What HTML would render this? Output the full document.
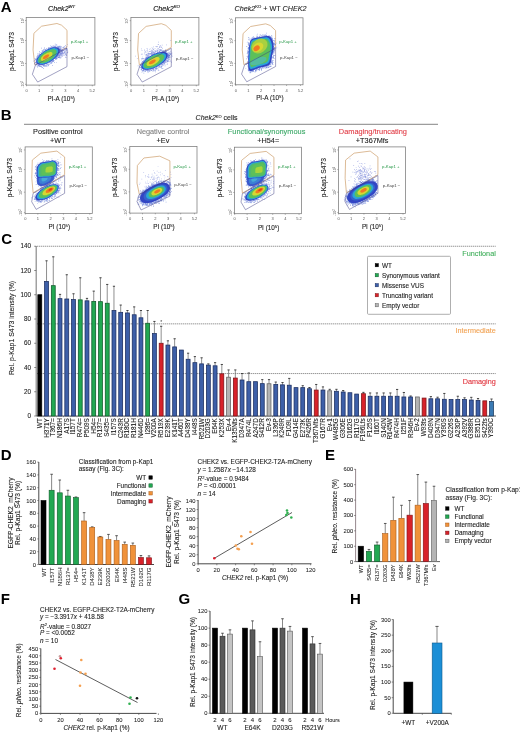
<!DOCTYPE html><html><head><meta charset="utf-8"><style>html,body{margin:0;padding:0;background:#fff}body{width:520px;height:733px;overflow:hidden}svg{display:block;filter:blur(0.25px)}text{font-family:"Liberation Sans",sans-serif}</style></head><body><svg width="520" height="733" viewBox="0 0 520 733"><defs><filter id="bl" x="-20%" y="-20%" width="140%" height="140%"><feGaussianBlur stdDeviation="0.35"/></filter><filter id="bl2" x="-30%" y="-30%" width="160%" height="160%"><feGaussianBlur stdDeviation="0.55"/></filter></defs><line x1="38.8" y1="462" x2="38.8" y2="564.5" stroke="#333" stroke-width="0.9"/><line x1="38.8" y1="564.5" x2="154" y2="564.5" stroke="#333" stroke-width="0.9"/><line x1="37.3" y1="564.5" x2="38.8" y2="564.5" stroke="#444" stroke-width="0.6"/><text x="36" y="566.5" font-size="5.8" text-anchor="end" fill="#222" stroke="#222" stroke-width="0.06">0</text><line x1="37.3" y1="551.7" x2="38.8" y2="551.7" stroke="#444" stroke-width="0.6"/><text x="36" y="553.7" font-size="5.8" text-anchor="end" fill="#222" stroke="#222" stroke-width="0.06">20</text><line x1="37.3" y1="538.9" x2="38.8" y2="538.9" stroke="#444" stroke-width="0.6"/><text x="36" y="540.9" font-size="5.8" text-anchor="end" fill="#222" stroke="#222" stroke-width="0.06">40</text><line x1="37.3" y1="526.1" x2="38.8" y2="526.1" stroke="#444" stroke-width="0.6"/><text x="36" y="528.1" font-size="5.8" text-anchor="end" fill="#222" stroke="#222" stroke-width="0.06">60</text><line x1="37.3" y1="513.3" x2="38.8" y2="513.3" stroke="#444" stroke-width="0.6"/><text x="36" y="515.3" font-size="5.8" text-anchor="end" fill="#222" stroke="#222" stroke-width="0.06">80</text><line x1="37.3" y1="500.5" x2="38.8" y2="500.5" stroke="#444" stroke-width="0.6"/><text x="36" y="502.5" font-size="5.8" text-anchor="end" fill="#222" stroke="#222" stroke-width="0.06">100</text><line x1="37.3" y1="487.7" x2="38.8" y2="487.7" stroke="#444" stroke-width="0.6"/><text x="36" y="489.7" font-size="5.8" text-anchor="end" fill="#222" stroke="#222" stroke-width="0.06">120</text><line x1="37.3" y1="474.9" x2="38.8" y2="474.9" stroke="#444" stroke-width="0.6"/><text x="36" y="476.9" font-size="5.8" text-anchor="end" fill="#222" stroke="#222" stroke-width="0.06">140</text><line x1="37.3" y1="462.1" x2="38.8" y2="462.1" stroke="#444" stroke-width="0.6"/><text x="36" y="464.1" font-size="5.8" text-anchor="end" fill="#222" stroke="#222" stroke-width="0.06">160</text><text x="13.3" y="513" font-size="6.6" text-anchor="middle" fill="#222" stroke="#222" stroke-width="0.1" transform="rotate(-90 13.3 513)">EGFP-CHEK2_mCherry</text><text x="20.4" y="513" font-size="6.6" text-anchor="middle" fill="#222" stroke="#222" stroke-width="0.1" transform="rotate(-90 20.4 513)">Rel. p-Kap1 S473 (%)</text><rect x="41" y="500.5" width="5" height="64" fill="#000" stroke="#000" stroke-width="0.6"/><text x="45.5" y="567.5" font-size="6" text-anchor="end" fill="#333" stroke="#333" stroke-width="0.08" transform="rotate(-90 45.5 567.5)">WT</text><line x1="51.62" y1="474.26" x2="51.62" y2="490.26" stroke="#555" stroke-width="0.7"/><line x1="50.32" y1="474.26" x2="52.92" y2="474.26" stroke="#333" stroke-width="0.8"/><rect x="49.12" y="490.26" width="5" height="74.24" fill="#22a852" stroke="#0e5828" stroke-width="0.6"/><text x="53.62" y="567.5" font-size="6" text-anchor="end" fill="#333" stroke="#333" stroke-width="0.08" transform="rotate(-90 53.62 567.5)">I157T</text><line x1="59.74" y1="480.02" x2="59.74" y2="492.82" stroke="#555" stroke-width="0.7"/><line x1="58.44" y1="480.02" x2="61.04" y2="480.02" stroke="#333" stroke-width="0.8"/><rect x="57.24" y="492.82" width="5" height="71.68" fill="#22a852" stroke="#0e5828" stroke-width="0.6"/><text x="61.74" y="567.5" font-size="6" text-anchor="end" fill="#333" stroke="#333" stroke-width="0.08" transform="rotate(-90 61.74 567.5)">N186H</text><line x1="67.86" y1="490.26" x2="67.86" y2="496.02" stroke="#555" stroke-width="0.7"/><line x1="66.56" y1="490.26" x2="69.16" y2="490.26" stroke="#333" stroke-width="0.8"/><rect x="65.36" y="496.02" width="5" height="68.48" fill="#22a852" stroke="#0e5828" stroke-width="0.6"/><text x="69.86" y="567.5" font-size="6" text-anchor="end" fill="#333" stroke="#333" stroke-width="0.08" transform="rotate(-90 69.86 567.5)">R137=</text><line x1="75.98" y1="496.98" x2="75.98" y2="497.62" stroke="#555" stroke-width="0.7"/><line x1="74.68" y1="496.98" x2="77.28" y2="496.98" stroke="#333" stroke-width="0.8"/><rect x="73.48" y="497.62" width="5" height="66.88" fill="#22a852" stroke="#0e5828" stroke-width="0.6"/><text x="77.98" y="567.5" font-size="6" text-anchor="end" fill="#333" stroke="#333" stroke-width="0.08" transform="rotate(-90 77.98 567.5)">H54=</text><line x1="84.1" y1="512.66" x2="84.1" y2="520.98" stroke="#555" stroke-width="0.7"/><line x1="82.8" y1="512.66" x2="85.4" y2="512.66" stroke="#333" stroke-width="0.8"/><rect x="81.6" y="520.98" width="5" height="43.52" fill="#f0923a" stroke="#a85a18" stroke-width="0.6"/><text x="86.1" y="567.5" font-size="6" text-anchor="end" fill="#333" stroke="#333" stroke-width="0.08" transform="rotate(-90 86.1 567.5)">K141T</text><line x1="92.22" y1="526.87" x2="92.22" y2="527.38" stroke="#555" stroke-width="0.7"/><line x1="90.92" y1="526.87" x2="93.52" y2="526.87" stroke="#333" stroke-width="0.8"/><rect x="89.72" y="527.38" width="5" height="37.12" fill="#f0923a" stroke="#a85a18" stroke-width="0.6"/><text x="94.22" y="567.5" font-size="6" text-anchor="end" fill="#333" stroke="#333" stroke-width="0.08" transform="rotate(-90 94.22 567.5)">D438Y</text><line x1="100.34" y1="536.47" x2="100.34" y2="536.98" stroke="#555" stroke-width="0.7"/><line x1="99.04" y1="536.47" x2="101.64" y2="536.47" stroke="#333" stroke-width="0.8"/><rect x="97.84" y="536.98" width="5" height="27.52" fill="#f0923a" stroke="#a85a18" stroke-width="0.6"/><text x="102.34" y="567.5" font-size="6" text-anchor="end" fill="#333" stroke="#333" stroke-width="0.08" transform="rotate(-90 102.34 567.5)">E239K</text><line x1="108.46" y1="534.42" x2="108.46" y2="539.54" stroke="#555" stroke-width="0.7"/><line x1="107.16" y1="534.42" x2="109.76" y2="534.42" stroke="#333" stroke-width="0.8"/><rect x="105.96" y="539.54" width="5" height="24.96" fill="#f0923a" stroke="#a85a18" stroke-width="0.6"/><text x="110.46" y="567.5" font-size="6" text-anchor="end" fill="#333" stroke="#333" stroke-width="0.08" transform="rotate(-90 110.46 567.5)">D203G</text><line x1="116.58" y1="535.7" x2="116.58" y2="540.5" stroke="#555" stroke-width="0.7"/><line x1="115.28" y1="535.7" x2="117.88" y2="535.7" stroke="#333" stroke-width="0.8"/><rect x="114.08" y="540.5" width="5" height="24" fill="#f0923a" stroke="#a85a18" stroke-width="0.6"/><text x="118.58" y="567.5" font-size="6" text-anchor="end" fill="#333" stroke="#333" stroke-width="0.08" transform="rotate(-90 118.58 567.5)">E64K</text><line x1="124.7" y1="542.1" x2="124.7" y2="544.34" stroke="#555" stroke-width="0.7"/><line x1="123.4" y1="542.1" x2="126" y2="542.1" stroke="#333" stroke-width="0.8"/><rect x="122.2" y="544.34" width="5" height="20.16" fill="#f0923a" stroke="#a85a18" stroke-width="0.6"/><text x="126.7" y="567.5" font-size="6" text-anchor="end" fill="#333" stroke="#333" stroke-width="0.08" transform="rotate(-90 126.7 567.5)">I448S</text><line x1="132.82" y1="543.06" x2="132.82" y2="545.3" stroke="#555" stroke-width="0.7"/><line x1="131.52" y1="543.06" x2="134.12" y2="543.06" stroke="#333" stroke-width="0.8"/><rect x="130.32" y="545.3" width="5" height="19.2" fill="#f0923a" stroke="#a85a18" stroke-width="0.6"/><text x="134.82" y="567.5" font-size="6" text-anchor="end" fill="#333" stroke="#333" stroke-width="0.08" transform="rotate(-90 134.82 567.5)">R521W</text><line x1="140.94" y1="555.54" x2="140.94" y2="557.46" stroke="#555" stroke-width="0.7"/><line x1="139.64" y1="555.54" x2="142.24" y2="555.54" stroke="#333" stroke-width="0.8"/><rect x="138.44" y="557.46" width="5" height="7.04" fill="#d8222a" stroke="#7a1216" stroke-width="0.6"/><text x="142.94" y="567.5" font-size="6" text-anchor="end" fill="#333" stroke="#333" stroke-width="0.08" transform="rotate(-90 142.94 567.5)">D162G</text><line x1="149.06" y1="555.86" x2="149.06" y2="557.78" stroke="#555" stroke-width="0.7"/><line x1="147.76" y1="555.86" x2="150.36" y2="555.86" stroke="#333" stroke-width="0.8"/><rect x="146.56" y="557.78" width="5" height="6.72" fill="#d8222a" stroke="#7a1216" stroke-width="0.6"/><text x="151.06" y="567.5" font-size="6" text-anchor="end" fill="#333" stroke="#333" stroke-width="0.08" transform="rotate(-90 151.06 567.5)">R117G</text><text x="78.8" y="463.6" font-size="6.4" fill="#222" stroke="#222" stroke-width="0.1">Classification from p-Kap1</text><text x="78.8" y="471.2" font-size="6.4" fill="#222" stroke="#222" stroke-width="0.1">assay (Fig. 3C):</text><text x="146.2" y="479.7" font-size="6.4" text-anchor="end" fill="#222" stroke="#222" stroke-width="0.1">WT</text><rect x="148.9" y="475.8" width="3.4" height="3.4" fill="#000" stroke="#000" stroke-width="0.5"/><text x="146.2" y="487.7" font-size="6.4" text-anchor="end" fill="#222" stroke="#222" stroke-width="0.1">Functional</text><rect x="148.9" y="483.8" width="3.4" height="3.4" fill="#22a852" stroke="#0e5828" stroke-width="0.5"/><text x="146.2" y="495.5" font-size="6.4" text-anchor="end" fill="#222" stroke="#222" stroke-width="0.1">Intermediate</text><rect x="148.9" y="491.6" width="3.4" height="3.4" fill="#f0923a" stroke="#a85a18" stroke-width="0.5"/><text x="146.2" y="503.5" font-size="6.4" text-anchor="end" fill="#222" stroke="#222" stroke-width="0.1">Damaging</text><rect x="148.9" y="499.6" width="3.4" height="3.4" fill="#d8222a" stroke="#7a1216" stroke-width="0.5"/><line x1="198.1" y1="500" x2="198.1" y2="563.8" stroke="#333" stroke-width="0.9"/><line x1="198.1" y1="563.8" x2="311.5" y2="563.8" stroke="#333" stroke-width="0.9"/><line x1="196.6" y1="563.8" x2="198.1" y2="563.8" stroke="#444" stroke-width="0.6"/><text x="195.4" y="565.8" font-size="5.8" text-anchor="end" fill="#222" stroke="#222" stroke-width="0.06">0</text><line x1="196.6" y1="554.76" x2="198.1" y2="554.76" stroke="#444" stroke-width="0.6"/><text x="195.4" y="556.76" font-size="5.8" text-anchor="end" fill="#222" stroke="#222" stroke-width="0.06">20</text><line x1="196.6" y1="545.71" x2="198.1" y2="545.71" stroke="#444" stroke-width="0.6"/><text x="195.4" y="547.71" font-size="5.8" text-anchor="end" fill="#222" stroke="#222" stroke-width="0.06">40</text><line x1="196.6" y1="536.67" x2="198.1" y2="536.67" stroke="#444" stroke-width="0.6"/><text x="195.4" y="538.67" font-size="5.8" text-anchor="end" fill="#222" stroke="#222" stroke-width="0.06">60</text><line x1="196.6" y1="527.63" x2="198.1" y2="527.63" stroke="#444" stroke-width="0.6"/><text x="195.4" y="529.63" font-size="5.8" text-anchor="end" fill="#222" stroke="#222" stroke-width="0.06">80</text><line x1="196.6" y1="518.59" x2="198.1" y2="518.59" stroke="#444" stroke-width="0.6"/><text x="195.4" y="520.59" font-size="5.8" text-anchor="end" fill="#222" stroke="#222" stroke-width="0.06">100</text><line x1="196.6" y1="509.54" x2="198.1" y2="509.54" stroke="#444" stroke-width="0.6"/><text x="195.4" y="511.54" font-size="5.8" text-anchor="end" fill="#222" stroke="#222" stroke-width="0.06">120</text><line x1="196.6" y1="500.5" x2="198.1" y2="500.5" stroke="#444" stroke-width="0.6"/><text x="195.4" y="502.5" font-size="5.8" text-anchor="end" fill="#222" stroke="#222" stroke-width="0.06">140</text><line x1="198.1" y1="563.8" x2="198.1" y2="565.3" stroke="#444" stroke-width="0.6"/><text x="198.1" y="571.8" font-size="5.8" text-anchor="middle" fill="#222" stroke="#222" stroke-width="0.06">0</text><line x1="216.85" y1="563.8" x2="216.85" y2="565.3" stroke="#444" stroke-width="0.6"/><text x="216.85" y="571.8" font-size="5.8" text-anchor="middle" fill="#222" stroke="#222" stroke-width="0.06">20</text><line x1="235.6" y1="563.8" x2="235.6" y2="565.3" stroke="#444" stroke-width="0.6"/><text x="235.6" y="571.8" font-size="5.8" text-anchor="middle" fill="#222" stroke="#222" stroke-width="0.06">40</text><line x1="254.35" y1="563.8" x2="254.35" y2="565.3" stroke="#444" stroke-width="0.6"/><text x="254.35" y="571.8" font-size="5.8" text-anchor="middle" fill="#222" stroke="#222" stroke-width="0.06">60</text><line x1="273.1" y1="563.8" x2="273.1" y2="565.3" stroke="#444" stroke-width="0.6"/><text x="273.1" y="571.8" font-size="5.8" text-anchor="middle" fill="#222" stroke="#222" stroke-width="0.06">80</text><line x1="291.85" y1="563.8" x2="291.85" y2="565.3" stroke="#444" stroke-width="0.6"/><text x="291.85" y="571.8" font-size="5.8" text-anchor="middle" fill="#222" stroke="#222" stroke-width="0.06">100</text><line x1="310.6" y1="563.8" x2="310.6" y2="565.3" stroke="#444" stroke-width="0.6"/><text x="310.6" y="571.8" font-size="5.8" text-anchor="middle" fill="#222" stroke="#222" stroke-width="0.06">120</text><text x="171.3" y="532" font-size="6.6" text-anchor="middle" fill="#222" stroke="#222" stroke-width="0.1" transform="rotate(-90 171.3 532)">EGFP-CHEK2_mCherry</text><text x="178.7" y="532" font-size="6.6" text-anchor="middle" fill="#222" stroke="#222" stroke-width="0.1" transform="rotate(-90 178.7 532)">Rel. p-Kap1 S473 (%)</text><text x="255" y="580.3" font-size="6.4" text-anchor="middle" fill="#222" stroke="#222" stroke-width="0.1"><tspan font-style="italic">CHEK2</tspan> rel. p-Kap1 (%)</text><text x="197.6" y="464.3" font-size="6.4" fill="#222" stroke="#222" stroke-width="0.1">CHEK2 vs. EGFP-CHEK2-T2A-mCherry</text><text x="197.6" y="472.2" font-size="6.4" fill="#222" stroke="#222" stroke-width="0.1"><tspan font-style="italic">y</tspan> = 1.2587<tspan font-style="italic">x</tspan> −14.128</text><text x="197.6" y="481" font-size="6.4" fill="#222" stroke="#222" stroke-width="0.1"><tspan font-style="italic">R</tspan><tspan font-size="4" dy="-2.2">2</tspan><tspan dy="2.2">-value = 0.9484</tspan></text><text x="197.6" y="488" font-size="6.4" fill="#222" stroke="#222" stroke-width="0.1"><tspan font-style="italic">P</tspan> = &lt;0.00001</text><text x="197.6" y="495.5" font-size="6.4" fill="#222" stroke="#222" stroke-width="0.1"><tspan font-style="italic">n</tspan> = 14</text><line x1="214.3" y1="558.3" x2="292" y2="512.5" stroke="#333" stroke-width="0.8"/><circle cx="214.3" cy="558.3" r="1.3" fill="#e02030"/><circle cx="235.8" cy="545.5" r="1.3" fill="#f5a050"/><circle cx="237.5" cy="548.8" r="1.3" fill="#f5a050"/><circle cx="238.8" cy="549.3" r="1.3" fill="#f5a050"/><circle cx="241.3" cy="536.3" r="1.3" fill="#f5a050"/><circle cx="250.5" cy="532" r="1.3" fill="#f5a050"/><circle cx="252" cy="543.8" r="1.3" fill="#f5a050"/><circle cx="287" cy="510.5" r="1.3" fill="#30b050"/><circle cx="287.5" cy="513" r="1.3" fill="#30b050"/><circle cx="286.3" cy="515" r="1.3" fill="#30b050"/><circle cx="291.3" cy="517.5" r="1.3" fill="#30b050"/><line x1="355.6" y1="469" x2="355.6" y2="561.6" stroke="#8a7a80" stroke-width="0.9"/><line x1="355.6" y1="561.6" x2="440" y2="561.6" stroke="#333" stroke-width="0.8"/><line x1="354.1" y1="561.6" x2="355.6" y2="561.6" stroke="#444" stroke-width="0.6"/><text x="353.2" y="563.6" font-size="5.8" text-anchor="end" fill="#222" stroke="#222" stroke-width="0.06">0</text><line x1="354.1" y1="546.22" x2="355.6" y2="546.22" stroke="#444" stroke-width="0.6"/><text x="353.2" y="548.22" font-size="5.8" text-anchor="end" fill="#222" stroke="#222" stroke-width="0.06">100</text><line x1="354.1" y1="530.84" x2="355.6" y2="530.84" stroke="#444" stroke-width="0.6"/><text x="353.2" y="532.84" font-size="5.8" text-anchor="end" fill="#222" stroke="#222" stroke-width="0.06">200</text><line x1="354.1" y1="515.46" x2="355.6" y2="515.46" stroke="#444" stroke-width="0.6"/><text x="353.2" y="517.46" font-size="5.8" text-anchor="end" fill="#222" stroke="#222" stroke-width="0.06">300</text><line x1="354.1" y1="500.08" x2="355.6" y2="500.08" stroke="#444" stroke-width="0.6"/><text x="353.2" y="502.08" font-size="5.8" text-anchor="end" fill="#222" stroke="#222" stroke-width="0.06">400</text><line x1="354.1" y1="484.7" x2="355.6" y2="484.7" stroke="#444" stroke-width="0.6"/><text x="353.2" y="486.7" font-size="5.8" text-anchor="end" fill="#222" stroke="#222" stroke-width="0.06">500</text><line x1="354.1" y1="469.32" x2="355.6" y2="469.32" stroke="#444" stroke-width="0.6"/><text x="353.2" y="471.32" font-size="5.8" text-anchor="end" fill="#222" stroke="#222" stroke-width="0.06">600</text><text x="337" y="516.2" font-size="6.5" text-anchor="middle" fill="#222" stroke="#222" stroke-width="0.1" transform="rotate(-90 337 516.2)">Rel. <tspan font-style="italic">phleo.</tspan> resistance (%)</text><rect x="358.2" y="546.22" width="5.3" height="15.38" fill="#000" stroke="#000" stroke-width="0.6"/><text x="362.65" y="564.6" font-size="5.5" text-anchor="end" fill="#222" stroke="#222" stroke-width="0.04" transform="rotate(-90 362.65 564.6)">WT</text><line x1="368.98" y1="549.45" x2="368.98" y2="551.3" stroke="#555" stroke-width="0.7"/><line x1="367.68" y1="549.45" x2="370.28" y2="549.45" stroke="#333" stroke-width="0.8"/><rect x="366.33" y="551.3" width="5.3" height="10.3" fill="#22a852" stroke="#0e5828" stroke-width="0.6"/><text x="370.78" y="564.6" font-size="5.5" text-anchor="end" fill="#222" stroke="#222" stroke-width="0.04" transform="rotate(-90 370.78 564.6)">S435=</text><line x1="377.11" y1="542.07" x2="377.11" y2="544.99" stroke="#555" stroke-width="0.7"/><line x1="375.81" y1="542.07" x2="378.41" y2="542.07" stroke="#333" stroke-width="0.8"/><rect x="374.46" y="544.99" width="5.3" height="16.61" fill="#22a852" stroke="#0e5828" stroke-width="0.6"/><text x="378.91" y="564.6" font-size="5.5" text-anchor="end" fill="#222" stroke="#222" stroke-width="0.04" transform="rotate(-90 378.91 564.6)">R137=</text><line x1="385.24" y1="523.46" x2="385.24" y2="533.61" stroke="#555" stroke-width="0.7"/><line x1="383.94" y1="523.46" x2="386.54" y2="523.46" stroke="#333" stroke-width="0.8"/><rect x="382.59" y="533.61" width="5.3" height="27.99" fill="#f0923a" stroke="#a85a18" stroke-width="0.6"/><text x="387.04" y="564.6" font-size="5.5" text-anchor="end" fill="#222" stroke="#222" stroke-width="0.04" transform="rotate(-90 387.04 564.6)">D203G</text><line x1="393.37" y1="497.16" x2="393.37" y2="520.38" stroke="#555" stroke-width="0.7"/><line x1="392.07" y1="497.16" x2="394.67" y2="497.16" stroke="#333" stroke-width="0.8"/><rect x="390.72" y="520.38" width="5.3" height="41.22" fill="#f0923a" stroke="#a85a18" stroke-width="0.6"/><text x="395.17" y="564.6" font-size="5.5" text-anchor="end" fill="#222" stroke="#222" stroke-width="0.04" transform="rotate(-90 395.17 564.6)">D438Y</text><line x1="401.5" y1="505.31" x2="401.5" y2="518.38" stroke="#555" stroke-width="0.7"/><line x1="400.2" y1="505.31" x2="402.8" y2="505.31" stroke="#333" stroke-width="0.8"/><rect x="398.85" y="518.38" width="5.3" height="43.22" fill="#f0923a" stroke="#a85a18" stroke-width="0.6"/><text x="403.3" y="564.6" font-size="5.5" text-anchor="end" fill="#222" stroke="#222" stroke-width="0.04" transform="rotate(-90 403.3 564.6)">E64K</text><line x1="409.63" y1="500.54" x2="409.63" y2="515.15" stroke="#555" stroke-width="0.7"/><line x1="408.33" y1="500.54" x2="410.93" y2="500.54" stroke="#333" stroke-width="0.8"/><rect x="406.98" y="515.15" width="5.3" height="46.45" fill="#d8222a" stroke="#7a1216" stroke-width="0.6"/><text x="411.43" y="564.6" font-size="5.5" text-anchor="end" fill="#222" stroke="#222" stroke-width="0.04" transform="rotate(-90 411.43 564.6)">W93fs</text><line x1="417.76" y1="474.55" x2="417.76" y2="505.16" stroke="#555" stroke-width="0.7"/><line x1="416.46" y1="474.55" x2="419.06" y2="474.55" stroke="#333" stroke-width="0.8"/><rect x="415.11" y="505.16" width="5.3" height="56.44" fill="#f0923a" stroke="#a85a18" stroke-width="0.6"/><text x="419.56" y="564.6" font-size="5.5" text-anchor="end" fill="#222" stroke="#222" stroke-width="0.04" transform="rotate(-90 419.56 564.6)">R521W</text><line x1="425.89" y1="482.09" x2="425.89" y2="503.46" stroke="#555" stroke-width="0.7"/><line x1="424.59" y1="482.09" x2="427.19" y2="482.09" stroke="#333" stroke-width="0.8"/><rect x="423.24" y="503.46" width="5.3" height="58.14" fill="#d8222a" stroke="#7a1216" stroke-width="0.6"/><text x="427.69" y="564.6" font-size="5.5" text-anchor="end" fill="#222" stroke="#222" stroke-width="0.04" transform="rotate(-90 427.69 564.6)">T367Mfs</text><line x1="434.02" y1="486.24" x2="434.02" y2="500.39" stroke="#555" stroke-width="0.7"/><line x1="432.72" y1="486.24" x2="435.32" y2="486.24" stroke="#333" stroke-width="0.8"/><rect x="431.37" y="500.39" width="5.3" height="61.21" fill="#b4b4b4" stroke="#606060" stroke-width="0.6"/><text x="435.82" y="564.6" font-size="5.5" text-anchor="end" fill="#222" stroke="#222" stroke-width="0.04" transform="rotate(-90 435.82 564.6)">Ev</text><text x="445.5" y="492.2" font-size="6.6" fill="#222" stroke="#222" stroke-width="0.1">Classification from p-Kap1</text><text x="445.5" y="499.7" font-size="6.6" fill="#222" stroke="#222" stroke-width="0.1">assay (Fig. 3C):</text><rect x="445.6" y="506.8" width="3.4" height="3.4" fill="#000" stroke="#000" stroke-width="0.5"/><text x="454.5" y="510.6" font-size="6.35" fill="#222" stroke="#222" stroke-width="0.1">WT</text><rect x="445.6" y="514.9" width="3.4" height="3.4" fill="#22a852" stroke="#0e5828" stroke-width="0.5"/><text x="454.5" y="518.7" font-size="6.35" fill="#222" stroke="#222" stroke-width="0.1">Functional</text><rect x="445.6" y="523" width="3.4" height="3.4" fill="#f0923a" stroke="#a85a18" stroke-width="0.5"/><text x="454.5" y="526.8" font-size="6.35" fill="#222" stroke="#222" stroke-width="0.1">Intermediate</text><rect x="445.6" y="531.1" width="3.4" height="3.4" fill="#d8222a" stroke="#7a1216" stroke-width="0.5"/><text x="454.5" y="534.9" font-size="6.35" fill="#222" stroke="#222" stroke-width="0.1">Damaging</text><rect x="445.6" y="539.2" width="3.4" height="3.4" fill="#b4b4b4" stroke="#606060" stroke-width="0.5"/><text x="454.5" y="543" font-size="6.35" fill="#222" stroke="#222" stroke-width="0.1">Empty vector</text><line x1="40.8" y1="648.5" x2="40.8" y2="713.4" stroke="#333" stroke-width="0.9"/><line x1="40.8" y1="713.4" x2="156.5" y2="713.4" stroke="#333" stroke-width="0.9"/><line x1="39.3" y1="713.4" x2="40.8" y2="713.4" stroke="#444" stroke-width="0.6"/><text x="38.2" y="715.4" font-size="5.8" text-anchor="end" fill="#222" stroke="#222" stroke-width="0.06">0</text><line x1="39.3" y1="706.2" x2="40.8" y2="706.2" stroke="#444" stroke-width="0.6"/><text x="38.2" y="708.2" font-size="5.8" text-anchor="end" fill="#222" stroke="#222" stroke-width="0.06">50</text><line x1="39.3" y1="699" x2="40.8" y2="699" stroke="#444" stroke-width="0.6"/><text x="38.2" y="701" font-size="5.8" text-anchor="end" fill="#222" stroke="#222" stroke-width="0.06">100</text><line x1="39.3" y1="691.8" x2="40.8" y2="691.8" stroke="#444" stroke-width="0.6"/><text x="38.2" y="693.8" font-size="5.8" text-anchor="end" fill="#222" stroke="#222" stroke-width="0.06">150</text><line x1="39.3" y1="684.6" x2="40.8" y2="684.6" stroke="#444" stroke-width="0.6"/><text x="38.2" y="686.6" font-size="5.8" text-anchor="end" fill="#222" stroke="#222" stroke-width="0.06">200</text><line x1="39.3" y1="677.4" x2="40.8" y2="677.4" stroke="#444" stroke-width="0.6"/><text x="38.2" y="679.4" font-size="5.8" text-anchor="end" fill="#222" stroke="#222" stroke-width="0.06">250</text><line x1="39.3" y1="670.2" x2="40.8" y2="670.2" stroke="#444" stroke-width="0.6"/><text x="38.2" y="672.2" font-size="5.8" text-anchor="end" fill="#222" stroke="#222" stroke-width="0.06">300</text><line x1="39.3" y1="663" x2="40.8" y2="663" stroke="#444" stroke-width="0.6"/><text x="38.2" y="665" font-size="5.8" text-anchor="end" fill="#222" stroke="#222" stroke-width="0.06">350</text><line x1="39.3" y1="655.8" x2="40.8" y2="655.8" stroke="#444" stroke-width="0.6"/><text x="38.2" y="657.8" font-size="5.8" text-anchor="end" fill="#222" stroke="#222" stroke-width="0.06">400</text><line x1="39.3" y1="648.6" x2="40.8" y2="648.6" stroke="#444" stroke-width="0.6"/><text x="38.2" y="650.6" font-size="5.8" text-anchor="end" fill="#222" stroke="#222" stroke-width="0.06">450</text><line x1="40.8" y1="713.4" x2="40.8" y2="714.9" stroke="#444" stroke-width="0.6"/><text x="40.8" y="721.5" font-size="5.8" text-anchor="middle" fill="#222" stroke="#222" stroke-width="0.06">0</text><line x1="60.4" y1="713.4" x2="60.4" y2="714.9" stroke="#444" stroke-width="0.6"/><text x="60.4" y="721.5" font-size="5.8" text-anchor="middle" fill="#222" stroke="#222" stroke-width="0.06">20</text><line x1="80" y1="713.4" x2="80" y2="714.9" stroke="#444" stroke-width="0.6"/><text x="80" y="721.5" font-size="5.8" text-anchor="middle" fill="#222" stroke="#222" stroke-width="0.06">40</text><line x1="99.6" y1="713.4" x2="99.6" y2="714.9" stroke="#444" stroke-width="0.6"/><text x="99.6" y="721.5" font-size="5.8" text-anchor="middle" fill="#222" stroke="#222" stroke-width="0.06">60</text><line x1="119.2" y1="713.4" x2="119.2" y2="714.9" stroke="#444" stroke-width="0.6"/><text x="119.2" y="721.5" font-size="5.8" text-anchor="middle" fill="#222" stroke="#222" stroke-width="0.06">80</text><line x1="138.8" y1="713.4" x2="138.8" y2="714.9" stroke="#444" stroke-width="0.6"/><text x="138.8" y="721.5" font-size="5.8" text-anchor="middle" fill="#222" stroke="#222" stroke-width="0.06">100</text><line x1="158.4" y1="713.4" x2="158.4" y2="714.9" stroke="#444" stroke-width="0.6"/><text x="158.4" y="721.5" font-size="5.8" text-anchor="middle" fill="#222" stroke="#222" stroke-width="0.06">120</text><text x="21.2" y="680.3" font-size="6.45" text-anchor="middle" fill="#222" stroke="#222" stroke-width="0.1" transform="rotate(-90 21.2 680.3)">Rel. <tspan font-style="italic">phleo.</tspan> resistance (%)</text><text x="96.5" y="729.6" font-size="6.4" text-anchor="middle" fill="#222" stroke="#222" stroke-width="0.1"><tspan font-style="italic">CHEK2</tspan> rel. p-Kap1 (%)</text><text x="40" y="611.8" font-size="6.4" fill="#222" stroke="#222" stroke-width="0.1">CHEK2 vs. EGFP-CHEK2-T2A-mCherry</text><text x="40" y="618.8" font-size="6.4" fill="#222" stroke="#222" stroke-width="0.1"><tspan font-style="italic">y</tspan> = −3.3917<tspan font-style="italic">x</tspan> + 418.58</text><text x="40" y="628.5" font-size="6.4" fill="#222" stroke="#222" stroke-width="0.1"><tspan font-style="italic">R</tspan><tspan font-size="4" dy="-2.2">2</tspan><tspan dy="2.2">-value = 0.8027</tspan></text><text x="40" y="635.3" font-size="6.4" fill="#222" stroke="#222" stroke-width="0.1"><tspan font-style="italic">P</tspan> = &lt;0.0052</text><text x="40" y="643" font-size="6.4" fill="#222" stroke="#222" stroke-width="0.1"><tspan font-style="italic">n</tspan> = 10</text><line x1="55.5" y1="659.5" x2="137.5" y2="702.5" stroke="#333" stroke-width="0.8"/><circle cx="60" cy="656.3" r="1.3" fill="#c8a0a0"/><circle cx="60.8" cy="658.3" r="1.3" fill="#e02030"/><circle cx="54.5" cy="668.8" r="1.3" fill="#e02030"/><circle cx="81.3" cy="660" r="1.3" fill="#f5a050"/><circle cx="80.5" cy="672.5" r="1.3" fill="#f5a050"/><circle cx="85.5" cy="673.8" r="1.3" fill="#f5a050"/><circle cx="80" cy="685.8" r="1.3" fill="#f5a050"/><circle cx="130.5" cy="697.5" r="1.3" fill="#30b050"/><circle cx="129.5" cy="703.8" r="1.3" fill="#30b050"/><circle cx="137" cy="698.3" r="1.3" fill="#111"/><line x1="210" y1="611" x2="210" y2="713.3" stroke="#333" stroke-width="0.9"/><line x1="210" y1="713.3" x2="324" y2="713.3" stroke="#333" stroke-width="0.9"/><line x1="208.5" y1="713.3" x2="210" y2="713.3" stroke="#444" stroke-width="0.6"/><text x="207.5" y="715.3" font-size="5.8" text-anchor="end" fill="#222" stroke="#222" stroke-width="0.06">0</text><line x1="208.5" y1="696.27" x2="210" y2="696.27" stroke="#444" stroke-width="0.6"/><text x="207.5" y="698.27" font-size="5.8" text-anchor="end" fill="#222" stroke="#222" stroke-width="0.06">20</text><line x1="208.5" y1="679.23" x2="210" y2="679.23" stroke="#444" stroke-width="0.6"/><text x="207.5" y="681.23" font-size="5.8" text-anchor="end" fill="#222" stroke="#222" stroke-width="0.06">40</text><line x1="208.5" y1="662.2" x2="210" y2="662.2" stroke="#444" stroke-width="0.6"/><text x="207.5" y="664.2" font-size="5.8" text-anchor="end" fill="#222" stroke="#222" stroke-width="0.06">60</text><line x1="208.5" y1="645.17" x2="210" y2="645.17" stroke="#444" stroke-width="0.6"/><text x="207.5" y="647.17" font-size="5.8" text-anchor="end" fill="#222" stroke="#222" stroke-width="0.06">80</text><line x1="208.5" y1="628.13" x2="210" y2="628.13" stroke="#444" stroke-width="0.6"/><text x="207.5" y="630.13" font-size="5.8" text-anchor="end" fill="#222" stroke="#222" stroke-width="0.06">100</text><line x1="208.5" y1="611.1" x2="210" y2="611.1" stroke="#444" stroke-width="0.6"/><text x="207.5" y="613.1" font-size="5.8" text-anchor="end" fill="#222" stroke="#222" stroke-width="0.06">120</text><text x="195.3" y="662" font-size="6.6" text-anchor="middle" fill="#222" stroke="#222" stroke-width="0.1" transform="rotate(-90 195.3 662)">Rel. p-Kap1 S473 intensity (%)</text><rect x="212.5" y="628.13" width="5" height="85.17" fill="#000" stroke="#000" stroke-width="0.6"/><text x="215" y="721.6" font-size="6" text-anchor="middle" fill="#222" stroke="#222" stroke-width="0.08">2</text><line x1="222.5" y1="633.24" x2="222.5" y2="636.22" stroke="#555" stroke-width="0.7"/><line x1="221.2" y1="633.24" x2="223.8" y2="633.24" stroke="#333" stroke-width="0.8"/><rect x="220" y="636.22" width="5" height="77.08" fill="#5a5a5a" stroke="#2a2a2a" stroke-width="0.6"/><text x="222.5" y="721.6" font-size="6" text-anchor="middle" fill="#222" stroke="#222" stroke-width="0.08">4</text><line x1="230" y1="629.84" x2="230" y2="634.09" stroke="#555" stroke-width="0.7"/><line x1="228.7" y1="629.84" x2="231.3" y2="629.84" stroke="#333" stroke-width="0.8"/><rect x="227.5" y="634.09" width="5" height="79.2" fill="#c4c4c4" stroke="#555" stroke-width="0.6"/><text x="230" y="721.6" font-size="6" text-anchor="middle" fill="#222" stroke="#222" stroke-width="0.08">6</text><text x="222.5" y="729.8" font-size="6.6" text-anchor="middle" fill="#222" stroke="#222" stroke-width="0.1">WT</text><rect x="242.5" y="628.13" width="5" height="85.17" fill="#000" stroke="#000" stroke-width="0.6"/><text x="245" y="721.6" font-size="6" text-anchor="middle" fill="#222" stroke="#222" stroke-width="0.08">2</text><line x1="252.5" y1="620.89" x2="252.5" y2="629.84" stroke="#555" stroke-width="0.7"/><line x1="251.2" y1="620.89" x2="253.8" y2="620.89" stroke="#333" stroke-width="0.8"/><rect x="250" y="629.84" width="5" height="83.46" fill="#5a5a5a" stroke="#2a2a2a" stroke-width="0.6"/><text x="252.5" y="721.6" font-size="6" text-anchor="middle" fill="#222" stroke="#222" stroke-width="0.08">4</text><line x1="260" y1="641.76" x2="260" y2="656.66" stroke="#555" stroke-width="0.7"/><line x1="258.7" y1="641.76" x2="261.3" y2="641.76" stroke="#333" stroke-width="0.8"/><rect x="257.5" y="656.66" width="5" height="56.64" fill="#c4c4c4" stroke="#555" stroke-width="0.6"/><text x="260" y="721.6" font-size="6" text-anchor="middle" fill="#222" stroke="#222" stroke-width="0.08">6</text><text x="252.5" y="729.8" font-size="6.6" text-anchor="middle" fill="#222" stroke="#222" stroke-width="0.1">E64K</text><rect x="272.5" y="628.13" width="5" height="85.17" fill="#000" stroke="#000" stroke-width="0.6"/><text x="275" y="721.6" font-size="6" text-anchor="middle" fill="#222" stroke="#222" stroke-width="0.08">2</text><line x1="282.5" y1="618.76" x2="282.5" y2="628.13" stroke="#555" stroke-width="0.7"/><line x1="281.2" y1="618.76" x2="283.8" y2="618.76" stroke="#333" stroke-width="0.8"/><rect x="280" y="628.13" width="5" height="85.17" fill="#5a5a5a" stroke="#2a2a2a" stroke-width="0.6"/><text x="282.5" y="721.6" font-size="6" text-anchor="middle" fill="#222" stroke="#222" stroke-width="0.08">4</text><line x1="290" y1="626.43" x2="290" y2="631.11" stroke="#555" stroke-width="0.7"/><line x1="288.7" y1="626.43" x2="291.3" y2="626.43" stroke="#333" stroke-width="0.8"/><rect x="287.5" y="631.11" width="5" height="82.19" fill="#c4c4c4" stroke="#555" stroke-width="0.6"/><text x="290" y="721.6" font-size="6" text-anchor="middle" fill="#222" stroke="#222" stroke-width="0.08">6</text><text x="282.5" y="729.8" font-size="6.6" text-anchor="middle" fill="#222" stroke="#222" stroke-width="0.1">D203G</text><rect x="302.5" y="628.13" width="5" height="85.17" fill="#000" stroke="#000" stroke-width="0.6"/><text x="305" y="721.6" font-size="6" text-anchor="middle" fill="#222" stroke="#222" stroke-width="0.08">2</text><line x1="312.5" y1="636.65" x2="312.5" y2="643.89" stroke="#555" stroke-width="0.7"/><line x1="311.2" y1="636.65" x2="313.8" y2="636.65" stroke="#333" stroke-width="0.8"/><rect x="310" y="643.89" width="5" height="69.41" fill="#5a5a5a" stroke="#2a2a2a" stroke-width="0.6"/><text x="312.5" y="721.6" font-size="6" text-anchor="middle" fill="#222" stroke="#222" stroke-width="0.08">4</text><line x1="320" y1="643.46" x2="320" y2="654.11" stroke="#555" stroke-width="0.7"/><line x1="318.7" y1="643.46" x2="321.3" y2="643.46" stroke="#333" stroke-width="0.8"/><rect x="317.5" y="654.11" width="5" height="59.19" fill="#c4c4c4" stroke="#555" stroke-width="0.6"/><text x="320" y="721.6" font-size="6" text-anchor="middle" fill="#222" stroke="#222" stroke-width="0.08">6</text><text x="312.5" y="729.8" font-size="6.6" text-anchor="middle" fill="#222" stroke="#222" stroke-width="0.1">R521W</text><text x="325.2" y="721.6" font-size="5.5" fill="#222" stroke="#222" stroke-width="0.04">Hours</text><line x1="393.2" y1="619.3" x2="393.2" y2="713.3" stroke="#333" stroke-width="0.9"/><line x1="393.2" y1="713.3" x2="451.5" y2="713.3" stroke="#333" stroke-width="0.9"/><line x1="391.7" y1="713.3" x2="393.2" y2="713.3" stroke="#444" stroke-width="0.6"/><text x="390.7" y="715.3" font-size="5.8" text-anchor="end" fill="#222" stroke="#222" stroke-width="0.06">0</text><line x1="391.7" y1="697.67" x2="393.2" y2="697.67" stroke="#444" stroke-width="0.6"/><text x="390.7" y="699.67" font-size="5.8" text-anchor="end" fill="#222" stroke="#222" stroke-width="0.06">50</text><line x1="391.7" y1="682.05" x2="393.2" y2="682.05" stroke="#444" stroke-width="0.6"/><text x="390.7" y="684.05" font-size="5.8" text-anchor="end" fill="#222" stroke="#222" stroke-width="0.06">100</text><line x1="391.7" y1="666.42" x2="393.2" y2="666.42" stroke="#444" stroke-width="0.6"/><text x="390.7" y="668.42" font-size="5.8" text-anchor="end" fill="#222" stroke="#222" stroke-width="0.06">150</text><line x1="391.7" y1="650.8" x2="393.2" y2="650.8" stroke="#444" stroke-width="0.6"/><text x="390.7" y="652.8" font-size="5.8" text-anchor="end" fill="#222" stroke="#222" stroke-width="0.06">200</text><line x1="391.7" y1="635.17" x2="393.2" y2="635.17" stroke="#444" stroke-width="0.6"/><text x="390.7" y="637.17" font-size="5.8" text-anchor="end" fill="#222" stroke="#222" stroke-width="0.06">250</text><line x1="391.7" y1="619.55" x2="393.2" y2="619.55" stroke="#444" stroke-width="0.6"/><text x="390.7" y="621.55" font-size="5.8" text-anchor="end" fill="#222" stroke="#222" stroke-width="0.06">300</text><line x1="422.3" y1="713.3" x2="422.3" y2="714.8" stroke="#444" stroke-width="0.6"/><line x1="451.3" y1="713.3" x2="451.3" y2="714.8" stroke="#444" stroke-width="0.6"/><text x="374.6" y="665" font-size="6.6" text-anchor="middle" fill="#222" stroke="#222" stroke-width="0.1" transform="rotate(-90 374.6 665)">Rel. p-Kap1 S473 intensity (%)</text><rect x="403.9" y="682.05" width="9" height="31.25" fill="#000" stroke="#000" stroke-width="0.5"/><line x1="437" y1="626.42" x2="437" y2="642.99" stroke="#555" stroke-width="0.7"/><line x1="435.4" y1="626.42" x2="438.6" y2="626.42" stroke="#333" stroke-width="0.8"/><rect x="432.2" y="642.99" width="9.8" height="70.31" fill="#1c8fd6" stroke="#0e5a8c" stroke-width="0.6"/><text x="408.3" y="724.6" font-size="6.4" text-anchor="middle" fill="#222" stroke="#222" stroke-width="0.1">+WT</text><text x="437.3" y="724.6" font-size="6.4" text-anchor="middle" fill="#222" stroke="#222" stroke-width="0.1">+V200A</text><polygon points="34.72,64.79 33.07,49.9 33.89,33.31 41.59,26.2 56.98,23.49 61.58,25.19 67.01,30.26 67.01,47.19" fill="none" stroke="#d0a474" stroke-width="0.75" stroke-linejoin="round"/><g filter="url(#bl)"><path d="M44.3 63.6h.7v.7h-.7zM41.7 53.5h.7v.7h-.7zM36.0 63.9h.7v.7h-.7zM50.9 61.9h.7v.7h-.7zM44.2 54.4h.7v.7h-.7zM55.6 57.8h.7v.7h-.7zM48.3 48.0h.7v.7h-.7zM59.7 52.6h.7v.7h-.7zM38.2 55.3h.7v.7h-.7zM55.4 47.2h.7v.7h-.7zM44.7 66.4h.7v.7h-.7zM60.7 57.4h.7v.7h-.7zM39.8 57.4h.7v.7h-.7zM57.8 46.2h.7v.7h-.7zM41.4 53.3h.7v.7h-.7zM57.3 52.9h.7v.7h-.7zM47.4 48.7h.7v.7h-.7zM35.8 60.2h.7v.7h-.7zM51.0 60.2h.7v.7h-.7zM56.8 54.8h.7v.7h-.7zM54.0 56.9h.7v.7h-.7zM39.6 65.6h.7v.7h-.7zM50.2 61.9h.7v.7h-.7zM55.9 58.6h.7v.7h-.7zM56.1 57.1h.7v.7h-.7zM54.2 46.3h.7v.7h-.7zM38.3 65.1h.7v.7h-.7zM52.4 61.3h.7v.7h-.7zM56.7 55.7h.7v.7h-.7zM52.1 61.2h.7v.7h-.7zM42.5 62.7h.7v.7h-.7zM36.8 59.5h.7v.7h-.7zM42.3 64.3h.7v.7h-.7zM38.3 55.2h.7v.7h-.7zM54.9 43.8h.7v.7h-.7zM40.2 65.9h.7v.7h-.7zM39.3 55.8h.7v.7h-.7zM56.1 61.9h.7v.7h-.7zM51.0 63.0h.7v.7h-.7zM36.3 58.6h.7v.7h-.7zM34.8 62.3h.7v.7h-.7zM57.2 56.1h.7v.7h-.7zM44.6 52.9h.7v.7h-.7zM44.9 50.1h.7v.7h-.7zM54.7 46.4h.7v.7h-.7zM59.2 54.7h.7v.7h-.7zM37.8 64.5h.7v.7h-.7zM42.0 52.8h.7v.7h-.7zM58.8 47.1h.7v.7h-.7zM59.4 50.1h.7v.7h-.7zM38.6 56.6h.7v.7h-.7zM58.1 51.4h.7v.7h-.7zM41.7 53.4h.7v.7h-.7zM35.8 60.9h.7v.7h-.7zM58.9 46.6h.7v.7h-.7zM35.7 61.7h.7v.7h-.7zM56.1 58.0h.7v.7h-.7zM37.1 56.8h.7v.7h-.7zM41.0 55.1h.7v.7h-.7zM61.0 49.6h.7v.7h-.7zM44.1 52.7h.7v.7h-.7zM58.7 45.8h.7v.7h-.7zM47.7 60.6h.7v.7h-.7zM38.6 65.0h.7v.7h-.7zM58.8 54.1h.7v.7h-.7zM44.3 48.4h.7v.7h-.7zM37.1 59.2h.7v.7h-.7zM57.8 46.6h.7v.7h-.7zM37.9 64.7h.7v.7h-.7zM39.5 54.4h.7v.7h-.7zM38.8 57.5h.7v.7h-.7zM56.9 56.9h.7v.7h-.7zM53.5 60.5h.7v.7h-.7zM47.7 64.1h.7v.7h-.7zM37.4 57.9h.7v.7h-.7zM57.9 54.0h.7v.7h-.7zM48.7 61.6h.7v.7h-.7zM41.3 66.2h.7v.7h-.7zM44.8 52.4h.7v.7h-.7zM59.7 52.0h.7v.7h-.7zM38.3 56.4h.7v.7h-.7zM60.7 49.2h.7v.7h-.7zM36.7 58.0h.7v.7h-.7zM57.2 46.8h.7v.7h-.7zM39.1 64.0h.7v.7h-.7zM50.4 48.8h.7v.7h-.7zM59.4 52.5h.7v.7h-.7zM59.0 52.1h.7v.7h-.7zM46.2 48.2h.7v.7h-.7zM47.6 64.5h.7v.7h-.7zM39.9 55.0h.7v.7h-.7zM42.5 65.4h.7v.7h-.7zM53.1 60.4h.7v.7h-.7zM42.8 53.3h.7v.7h-.7zM52.1 65.2h.7v.7h-.7zM56.1 45.4h.7v.7h-.7zM36.7 59.4h.7v.7h-.7zM37.2 56.3h.7v.7h-.7zM57.3 57.9h.7v.7h-.7zM48.3 48.5h.7v.7h-.7zM48.1 48.5h.7v.7h-.7zM37.3 66.7h.7v.7h-.7zM44.6 51.6h.7v.7h-.7zM38.1 58.0h.7v.7h-.7zM51.5 47.7h.7v.7h-.7zM50.5 59.1h.7v.7h-.7zM41.6 64.2h.7v.7h-.7zM52.2 60.4h.7v.7h-.7zM51.1 47.5h.7v.7h-.7zM47.4 50.2h.7v.7h-.7zM49.5 47.8h.7v.7h-.7zM54.2 62.2h.7v.7h-.7zM45.8 65.8h.7v.7h-.7zM52.1 60.9h.7v.7h-.7zM59.5 55.4h.7v.7h-.7zM39.7 57.3h.7v.7h-.7zM37.9 58.6h.7v.7h-.7zM36.2 61.3h.7v.7h-.7zM41.2 64.3h.7v.7h-.7zM59.3 57.0h.7v.7h-.7zM52.0 48.2h.7v.7h-.7zM41.2 63.8h.7v.7h-.7zM47.9 62.2h.7v.7h-.7zM47.4 64.2h.7v.7h-.7zM56.4 44.1h.7v.7h-.7zM37.5 54.4h.7v.7h-.7zM50.8 49.4h.7v.7h-.7zM40.2 55.1h.7v.7h-.7zM46.5 63.6h.7v.7h-.7zM36.1 59.6h.7v.7h-.7zM56.2 58.7h.7v.7h-.7zM43.0 65.0h.7v.7h-.7zM53.0 59.8h.7v.7h-.7zM58.3 45.9h.7v.7h-.7zM39.0 63.2h.7v.7h-.7zM39.2 57.8h.7v.7h-.7zM35.0 58.9h.7v.7h-.7zM36.8 66.3h.7v.7h-.7zM57.2 47.3h.7v.7h-.7zM33.5 60.8h.7v.7h-.7zM59.2 46.7h.7v.7h-.7zM55.4 57.5h.7v.7h-.7zM49.6 48.1h.7v.7h-.7zM60.5 49.1h.7v.7h-.7zM43.6 49.4h.7v.7h-.7zM53.5 47.8h.7v.7h-.7zM41.5 53.9h.7v.7h-.7zM36.0 62.0h.7v.7h-.7zM49.2 62.3h.7v.7h-.7zM45.7 64.7h.7v.7h-.7zM45.0 50.1h.7v.7h-.7zM59.9 50.2h.7v.7h-.7zM38.8 64.8h.7v.7h-.7zM52.4 60.0h.7v.7h-.7zM51.7 60.7h.7v.7h-.7zM51.6 62.5h.7v.7h-.7zM43.3 53.2h.7v.7h-.7zM59.7 52.7h.7v.7h-.7zM49.6 47.1h.7v.7h-.7zM53.0 59.9h.7v.7h-.7zM44.5 64.6h.7v.7h-.7zM59.3 49.2h.7v.7h-.7zM58.5 57.0h.7v.7h-.7zM57.5 46.4h.7v.7h-.7zM39.4 66.0h.7v.7h-.7zM43.5 49.2h.7v.7h-.7zM61.0 51.4h.7v.7h-.7zM59.0 53.5h.7v.7h-.7zM41.7 50.8h.7v.7h-.7zM51.1 47.3h.7v.7h-.7zM59.9 54.2h.7v.7h-.7zM39.3 64.9h.7v.7h-.7zM56.8 57.1h.7v.7h-.7zM52.8 49.7h.7v.7h-.7zM38.0 61.0h.7v.7h-.7zM49.4 64.0h.7v.7h-.7zM38.9 55.5h.7v.7h-.7zM56.9 55.1h.7v.7h-.7zM36.2 62.2h.7v.7h-.7zM38.4 55.5h.7v.7h-.7zM59.1 48.5h.7v.7h-.7zM37.1 62.2h.7v.7h-.7zM41.8 53.5h.7v.7h-.7zM44.2 47.4h.7v.7h-.7zM55.3 55.4h.7v.7h-.7zM46.9 63.5h.7v.7h-.7zM59.7 46.1h.7v.7h-.7zM48.3 63.9h.7v.7h-.7zM44.9 51.6h.7v.7h-.7zM52.9 61.4h.7v.7h-.7zM51.6 61.1h.7v.7h-.7zM57.8 53.4h.7v.7h-.7zM61.5 53.1h.7v.7h-.7zM45.9 50.8h.7v.7h-.7zM46.4 62.9h.7v.7h-.7zM35.7 64.2h.7v.7h-.7zM40.2 66.0h.7v.7h-.7zM55.2 58.3h.7v.7h-.7zM41.5 63.7h.7v.7h-.7zM38.6 63.9h.7v.7h-.7zM38.5 57.6h.7v.7h-.7zM39.4 63.8h.7v.7h-.7zM52.7 60.3h.7v.7h-.7zM41.5 52.6h.7v.7h-.7zM42.0 51.2h.7v.7h-.7zM42.2 50.7h.7v.7h-.7zM50.5 59.1h.7v.7h-.7zM50.8 48.5h.7v.7h-.7zM58.7 48.8h.7v.7h-.7zM38.7 54.0h.7v.7h-.7zM44.5 64.8h.7v.7h-.7zM59.8 49.8h.7v.7h-.7zM35.2 62.1h.7v.7h-.7zM56.0 56.2h.7v.7h-.7zM55.6 47.8h.7v.7h-.7zM50.9 47.3h.7v.7h-.7zM53.2 46.9h.7v.7h-.7zM41.8 50.2h.7v.7h-.7zM37.4 58.5h.7v.7h-.7zM49.7 60.8h.7v.7h-.7zM55.9 58.6h.7v.7h-.7zM37.0 59.8h.7v.7h-.7zM44.6 64.5h.7v.7h-.7zM44.1 65.9h.7v.7h-.7zM56.7 56.8h.7v.7h-.7zM38.3 56.5h.7v.7h-.7zM37.8 55.6h.7v.7h-.7zM43.6 54.8h.7v.7h-.7zM50.8 61.2h.7v.7h-.7zM45.0 49.3h.7v.7h-.7zM43.9 63.8h.7v.7h-.7zM35.7 64.7h.7v.7h-.7zM50.1 61.0h.7v.7h-.7zM38.1 57.4h.7v.7h-.7zM41.4 52.7h.7v.7h-.7zM56.1 47.4h.7v.7h-.7zM45.8 52.1h.7v.7h-.7zM62.1 51.5h.7v.7h-.7zM44.1 48.8h.7v.7h-.7zM58.7 48.6h.7v.7h-.7zM50.4 60.3h.7v.7h-.7zM51.8 60.4h.7v.7h-.7zM36.4 57.6h.7v.7h-.7zM44.9 50.8h.7v.7h-.7zM50.0 47.2h.7v.7h-.7zM45.7 50.3h.7v.7h-.7zM50.2 63.1h.7v.7h-.7zM48.2 65.0h.7v.7h-.7zM34.5 63.1h.7v.7h-.7zM49.9 59.4h.7v.7h-.7zM49.4 61.9h.7v.7h-.7zM39.0 66.1h.7v.7h-.7zM41.3 47.8h.7v.7h-.7zM38.8 55.8h.7v.7h-.7zM51.4 47.4h.7v.7h-.7zM39.6 53.9h.7v.7h-.7zM57.6 55.7h.7v.7h-.7zM55.5 57.0h.7v.7h-.7zM52.7 45.6h.7v.7h-.7zM36.6 56.1h.7v.7h-.7zM49.6 48.9h.7v.7h-.7zM57.6 47.6h.7v.7h-.7zM44.5 51.4h.7v.7h-.7zM44.2 65.6h.7v.7h-.7zM46.6 65.8h.7v.7h-.7zM34.6 60.4h.7v.7h-.7zM38.5 63.2h.7v.7h-.7zM40.9 54.0h.7v.7h-.7zM58.2 47.0h.7v.7h-.7zM57.4 52.7h.7v.7h-.7zM55.5 46.4h.7v.7h-.7zM40.6 54.0h.7v.7h-.7zM49.1 48.8h.7v.7h-.7zM49.3 47.4h.7v.7h-.7zM59.0 56.1h.7v.7h-.7zM61.0 50.0h.7v.7h-.7zM38.1 55.2h.7v.7h-.7zM37.3 55.1h.7v.7h-.7zM59.5 51.5h.7v.7h-.7zM51.3 46.3h.7v.7h-.7zM48.7 63.4h.7v.7h-.7zM52.4 58.8h.7v.7h-.7zM44.2 51.6h.7v.7h-.7zM53.9 58.1h.7v.7h-.7zM51.1 47.2h.7v.7h-.7zM56.0 57.5h.7v.7h-.7zM51.8 59.7h.7v.7h-.7zM60.5 47.9h.7v.7h-.7zM38.4 57.4h.7v.7h-.7zM61.7 47.1h.7v.7h-.7zM39.0 52.9h.7v.7h-.7zM55.0 45.5h.7v.7h-.7zM53.6 60.1h.7v.7h-.7zM36.8 63.9h.7v.7h-.7zM55.0 58.2h.7v.7h-.7zM47.9 47.7h.7v.7h-.7zM43.5 64.7h.7v.7h-.7zM39.3 54.1h.7v.7h-.7zM52.7 60.1h.7v.7h-.7zM38.6 56.6h.7v.7h-.7zM44.5 62.8h.7v.7h-.7zM53.7 45.6h.7v.7h-.7zM44.3 50.5h.7v.7h-.7zM36.8 63.1h.7v.7h-.7zM58.4 55.4h.7v.7h-.7zM55.9 47.1h.7v.7h-.7zM53.8 47.9h.7v.7h-.7zM58.3 46.8h.7v.7h-.7zM57.2 47.2h.7v.7h-.7zM54.9 46.3h.7v.7h-.7zM47.0 63.4h.7v.7h-.7zM57.8 46.6h.7v.7h-.7zM46.0 65.4h.7v.7h-.7zM56.5 58.6h.7v.7h-.7zM58.8 46.4h.7v.7h-.7zM42.9 53.6h.7v.7h-.7zM46.2 50.1h.7v.7h-.7zM36.2 63.0h.7v.7h-.7zM56.6 45.9h.7v.7h-.7zM40.0 54.6h.7v.7h-.7zM48.5 48.8h.7v.7h-.7zM56.1 56.9h.7v.7h-.7zM35.7 58.4h.7v.7h-.7zM55.1 59.4h.7v.7h-.7zM60.3 47.6h.7v.7h-.7zM35.6 64.1h.7v.7h-.7zM45.7 52.4h.7v.7h-.7zM43.7 65.4h.7v.7h-.7zM52.6 47.0h.7v.7h-.7zM45.4 49.3h.7v.7h-.7zM54.0 46.4h.7v.7h-.7zM46.5 62.9h.7v.7h-.7zM34.6 58.2h.7v.7h-.7zM57.9 57.2h.7v.7h-.7zM41.3 52.2h.7v.7h-.7zM37.5 65.2h.7v.7h-.7zM61.7 47.3h.7v.7h-.7zM36.7 57.2h.7v.7h-.7zM42.9 50.6h.7v.7h-.7zM44.6 50.6h.7v.7h-.7zM52.2 59.4h.7v.7h-.7zM57.7 48.4h.7v.7h-.7zM45.9 63.1h.7v.7h-.7zM59.2 51.8h.7v.7h-.7zM54.1 46.6h.7v.7h-.7zM39.9 64.7h.7v.7h-.7zM54.1 57.7h.7v.7h-.7zM55.6 58.5h.7v.7h-.7zM48.0 51.7h.7v.7h-.7zM58.7 49.7h.7v.7h-.7zM52.2 47.3h.7v.7h-.7zM51.6 45.9h.7v.7h-.7zM39.7 58.5h.7v.7h-.7zM59.7 48.9h.7v.7h-.7zM43.2 51.3h.7v.7h-.7zM34.2 60.4h.7v.7h-.7zM50.7 49.3h.7v.7h-.7zM45.8 50.9h.7v.7h-.7zM53.6 46.2h.7v.7h-.7zM59.1 51.9h.7v.7h-.7zM42.1 52.5h.7v.7h-.7zM45.0 65.6h.7v.7h-.7zM38.1 65.4h.7v.7h-.7zM60.2 48.4h.7v.7h-.7zM56.4 48.2h.7v.7h-.7zM43.4 54.1h.7v.7h-.7zM37.6 55.3h.7v.7h-.7zM56.9 45.7h.7v.7h-.7zM50.5 61.5h.7v.7h-.7zM39.1 51.0h.7v.7h-.7zM57.0 54.5h.7v.7h-.7zM47.7 63.8h.7v.7h-.7zM42.4 53.3h.7v.7h-.7zM39.5 53.8h.7v.7h-.7zM56.1 58.6h.7v.7h-.7zM35.9 61.4h.7v.7h-.7zM43.2 64.8h.7v.7h-.7zM37.6 53.3h.7v.7h-.7zM54.5 46.6h.7v.7h-.7zM55.7 57.1h.7v.7h-.7zM53.1 59.0h.7v.7h-.7zM35.7 59.0h.7v.7h-.7zM39.7 52.0h.7v.7h-.7zM51.2 62.1h.7v.7h-.7zM38.6 65.4h.7v.7h-.7zM52.4 59.1h.7v.7h-.7zM40.8 55.3h.7v.7h-.7zM43.9 48.7h.7v.7h-.7zM43.4 64.0h.7v.7h-.7zM53.6 45.9h.7v.7h-.7zM40.2 64.2h.7v.7h-.7zM46.1 48.9h.7v.7h-.7zM55.0 49.6h.7v.7h-.7zM51.4 48.4h.7v.7h-.7zM37.9 65.0h.7v.7h-.7zM38.0 59.2h.7v.7h-.7zM52.5 46.4h.7v.7h-.7zM47.7 65.5h.7v.7h-.7zM41.2 53.5h.7v.7h-.7zM37.1 59.2h.7v.7h-.7zM54.9 46.7h.7v.7h-.7zM52.6 61.3h.7v.7h-.7zM49.6 61.7h.7v.7h-.7zM50.8 48.5h.7v.7h-.7zM36.3 63.1h.7v.7h-.7zM38.8 56.3h.7v.7h-.7zM38.4 64.2h.7v.7h-.7zM48.7 49.2h.7v.7h-.7zM42.2 52.9h.7v.7h-.7zM42.9 49.8h.7v.7h-.7zM58.9 53.7h.7v.7h-.7zM42.4 64.6h.7v.7h-.7zM36.5 58.9h.7v.7h-.7zM49.3 60.8h.7v.7h-.7zM54.4 58.1h.7v.7h-.7zM39.9 56.9h.7v.7h-.7zM58.8 46.9h.7v.7h-.7zM58.7 53.5h.7v.7h-.7zM34.6 63.9h.7v.7h-.7zM51.2 62.1h.7v.7h-.7zM40.3 54.5h.7v.7h-.7zM60.0 48.9h.7v.7h-.7zM49.6 62.1h.7v.7h-.7zM56.2 56.3h.7v.7h-.7zM56.5 55.4h.7v.7h-.7zM56.3 58.4h.7v.7h-.7zM59.7 45.7h.7v.7h-.7zM61.5 50.1h.7v.7h-.7zM42.3 66.9h.7v.7h-.7zM43.5 65.6h.7v.7h-.7zM37.7 57.3h.7v.7h-.7zM60.6 48.4h.7v.7h-.7zM37.7 62.1h.7v.7h-.7zM36.1 60.4h.7v.7h-.7zM58.5 51.8h.7v.7h-.7zM38.7 55.3h.7v.7h-.7zM58.0 56.7h.7v.7h-.7zM46.8 51.8h.7v.7h-.7zM37.5 57.7h.7v.7h-.7zM38.4 57.6h.7v.7h-.7zM47.5 63.6h.7v.7h-.7zM48.1 47.2h.7v.7h-.7zM50.4 45.6h.7v.7h-.7zM59.6 50.9h.7v.7h-.7zM38.1 66.4h.7v.7h-.7zM42.3 67.2h.7v.7h-.7zM51.9 61.6h.7v.7h-.7zM34.4 62.8h.7v.7h-.7zM41.5 65.5h.7v.7h-.7zM55.3 58.2h.7v.7h-.7zM53.1 61.1h.7v.7h-.7zM52.4 47.4h.7v.7h-.7zM43.5 51.7h.7v.7h-.7zM54.1 47.5h.7v.7h-.7zM42.9 53.9h.7v.7h-.7zM35.7 62.4h.7v.7h-.7zM41.3 65.6h.7v.7h-.7zM34.9 59.2h.7v.7h-.7zM57.4 47.2h.7v.7h-.7zM43.0 65.7h.7v.7h-.7zM44.4 64.9h.7v.7h-.7zM40.5 54.7h.7v.7h-.7zM43.1 68.2h.7v.7h-.7zM39.8 65.0h.7v.7h-.7zM34.1 63.1h.7v.7h-.7zM37.6 64.8h.7v.7h-.7zM53.8 59.9h.7v.7h-.7zM41.1 67.4h.7v.7h-.7zM41.3 65.9h.7v.7h-.7zM46.9 62.3h.7v.7h-.7zM35.7 64.6h.7v.7h-.7zM38.6 62.4h.7v.7h-.7zM40.3 66.3h.7v.7h-.7zM59.4 48.5h.7v.7h-.7zM45.9 63.8h.7v.7h-.7zM53.7 47.9h.7v.7h-.7zM39.7 55.5h.7v.7h-.7zM38.1 56.9h.7v.7h-.7zM55.4 58.9h.7v.7h-.7zM46.1 50.6h.7v.7h-.7z" fill="#3050cc" opacity="0.6"/><path d="M60.06 49.24h0.7v0.7h-0.7zM63.47 52.97h0.7v0.7h-0.7zM58.06 51.1h0.7v0.7h-0.7zM58.1 53.3h0.7v0.7h-0.7zM52.09 50.38h0.7v0.7h-0.7zM56.88 54.23h0.7v0.7h-0.7zM61.72 52.31h0.7v0.7h-0.7zM59.65 57.69h0.7v0.7h-0.7zM62.26 49.04h0.7v0.7h-0.7zM52.56 49.48h0.7v0.7h-0.7zM52.1 54.22h0.7v0.7h-0.7zM62.39 54.14h0.7v0.7h-0.7zM60.46 49.77h0.7v0.7h-0.7zM60.01 57.41h0.7v0.7h-0.7zM54.8 53.8h0.7v0.7h-0.7zM62.05 53.14h0.7v0.7h-0.7zM60.3 53.27h0.7v0.7h-0.7zM64.54 50.26h0.7v0.7h-0.7zM59.6 51.47h0.7v0.7h-0.7zM57.62 51.94h0.7v0.7h-0.7zM60.49 52.38h0.7v0.7h-0.7zM60.22 53.59h0.7v0.7h-0.7zM63.19 53.25h0.7v0.7h-0.7zM61.78 52.2h0.7v0.7h-0.7zM59.12 49.86h0.7v0.7h-0.7zM65.81 54.11h0.7v0.7h-0.7zM64.37 51.99h0.7v0.7h-0.7zM62.2 50.01h0.7v0.7h-0.7zM55.09 55.14h0.7v0.7h-0.7zM61.87 49.79h0.7v0.7h-0.7zM58.7 55.95h0.7v0.7h-0.7zM55.81 58.13h0.7v0.7h-0.7zM65.69 57.25h0.7v0.7h-0.7zM58.71 52.18h0.7v0.7h-0.7zM59.66 52.44h0.7v0.7h-0.7zM60.15 49.69h0.7v0.7h-0.7zM65.08 48.26h0.7v0.7h-0.7zM59.94 53.53h0.7v0.7h-0.7zM59.11 50.88h0.7v0.7h-0.7zM62.61 50.14h0.7v0.7h-0.7zM56.61 52.51h0.7v0.7h-0.7zM61.89 56.34h0.7v0.7h-0.7zM57.96 55.26h0.7v0.7h-0.7zM58.21 51.35h0.7v0.7h-0.7zM60.43 52.57h0.7v0.7h-0.7zM66.1 55.34h0.7v0.7h-0.7zM60 55.76h0.7v0.7h-0.7zM65.93 52.67h0.7v0.7h-0.7zM59.22 54.72h0.7v0.7h-0.7zM61.34 52.57h0.7v0.7h-0.7zM60.94 53.57h0.7v0.7h-0.7zM66.63 53.4h0.7v0.7h-0.7zM61.43 54.4h0.7v0.7h-0.7zM66.43 47.47h0.7v0.7h-0.7zM66.22 46.36h0.7v0.7h-0.7zM64.03 52.54h0.7v0.7h-0.7zM67.43 50.72h0.7v0.7h-0.7zM59.07 49.84h0.7v0.7h-0.7zM57.22 54.87h0.7v0.7h-0.7zM60.06 49.8h0.7v0.7h-0.7zM63 48.88h0.7v0.7h-0.7zM59.48 50.71h0.7v0.7h-0.7zM59.75 47.41h0.7v0.7h-0.7zM62.62 51.41h0.7v0.7h-0.7zM63.26 52.67h0.7v0.7h-0.7zM60.93 54.33h0.7v0.7h-0.7zM64.89 51.2h0.7v0.7h-0.7zM59.58 50.62h0.7v0.7h-0.7zM63.38 47.81h0.7v0.7h-0.7zM60.34 49.64h0.7v0.7h-0.7zM56.55 54.58h0.7v0.7h-0.7zM61.43 51.62h0.7v0.7h-0.7zM63.8 46.55h0.7v0.7h-0.7zM61.45 52.35h0.7v0.7h-0.7zM63.93 47.7h0.7v0.7h-0.7zM64.42 51.35h0.7v0.7h-0.7zM65.18 56.74h0.7v0.7h-0.7zM61.19 50.35h0.7v0.7h-0.7zM59.5 49.31h0.7v0.7h-0.7zM60.03 46.45h0.7v0.7h-0.7zM61.48 52.74h0.7v0.7h-0.7zM65.08 49.53h0.7v0.7h-0.7zM66.39 48.3h0.7v0.7h-0.7zM59.62 46.56h0.7v0.7h-0.7zM57.99 50.15h0.7v0.7h-0.7zM57.71 54.03h0.7v0.7h-0.7zM63.15 50.4h0.7v0.7h-0.7zM61.37 50.67h0.7v0.7h-0.7zM58.2 47.37h0.7v0.7h-0.7zM62.07 54.98h0.7v0.7h-0.7zM66.71 49.32h0.7v0.7h-0.7zM58.53 51.7h0.7v0.7h-0.7zM65.13 51.52h0.7v0.7h-0.7zM59.55 53.05h0.7v0.7h-0.7zM61.09 53.07h0.7v0.7h-0.7zM58.92 48.03h0.7v0.7h-0.7zM62.26 53.45h0.7v0.7h-0.7zM57.25 52.34h0.7v0.7h-0.7zM64.54 49.63h0.7v0.7h-0.7zM60.48 57.51h0.7v0.7h-0.7zM65.35 53.37h0.7v0.7h-0.7zM59.09 56.76h0.7v0.7h-0.7zM54.9 51.81h0.7v0.7h-0.7zM65.22 54.26h0.7v0.7h-0.7zM57.53 50.69h0.7v0.7h-0.7zM60.88 46.23h0.7v0.7h-0.7zM64.3 52.33h0.7v0.7h-0.7zM60.2 53.36h0.7v0.7h-0.7zM64.63 51.53h0.7v0.7h-0.7zM64.53 54.95h0.7v0.7h-0.7zM59.82 52.41h0.7v0.7h-0.7zM60.27 54.74h0.7v0.7h-0.7zM60.31 53.15h0.7v0.7h-0.7zM62.06 51.54h0.7v0.7h-0.7zM67.39 52.24h0.7v0.7h-0.7zM66.32 49.75h0.7v0.7h-0.7zM65.5 52.55h0.7v0.7h-0.7zM59.39 52.82h0.7v0.7h-0.7zM60.99 51.54h0.7v0.7h-0.7zM65.86 48.31h0.7v0.7h-0.7zM54 48.63h0.7v0.7h-0.7zM59.36 50.27h0.7v0.7h-0.7zM61.95 52.96h0.7v0.7h-0.7zM62.71 49.12h0.7v0.7h-0.7zM64.61 54.47h0.7v0.7h-0.7zM65.13 45.06h0.7v0.7h-0.7zM65.93 54.74h0.7v0.7h-0.7zM63.53 46.78h0.7v0.7h-0.7zM60.77 53.34h0.7v0.7h-0.7zM62.48 48.97h0.7v0.7h-0.7zM58.86 54.91h0.7v0.7h-0.7zM57.53 56.57h0.7v0.7h-0.7zM61.78 52.26h0.7v0.7h-0.7zM56.12 51.28h0.7v0.7h-0.7zM63.04 46.98h0.7v0.7h-0.7zM56.99 52.83h0.7v0.7h-0.7zM63.8 52.93h0.7v0.7h-0.7zM59.98 51.33h0.7v0.7h-0.7zM60.22 50.24h0.7v0.7h-0.7zM52.59 56.57h0.7v0.7h-0.7zM62.54 51.66h0.7v0.7h-0.7zM59.34 52.78h0.7v0.7h-0.7zM61.4 51.31h0.7v0.7h-0.7zM64.4 45.92h0.7v0.7h-0.7zM61.69 48.48h0.7v0.7h-0.7zM61.36 55.71h0.7v0.7h-0.7zM57.41 52.32h0.7v0.7h-0.7zM59.97 54.56h0.7v0.7h-0.7zM56.69 48.1h0.7v0.7h-0.7zM63.16 50.07h0.7v0.7h-0.7zM61.07 54.62h0.7v0.7h-0.7zM57.95 51.41h0.7v0.7h-0.7zM62.34 52.43h0.7v0.7h-0.7zM60.3 54.7h0.7v0.7h-0.7zM66.97 44.16h0.7v0.7h-0.7zM66.48 49.21h0.7v0.7h-0.7zM61.77 50.48h0.7v0.7h-0.7zM58.25 48.81h0.7v0.7h-0.7zM60.94 55.26h0.7v0.7h-0.7zM65.49 49.46h0.7v0.7h-0.7zM59.05 50.2h0.7v0.7h-0.7zM58.3 57.38h0.7v0.7h-0.7zM64.04 51.14h0.7v0.7h-0.7zM58.97 49.33h0.7v0.7h-0.7zM66.93 52.22h0.7v0.7h-0.7zM58.65 55.02h0.7v0.7h-0.7zM57.84 54.27h0.7v0.7h-0.7zM57.65 51.38h0.7v0.7h-0.7zM63.64 52.13h0.7v0.7h-0.7zM64.67 48.32h0.7v0.7h-0.7zM61.79 52.72h0.7v0.7h-0.7zM58.51 51.88h0.7v0.7h-0.7zM56.66 53.04h0.7v0.7h-0.7zM63.17 54.79h0.7v0.7h-0.7zM65.58 52.67h0.7v0.7h-0.7zM60 51.28h0.7v0.7h-0.7zM60.39 52.42h0.7v0.7h-0.7zM54.88 55.42h0.7v0.7h-0.7zM55.33 51.72h0.7v0.7h-0.7zM61.23 50.14h0.7v0.7h-0.7zM59.94 53.03h0.7v0.7h-0.7zM66.08 49.34h0.7v0.7h-0.7zM61.44 49.96h0.7v0.7h-0.7zM61.47 50.52h0.7v0.7h-0.7zM62.5 54.02h0.7v0.7h-0.7zM66.76 50.46h0.7v0.7h-0.7z" fill="#3044c4" opacity="0.55"/><g filter="url(#bl2)"><path d="M59.24 48.70C59.52 49.14 59.68 49.67 59.70 50.25C59.72 50.84 59.61 51.50 59.37 52.20C59.13 52.89 58.74 53.65 58.26 54.40C57.77 55.15 57.15 55.95 56.45 56.71C55.75 57.47 54.93 58.25 54.07 58.97C53.20 59.69 52.24 60.40 51.27 61.03C50.30 61.66 49.26 62.25 48.25 62.75C47.24 63.25 46.19 63.68 45.21 64.01C44.23 64.34 43.25 64.58 42.36 64.72C41.48 64.86 40.63 64.90 39.90 64.84C39.17 64.78 38.51 64.61 37.99 64.35C37.47 64.10 37.04 63.73 36.76 63.30C36.48 62.86 36.32 62.33 36.30 61.75C36.28 61.16 36.39 60.50 36.63 59.80C36.87 59.11 37.26 58.35 37.74 57.60C38.23 56.85 38.85 56.05 39.55 55.29C40.25 54.53 41.07 53.75 41.93 53.03C42.80 52.31 43.76 51.60 44.73 50.97C45.70 50.34 46.74 49.75 47.75 49.25C48.76 48.75 49.81 48.32 50.79 47.99C51.77 47.66 52.75 47.42 53.64 47.28C54.52 47.14 55.37 47.10 56.10 47.16C56.83 47.22 57.49 47.39 58.01 47.65C58.53 47.90 58.96 48.27 59.24 48.70Z" fill="#3044c4"/><path d="M57.84 49.53C58.10 49.92 58.24 50.40 58.26 50.93C58.28 51.45 58.18 52.05 57.96 52.68C57.74 53.30 57.40 53.98 56.96 54.66C56.52 55.33 55.96 56.05 55.33 56.74C54.71 57.42 53.97 58.13 53.19 58.77C52.41 59.42 51.54 60.06 50.67 60.63C49.80 61.20 48.86 61.73 47.95 62.17C47.04 62.62 46.10 63.01 45.22 63.31C44.34 63.60 43.45 63.82 42.66 63.95C41.86 64.07 41.10 64.11 40.44 64.05C39.79 64.00 39.19 63.85 38.72 63.62C38.25 63.39 37.87 63.06 37.62 62.67C37.36 62.28 37.22 61.80 37.20 61.27C37.18 60.75 37.28 60.15 37.50 59.52C37.72 58.90 38.06 58.22 38.50 57.54C38.94 56.87 39.50 56.15 40.13 55.46C40.75 54.78 41.49 54.07 42.27 53.43C43.05 52.78 43.92 52.14 44.79 51.57C45.66 51.00 46.60 50.47 47.51 50.03C48.42 49.58 49.36 49.19 50.24 48.89C51.12 48.60 52.01 48.38 52.80 48.25C53.60 48.13 54.36 48.09 55.02 48.15C55.67 48.20 56.27 48.35 56.74 48.58C57.21 48.81 57.59 49.14 57.84 49.53Z" fill="#2aa6d6"/><path d="M56.17 50.53C56.39 50.87 56.52 51.28 56.53 51.74C56.55 52.19 56.46 52.71 56.27 53.25C56.08 53.79 55.79 54.38 55.41 54.97C55.03 55.56 54.54 56.18 54.00 56.77C53.45 57.37 52.81 57.98 52.14 58.54C51.46 59.10 50.71 59.65 49.95 60.14C49.20 60.64 48.39 61.10 47.60 61.48C46.81 61.87 46.00 62.21 45.23 62.47C44.47 62.72 43.70 62.91 43.01 63.02C42.32 63.13 41.66 63.16 41.09 63.11C40.52 63.06 40.01 62.93 39.60 62.73C39.19 62.53 38.86 62.25 38.64 61.91C38.42 61.57 38.30 61.16 38.28 60.70C38.26 60.25 38.35 59.73 38.54 59.19C38.73 58.65 39.03 58.06 39.41 57.47C39.78 56.88 40.27 56.26 40.82 55.67C41.36 55.07 42.00 54.46 42.68 53.90C43.35 53.34 44.10 52.79 44.86 52.30C45.61 51.80 46.43 51.34 47.21 50.96C48.00 50.57 48.82 50.23 49.58 49.97C50.35 49.72 51.11 49.53 51.80 49.42C52.49 49.31 53.15 49.28 53.72 49.33C54.29 49.38 54.81 49.51 55.21 49.71C55.62 49.91 55.95 50.19 56.17 50.53Z" fill="#5cc05a"/><path d="M52.27 52.85C52.41 53.07 52.49 53.34 52.50 53.63C52.51 53.92 52.45 54.25 52.33 54.60C52.21 54.94 52.02 55.32 51.78 55.70C51.54 56.07 51.22 56.47 50.87 56.85C50.53 57.24 50.11 57.63 49.68 57.99C49.25 58.35 48.77 58.70 48.28 59.02C47.80 59.33 47.28 59.63 46.77 59.87C46.27 60.12 45.75 60.34 45.26 60.50C44.77 60.67 44.27 60.79 43.83 60.86C43.39 60.93 42.97 60.95 42.60 60.92C42.24 60.89 41.91 60.80 41.65 60.68C41.38 60.55 41.17 60.37 41.03 60.15C40.89 59.93 40.81 59.66 40.80 59.37C40.79 59.08 40.85 58.75 40.97 58.40C41.09 58.06 41.28 57.68 41.52 57.30C41.76 56.93 42.08 56.53 42.43 56.15C42.77 55.76 43.19 55.37 43.62 55.01C44.05 54.65 44.53 54.30 45.02 53.98C45.50 53.67 46.02 53.37 46.53 53.13C47.03 52.88 47.55 52.66 48.04 52.50C48.53 52.33 49.03 52.21 49.47 52.14C49.91 52.07 50.33 52.05 50.70 52.08C51.06 52.11 51.39 52.20 51.65 52.32C51.92 52.45 52.13 52.63 52.27 52.85Z" fill="#d6d832"/><path d="M48.92 54.84C49.00 54.96 49.04 55.09 49.04 55.25C49.05 55.40 49.02 55.57 48.96 55.75C48.89 55.93 48.80 56.13 48.67 56.32C48.54 56.52 48.38 56.73 48.20 56.92C48.02 57.12 47.80 57.33 47.58 57.51C47.35 57.70 47.10 57.88 46.85 58.05C46.60 58.21 46.33 58.37 46.07 58.49C45.80 58.62 45.53 58.74 45.28 58.82C45.02 58.91 44.77 58.97 44.54 59.01C44.31 59.04 44.09 59.05 43.90 59.04C43.71 59.02 43.54 58.98 43.40 58.91C43.26 58.84 43.15 58.75 43.08 58.64C43.01 58.52 42.97 58.39 42.96 58.23C42.95 58.08 42.98 57.91 43.05 57.73C43.11 57.55 43.21 57.35 43.34 57.16C43.46 56.96 43.62 56.75 43.81 56.56C43.99 56.36 44.20 56.15 44.43 55.97C44.65 55.78 44.90 55.60 45.15 55.43C45.40 55.27 45.68 55.11 45.94 54.99C46.20 54.86 46.47 54.74 46.73 54.66C46.98 54.57 47.24 54.51 47.47 54.47C47.70 54.44 47.92 54.43 48.11 54.44C48.30 54.46 48.47 54.50 48.60 54.57C48.74 54.64 48.85 54.73 48.92 54.84Z" fill="#f07a22"/></g></g><polygon points="35.41,65.13 67.01,48.2 67.01,66.62 37.67,82.05 32.38,74.27" fill="none" stroke="#3a3a80" stroke-width="0.6" stroke-linejoin="round" opacity="0.8"/><rect x="26.2" y="17.4" width="68.7" height="67.7" fill="none" stroke="#7a7a7a" stroke-width="0.75"/><line x1="26.5" y1="85.1" x2="26.5" y2="86.3" stroke="#666" stroke-width="0.5"/><text x="26.5" y="91.8" font-size="4" text-anchor="middle" fill="#555">0</text><line x1="39.2" y1="85.1" x2="39.2" y2="86.3" stroke="#666" stroke-width="0.5"/><text x="39.2" y="91.8" font-size="4" text-anchor="middle" fill="#555">1</text><line x1="52.3" y1="85.1" x2="52.3" y2="86.3" stroke="#666" stroke-width="0.5"/><text x="52.3" y="91.8" font-size="4" text-anchor="middle" fill="#555">2</text><line x1="65.4" y1="85.1" x2="65.4" y2="86.3" stroke="#666" stroke-width="0.5"/><text x="65.4" y="91.8" font-size="4" text-anchor="middle" fill="#555">3</text><line x1="78.2" y1="85.1" x2="78.2" y2="86.3" stroke="#666" stroke-width="0.5"/><text x="78.2" y="91.8" font-size="4" text-anchor="middle" fill="#555">4</text><line x1="92.3" y1="85.1" x2="92.3" y2="86.3" stroke="#666" stroke-width="0.5"/><text x="92.3" y="91.8" font-size="4" text-anchor="middle" fill="#555">5.2</text><line x1="25" y1="20.5" x2="26.2" y2="20.5" stroke="#666" stroke-width="0.5"/><text x="23.6" y="20.5" font-size="3.6" text-anchor="middle" fill="#555" transform="rotate(-90 23.6 20.5)">10<tspan font-size="2.6" dy="-1">4</tspan></text><line x1="25" y1="40.5" x2="26.2" y2="40.5" stroke="#666" stroke-width="0.5"/><text x="23.6" y="40.5" font-size="3.6" text-anchor="middle" fill="#555" transform="rotate(-90 23.6 40.5)">10<tspan font-size="2.6" dy="-1">3</tspan></text><line x1="25" y1="63.5" x2="26.2" y2="63.5" stroke="#666" stroke-width="0.5"/><text x="23.6" y="63.5" font-size="3.6" text-anchor="middle" fill="#555" transform="rotate(-90 23.6 63.5)">10<tspan font-size="2.6" dy="-1">2</tspan></text><line x1="25" y1="84.3" x2="26.2" y2="84.3" stroke="#666" stroke-width="0.5"/><text x="23.6" y="84.3" font-size="3.6" text-anchor="middle" fill="#555" transform="rotate(-90 23.6 84.3)">-10<tspan font-size="2.6" dy="-1">2</tspan></text><text x="70.79" y="42.83" font-size="4.3" fill="#2a9a4a">p-Kap1 +</text><text x="71.61" y="59.42" font-size="4.3" fill="#444">p-Kap1 −</text><text x="13.6" y="51.55" font-size="6.7" text-anchor="middle" fill="#222" stroke="#222" stroke-width="0.1" transform="rotate(-90 13.6 51.55)">p-Kap1 S473</text><text x="61.15" y="100.6" font-size="6.35" text-anchor="middle" fill="#222" stroke="#222" stroke-width="0.1">PI-A (10<tspan font-size="4.2" dy="-2">5</tspan><tspan dy="2">)</tspan></text><polygon points="139.33,64.85 137.7,50 138.52,33.46 146.13,26.38 161.36,23.68 165.92,25.36 171.29,30.43 171.29,47.3" fill="none" stroke="#d0a474" stroke-width="0.75" stroke-linejoin="round"/><g filter="url(#bl)"><path d="M147.0 69.5h.7v.7h-.7zM148.9 69.4h.7v.7h-.7zM152.4 70.6h.7v.7h-.7zM141.3 67.8h.7v.7h-.7zM149.0 57.2h.7v.7h-.7zM159.3 64.5h.7v.7h-.7zM148.8 56.5h.7v.7h-.7zM168.2 56.5h.7v.7h-.7zM154.6 68.8h.7v.7h-.7zM141.0 67.3h.7v.7h-.7zM159.5 51.9h.7v.7h-.7zM166.1 57.8h.7v.7h-.7zM152.0 51.7h.7v.7h-.7zM163.2 62.3h.7v.7h-.7zM157.0 66.0h.7v.7h-.7zM164.0 51.0h.7v.7h-.7zM165.4 52.3h.7v.7h-.7zM155.5 67.9h.7v.7h-.7zM165.6 60.1h.7v.7h-.7zM167.8 57.6h.7v.7h-.7zM147.4 69.6h.7v.7h-.7zM143.5 69.5h.7v.7h-.7zM142.2 61.8h.7v.7h-.7zM154.8 52.0h.7v.7h-.7zM167.7 50.4h.7v.7h-.7zM148.1 69.3h.7v.7h-.7zM162.2 50.0h.7v.7h-.7zM143.7 60.8h.7v.7h-.7zM146.8 57.2h.7v.7h-.7zM147.7 57.3h.7v.7h-.7zM157.0 51.9h.7v.7h-.7zM140.9 67.0h.7v.7h-.7zM143.0 69.6h.7v.7h-.7zM159.6 62.4h.7v.7h-.7zM168.8 59.3h.7v.7h-.7zM150.0 68.9h.7v.7h-.7zM144.4 59.4h.7v.7h-.7zM155.2 51.0h.7v.7h-.7zM156.2 53.2h.7v.7h-.7zM154.4 56.7h.7v.7h-.7zM147.2 59.6h.7v.7h-.7zM147.7 59.2h.7v.7h-.7zM162.9 63.6h.7v.7h-.7zM153.7 70.6h.7v.7h-.7zM141.5 66.2h.7v.7h-.7zM162.2 50.9h.7v.7h-.7zM141.8 64.2h.7v.7h-.7zM150.4 57.0h.7v.7h-.7zM160.2 62.9h.7v.7h-.7zM150.3 68.4h.7v.7h-.7zM149.8 70.5h.7v.7h-.7zM142.6 68.5h.7v.7h-.7zM148.4 58.0h.7v.7h-.7zM167.2 55.1h.7v.7h-.7zM146.9 57.4h.7v.7h-.7zM146.7 69.0h.7v.7h-.7zM143.3 68.9h.7v.7h-.7zM166.2 53.5h.7v.7h-.7zM140.8 66.0h.7v.7h-.7zM142.0 67.6h.7v.7h-.7zM161.2 52.4h.7v.7h-.7zM168.4 58.7h.7v.7h-.7zM156.0 67.3h.7v.7h-.7zM165.9 56.1h.7v.7h-.7zM148.3 57.0h.7v.7h-.7zM154.0 53.3h.7v.7h-.7zM144.6 69.4h.7v.7h-.7zM159.0 50.9h.7v.7h-.7zM144.6 60.5h.7v.7h-.7zM167.1 53.6h.7v.7h-.7zM161.5 68.3h.7v.7h-.7zM143.6 71.3h.7v.7h-.7zM143.0 66.9h.7v.7h-.7zM150.0 56.9h.7v.7h-.7zM162.5 51.4h.7v.7h-.7zM141.1 66.3h.7v.7h-.7zM155.1 70.0h.7v.7h-.7zM163.6 55.5h.7v.7h-.7zM150.0 53.3h.7v.7h-.7zM168.8 57.8h.7v.7h-.7zM144.8 58.5h.7v.7h-.7zM164.9 51.0h.7v.7h-.7zM152.6 54.3h.7v.7h-.7zM153.1 53.4h.7v.7h-.7zM143.4 60.0h.7v.7h-.7zM139.5 66.8h.7v.7h-.7zM161.3 54.3h.7v.7h-.7zM146.9 70.6h.7v.7h-.7zM152.7 68.9h.7v.7h-.7zM166.4 59.9h.7v.7h-.7zM157.9 53.4h.7v.7h-.7zM143.3 61.8h.7v.7h-.7zM160.2 51.9h.7v.7h-.7zM155.1 66.6h.7v.7h-.7zM142.0 70.1h.7v.7h-.7zM169.4 52.8h.7v.7h-.7zM142.3 63.9h.7v.7h-.7zM167.3 53.0h.7v.7h-.7zM143.2 62.3h.7v.7h-.7zM142.0 62.7h.7v.7h-.7zM141.3 68.0h.7v.7h-.7zM151.5 56.8h.7v.7h-.7zM162.4 61.6h.7v.7h-.7zM166.2 56.5h.7v.7h-.7zM159.9 50.5h.7v.7h-.7zM168.2 54.0h.7v.7h-.7zM167.3 58.2h.7v.7h-.7zM161.8 63.8h.7v.7h-.7zM158.9 62.7h.7v.7h-.7zM147.6 70.3h.7v.7h-.7zM156.3 53.3h.7v.7h-.7zM144.8 59.5h.7v.7h-.7zM141.2 64.7h.7v.7h-.7zM153.7 53.0h.7v.7h-.7zM144.2 61.1h.7v.7h-.7zM156.6 66.2h.7v.7h-.7zM161.3 52.9h.7v.7h-.7zM161.7 51.4h.7v.7h-.7zM144.3 60.4h.7v.7h-.7zM145.1 70.7h.7v.7h-.7zM161.1 53.0h.7v.7h-.7zM157.9 65.4h.7v.7h-.7zM169.3 52.7h.7v.7h-.7zM141.1 62.5h.7v.7h-.7zM148.3 69.0h.7v.7h-.7zM144.8 71.0h.7v.7h-.7zM157.6 53.4h.7v.7h-.7zM143.0 61.8h.7v.7h-.7zM154.6 68.7h.7v.7h-.7zM141.6 71.9h.7v.7h-.7zM143.7 62.0h.7v.7h-.7zM158.5 52.0h.7v.7h-.7zM147.4 56.2h.7v.7h-.7zM143.0 63.0h.7v.7h-.7zM162.4 63.1h.7v.7h-.7zM148.6 70.0h.7v.7h-.7zM143.5 70.3h.7v.7h-.7zM149.2 69.3h.7v.7h-.7zM146.2 58.1h.7v.7h-.7zM142.7 61.4h.7v.7h-.7zM159.2 66.1h.7v.7h-.7zM161.4 63.7h.7v.7h-.7zM147.3 55.3h.7v.7h-.7zM163.9 63.5h.7v.7h-.7zM164.8 52.3h.7v.7h-.7zM141.3 65.9h.7v.7h-.7zM153.3 68.4h.7v.7h-.7zM148.2 69.6h.7v.7h-.7zM142.8 68.3h.7v.7h-.7zM147.2 70.7h.7v.7h-.7zM152.6 70.9h.7v.7h-.7zM158.0 65.3h.7v.7h-.7zM164.8 61.1h.7v.7h-.7zM151.1 70.2h.7v.7h-.7zM162.9 52.1h.7v.7h-.7zM166.2 58.9h.7v.7h-.7zM153.3 68.1h.7v.7h-.7zM145.4 58.7h.7v.7h-.7zM166.2 51.4h.7v.7h-.7zM163.1 60.5h.7v.7h-.7zM156.7 51.9h.7v.7h-.7zM165.7 53.4h.7v.7h-.7zM164.6 59.6h.7v.7h-.7zM141.9 61.6h.7v.7h-.7zM161.1 67.3h.7v.7h-.7zM144.2 68.1h.7v.7h-.7zM168.8 51.8h.7v.7h-.7zM153.4 52.3h.7v.7h-.7zM151.9 54.8h.7v.7h-.7zM158.9 51.5h.7v.7h-.7zM170.2 54.4h.7v.7h-.7zM155.4 68.7h.7v.7h-.7zM162.4 52.2h.7v.7h-.7zM160.8 50.0h.7v.7h-.7zM145.9 70.0h.7v.7h-.7zM154.9 69.9h.7v.7h-.7zM153.8 54.0h.7v.7h-.7zM153.9 70.4h.7v.7h-.7zM161.6 65.5h.7v.7h-.7zM162.1 64.2h.7v.7h-.7zM152.7 55.7h.7v.7h-.7zM145.9 58.6h.7v.7h-.7zM152.0 56.4h.7v.7h-.7zM167.1 55.6h.7v.7h-.7zM150.6 53.0h.7v.7h-.7zM169.4 57.3h.7v.7h-.7zM141.0 66.1h.7v.7h-.7zM141.6 65.2h.7v.7h-.7zM171.7 56.0h.7v.7h-.7zM151.6 52.9h.7v.7h-.7zM141.5 65.1h.7v.7h-.7zM156.2 66.5h.7v.7h-.7zM143.8 61.5h.7v.7h-.7zM151.9 55.0h.7v.7h-.7zM143.7 64.7h.7v.7h-.7zM160.9 66.1h.7v.7h-.7zM164.0 50.9h.7v.7h-.7zM153.5 69.3h.7v.7h-.7zM163.9 51.2h.7v.7h-.7zM153.7 54.1h.7v.7h-.7zM141.4 66.7h.7v.7h-.7zM150.3 57.2h.7v.7h-.7zM160.6 64.1h.7v.7h-.7zM144.9 61.8h.7v.7h-.7zM158.2 65.9h.7v.7h-.7zM152.7 53.8h.7v.7h-.7zM155.9 69.3h.7v.7h-.7zM146.9 58.0h.7v.7h-.7zM168.0 52.5h.7v.7h-.7zM140.3 64.1h.7v.7h-.7zM158.3 66.7h.7v.7h-.7zM167.2 57.2h.7v.7h-.7zM141.5 63.3h.7v.7h-.7zM164.3 61.4h.7v.7h-.7zM145.7 69.6h.7v.7h-.7zM164.1 62.8h.7v.7h-.7zM146.2 58.6h.7v.7h-.7zM160.7 51.5h.7v.7h-.7zM163.9 51.0h.7v.7h-.7zM145.2 68.7h.7v.7h-.7zM167.7 57.3h.7v.7h-.7zM140.0 64.9h.7v.7h-.7zM156.5 53.4h.7v.7h-.7zM142.6 58.8h.7v.7h-.7zM158.5 70.2h.7v.7h-.7zM150.5 69.7h.7v.7h-.7zM162.8 62.6h.7v.7h-.7zM147.7 72.3h.7v.7h-.7zM141.9 62.2h.7v.7h-.7zM166.0 61.8h.7v.7h-.7zM139.3 66.8h.7v.7h-.7zM159.9 64.5h.7v.7h-.7zM166.3 57.7h.7v.7h-.7zM164.4 51.7h.7v.7h-.7zM147.1 60.6h.7v.7h-.7zM153.2 55.4h.7v.7h-.7zM147.6 69.5h.7v.7h-.7zM153.1 55.1h.7v.7h-.7zM156.5 68.0h.7v.7h-.7zM163.2 63.7h.7v.7h-.7zM164.2 61.3h.7v.7h-.7zM148.1 69.8h.7v.7h-.7zM163.2 65.4h.7v.7h-.7zM159.0 51.3h.7v.7h-.7zM165.0 51.9h.7v.7h-.7zM163.4 51.8h.7v.7h-.7zM166.6 53.8h.7v.7h-.7zM153.5 53.9h.7v.7h-.7zM167.6 58.9h.7v.7h-.7zM154.8 53.7h.7v.7h-.7zM167.8 58.9h.7v.7h-.7zM169.3 55.3h.7v.7h-.7zM161.5 63.4h.7v.7h-.7zM153.0 55.0h.7v.7h-.7zM164.6 63.7h.7v.7h-.7zM165.6 59.7h.7v.7h-.7zM166.8 53.6h.7v.7h-.7zM147.0 69.4h.7v.7h-.7zM157.3 53.1h.7v.7h-.7zM162.9 62.6h.7v.7h-.7zM162.0 64.7h.7v.7h-.7zM145.2 58.1h.7v.7h-.7zM157.8 63.9h.7v.7h-.7zM145.2 71.1h.7v.7h-.7zM166.0 56.3h.7v.7h-.7zM160.2 50.1h.7v.7h-.7zM144.8 62.0h.7v.7h-.7zM144.7 59.2h.7v.7h-.7zM163.4 51.8h.7v.7h-.7zM142.5 67.8h.7v.7h-.7zM148.0 56.1h.7v.7h-.7zM166.8 64.0h.7v.7h-.7zM145.8 60.8h.7v.7h-.7zM145.5 70.1h.7v.7h-.7zM155.4 51.2h.7v.7h-.7zM146.9 68.9h.7v.7h-.7zM141.0 66.5h.7v.7h-.7zM152.4 69.0h.7v.7h-.7zM144.4 68.1h.7v.7h-.7zM155.4 68.5h.7v.7h-.7zM141.9 61.8h.7v.7h-.7zM159.3 64.9h.7v.7h-.7zM140.1 65.1h.7v.7h-.7zM151.3 70.1h.7v.7h-.7zM162.2 52.8h.7v.7h-.7zM146.4 70.1h.7v.7h-.7zM167.3 55.1h.7v.7h-.7zM142.3 61.0h.7v.7h-.7zM161.0 64.5h.7v.7h-.7zM165.0 60.9h.7v.7h-.7zM157.5 68.0h.7v.7h-.7zM141.0 69.2h.7v.7h-.7zM141.4 68.8h.7v.7h-.7zM149.3 68.6h.7v.7h-.7zM141.7 70.4h.7v.7h-.7zM151.4 56.3h.7v.7h-.7zM160.5 66.1h.7v.7h-.7zM151.3 69.8h.7v.7h-.7zM149.3 71.1h.7v.7h-.7zM164.1 62.2h.7v.7h-.7zM150.9 52.7h.7v.7h-.7zM145.8 60.6h.7v.7h-.7zM161.9 51.6h.7v.7h-.7zM141.3 64.5h.7v.7h-.7zM163.7 52.0h.7v.7h-.7zM168.8 56.3h.7v.7h-.7zM143.5 68.9h.7v.7h-.7zM144.7 59.0h.7v.7h-.7zM150.7 69.1h.7v.7h-.7zM166.6 58.4h.7v.7h-.7zM143.1 60.9h.7v.7h-.7zM168.8 54.9h.7v.7h-.7zM148.8 53.1h.7v.7h-.7zM145.8 69.7h.7v.7h-.7zM163.2 51.8h.7v.7h-.7zM156.4 53.2h.7v.7h-.7zM154.3 68.4h.7v.7h-.7zM165.5 50.3h.7v.7h-.7zM141.9 71.3h.7v.7h-.7zM157.8 69.6h.7v.7h-.7zM143.7 69.8h.7v.7h-.7zM144.6 70.4h.7v.7h-.7zM155.9 53.1h.7v.7h-.7zM164.2 61.8h.7v.7h-.7zM157.5 51.2h.7v.7h-.7zM159.9 67.0h.7v.7h-.7zM151.1 58.4h.7v.7h-.7zM152.3 55.6h.7v.7h-.7zM145.8 68.3h.7v.7h-.7zM166.6 60.5h.7v.7h-.7zM169.0 55.3h.7v.7h-.7zM163.8 50.9h.7v.7h-.7zM160.5 49.0h.7v.7h-.7zM143.5 69.2h.7v.7h-.7zM166.2 53.0h.7v.7h-.7zM168.3 57.6h.7v.7h-.7zM165.0 62.2h.7v.7h-.7zM159.3 51.3h.7v.7h-.7zM153.3 68.7h.7v.7h-.7zM146.2 70.0h.7v.7h-.7zM148.3 71.4h.7v.7h-.7zM162.2 51.0h.7v.7h-.7zM147.4 70.8h.7v.7h-.7zM167.9 54.4h.7v.7h-.7zM152.2 69.0h.7v.7h-.7zM159.3 65.6h.7v.7h-.7zM164.8 50.7h.7v.7h-.7zM141.1 67.0h.7v.7h-.7zM140.1 66.9h.7v.7h-.7zM143.3 58.3h.7v.7h-.7zM164.5 60.1h.7v.7h-.7zM144.3 60.5h.7v.7h-.7zM155.5 68.7h.7v.7h-.7zM162.2 64.2h.7v.7h-.7zM167.9 55.3h.7v.7h-.7zM140.3 67.1h.7v.7h-.7zM163.7 60.3h.7v.7h-.7zM163.1 50.0h.7v.7h-.7zM146.5 61.3h.7v.7h-.7zM146.2 56.8h.7v.7h-.7zM143.3 60.8h.7v.7h-.7zM143.7 62.2h.7v.7h-.7zM143.2 67.7h.7v.7h-.7zM149.2 56.5h.7v.7h-.7zM163.8 62.1h.7v.7h-.7zM146.2 68.8h.7v.7h-.7zM156.5 53.8h.7v.7h-.7zM163.8 60.3h.7v.7h-.7zM140.7 64.6h.7v.7h-.7zM167.5 58.3h.7v.7h-.7zM147.1 58.8h.7v.7h-.7zM164.7 59.8h.7v.7h-.7zM159.9 64.7h.7v.7h-.7zM143.6 68.2h.7v.7h-.7zM145.9 57.4h.7v.7h-.7zM153.1 54.4h.7v.7h-.7zM142.1 63.5h.7v.7h-.7zM165.1 53.0h.7v.7h-.7zM140.7 68.8h.7v.7h-.7zM141.4 58.0h.7v.7h-.7zM149.8 69.2h.7v.7h-.7zM141.4 67.3h.7v.7h-.7zM146.2 59.6h.7v.7h-.7zM148.2 58.0h.7v.7h-.7zM168.7 55.5h.7v.7h-.7zM141.1 69.5h.7v.7h-.7zM151.4 68.3h.7v.7h-.7zM144.5 61.0h.7v.7h-.7zM167.6 60.6h.7v.7h-.7zM167.2 58.5h.7v.7h-.7zM145.6 58.1h.7v.7h-.7zM151.1 57.6h.7v.7h-.7zM167.5 56.4h.7v.7h-.7zM164.2 60.3h.7v.7h-.7zM165.5 51.6h.7v.7h-.7zM146.6 58.1h.7v.7h-.7zM162.5 68.1h.7v.7h-.7zM168.2 54.8h.7v.7h-.7zM146.8 54.6h.7v.7h-.7zM168.5 57.4h.7v.7h-.7zM157.5 67.5h.7v.7h-.7zM150.7 57.0h.7v.7h-.7zM166.7 60.0h.7v.7h-.7zM164.0 62.9h.7v.7h-.7zM142.1 58.0h.7v.7h-.7zM155.1 68.1h.7v.7h-.7zM153.5 69.9h.7v.7h-.7zM151.7 57.9h.7v.7h-.7zM143.5 72.8h.7v.7h-.7zM168.6 56.7h.7v.7h-.7zM142.1 65.5h.7v.7h-.7zM147.1 58.4h.7v.7h-.7zM142.8 67.7h.7v.7h-.7zM161.5 66.3h.7v.7h-.7zM140.5 65.4h.7v.7h-.7zM162.6 62.9h.7v.7h-.7zM157.1 52.5h.7v.7h-.7zM142.8 69.7h.7v.7h-.7zM149.5 57.1h.7v.7h-.7zM149.2 70.3h.7v.7h-.7zM156.9 50.3h.7v.7h-.7zM163.2 51.8h.7v.7h-.7zM152.7 69.0h.7v.7h-.7zM157.2 51.6h.7v.7h-.7zM155.0 71.5h.7v.7h-.7zM164.4 50.8h.7v.7h-.7zM154.3 54.7h.7v.7h-.7zM169.7 53.7h.7v.7h-.7zM153.8 52.7h.7v.7h-.7zM155.1 50.7h.7v.7h-.7zM168.8 56.2h.7v.7h-.7zM168.1 55.6h.7v.7h-.7zM165.6 50.6h.7v.7h-.7zM168.4 55.8h.7v.7h-.7zM168.4 55.7h.7v.7h-.7zM166.5 57.6h.7v.7h-.7zM156.4 66.5h.7v.7h-.7zM160.9 66.1h.7v.7h-.7zM161.9 63.9h.7v.7h-.7zM151.8 53.8h.7v.7h-.7zM151.4 67.2h.7v.7h-.7zM167.6 56.0h.7v.7h-.7zM163.2 50.9h.7v.7h-.7zM151.7 57.6h.7v.7h-.7zM155.8 54.2h.7v.7h-.7zM152.5 68.2h.7v.7h-.7zM167.0 61.0h.7v.7h-.7zM170.0 54.2h.7v.7h-.7zM147.2 59.3h.7v.7h-.7zM155.7 67.8h.7v.7h-.7zM170.7 53.5h.7v.7h-.7zM148.5 55.1h.7v.7h-.7zM156.0 52.9h.7v.7h-.7zM151.9 55.3h.7v.7h-.7zM169.6 53.2h.7v.7h-.7zM148.2 58.1h.7v.7h-.7zM137.8 65.6h.7v.7h-.7zM157.0 51.8h.7v.7h-.7zM157.8 52.9h.7v.7h-.7zM158.9 66.7h.7v.7h-.7zM140.6 68.9h.7v.7h-.7zM143.6 61.5h.7v.7h-.7zM150.9 54.6h.7v.7h-.7zM141.9 63.9h.7v.7h-.7zM164.4 51.7h.7v.7h-.7zM158.3 66.9h.7v.7h-.7zM141.3 67.7h.7v.7h-.7zM165.1 57.5h.7v.7h-.7zM162.6 62.8h.7v.7h-.7zM159.3 66.0h.7v.7h-.7zM153.3 70.4h.7v.7h-.7zM164.6 60.5h.7v.7h-.7zM165.2 61.1h.7v.7h-.7zM163.4 51.0h.7v.7h-.7zM142.8 70.2h.7v.7h-.7zM159.0 66.8h.7v.7h-.7zM156.2 68.2h.7v.7h-.7zM167.0 53.0h.7v.7h-.7zM164.7 65.6h.7v.7h-.7zM144.4 58.4h.7v.7h-.7z" fill="#3050cc" opacity="0.6"/><path d="M156.35 49.81h0.7v0.7h-0.7zM156.3 51.08h0.7v0.7h-0.7zM145.4 52h0.7v0.7h-0.7zM160.63 46.14h0.7v0.7h-0.7zM143.91 60.4h0.7v0.7h-0.7zM145.72 51.85h0.7v0.7h-0.7zM156.94 46.07h0.7v0.7h-0.7zM147.58 56.45h0.7v0.7h-0.7zM149.45 59.61h0.7v0.7h-0.7zM155.46 57.29h0.7v0.7h-0.7zM152.88 51.24h0.7v0.7h-0.7zM147.7 52.89h0.7v0.7h-0.7zM148.8 52.93h0.7v0.7h-0.7zM155.55 46.34h0.7v0.7h-0.7zM143.96 49.47h0.7v0.7h-0.7zM161.46 46.88h0.7v0.7h-0.7zM151.85 51.41h0.7v0.7h-0.7zM158.71 49.26h0.7v0.7h-0.7zM157.22 48.61h0.7v0.7h-0.7zM151.17 51.73h0.7v0.7h-0.7zM141.34 59.48h0.7v0.7h-0.7zM140.94 53.91h0.7v0.7h-0.7zM156.31 49.64h0.7v0.7h-0.7zM158.96 52.96h0.7v0.7h-0.7zM165.27 49.12h0.7v0.7h-0.7zM152.73 56.81h0.7v0.7h-0.7zM146.33 53.91h0.7v0.7h-0.7zM158.1 48.07h0.7v0.7h-0.7zM150.86 51.06h0.7v0.7h-0.7zM158.05 41.87h0.7v0.7h-0.7zM161.19 50.14h0.7v0.7h-0.7zM152.13 52.99h0.7v0.7h-0.7zM147.03 56.88h0.7v0.7h-0.7zM170.44 40.36h0.7v0.7h-0.7zM160.8 47.24h0.7v0.7h-0.7zM149.34 51.4h0.7v0.7h-0.7zM149.47 49.23h0.7v0.7h-0.7zM145.14 59.28h0.7v0.7h-0.7zM152.47 52.8h0.7v0.7h-0.7zM154.47 51.66h0.7v0.7h-0.7zM141.32 53.86h0.7v0.7h-0.7zM157.07 51.89h0.7v0.7h-0.7zM144.13 53.58h0.7v0.7h-0.7zM145.91 56.14h0.7v0.7h-0.7zM154.22 50.56h0.7v0.7h-0.7zM148.24 54.2h0.7v0.7h-0.7zM151.42 49.72h0.7v0.7h-0.7zM153.41 49.01h0.7v0.7h-0.7zM158.7 50.1h0.7v0.7h-0.7zM148.26 54.86h0.7v0.7h-0.7zM151.68 49.7h0.7v0.7h-0.7zM144.44 50.44h0.7v0.7h-0.7zM145.19 55.63h0.7v0.7h-0.7zM159 46.5h0.7v0.7h-0.7zM153.38 51.81h0.7v0.7h-0.7zM157.42 50.19h0.7v0.7h-0.7zM160.59 49.61h0.7v0.7h-0.7zM147.59 54.65h0.7v0.7h-0.7zM136.95 58.02h0.7v0.7h-0.7zM152.74 52.75h0.7v0.7h-0.7zM150.97 54.28h0.7v0.7h-0.7zM159.49 45.69h0.7v0.7h-0.7zM148.83 53.7h0.7v0.7h-0.7zM155.26 50.38h0.7v0.7h-0.7zM156.02 46.36h0.7v0.7h-0.7zM158.15 51.85h0.7v0.7h-0.7zM159.49 49.18h0.7v0.7h-0.7zM150.92 53.11h0.7v0.7h-0.7zM149.85 48.13h0.7v0.7h-0.7zM148.12 53.2h0.7v0.7h-0.7zM147.74 50.91h0.7v0.7h-0.7zM150.14 51.34h0.7v0.7h-0.7zM152.39 51.19h0.7v0.7h-0.7zM154.14 53.24h0.7v0.7h-0.7zM153.3 52.02h0.7v0.7h-0.7zM141.13 48.44h0.7v0.7h-0.7zM150.18 54.22h0.7v0.7h-0.7zM149.19 51.09h0.7v0.7h-0.7zM145.08 57.19h0.7v0.7h-0.7zM148.91 53.62h0.7v0.7h-0.7zM159.74 49.37h0.7v0.7h-0.7zM166.09 44.56h0.7v0.7h-0.7zM158.8 50.24h0.7v0.7h-0.7zM147.89 53.55h0.7v0.7h-0.7zM147.33 50.85h0.7v0.7h-0.7zM153.08 48.86h0.7v0.7h-0.7zM161.87 44.85h0.7v0.7h-0.7zM148.64 53.32h0.7v0.7h-0.7zM148.77 53.16h0.7v0.7h-0.7zM146.64 50.08h0.7v0.7h-0.7zM135.33 55.71h0.7v0.7h-0.7zM162.12 48.01h0.7v0.7h-0.7zM152.48 49.99h0.7v0.7h-0.7zM151.39 52.61h0.7v0.7h-0.7zM142.34 53.8h0.7v0.7h-0.7zM147.68 56.99h0.7v0.7h-0.7zM146.54 57.28h0.7v0.7h-0.7zM151.93 59.05h0.7v0.7h-0.7zM151.54 51.81h0.7v0.7h-0.7zM161.49 49.49h0.7v0.7h-0.7zM156.83 46.3h0.7v0.7h-0.7zM160.98 51.95h0.7v0.7h-0.7zM150.84 50.71h0.7v0.7h-0.7zM146.15 57.03h0.7v0.7h-0.7zM153.87 50.65h0.7v0.7h-0.7zM145.88 58.83h0.7v0.7h-0.7zM157.53 48.87h0.7v0.7h-0.7zM160.36 44.98h0.7v0.7h-0.7zM156.54 46.63h0.7v0.7h-0.7zM160.66 46.7h0.7v0.7h-0.7zM159.32 46.94h0.7v0.7h-0.7zM155.74 52.91h0.7v0.7h-0.7zM146.38 54.39h0.7v0.7h-0.7zM147.58 55.91h0.7v0.7h-0.7zM147.78 52.44h0.7v0.7h-0.7zM151.94 54.74h0.7v0.7h-0.7zM145.37 54.52h0.7v0.7h-0.7zM149.33 51.23h0.7v0.7h-0.7zM146.84 53.47h0.7v0.7h-0.7zM151.61 47.41h0.7v0.7h-0.7zM152.23 48.12h0.7v0.7h-0.7zM154.5 56.62h0.7v0.7h-0.7zM145.79 54.21h0.7v0.7h-0.7zM151.42 54.48h0.7v0.7h-0.7zM147.1 48.86h0.7v0.7h-0.7zM141.97 56.67h0.7v0.7h-0.7zM154.73 53.17h0.7v0.7h-0.7zM149.3 54.6h0.7v0.7h-0.7zM146.62 57.58h0.7v0.7h-0.7zM150.83 50.17h0.7v0.7h-0.7zM154.97 54.92h0.7v0.7h-0.7zM145.31 51.2h0.7v0.7h-0.7zM144.34 51.89h0.7v0.7h-0.7zM152.05 52.44h0.7v0.7h-0.7zM151.17 52.43h0.7v0.7h-0.7zM159.21 47.34h0.7v0.7h-0.7zM141.64 50.03h0.7v0.7h-0.7zM152.82 49.24h0.7v0.7h-0.7zM150.85 53.16h0.7v0.7h-0.7zM153.28 46.58h0.7v0.7h-0.7zM146.01 54.5h0.7v0.7h-0.7zM152.3 54.52h0.7v0.7h-0.7zM146.64 48.31h0.7v0.7h-0.7zM157.7 44.33h0.7v0.7h-0.7zM146.25 55.25h0.7v0.7h-0.7zM147.91 60.27h0.7v0.7h-0.7zM154.08 52.01h0.7v0.7h-0.7zM151.57 57.81h0.7v0.7h-0.7zM154.67 48.28h0.7v0.7h-0.7zM158.17 43.96h0.7v0.7h-0.7z" fill="#3044c4" opacity="0.45"/><path d="M164.37 57.52h0.7v0.7h-0.7zM165.47 53.13h0.7v0.7h-0.7zM163.31 58.17h0.7v0.7h-0.7zM163.47 55.54h0.7v0.7h-0.7zM169.37 55.17h0.7v0.7h-0.7zM165.75 56.42h0.7v0.7h-0.7zM163.4 60.84h0.7v0.7h-0.7zM164.87 60.59h0.7v0.7h-0.7zM164.03 55.26h0.7v0.7h-0.7zM171.08 54.76h0.7v0.7h-0.7zM163.35 55.26h0.7v0.7h-0.7zM169.91 60.55h0.7v0.7h-0.7zM167.61 54.16h0.7v0.7h-0.7zM161.62 55.45h0.7v0.7h-0.7zM165.86 56.83h0.7v0.7h-0.7zM165.16 60.39h0.7v0.7h-0.7zM162.12 55.13h0.7v0.7h-0.7zM168.13 56.76h0.7v0.7h-0.7zM165.7 59.18h0.7v0.7h-0.7zM163.05 62.29h0.7v0.7h-0.7zM168.41 61.4h0.7v0.7h-0.7zM167.54 59.68h0.7v0.7h-0.7zM165.54 56.79h0.7v0.7h-0.7zM165.93 50.45h0.7v0.7h-0.7zM167.08 61.09h0.7v0.7h-0.7zM156.78 60.58h0.7v0.7h-0.7zM169.37 55.82h0.7v0.7h-0.7zM168.06 59.68h0.7v0.7h-0.7zM165.16 50.26h0.7v0.7h-0.7zM162.59 56.3h0.7v0.7h-0.7zM166.02 54.57h0.7v0.7h-0.7zM167.37 60.83h0.7v0.7h-0.7zM157.54 62.76h0.7v0.7h-0.7zM169.7 56.58h0.7v0.7h-0.7zM166.12 56.16h0.7v0.7h-0.7zM167.44 56.25h0.7v0.7h-0.7zM164.42 59.07h0.7v0.7h-0.7zM163.24 56.87h0.7v0.7h-0.7zM163.64 53.19h0.7v0.7h-0.7zM167.92 55.08h0.7v0.7h-0.7zM162.09 57.17h0.7v0.7h-0.7zM162.94 61.69h0.7v0.7h-0.7zM169.73 60.97h0.7v0.7h-0.7zM164.86 58.66h0.7v0.7h-0.7zM161.95 54.76h0.7v0.7h-0.7zM166.13 57.26h0.7v0.7h-0.7zM168.76 54.14h0.7v0.7h-0.7zM170.61 57.4h0.7v0.7h-0.7zM162.95 56.54h0.7v0.7h-0.7zM164.74 61.89h0.7v0.7h-0.7zM165.1 59.15h0.7v0.7h-0.7zM168.74 54.2h0.7v0.7h-0.7zM164.76 57.55h0.7v0.7h-0.7zM162.17 53.37h0.7v0.7h-0.7zM163.18 58.1h0.7v0.7h-0.7zM168.43 60.72h0.7v0.7h-0.7zM160.53 59.59h0.7v0.7h-0.7zM163.4 60.62h0.7v0.7h-0.7zM168.41 55.53h0.7v0.7h-0.7zM170.45 53.2h0.7v0.7h-0.7zM163.19 53.68h0.7v0.7h-0.7zM163.97 57.11h0.7v0.7h-0.7zM169.51 58.79h0.7v0.7h-0.7zM164.38 54.27h0.7v0.7h-0.7zM164.47 55.2h0.7v0.7h-0.7zM164.06 55.43h0.7v0.7h-0.7zM163.1 56.89h0.7v0.7h-0.7zM164.15 56.14h0.7v0.7h-0.7zM161.62 58.06h0.7v0.7h-0.7zM168.53 57.13h0.7v0.7h-0.7zM163.05 53.46h0.7v0.7h-0.7zM160.55 54.26h0.7v0.7h-0.7zM163.58 55.9h0.7v0.7h-0.7zM160.89 59.98h0.7v0.7h-0.7zM160.28 55.91h0.7v0.7h-0.7zM164.49 59.18h0.7v0.7h-0.7zM171.64 52.83h0.7v0.7h-0.7zM164.71 55.23h0.7v0.7h-0.7zM165.18 55.76h0.7v0.7h-0.7zM164.84 53.93h0.7v0.7h-0.7zM166.64 54.13h0.7v0.7h-0.7zM166.78 52.3h0.7v0.7h-0.7zM160.95 60.05h0.7v0.7h-0.7zM163.3 53.34h0.7v0.7h-0.7zM166.91 54.03h0.7v0.7h-0.7zM167.85 53.6h0.7v0.7h-0.7zM169.09 55.35h0.7v0.7h-0.7zM167.32 56.02h0.7v0.7h-0.7zM164.45 55.43h0.7v0.7h-0.7zM168.19 57.44h0.7v0.7h-0.7zM166.94 62.72h0.7v0.7h-0.7zM170.34 50.81h0.7v0.7h-0.7zM169.46 54.52h0.7v0.7h-0.7zM165.96 53.53h0.7v0.7h-0.7zM170.54 51.75h0.7v0.7h-0.7zM165 54.08h0.7v0.7h-0.7zM161.26 56.31h0.7v0.7h-0.7zM166.75 54.37h0.7v0.7h-0.7zM163.76 53.43h0.7v0.7h-0.7zM165.71 52.67h0.7v0.7h-0.7zM171.13 61.68h0.7v0.7h-0.7zM166.61 60.96h0.7v0.7h-0.7zM166.54 53.7h0.7v0.7h-0.7zM163.91 53.74h0.7v0.7h-0.7zM167.08 57.81h0.7v0.7h-0.7zM168.74 54.13h0.7v0.7h-0.7zM162.05 57.2h0.7v0.7h-0.7zM171.71 54.81h0.7v0.7h-0.7zM163.7 50.32h0.7v0.7h-0.7zM165.15 58.03h0.7v0.7h-0.7zM164.3 60.86h0.7v0.7h-0.7zM163.29 54.26h0.7v0.7h-0.7zM164.03 56.43h0.7v0.7h-0.7zM168.67 53.26h0.7v0.7h-0.7zM160.14 57.89h0.7v0.7h-0.7z" fill="#3044c4" opacity="0.5"/><g filter="url(#bl2)"><path d="M167.37 53.72C167.63 54.20 167.76 54.77 167.72 55.39C167.69 56.01 167.51 56.71 167.19 57.43C166.86 58.14 166.38 58.92 165.79 59.69C165.20 60.46 164.45 61.27 163.63 62.03C162.81 62.80 161.85 63.58 160.86 64.29C159.86 65.00 158.76 65.70 157.65 66.31C156.55 66.92 155.38 67.49 154.25 67.95C153.11 68.42 151.95 68.82 150.86 69.11C149.77 69.40 148.70 69.61 147.73 69.70C146.77 69.80 145.85 69.79 145.07 69.68C144.29 69.58 143.60 69.36 143.06 69.06C142.52 68.76 142.09 68.35 141.83 67.88C141.57 67.40 141.44 66.83 141.48 66.21C141.51 65.59 141.69 64.89 142.01 64.17C142.34 63.46 142.82 62.68 143.41 61.91C144.00 61.14 144.75 60.33 145.57 59.57C146.39 58.80 147.35 58.02 148.34 57.31C149.34 56.60 150.44 55.90 151.55 55.29C152.65 54.68 153.82 54.11 154.95 53.65C156.09 53.18 157.25 52.78 158.34 52.49C159.43 52.20 160.50 51.99 161.47 51.90C162.43 51.80 163.35 51.81 164.13 51.92C164.91 52.02 165.60 52.24 166.14 52.54C166.68 52.84 167.11 53.25 167.37 53.72Z" fill="#3044c4"/><path d="M165.79 54.58C166.03 55.01 166.14 55.52 166.11 56.08C166.08 56.64 165.92 57.27 165.63 57.91C165.34 58.56 164.90 59.26 164.37 59.95C163.84 60.64 163.17 61.37 162.43 62.06C161.69 62.75 160.83 63.45 159.93 64.09C159.03 64.73 158.04 65.36 157.05 65.91C156.06 66.46 155.00 66.97 153.98 67.39C152.96 67.81 151.91 68.17 150.93 68.43C149.96 68.69 148.99 68.88 148.12 68.96C147.25 69.05 146.42 69.04 145.72 68.95C145.02 68.85 144.40 68.66 143.91 68.39C143.42 68.12 143.04 67.75 142.81 67.32C142.57 66.89 142.46 66.38 142.49 65.82C142.52 65.26 142.68 64.63 142.97 63.99C143.26 63.34 143.70 62.64 144.23 61.95C144.76 61.26 145.43 60.53 146.17 59.84C146.91 59.15 147.77 58.45 148.67 57.81C149.57 57.17 150.56 56.54 151.55 55.99C152.54 55.44 153.60 54.93 154.62 54.51C155.64 54.09 156.69 53.73 157.67 53.47C158.64 53.21 159.61 53.02 160.48 52.94C161.35 52.85 162.18 52.86 162.88 52.95C163.58 53.05 164.20 53.24 164.69 53.51C165.18 53.78 165.56 54.15 165.79 54.58Z" fill="#2aa6d6"/><path d="M163.90 55.61C164.11 55.98 164.20 56.43 164.18 56.91C164.15 57.39 164.01 57.94 163.76 58.50C163.51 59.06 163.13 59.67 162.67 60.27C162.21 60.86 161.62 61.49 160.98 62.09C160.34 62.69 159.60 63.30 158.82 63.85C158.04 64.41 157.18 64.95 156.32 65.43C155.46 65.90 154.55 66.35 153.66 66.71C152.78 67.07 151.87 67.39 151.02 67.61C150.18 67.84 149.33 68.00 148.58 68.07C147.83 68.15 147.11 68.14 146.51 68.06C145.90 67.98 145.36 67.81 144.94 67.58C144.51 67.34 144.19 67.02 143.98 66.65C143.77 66.28 143.68 65.83 143.70 65.35C143.73 64.87 143.87 64.32 144.12 63.76C144.37 63.20 144.75 62.59 145.21 61.99C145.67 61.40 146.26 60.77 146.90 60.17C147.54 59.57 148.28 58.96 149.06 58.41C149.84 57.85 150.70 57.31 151.56 56.83C152.42 56.36 153.33 55.91 154.22 55.55C155.10 55.19 156.01 54.87 156.86 54.65C157.70 54.42 158.55 54.26 159.30 54.19C160.05 54.11 160.77 54.12 161.37 54.20C161.98 54.28 162.52 54.45 162.94 54.68C163.37 54.92 163.69 55.24 163.90 55.61Z" fill="#5cc05a"/><path d="M159.48 58.01C159.62 58.25 159.68 58.54 159.66 58.84C159.65 59.15 159.55 59.50 159.39 59.86C159.23 60.22 158.99 60.61 158.69 61.00C158.40 61.38 158.03 61.78 157.61 62.17C157.20 62.55 156.73 62.94 156.23 63.30C155.73 63.65 155.18 64.00 154.63 64.31C154.08 64.61 153.49 64.89 152.92 65.13C152.36 65.36 151.77 65.56 151.23 65.71C150.69 65.85 150.15 65.95 149.67 66.00C149.18 66.05 148.72 66.05 148.33 65.99C147.94 65.94 147.60 65.83 147.33 65.68C147.06 65.53 146.85 65.33 146.72 65.09C146.58 64.85 146.52 64.56 146.54 64.26C146.55 63.95 146.65 63.60 146.81 63.24C146.97 62.88 147.21 62.49 147.51 62.10C147.80 61.72 148.17 61.32 148.59 60.93C149.00 60.55 149.47 60.16 149.97 59.80C150.47 59.45 151.02 59.10 151.57 58.79C152.12 58.49 152.71 58.21 153.28 57.97C153.84 57.74 154.43 57.54 154.97 57.39C155.51 57.25 156.05 57.15 156.53 57.10C157.02 57.05 157.48 57.05 157.87 57.11C158.26 57.16 158.60 57.27 158.87 57.42C159.14 57.57 159.35 57.77 159.48 58.01Z" fill="#d6d832"/><path d="M155.70 60.07C155.77 60.19 155.80 60.34 155.79 60.50C155.78 60.66 155.74 60.85 155.65 61.03C155.57 61.22 155.44 61.42 155.29 61.62C155.14 61.82 154.94 62.03 154.73 62.23C154.51 62.43 154.27 62.63 154.01 62.82C153.75 63.00 153.46 63.18 153.17 63.34C152.89 63.50 152.58 63.65 152.29 63.77C151.99 63.89 151.69 64.00 151.41 64.07C151.13 64.15 150.84 64.20 150.59 64.22C150.34 64.25 150.10 64.25 149.90 64.22C149.70 64.19 149.52 64.14 149.38 64.06C149.24 63.98 149.13 63.87 149.06 63.75C148.99 63.63 148.96 63.48 148.97 63.32C148.98 63.16 149.02 62.97 149.11 62.79C149.19 62.60 149.32 62.40 149.47 62.20C149.62 62.00 149.82 61.79 150.03 61.59C150.25 61.39 150.49 61.19 150.75 61.00C151.01 60.82 151.30 60.64 151.59 60.48C151.87 60.32 152.18 60.17 152.47 60.05C152.77 59.93 153.07 59.82 153.35 59.75C153.63 59.67 153.92 59.62 154.17 59.60C154.42 59.57 154.66 59.57 154.86 59.60C155.06 59.63 155.24 59.68 155.38 59.76C155.52 59.84 155.63 59.95 155.70 60.07Z" fill="#f07a22"/></g></g><polygon points="140.01,65.19 171.29,48.31 171.29,66.67 142.26,82.06 137.02,74.3" fill="none" stroke="#3a3a80" stroke-width="0.6" stroke-linejoin="round" opacity="0.8"/><rect x="130.9" y="17.6" width="68" height="67.5" fill="none" stroke="#7a7a7a" stroke-width="0.75"/><line x1="131.2" y1="85.1" x2="131.2" y2="86.3" stroke="#666" stroke-width="0.5"/><text x="131.2" y="91.8" font-size="4" text-anchor="middle" fill="#555">0</text><line x1="143.77" y1="85.1" x2="143.77" y2="86.3" stroke="#666" stroke-width="0.5"/><text x="143.77" y="91.8" font-size="4" text-anchor="middle" fill="#555">1</text><line x1="156.73" y1="85.1" x2="156.73" y2="86.3" stroke="#666" stroke-width="0.5"/><text x="156.73" y="91.8" font-size="4" text-anchor="middle" fill="#555">2</text><line x1="169.7" y1="85.1" x2="169.7" y2="86.3" stroke="#666" stroke-width="0.5"/><text x="169.7" y="91.8" font-size="4" text-anchor="middle" fill="#555">3</text><line x1="182.37" y1="85.1" x2="182.37" y2="86.3" stroke="#666" stroke-width="0.5"/><text x="182.37" y="91.8" font-size="4" text-anchor="middle" fill="#555">4</text><line x1="196.33" y1="85.1" x2="196.33" y2="86.3" stroke="#666" stroke-width="0.5"/><text x="196.33" y="91.8" font-size="4" text-anchor="middle" fill="#555">5.2</text><line x1="129.7" y1="20.69" x2="130.9" y2="20.69" stroke="#666" stroke-width="0.5"/><text x="128.3" y="20.69" font-size="3.6" text-anchor="middle" fill="#555" transform="rotate(-90 128.3 20.69)">10<tspan font-size="2.6" dy="-1">4</tspan></text><line x1="129.7" y1="40.63" x2="130.9" y2="40.63" stroke="#666" stroke-width="0.5"/><text x="128.3" y="40.63" font-size="3.6" text-anchor="middle" fill="#555" transform="rotate(-90 128.3 40.63)">10<tspan font-size="2.6" dy="-1">3</tspan></text><line x1="129.7" y1="63.56" x2="130.9" y2="63.56" stroke="#666" stroke-width="0.5"/><text x="128.3" y="63.56" font-size="3.6" text-anchor="middle" fill="#555" transform="rotate(-90 128.3 63.56)">10<tspan font-size="2.6" dy="-1">2</tspan></text><line x1="129.7" y1="84.3" x2="130.9" y2="84.3" stroke="#666" stroke-width="0.5"/><text x="128.3" y="84.3" font-size="3.6" text-anchor="middle" fill="#555" transform="rotate(-90 128.3 84.3)">-10<tspan font-size="2.6" dy="-1">2</tspan></text><text x="175.03" y="42.96" font-size="4.3" fill="#2a9a4a">p-Kap1 +</text><text x="175.85" y="59.5" font-size="4.3" fill="#444">p-Kap1 −</text><text x="118.3" y="51.65" font-size="6.7" text-anchor="middle" fill="#222" stroke="#222" stroke-width="0.1" transform="rotate(-90 118.3 51.65)">p-Kap1 S473</text><text x="165.5" y="100.6" font-size="6.35" text-anchor="middle" fill="#222" stroke="#222" stroke-width="0.1">PI-A (10<tspan font-size="4.2" dy="-2">5</tspan><tspan dy="2">)</tspan></text><polygon points="243.87,64.7 242.25,49.96 243.06,33.55 250.62,26.51 265.74,23.83 270.26,25.51 275.6,30.53 275.6,47.28" fill="none" stroke="#d0a474" stroke-width="0.75" stroke-linejoin="round"/><g filter="url(#bl)"><path d="M273.2 43.1h.7v.7h-.7zM269.8 63.6h.7v.7h-.7zM247.6 63.3h.7v.7h-.7zM269.1 35.6h.7v.7h-.7zM267.8 36.9h.7v.7h-.7zM259.3 70.1h.7v.7h-.7zM260.2 67.6h.7v.7h-.7zM273.2 46.4h.7v.7h-.7zM265.0 36.4h.7v.7h-.7zM259.3 68.1h.7v.7h-.7zM275.8 42.7h.7v.7h-.7zM271.3 57.3h.7v.7h-.7zM272.4 40.2h.7v.7h-.7zM248.3 48.7h.7v.7h-.7zM265.2 35.0h.7v.7h-.7zM273.0 51.2h.7v.7h-.7zM271.2 50.6h.7v.7h-.7zM262.7 65.1h.7v.7h-.7zM270.1 60.9h.7v.7h-.7zM269.8 62.5h.7v.7h-.7zM249.8 68.7h.7v.7h-.7zM258.9 68.1h.7v.7h-.7zM251.1 39.4h.7v.7h-.7zM249.5 52.8h.7v.7h-.7zM272.3 49.1h.7v.7h-.7zM261.2 70.3h.7v.7h-.7zM248.3 56.3h.7v.7h-.7zM247.7 56.3h.7v.7h-.7zM247.5 52.1h.7v.7h-.7zM275.7 47.9h.7v.7h-.7zM273.4 55.2h.7v.7h-.7zM264.7 36.4h.7v.7h-.7zM253.6 37.3h.7v.7h-.7zM250.2 41.1h.7v.7h-.7zM271.1 56.6h.7v.7h-.7zM273.0 42.6h.7v.7h-.7zM266.0 66.9h.7v.7h-.7zM274.0 52.5h.7v.7h-.7zM248.6 57.4h.7v.7h-.7zM272.8 48.5h.7v.7h-.7zM246.3 58.6h.7v.7h-.7zM260.2 37.4h.7v.7h-.7zM250.9 70.7h.7v.7h-.7zM253.4 39.2h.7v.7h-.7zM263.0 37.4h.7v.7h-.7zM259.6 66.7h.7v.7h-.7zM256.9 33.8h.7v.7h-.7zM259.1 36.4h.7v.7h-.7zM249.5 47.2h.7v.7h-.7zM247.7 64.4h.7v.7h-.7zM273.4 57.8h.7v.7h-.7zM270.2 62.1h.7v.7h-.7zM252.0 70.5h.7v.7h-.7zM248.8 60.1h.7v.7h-.7zM256.9 69.5h.7v.7h-.7zM251.4 53.1h.7v.7h-.7zM272.4 50.7h.7v.7h-.7zM256.3 68.0h.7v.7h-.7zM265.9 34.8h.7v.7h-.7zM265.5 67.5h.7v.7h-.7zM250.6 47.5h.7v.7h-.7zM266.0 65.0h.7v.7h-.7zM271.4 62.7h.7v.7h-.7zM247.7 43.7h.7v.7h-.7zM273.6 51.4h.7v.7h-.7zM274.4 39.8h.7v.7h-.7zM270.9 37.6h.7v.7h-.7zM270.4 37.0h.7v.7h-.7zM270.0 60.4h.7v.7h-.7zM259.5 66.0h.7v.7h-.7zM248.5 55.8h.7v.7h-.7zM254.0 37.5h.7v.7h-.7zM249.4 51.6h.7v.7h-.7zM256.5 38.6h.7v.7h-.7zM253.4 37.1h.7v.7h-.7zM264.1 66.1h.7v.7h-.7zM264.7 66.7h.7v.7h-.7zM272.7 62.0h.7v.7h-.7zM248.4 64.1h.7v.7h-.7zM273.7 50.6h.7v.7h-.7zM249.0 51.1h.7v.7h-.7zM248.9 64.9h.7v.7h-.7zM267.3 36.4h.7v.7h-.7zM252.5 70.8h.7v.7h-.7zM248.4 42.2h.7v.7h-.7zM274.7 37.9h.7v.7h-.7zM253.4 69.4h.7v.7h-.7zM257.9 37.2h.7v.7h-.7zM252.9 70.2h.7v.7h-.7zM260.4 67.6h.7v.7h-.7zM263.6 34.6h.7v.7h-.7zM267.4 64.8h.7v.7h-.7zM252.3 37.7h.7v.7h-.7zM248.7 70.1h.7v.7h-.7zM265.5 35.9h.7v.7h-.7zM256.2 69.3h.7v.7h-.7zM256.9 36.6h.7v.7h-.7zM255.0 69.9h.7v.7h-.7zM268.6 67.0h.7v.7h-.7zM272.9 47.8h.7v.7h-.7zM247.6 65.6h.7v.7h-.7zM247.1 63.1h.7v.7h-.7zM248.7 55.0h.7v.7h-.7zM249.6 45.5h.7v.7h-.7zM255.4 38.5h.7v.7h-.7zM248.4 39.0h.7v.7h-.7zM271.0 60.5h.7v.7h-.7zM259.1 68.7h.7v.7h-.7zM259.0 69.0h.7v.7h-.7zM272.9 53.0h.7v.7h-.7zM251.4 38.5h.7v.7h-.7zM271.4 37.6h.7v.7h-.7zM256.7 37.0h.7v.7h-.7zM267.8 35.9h.7v.7h-.7zM274.0 47.1h.7v.7h-.7zM274.3 38.4h.7v.7h-.7zM270.4 59.6h.7v.7h-.7zM270.2 36.2h.7v.7h-.7zM273.6 50.1h.7v.7h-.7zM248.5 47.1h.7v.7h-.7zM271.1 57.3h.7v.7h-.7zM254.9 71.0h.7v.7h-.7zM264.1 38.4h.7v.7h-.7zM263.5 35.8h.7v.7h-.7zM256.4 69.8h.7v.7h-.7zM269.7 61.7h.7v.7h-.7zM269.7 63.2h.7v.7h-.7zM273.0 56.1h.7v.7h-.7zM260.3 67.8h.7v.7h-.7zM267.7 66.6h.7v.7h-.7zM259.6 38.7h.7v.7h-.7zM250.8 70.3h.7v.7h-.7zM274.0 41.7h.7v.7h-.7zM267.8 67.2h.7v.7h-.7zM262.4 34.6h.7v.7h-.7zM258.3 69.2h.7v.7h-.7zM250.2 60.7h.7v.7h-.7zM253.5 37.8h.7v.7h-.7zM248.4 68.8h.7v.7h-.7zM255.4 70.3h.7v.7h-.7zM248.7 49.1h.7v.7h-.7zM262.3 67.5h.7v.7h-.7zM257.2 68.4h.7v.7h-.7zM248.0 61.3h.7v.7h-.7zM249.6 52.2h.7v.7h-.7zM248.5 68.6h.7v.7h-.7zM252.3 69.2h.7v.7h-.7zM270.7 38.9h.7v.7h-.7zM274.5 45.0h.7v.7h-.7zM257.0 37.8h.7v.7h-.7zM264.8 34.4h.7v.7h-.7zM248.4 66.6h.7v.7h-.7zM262.1 36.2h.7v.7h-.7zM258.4 69.5h.7v.7h-.7zM270.7 37.6h.7v.7h-.7zM247.0 61.0h.7v.7h-.7zM261.2 35.1h.7v.7h-.7zM264.1 36.6h.7v.7h-.7zM272.4 60.1h.7v.7h-.7zM273.3 57.8h.7v.7h-.7zM273.0 43.8h.7v.7h-.7zM267.5 64.2h.7v.7h-.7zM250.4 38.9h.7v.7h-.7zM273.9 43.6h.7v.7h-.7zM273.6 44.6h.7v.7h-.7zM250.7 38.7h.7v.7h-.7zM269.3 35.7h.7v.7h-.7zM249.2 70.4h.7v.7h-.7zM271.3 58.2h.7v.7h-.7zM269.6 37.5h.7v.7h-.7zM248.8 37.8h.7v.7h-.7zM247.6 54.4h.7v.7h-.7zM249.2 38.9h.7v.7h-.7zM251.2 44.6h.7v.7h-.7zM272.9 42.8h.7v.7h-.7zM271.5 53.9h.7v.7h-.7zM275.1 44.1h.7v.7h-.7zM262.6 36.8h.7v.7h-.7zM250.1 67.7h.7v.7h-.7zM273.3 52.0h.7v.7h-.7zM269.2 36.4h.7v.7h-.7zM272.5 49.6h.7v.7h-.7zM248.3 68.6h.7v.7h-.7zM247.1 51.7h.7v.7h-.7zM272.3 42.2h.7v.7h-.7zM249.8 72.5h.7v.7h-.7zM264.2 35.6h.7v.7h-.7zM272.2 62.1h.7v.7h-.7zM265.7 65.1h.7v.7h-.7zM273.3 43.0h.7v.7h-.7zM256.1 69.9h.7v.7h-.7zM263.9 37.4h.7v.7h-.7zM269.3 66.2h.7v.7h-.7zM266.4 66.5h.7v.7h-.7zM270.5 61.6h.7v.7h-.7zM268.8 63.2h.7v.7h-.7zM259.9 36.5h.7v.7h-.7zM251.8 37.1h.7v.7h-.7zM248.6 51.9h.7v.7h-.7zM256.7 38.2h.7v.7h-.7zM273.4 44.5h.7v.7h-.7zM253.2 70.5h.7v.7h-.7zM261.5 66.9h.7v.7h-.7zM250.0 42.7h.7v.7h-.7zM253.4 71.2h.7v.7h-.7zM262.1 66.5h.7v.7h-.7zM248.4 53.5h.7v.7h-.7zM250.0 70.6h.7v.7h-.7zM271.4 59.0h.7v.7h-.7zM247.7 51.3h.7v.7h-.7zM271.0 56.8h.7v.7h-.7zM255.2 68.9h.7v.7h-.7zM270.1 61.4h.7v.7h-.7zM248.8 39.9h.7v.7h-.7zM246.0 64.2h.7v.7h-.7zM251.8 71.4h.7v.7h-.7zM271.8 61.0h.7v.7h-.7zM265.3 66.0h.7v.7h-.7zM248.3 58.6h.7v.7h-.7zM249.4 60.8h.7v.7h-.7zM268.5 38.6h.7v.7h-.7zM259.0 37.8h.7v.7h-.7zM259.3 67.7h.7v.7h-.7zM273.8 47.0h.7v.7h-.7zM270.1 65.8h.7v.7h-.7zM270.4 36.4h.7v.7h-.7zM248.4 44.0h.7v.7h-.7zM249.5 57.2h.7v.7h-.7zM264.6 66.8h.7v.7h-.7zM270.0 61.6h.7v.7h-.7zM247.8 58.0h.7v.7h-.7zM259.8 34.1h.7v.7h-.7zM263.0 67.8h.7v.7h-.7zM272.1 60.7h.7v.7h-.7zM250.8 57.4h.7v.7h-.7zM258.6 69.6h.7v.7h-.7zM260.1 67.3h.7v.7h-.7zM248.3 43.4h.7v.7h-.7zM262.5 64.9h.7v.7h-.7zM249.4 53.6h.7v.7h-.7zM249.3 49.6h.7v.7h-.7zM246.4 46.2h.7v.7h-.7zM269.9 36.2h.7v.7h-.7zM249.8 46.7h.7v.7h-.7zM264.5 35.9h.7v.7h-.7zM273.2 55.1h.7v.7h-.7zM247.9 46.7h.7v.7h-.7zM256.6 37.6h.7v.7h-.7zM261.5 36.2h.7v.7h-.7zM248.0 37.3h.7v.7h-.7zM272.5 57.2h.7v.7h-.7zM249.6 65.8h.7v.7h-.7zM248.4 59.0h.7v.7h-.7zM257.0 38.5h.7v.7h-.7zM250.9 52.8h.7v.7h-.7zM246.8 52.9h.7v.7h-.7zM266.1 35.8h.7v.7h-.7zM249.6 42.9h.7v.7h-.7zM267.9 65.6h.7v.7h-.7zM271.7 43.0h.7v.7h-.7zM249.9 48.9h.7v.7h-.7zM248.3 68.9h.7v.7h-.7zM272.2 39.1h.7v.7h-.7zM274.4 48.5h.7v.7h-.7zM271.2 62.0h.7v.7h-.7zM247.9 67.0h.7v.7h-.7zM273.4 50.9h.7v.7h-.7zM264.2 35.8h.7v.7h-.7zM273.5 51.2h.7v.7h-.7zM271.5 62.7h.7v.7h-.7zM247.8 51.9h.7v.7h-.7zM258.8 36.6h.7v.7h-.7zM269.0 64.0h.7v.7h-.7zM273.8 58.2h.7v.7h-.7zM260.8 69.4h.7v.7h-.7zM262.8 67.2h.7v.7h-.7zM274.0 49.2h.7v.7h-.7zM250.3 48.3h.7v.7h-.7zM250.7 42.8h.7v.7h-.7zM271.7 37.6h.7v.7h-.7zM249.4 63.3h.7v.7h-.7zM247.6 48.6h.7v.7h-.7zM256.1 35.7h.7v.7h-.7zM248.2 51.6h.7v.7h-.7zM248.4 45.3h.7v.7h-.7zM265.7 66.1h.7v.7h-.7zM257.3 38.2h.7v.7h-.7zM249.0 53.2h.7v.7h-.7zM247.5 65.8h.7v.7h-.7zM249.7 43.4h.7v.7h-.7zM250.5 71.7h.7v.7h-.7zM273.3 49.0h.7v.7h-.7zM272.6 54.2h.7v.7h-.7zM266.1 67.6h.7v.7h-.7zM248.3 48.2h.7v.7h-.7zM264.0 35.3h.7v.7h-.7zM249.5 71.8h.7v.7h-.7zM272.1 52.5h.7v.7h-.7zM271.6 61.2h.7v.7h-.7zM270.4 60.9h.7v.7h-.7zM271.6 35.8h.7v.7h-.7zM248.7 68.3h.7v.7h-.7zM251.3 69.9h.7v.7h-.7zM274.4 50.6h.7v.7h-.7zM247.9 47.7h.7v.7h-.7zM249.2 62.4h.7v.7h-.7zM262.4 66.3h.7v.7h-.7zM248.7 66.0h.7v.7h-.7zM272.0 63.1h.7v.7h-.7zM256.9 69.3h.7v.7h-.7zM248.4 44.7h.7v.7h-.7zM248.5 51.3h.7v.7h-.7zM248.0 64.6h.7v.7h-.7zM248.9 62.0h.7v.7h-.7zM271.0 62.5h.7v.7h-.7zM263.3 36.6h.7v.7h-.7zM258.0 69.0h.7v.7h-.7zM251.9 39.4h.7v.7h-.7zM259.6 36.6h.7v.7h-.7zM261.6 37.2h.7v.7h-.7zM266.1 32.7h.7v.7h-.7zM271.8 38.0h.7v.7h-.7zM266.6 64.9h.7v.7h-.7zM252.7 68.5h.7v.7h-.7zM268.4 64.1h.7v.7h-.7zM267.9 66.7h.7v.7h-.7zM272.0 41.1h.7v.7h-.7zM272.1 38.0h.7v.7h-.7zM251.1 41.9h.7v.7h-.7zM251.4 70.2h.7v.7h-.7zM274.4 44.2h.7v.7h-.7zM272.0 40.0h.7v.7h-.7zM247.5 50.2h.7v.7h-.7zM249.9 70.4h.7v.7h-.7zM272.7 64.4h.7v.7h-.7zM273.1 51.2h.7v.7h-.7zM269.9 59.5h.7v.7h-.7zM249.8 46.0h.7v.7h-.7zM266.8 67.6h.7v.7h-.7zM252.9 36.0h.7v.7h-.7zM269.7 36.4h.7v.7h-.7zM249.8 62.6h.7v.7h-.7zM255.6 38.9h.7v.7h-.7zM259.5 68.6h.7v.7h-.7zM265.6 36.9h.7v.7h-.7zM272.6 52.9h.7v.7h-.7zM247.5 56.5h.7v.7h-.7zM250.6 38.4h.7v.7h-.7zM245.5 67.9h.7v.7h-.7zM262.4 38.1h.7v.7h-.7zM272.3 63.3h.7v.7h-.7zM252.3 69.3h.7v.7h-.7zM274.1 42.9h.7v.7h-.7zM269.7 57.6h.7v.7h-.7zM273.2 47.9h.7v.7h-.7zM267.9 35.4h.7v.7h-.7zM248.2 47.6h.7v.7h-.7zM275.0 47.0h.7v.7h-.7zM271.9 64.1h.7v.7h-.7zM272.2 52.1h.7v.7h-.7zM274.7 44.5h.7v.7h-.7zM247.1 62.4h.7v.7h-.7zM251.2 43.8h.7v.7h-.7zM248.2 51.9h.7v.7h-.7zM271.9 38.2h.7v.7h-.7zM273.2 51.2h.7v.7h-.7zM272.7 52.3h.7v.7h-.7zM251.6 71.5h.7v.7h-.7zM255.4 70.1h.7v.7h-.7zM251.4 70.5h.7v.7h-.7zM273.4 40.2h.7v.7h-.7zM260.7 36.8h.7v.7h-.7zM271.1 55.8h.7v.7h-.7zM266.9 65.5h.7v.7h-.7zM266.4 36.6h.7v.7h-.7zM272.2 41.9h.7v.7h-.7zM247.1 51.6h.7v.7h-.7zM248.8 69.8h.7v.7h-.7zM266.0 66.9h.7v.7h-.7zM273.3 46.3h.7v.7h-.7zM247.7 50.7h.7v.7h-.7zM273.4 49.2h.7v.7h-.7zM268.4 65.3h.7v.7h-.7zM270.8 38.3h.7v.7h-.7zM248.7 54.8h.7v.7h-.7zM265.3 67.7h.7v.7h-.7zM273.4 45.9h.7v.7h-.7zM273.1 57.3h.7v.7h-.7zM272.5 52.5h.7v.7h-.7zM251.0 70.0h.7v.7h-.7zM271.8 57.8h.7v.7h-.7zM270.4 64.3h.7v.7h-.7zM248.4 57.8h.7v.7h-.7zM269.6 64.2h.7v.7h-.7zM248.3 59.6h.7v.7h-.7zM265.2 67.9h.7v.7h-.7zM245.5 63.4h.7v.7h-.7zM271.5 61.8h.7v.7h-.7zM246.0 63.4h.7v.7h-.7zM267.5 66.3h.7v.7h-.7zM274.2 48.0h.7v.7h-.7zM274.3 43.5h.7v.7h-.7zM250.0 71.5h.7v.7h-.7zM270.8 65.9h.7v.7h-.7zM254.7 71.7h.7v.7h-.7zM246.5 45.9h.7v.7h-.7zM270.5 37.3h.7v.7h-.7zM248.0 42.7h.7v.7h-.7zM264.9 37.6h.7v.7h-.7zM273.2 48.0h.7v.7h-.7zM257.1 68.6h.7v.7h-.7zM274.4 54.9h.7v.7h-.7zM256.4 69.9h.7v.7h-.7zM264.7 37.5h.7v.7h-.7zM258.3 68.7h.7v.7h-.7zM270.3 38.5h.7v.7h-.7zM248.7 58.5h.7v.7h-.7zM250.7 41.7h.7v.7h-.7zM262.6 35.2h.7v.7h-.7zM248.6 47.0h.7v.7h-.7zM265.3 34.7h.7v.7h-.7zM263.0 37.3h.7v.7h-.7zM271.6 51.6h.7v.7h-.7zM247.5 56.2h.7v.7h-.7zM272.8 49.9h.7v.7h-.7zM246.7 56.2h.7v.7h-.7zM261.4 37.8h.7v.7h-.7zM270.0 61.7h.7v.7h-.7zM252.4 38.6h.7v.7h-.7zM264.4 36.4h.7v.7h-.7zM266.5 35.4h.7v.7h-.7zM255.7 37.9h.7v.7h-.7zM259.3 37.0h.7v.7h-.7zM272.9 40.5h.7v.7h-.7zM253.2 38.5h.7v.7h-.7zM255.8 70.7h.7v.7h-.7zM268.0 37.0h.7v.7h-.7zM270.8 65.7h.7v.7h-.7zM249.4 49.6h.7v.7h-.7zM248.8 49.3h.7v.7h-.7zM272.9 56.5h.7v.7h-.7zM263.7 37.3h.7v.7h-.7zM272.2 56.5h.7v.7h-.7zM255.6 68.5h.7v.7h-.7zM258.4 38.1h.7v.7h-.7zM248.4 56.5h.7v.7h-.7zM273.0 49.7h.7v.7h-.7zM247.3 53.0h.7v.7h-.7zM249.1 70.5h.7v.7h-.7zM248.2 69.8h.7v.7h-.7zM250.5 53.8h.7v.7h-.7zM249.6 49.5h.7v.7h-.7zM251.8 37.1h.7v.7h-.7zM265.1 35.8h.7v.7h-.7zM270.8 36.7h.7v.7h-.7zM270.8 36.9h.7v.7h-.7zM248.9 68.0h.7v.7h-.7zM248.0 70.4h.7v.7h-.7zM273.5 50.8h.7v.7h-.7zM248.4 44.6h.7v.7h-.7zM268.7 65.0h.7v.7h-.7zM248.9 55.6h.7v.7h-.7zM272.8 60.1h.7v.7h-.7zM249.8 70.6h.7v.7h-.7zM248.6 50.8h.7v.7h-.7zM253.2 69.5h.7v.7h-.7zM248.7 50.7h.7v.7h-.7zM271.6 38.3h.7v.7h-.7zM266.4 35.1h.7v.7h-.7zM247.8 69.5h.7v.7h-.7zM253.4 40.0h.7v.7h-.7zM251.9 71.1h.7v.7h-.7zM258.9 35.7h.7v.7h-.7zM273.7 46.8h.7v.7h-.7zM249.4 55.8h.7v.7h-.7zM269.3 64.0h.7v.7h-.7zM256.0 68.8h.7v.7h-.7zM249.3 60.6h.7v.7h-.7zM249.1 53.3h.7v.7h-.7zM269.9 66.3h.7v.7h-.7zM248.7 66.0h.7v.7h-.7zM269.7 65.9h.7v.7h-.7zM248.2 63.3h.7v.7h-.7zM269.1 64.4h.7v.7h-.7zM249.5 45.1h.7v.7h-.7zM248.8 65.7h.7v.7h-.7zM250.3 41.1h.7v.7h-.7zM270.6 60.0h.7v.7h-.7zM266.0 66.0h.7v.7h-.7zM248.8 65.5h.7v.7h-.7zM269.9 37.2h.7v.7h-.7zM264.2 67.6h.7v.7h-.7zM257.0 35.7h.7v.7h-.7zM256.1 69.0h.7v.7h-.7zM249.1 70.2h.7v.7h-.7zM268.7 62.4h.7v.7h-.7zM270.7 66.1h.7v.7h-.7zM266.3 36.7h.7v.7h-.7zM249.2 44.9h.7v.7h-.7zM260.9 69.4h.7v.7h-.7zM270.4 62.8h.7v.7h-.7zM276.4 46.7h.7v.7h-.7zM249.1 47.0h.7v.7h-.7zM261.1 68.7h.7v.7h-.7zM250.1 40.3h.7v.7h-.7zM264.3 35.8h.7v.7h-.7zM271.2 57.7h.7v.7h-.7zM248.4 48.9h.7v.7h-.7zM257.4 67.9h.7v.7h-.7zM274.5 55.4h.7v.7h-.7zM261.3 69.1h.7v.7h-.7zM261.3 68.1h.7v.7h-.7zM248.5 63.1h.7v.7h-.7zM271.1 60.7h.7v.7h-.7zM248.7 53.3h.7v.7h-.7zM247.7 55.0h.7v.7h-.7zM248.7 68.7h.7v.7h-.7zM248.8 64.8h.7v.7h-.7zM266.5 66.8h.7v.7h-.7zM247.3 52.7h.7v.7h-.7zM248.7 66.6h.7v.7h-.7zM252.2 68.5h.7v.7h-.7zM247.9 52.4h.7v.7h-.7zM262.5 66.9h.7v.7h-.7zM258.2 38.9h.7v.7h-.7zM247.2 63.4h.7v.7h-.7zM272.0 40.0h.7v.7h-.7zM255.0 70.3h.7v.7h-.7zM247.8 62.5h.7v.7h-.7zM271.3 35.2h.7v.7h-.7zM247.5 57.2h.7v.7h-.7zM248.3 70.6h.7v.7h-.7zM274.1 49.6h.7v.7h-.7zM272.1 47.7h.7v.7h-.7zM262.9 66.8h.7v.7h-.7zM261.9 67.9h.7v.7h-.7zM265.6 36.6h.7v.7h-.7zM268.2 65.0h.7v.7h-.7zM248.3 47.6h.7v.7h-.7zM255.4 68.6h.7v.7h-.7zM250.4 42.9h.7v.7h-.7zM263.7 66.3h.7v.7h-.7zM269.6 65.9h.7v.7h-.7zM250.1 67.5h.7v.7h-.7zM263.8 36.3h.7v.7h-.7zM272.3 53.6h.7v.7h-.7zM271.9 42.3h.7v.7h-.7zM248.8 69.5h.7v.7h-.7zM259.2 69.6h.7v.7h-.7zM274.1 40.8h.7v.7h-.7zM269.9 37.5h.7v.7h-.7zM249.0 65.6h.7v.7h-.7zM260.2 35.4h.7v.7h-.7zM272.1 39.4h.7v.7h-.7zM246.9 41.7h.7v.7h-.7zM269.3 36.2h.7v.7h-.7zM271.8 38.8h.7v.7h-.7zM250.0 72.0h.7v.7h-.7zM252.0 69.5h.7v.7h-.7zM273.2 48.3h.7v.7h-.7z" fill="#3050cc" opacity="0.6"/><g filter="url(#bl2)"><path d="M251.80 39.20C253.38 38.08 256.22 37.83 259.00 37.30C261.78 36.77 266.25 35.47 268.50 36.00C270.75 36.53 271.63 38.62 272.50 40.50C273.37 42.38 273.78 44.72 273.70 47.30C273.62 49.88 272.72 53.12 272.00 56.00C271.28 58.88 271.57 62.60 269.40 64.60C267.23 66.60 262.32 66.98 259.00 68.00C255.68 69.02 251.28 71.87 249.50 70.70C247.72 69.53 248.43 64.18 248.30 61.00C248.17 57.82 248.50 54.43 248.70 51.60C248.90 48.77 248.98 46.07 249.50 44.00C250.02 41.93 250.22 40.32 251.80 39.20Z" fill="#3044c4"/><path d="M252.37 40.33C253.80 39.32 256.35 39.10 258.85 38.62C261.36 38.14 265.38 36.97 267.40 37.45C269.42 37.93 270.22 39.80 271.00 41.50C271.78 43.20 272.15 45.29 272.08 47.62C272.00 49.95 271.19 52.86 270.55 55.45C269.91 58.05 270.16 61.39 268.21 63.19C266.26 64.99 261.84 65.33 258.85 66.25C255.87 67.17 251.91 69.73 250.30 68.68C248.69 67.63 249.34 62.82 249.22 59.95C249.10 57.09 249.40 54.04 249.58 51.49C249.76 48.94 249.84 46.51 250.30 44.65C250.77 42.79 250.94 41.34 252.37 40.33Z" fill="#2aa6d6"/><path d="M252.94 41.46C254.21 40.57 256.47 40.37 258.70 39.94C260.93 39.51 264.50 38.47 266.30 38.90C268.10 39.33 268.81 40.99 269.50 42.50C270.19 44.01 270.53 45.87 270.46 47.94C270.39 50.01 269.67 52.59 269.10 54.90C268.53 57.21 268.75 60.18 267.02 61.78C265.29 63.38 261.35 63.69 258.70 64.50C256.05 65.31 252.53 67.59 251.10 66.66C249.67 65.73 250.25 61.45 250.14 58.90C250.03 56.35 250.30 53.65 250.46 51.38C250.62 49.11 250.69 46.95 251.10 45.30C251.51 43.65 251.67 42.35 252.94 41.46Z" fill="#5cc05a"/></g><g filter="url(#bl2)"><ellipse cx="258.5" cy="61" rx="8.5" ry="3.4" fill="#52bca0" transform="rotate(-20 258.5 61)"/><ellipse cx="259.5" cy="46" rx="8.5" ry="6.8" fill="#a8d040" transform="rotate(-35 259.5 46)"/><ellipse cx="258" cy="47.3" rx="5.8" ry="4.2" fill="#d6d832" transform="rotate(-35 258 47.3)"/><ellipse cx="256.6" cy="48.2" rx="3.4" ry="2.5" fill="#f07a22" transform="rotate(-35 256.6 48.2)"/></g></g><polygon points="244.54,65.03 275.6,48.28 275.6,66.51 246.77,81.78 241.57,74.08" fill="none" stroke="#3a3a80" stroke-width="0.6" stroke-linejoin="round" opacity="0.8"/><rect x="235.5" y="17.8" width="67.5" height="67" fill="none" stroke="#7a7a7a" stroke-width="0.75"/><line x1="235.79" y1="84.8" x2="235.79" y2="86" stroke="#666" stroke-width="0.5"/><text x="235.79" y="91.5" font-size="4" text-anchor="middle" fill="#555">0</text><line x1="248.27" y1="84.8" x2="248.27" y2="86" stroke="#666" stroke-width="0.5"/><text x="248.27" y="91.5" font-size="4" text-anchor="middle" fill="#555">1</text><line x1="261.14" y1="84.8" x2="261.14" y2="86" stroke="#666" stroke-width="0.5"/><text x="261.14" y="91.5" font-size="4" text-anchor="middle" fill="#555">2</text><line x1="274.02" y1="84.8" x2="274.02" y2="86" stroke="#666" stroke-width="0.5"/><text x="274.02" y="91.5" font-size="4" text-anchor="middle" fill="#555">3</text><line x1="286.59" y1="84.8" x2="286.59" y2="86" stroke="#666" stroke-width="0.5"/><text x="286.59" y="91.5" font-size="4" text-anchor="middle" fill="#555">4</text><line x1="300.45" y1="84.8" x2="300.45" y2="86" stroke="#666" stroke-width="0.5"/><text x="300.45" y="91.5" font-size="4" text-anchor="middle" fill="#555">5.2</text><line x1="234.3" y1="20.87" x2="235.5" y2="20.87" stroke="#666" stroke-width="0.5"/><text x="232.9" y="20.87" font-size="3.6" text-anchor="middle" fill="#555" transform="rotate(-90 232.9 20.87)">10<tspan font-size="2.6" dy="-1">4</tspan></text><line x1="234.3" y1="40.66" x2="235.5" y2="40.66" stroke="#666" stroke-width="0.5"/><text x="232.9" y="40.66" font-size="3.6" text-anchor="middle" fill="#555" transform="rotate(-90 232.9 40.66)">10<tspan font-size="2.6" dy="-1">3</tspan></text><line x1="234.3" y1="63.42" x2="235.5" y2="63.42" stroke="#666" stroke-width="0.5"/><text x="232.9" y="63.42" font-size="3.6" text-anchor="middle" fill="#555" transform="rotate(-90 232.9 63.42)">10<tspan font-size="2.6" dy="-1">2</tspan></text><line x1="234.3" y1="84.01" x2="235.5" y2="84.01" stroke="#666" stroke-width="0.5"/><text x="232.9" y="84.01" font-size="3.6" text-anchor="middle" fill="#555" transform="rotate(-90 232.9 84.01)">-10<tspan font-size="2.6" dy="-1">2</tspan></text><text x="279.31" y="42.98" font-size="4.3" fill="#2a9a4a">p-Kap1 +</text><text x="280.12" y="59.4" font-size="4.3" fill="#444">p-Kap1 −</text><text x="222.9" y="51.6" font-size="6.7" text-anchor="middle" fill="#222" stroke="#222" stroke-width="0.1" transform="rotate(-90 222.9 51.6)">p-Kap1 S473</text><text x="269.85" y="100.3" font-size="6.35" text-anchor="middle" fill="#222" stroke="#222" stroke-width="0.1">PI-A (10<tspan font-size="4.2" dy="-2">5</tspan><tspan dy="2">)</tspan></text><polygon points="33.1,192.78 31.82,178.16 32.29,160.07 40.82,153.15 56.89,151.09 64.61,156.94 64.61,174.7" fill="none" stroke="#d0a474" stroke-width="0.75" stroke-linejoin="round"/><g filter="url(#bl)"><path d="M57.8 162.2h.7v.7h-.7zM57.0 165.3h.7v.7h-.7zM37.2 176.2h.7v.7h-.7zM52.0 177.6h.7v.7h-.7zM53.6 162.4h.7v.7h-.7zM39.8 162.2h.7v.7h-.7zM40.0 177.8h.7v.7h-.7zM55.8 173.8h.7v.7h-.7zM56.8 164.9h.7v.7h-.7zM35.0 166.3h.7v.7h-.7zM57.1 175.1h.7v.7h-.7zM57.0 169.6h.7v.7h-.7zM55.2 162.7h.7v.7h-.7zM52.5 160.1h.7v.7h-.7zM59.6 172.5h.7v.7h-.7zM46.2 161.1h.7v.7h-.7zM57.6 173.9h.7v.7h-.7zM56.6 162.9h.7v.7h-.7zM53.5 176.5h.7v.7h-.7zM58.3 163.5h.7v.7h-.7zM37.0 176.7h.7v.7h-.7zM56.0 175.1h.7v.7h-.7zM37.7 169.2h.7v.7h-.7zM56.3 167.7h.7v.7h-.7zM35.0 167.6h.7v.7h-.7zM38.5 170.4h.7v.7h-.7zM53.0 176.9h.7v.7h-.7zM58.7 170.4h.7v.7h-.7zM55.9 171.6h.7v.7h-.7zM41.7 176.2h.7v.7h-.7zM55.0 161.9h.7v.7h-.7zM50.8 176.5h.7v.7h-.7zM57.8 168.3h.7v.7h-.7zM45.3 177.4h.7v.7h-.7zM36.1 175.3h.7v.7h-.7zM40.0 177.0h.7v.7h-.7zM50.1 176.5h.7v.7h-.7zM55.5 170.2h.7v.7h-.7zM43.1 162.6h.7v.7h-.7zM38.3 174.9h.7v.7h-.7zM53.8 163.5h.7v.7h-.7zM36.8 175.3h.7v.7h-.7zM44.2 163.6h.7v.7h-.7zM35.1 173.5h.7v.7h-.7zM37.8 175.0h.7v.7h-.7zM43.3 162.7h.7v.7h-.7zM40.0 178.1h.7v.7h-.7zM56.1 160.6h.7v.7h-.7zM51.6 158.5h.7v.7h-.7zM57.5 162.5h.7v.7h-.7zM52.0 178.0h.7v.7h-.7zM38.3 177.2h.7v.7h-.7zM36.2 173.4h.7v.7h-.7zM37.6 162.7h.7v.7h-.7zM36.8 172.2h.7v.7h-.7zM57.4 168.3h.7v.7h-.7zM55.3 160.2h.7v.7h-.7zM54.6 161.7h.7v.7h-.7zM57.4 165.6h.7v.7h-.7zM51.3 178.3h.7v.7h-.7zM42.2 177.8h.7v.7h-.7zM45.1 163.8h.7v.7h-.7zM46.5 160.7h.7v.7h-.7zM56.2 162.1h.7v.7h-.7zM37.4 176.1h.7v.7h-.7zM57.2 167.4h.7v.7h-.7zM54.3 175.2h.7v.7h-.7zM51.2 179.2h.7v.7h-.7zM40.3 177.1h.7v.7h-.7zM36.8 175.4h.7v.7h-.7zM47.3 164.1h.7v.7h-.7zM45.8 177.6h.7v.7h-.7zM42.0 163.3h.7v.7h-.7zM39.4 164.8h.7v.7h-.7zM39.5 178.7h.7v.7h-.7zM43.5 163.3h.7v.7h-.7zM56.3 171.6h.7v.7h-.7zM51.8 160.2h.7v.7h-.7zM37.3 165.9h.7v.7h-.7zM56.9 168.0h.7v.7h-.7zM41.1 175.6h.7v.7h-.7zM37.4 177.9h.7v.7h-.7zM42.3 177.1h.7v.7h-.7zM49.7 160.7h.7v.7h-.7zM46.0 160.8h.7v.7h-.7zM36.3 165.4h.7v.7h-.7zM47.5 177.5h.7v.7h-.7zM44.4 160.6h.7v.7h-.7zM42.2 161.6h.7v.7h-.7zM37.7 179.6h.7v.7h-.7zM54.9 161.6h.7v.7h-.7zM57.7 168.9h.7v.7h-.7zM37.9 172.6h.7v.7h-.7zM58.6 162.2h.7v.7h-.7zM35.5 173.0h.7v.7h-.7zM58.0 168.8h.7v.7h-.7zM39.4 163.8h.7v.7h-.7zM56.1 176.2h.7v.7h-.7zM47.5 161.4h.7v.7h-.7zM38.5 177.6h.7v.7h-.7zM54.2 175.9h.7v.7h-.7zM35.2 168.9h.7v.7h-.7zM52.1 160.9h.7v.7h-.7zM37.3 176.7h.7v.7h-.7zM56.8 174.6h.7v.7h-.7zM42.4 177.4h.7v.7h-.7zM48.0 161.2h.7v.7h-.7zM39.5 166.9h.7v.7h-.7zM50.1 177.5h.7v.7h-.7zM47.5 160.5h.7v.7h-.7zM45.5 161.3h.7v.7h-.7zM53.2 176.5h.7v.7h-.7zM57.8 161.6h.7v.7h-.7zM42.9 162.4h.7v.7h-.7zM35.6 169.1h.7v.7h-.7zM35.9 171.8h.7v.7h-.7zM36.1 166.9h.7v.7h-.7zM56.5 163.4h.7v.7h-.7zM35.6 174.6h.7v.7h-.7zM54.1 176.1h.7v.7h-.7zM55.5 162.8h.7v.7h-.7zM43.3 160.6h.7v.7h-.7zM37.6 169.8h.7v.7h-.7zM50.1 176.5h.7v.7h-.7zM56.2 162.2h.7v.7h-.7zM57.4 168.0h.7v.7h-.7zM59.6 174.3h.7v.7h-.7zM36.0 179.9h.7v.7h-.7zM37.2 171.3h.7v.7h-.7zM37.0 167.4h.7v.7h-.7zM39.9 162.5h.7v.7h-.7zM37.1 163.9h.7v.7h-.7zM47.3 160.4h.7v.7h-.7zM36.3 165.2h.7v.7h-.7zM57.8 162.8h.7v.7h-.7zM38.9 164.2h.7v.7h-.7zM57.6 170.3h.7v.7h-.7zM40.5 162.8h.7v.7h-.7zM40.0 166.3h.7v.7h-.7zM50.1 177.6h.7v.7h-.7zM48.7 160.5h.7v.7h-.7zM56.0 172.8h.7v.7h-.7zM36.8 164.4h.7v.7h-.7zM36.8 166.6h.7v.7h-.7zM54.0 161.2h.7v.7h-.7zM36.3 168.6h.7v.7h-.7zM57.1 164.2h.7v.7h-.7zM53.0 175.9h.7v.7h-.7zM57.7 163.3h.7v.7h-.7zM56.3 169.6h.7v.7h-.7zM57.2 167.4h.7v.7h-.7zM39.2 177.5h.7v.7h-.7zM44.4 179.0h.7v.7h-.7zM58.5 168.9h.7v.7h-.7zM45.6 162.1h.7v.7h-.7zM45.6 176.1h.7v.7h-.7zM45.0 161.5h.7v.7h-.7zM55.0 175.3h.7v.7h-.7zM50.5 176.5h.7v.7h-.7zM37.0 175.3h.7v.7h-.7zM38.3 177.4h.7v.7h-.7zM36.2 178.6h.7v.7h-.7zM40.8 164.1h.7v.7h-.7zM42.6 177.5h.7v.7h-.7zM57.3 161.2h.7v.7h-.7zM57.5 172.0h.7v.7h-.7zM56.4 167.8h.7v.7h-.7zM42.9 177.2h.7v.7h-.7zM48.5 177.1h.7v.7h-.7zM38.4 164.5h.7v.7h-.7zM45.6 161.8h.7v.7h-.7zM55.5 175.5h.7v.7h-.7zM57.1 168.9h.7v.7h-.7zM36.5 174.9h.7v.7h-.7zM56.3 173.3h.7v.7h-.7zM50.8 161.4h.7v.7h-.7zM55.5 161.5h.7v.7h-.7zM58.6 165.3h.7v.7h-.7zM57.2 164.8h.7v.7h-.7zM34.8 173.0h.7v.7h-.7zM57.2 169.0h.7v.7h-.7zM36.3 167.5h.7v.7h-.7zM36.2 169.7h.7v.7h-.7zM46.7 162.1h.7v.7h-.7zM38.0 173.5h.7v.7h-.7zM57.9 161.7h.7v.7h-.7zM43.9 178.8h.7v.7h-.7zM59.9 164.5h.7v.7h-.7zM52.2 177.9h.7v.7h-.7zM36.9 175.3h.7v.7h-.7zM35.1 177.2h.7v.7h-.7zM34.9 167.6h.7v.7h-.7zM56.1 164.3h.7v.7h-.7zM36.7 168.6h.7v.7h-.7zM36.2 166.6h.7v.7h-.7zM39.6 178.2h.7v.7h-.7zM58.3 168.9h.7v.7h-.7zM58.4 162.7h.7v.7h-.7zM36.3 177.8h.7v.7h-.7zM58.4 163.0h.7v.7h-.7zM41.6 176.6h.7v.7h-.7zM57.6 163.7h.7v.7h-.7zM57.2 169.0h.7v.7h-.7zM51.0 178.7h.7v.7h-.7zM56.2 173.2h.7v.7h-.7zM38.0 172.5h.7v.7h-.7zM50.4 176.5h.7v.7h-.7zM35.9 175.8h.7v.7h-.7zM42.5 161.8h.7v.7h-.7zM36.6 175.7h.7v.7h-.7zM58.9 165.7h.7v.7h-.7zM57.9 164.9h.7v.7h-.7zM46.9 180.2h.7v.7h-.7zM56.0 162.0h.7v.7h-.7zM37.2 171.8h.7v.7h-.7zM57.3 169.5h.7v.7h-.7zM41.8 176.6h.7v.7h-.7zM54.2 160.3h.7v.7h-.7zM47.5 161.9h.7v.7h-.7zM52.9 176.7h.7v.7h-.7zM60.3 168.0h.7v.7h-.7zM35.5 173.2h.7v.7h-.7zM46.2 161.1h.7v.7h-.7zM55.1 163.4h.7v.7h-.7zM55.7 161.9h.7v.7h-.7zM55.9 166.5h.7v.7h-.7zM55.3 175.4h.7v.7h-.7zM38.7 164.2h.7v.7h-.7zM45.2 161.9h.7v.7h-.7zM58.1 164.7h.7v.7h-.7zM35.6 166.4h.7v.7h-.7zM58.3 165.7h.7v.7h-.7zM52.8 176.6h.7v.7h-.7zM49.7 161.2h.7v.7h-.7zM47.6 178.3h.7v.7h-.7zM56.9 173.9h.7v.7h-.7zM37.3 175.1h.7v.7h-.7zM34.3 175.6h.7v.7h-.7zM43.3 178.3h.7v.7h-.7zM48.5 160.1h.7v.7h-.7zM53.4 178.1h.7v.7h-.7zM39.9 179.1h.7v.7h-.7zM40.8 179.5h.7v.7h-.7zM40.7 163.0h.7v.7h-.7zM52.2 178.2h.7v.7h-.7zM41.5 162.0h.7v.7h-.7zM53.2 179.0h.7v.7h-.7zM57.1 170.5h.7v.7h-.7zM38.3 165.9h.7v.7h-.7zM51.1 176.3h.7v.7h-.7zM36.3 170.4h.7v.7h-.7zM41.5 177.2h.7v.7h-.7zM55.3 176.3h.7v.7h-.7zM56.1 165.5h.7v.7h-.7zM60.7 167.1h.7v.7h-.7zM58.0 161.7h.7v.7h-.7zM43.4 161.2h.7v.7h-.7zM43.1 178.2h.7v.7h-.7zM35.9 174.9h.7v.7h-.7zM38.0 165.1h.7v.7h-.7zM46.9 161.1h.7v.7h-.7zM41.6 162.3h.7v.7h-.7zM46.1 164.9h.7v.7h-.7zM40.2 162.7h.7v.7h-.7zM57.0 163.6h.7v.7h-.7zM35.6 169.4h.7v.7h-.7zM56.7 170.5h.7v.7h-.7zM41.2 162.8h.7v.7h-.7zM55.9 162.0h.7v.7h-.7zM48.2 159.9h.7v.7h-.7zM56.0 163.9h.7v.7h-.7zM48.5 178.7h.7v.7h-.7zM36.3 169.9h.7v.7h-.7zM47.4 161.9h.7v.7h-.7zM50.2 177.7h.7v.7h-.7zM35.1 172.3h.7v.7h-.7zM55.5 161.1h.7v.7h-.7zM48.3 178.5h.7v.7h-.7zM46.4 160.0h.7v.7h-.7zM53.8 173.6h.7v.7h-.7zM38.6 172.6h.7v.7h-.7zM48.6 160.2h.7v.7h-.7zM42.3 159.4h.7v.7h-.7zM56.1 172.0h.7v.7h-.7zM47.8 178.1h.7v.7h-.7zM56.5 170.9h.7v.7h-.7zM56.2 163.6h.7v.7h-.7zM48.0 175.9h.7v.7h-.7zM57.2 167.2h.7v.7h-.7zM51.8 160.1h.7v.7h-.7zM52.4 178.0h.7v.7h-.7zM36.9 175.0h.7v.7h-.7zM56.7 173.7h.7v.7h-.7zM55.2 163.3h.7v.7h-.7zM40.4 178.0h.7v.7h-.7zM50.6 175.1h.7v.7h-.7zM35.9 171.5h.7v.7h-.7zM57.2 174.7h.7v.7h-.7zM58.0 166.1h.7v.7h-.7zM37.4 179.0h.7v.7h-.7z" fill="#3050cc" opacity="0.6"/><path d="M35.6 183.9h.7v.7h-.7zM43.4 175.4h.7v.7h-.7zM38.6 184.6h.7v.7h-.7zM40.7 184.3h.7v.7h-.7zM37.6 176.6h.7v.7h-.7zM39.2 183.7h.7v.7h-.7zM37.2 180.2h.7v.7h-.7zM48.8 175.6h.7v.7h-.7zM48.6 175.4h.7v.7h-.7zM35.8 181.5h.7v.7h-.7zM41.8 172.6h.7v.7h-.7zM43.9 175.7h.7v.7h-.7zM41.2 173.7h.7v.7h-.7zM54.5 175.8h.7v.7h-.7zM56.0 177.1h.7v.7h-.7zM52.5 181.7h.7v.7h-.7zM43.1 177.0h.7v.7h-.7zM50.1 175.2h.7v.7h-.7zM38.7 175.8h.7v.7h-.7zM52.5 173.6h.7v.7h-.7zM50.3 182.0h.7v.7h-.7zM37.7 177.6h.7v.7h-.7zM44.2 186.6h.7v.7h-.7zM45.9 185.6h.7v.7h-.7zM47.4 176.0h.7v.7h-.7zM50.3 183.9h.7v.7h-.7zM41.6 175.1h.7v.7h-.7zM46.5 184.8h.7v.7h-.7zM54.4 177.8h.7v.7h-.7zM46.6 183.6h.7v.7h-.7zM36.8 177.8h.7v.7h-.7zM45.3 185.1h.7v.7h-.7zM49.8 174.9h.7v.7h-.7zM52.1 175.0h.7v.7h-.7zM41.2 186.8h.7v.7h-.7zM40.5 175.7h.7v.7h-.7zM55.5 174.1h.7v.7h-.7zM37.7 182.7h.7v.7h-.7zM52.1 175.1h.7v.7h-.7zM44.1 174.6h.7v.7h-.7zM53.8 181.2h.7v.7h-.7zM51.6 174.0h.7v.7h-.7zM50.3 182.8h.7v.7h-.7zM52.2 173.6h.7v.7h-.7zM42.7 186.5h.7v.7h-.7zM37.4 183.2h.7v.7h-.7zM46.8 185.6h.7v.7h-.7zM49.8 185.6h.7v.7h-.7zM52.9 181.3h.7v.7h-.7zM38.2 179.1h.7v.7h-.7zM47.5 173.8h.7v.7h-.7zM52.5 175.6h.7v.7h-.7zM39.3 179.5h.7v.7h-.7zM49.3 183.2h.7v.7h-.7zM40.3 174.8h.7v.7h-.7zM46.1 176.2h.7v.7h-.7zM36.6 184.3h.7v.7h-.7zM46.3 175.0h.7v.7h-.7zM49.5 183.8h.7v.7h-.7zM44.3 185.4h.7v.7h-.7zM51.6 173.2h.7v.7h-.7zM44.2 174.8h.7v.7h-.7zM37.1 179.8h.7v.7h-.7zM38.4 174.5h.7v.7h-.7zM37.8 184.2h.7v.7h-.7zM46.2 185.0h.7v.7h-.7zM46.5 184.6h.7v.7h-.7zM44.0 185.5h.7v.7h-.7zM47.1 175.8h.7v.7h-.7zM37.0 176.1h.7v.7h-.7zM53.5 178.9h.7v.7h-.7zM39.0 177.4h.7v.7h-.7zM45.3 177.0h.7v.7h-.7zM52.2 175.5h.7v.7h-.7zM53.4 174.2h.7v.7h-.7zM43.3 176.6h.7v.7h-.7zM43.0 175.4h.7v.7h-.7zM43.6 184.9h.7v.7h-.7zM37.0 179.3h.7v.7h-.7zM42.5 176.3h.7v.7h-.7zM52.7 177.1h.7v.7h-.7zM50.9 182.5h.7v.7h-.7zM52.3 174.2h.7v.7h-.7zM42.3 188.0h.7v.7h-.7zM38.9 179.3h.7v.7h-.7zM40.5 185.7h.7v.7h-.7zM54.6 174.2h.7v.7h-.7zM48.6 174.9h.7v.7h-.7zM44.8 175.3h.7v.7h-.7zM44.7 176.0h.7v.7h-.7zM53.7 178.2h.7v.7h-.7zM53.2 179.2h.7v.7h-.7zM40.0 183.9h.7v.7h-.7zM38.6 177.1h.7v.7h-.7zM45.6 184.3h.7v.7h-.7zM36.1 175.6h.7v.7h-.7zM50.9 174.4h.7v.7h-.7zM37.2 176.0h.7v.7h-.7zM52.1 179.8h.7v.7h-.7zM38.2 185.9h.7v.7h-.7zM36.8 179.4h.7v.7h-.7zM51.8 176.8h.7v.7h-.7zM38.9 175.5h.7v.7h-.7zM44.6 184.7h.7v.7h-.7zM38.0 182.0h.7v.7h-.7zM48.2 175.5h.7v.7h-.7zM52.6 174.4h.7v.7h-.7zM44.1 186.3h.7v.7h-.7zM37.0 183.0h.7v.7h-.7zM37.8 176.5h.7v.7h-.7zM52.0 175.1h.7v.7h-.7zM47.5 176.3h.7v.7h-.7zM48.7 184.4h.7v.7h-.7zM51.2 175.6h.7v.7h-.7zM54.6 176.6h.7v.7h-.7zM37.8 177.4h.7v.7h-.7zM53.1 174.5h.7v.7h-.7zM53.8 174.5h.7v.7h-.7zM48.7 182.3h.7v.7h-.7zM40.8 186.4h.7v.7h-.7z" fill="#3050cc" opacity="0.6"/><path d="M53.9 195.1h.7v.7h-.7zM36.1 198.2h.7v.7h-.7zM55.4 196.0h.7v.7h-.7zM35.1 195.4h.7v.7h-.7zM50.1 183.8h.7v.7h-.7zM45.4 187.3h.7v.7h-.7zM45.5 186.5h.7v.7h-.7zM46.5 199.3h.7v.7h-.7zM56.0 193.3h.7v.7h-.7zM40.8 202.4h.7v.7h-.7zM44.0 199.3h.7v.7h-.7zM46.5 185.5h.7v.7h-.7zM39.9 188.5h.7v.7h-.7zM56.5 192.5h.7v.7h-.7zM33.9 199.1h.7v.7h-.7zM41.8 200.4h.7v.7h-.7zM40.8 187.4h.7v.7h-.7zM53.8 196.2h.7v.7h-.7zM34.1 198.7h.7v.7h-.7zM34.5 198.0h.7v.7h-.7zM39.6 192.8h.7v.7h-.7zM53.4 194.2h.7v.7h-.7zM35.2 198.9h.7v.7h-.7zM55.9 185.4h.7v.7h-.7zM39.2 200.8h.7v.7h-.7zM41.6 188.7h.7v.7h-.7zM46.8 199.1h.7v.7h-.7zM45.4 186.7h.7v.7h-.7zM42.0 190.4h.7v.7h-.7zM38.9 192.9h.7v.7h-.7zM57.7 190.9h.7v.7h-.7zM43.1 187.9h.7v.7h-.7zM38.2 201.6h.7v.7h-.7zM49.3 199.7h.7v.7h-.7zM40.0 201.5h.7v.7h-.7zM46.1 198.2h.7v.7h-.7zM40.7 188.6h.7v.7h-.7zM44.3 201.4h.7v.7h-.7zM36.7 195.9h.7v.7h-.7zM50.1 186.0h.7v.7h-.7zM51.4 198.3h.7v.7h-.7zM41.6 190.8h.7v.7h-.7zM58.6 188.0h.7v.7h-.7zM37.6 193.0h.7v.7h-.7zM60.6 187.8h.7v.7h-.7zM55.6 184.3h.7v.7h-.7zM40.2 191.1h.7v.7h-.7zM49.0 185.4h.7v.7h-.7zM46.2 200.5h.7v.7h-.7zM40.6 201.0h.7v.7h-.7zM34.4 197.5h.7v.7h-.7zM55.7 192.5h.7v.7h-.7zM45.6 200.2h.7v.7h-.7zM41.0 190.1h.7v.7h-.7zM47.2 184.7h.7v.7h-.7zM56.3 192.2h.7v.7h-.7zM56.6 191.3h.7v.7h-.7zM34.8 197.7h.7v.7h-.7zM40.2 190.5h.7v.7h-.7zM48.1 185.5h.7v.7h-.7zM36.6 200.5h.7v.7h-.7zM35.4 194.1h.7v.7h-.7zM57.2 186.6h.7v.7h-.7zM39.4 200.8h.7v.7h-.7zM58.6 190.3h.7v.7h-.7zM42.3 187.7h.7v.7h-.7zM34.6 199.1h.7v.7h-.7zM55.1 192.3h.7v.7h-.7zM38.3 192.0h.7v.7h-.7zM57.0 184.7h.7v.7h-.7zM37.9 193.1h.7v.7h-.7zM45.7 186.5h.7v.7h-.7zM46.1 199.3h.7v.7h-.7zM54.8 184.6h.7v.7h-.7zM37.8 195.1h.7v.7h-.7zM51.9 194.0h.7v.7h-.7zM50.6 182.6h.7v.7h-.7zM43.4 188.2h.7v.7h-.7zM50.2 185.1h.7v.7h-.7zM56.7 191.1h.7v.7h-.7zM58.6 191.8h.7v.7h-.7zM52.4 195.9h.7v.7h-.7zM39.9 187.8h.7v.7h-.7zM47.5 186.8h.7v.7h-.7zM35.7 197.6h.7v.7h-.7zM46.9 200.1h.7v.7h-.7zM45.3 186.0h.7v.7h-.7zM37.7 193.2h.7v.7h-.7zM31.4 197.6h.7v.7h-.7zM57.4 184.2h.7v.7h-.7zM43.8 202.4h.7v.7h-.7zM57.4 189.9h.7v.7h-.7zM41.6 201.3h.7v.7h-.7zM55.0 194.0h.7v.7h-.7zM47.5 185.7h.7v.7h-.7zM51.5 197.0h.7v.7h-.7zM55.0 193.2h.7v.7h-.7zM46.8 198.1h.7v.7h-.7zM44.6 201.3h.7v.7h-.7zM55.3 183.6h.7v.7h-.7zM35.1 195.4h.7v.7h-.7zM34.4 195.5h.7v.7h-.7zM41.1 187.4h.7v.7h-.7zM53.0 183.1h.7v.7h-.7zM52.1 184.2h.7v.7h-.7zM44.3 199.6h.7v.7h-.7zM43.9 189.6h.7v.7h-.7zM57.5 191.4h.7v.7h-.7zM36.2 200.1h.7v.7h-.7zM46.1 187.4h.7v.7h-.7zM34.8 197.8h.7v.7h-.7zM55.9 191.7h.7v.7h-.7zM43.3 187.1h.7v.7h-.7zM36.5 194.4h.7v.7h-.7zM41.7 200.5h.7v.7h-.7zM46.8 184.5h.7v.7h-.7zM47.2 197.9h.7v.7h-.7zM37.2 194.1h.7v.7h-.7zM54.0 192.3h.7v.7h-.7zM47.2 184.5h.7v.7h-.7zM37.3 200.2h.7v.7h-.7zM37.1 193.8h.7v.7h-.7zM45.4 199.9h.7v.7h-.7zM49.0 198.3h.7v.7h-.7zM40.6 185.9h.7v.7h-.7zM41.8 200.5h.7v.7h-.7zM45.0 188.0h.7v.7h-.7zM51.7 195.0h.7v.7h-.7zM36.2 193.2h.7v.7h-.7zM51.3 184.2h.7v.7h-.7zM36.8 199.0h.7v.7h-.7zM35.8 199.6h.7v.7h-.7zM52.0 183.2h.7v.7h-.7zM41.3 199.2h.7v.7h-.7zM48.4 186.1h.7v.7h-.7zM42.5 200.2h.7v.7h-.7zM55.6 185.3h.7v.7h-.7zM53.7 185.2h.7v.7h-.7zM51.3 197.9h.7v.7h-.7zM45.6 187.7h.7v.7h-.7zM35.4 197.1h.7v.7h-.7zM49.3 184.5h.7v.7h-.7zM58.2 189.8h.7v.7h-.7zM58.2 186.0h.7v.7h-.7zM47.6 184.5h.7v.7h-.7zM54.8 184.2h.7v.7h-.7zM48.0 196.4h.7v.7h-.7zM58.2 185.5h.7v.7h-.7zM47.5 185.1h.7v.7h-.7zM47.4 186.4h.7v.7h-.7zM55.4 191.4h.7v.7h-.7zM40.6 202.0h.7v.7h-.7zM43.5 185.1h.7v.7h-.7zM38.3 192.2h.7v.7h-.7zM55.3 185.1h.7v.7h-.7zM38.0 191.9h.7v.7h-.7zM56.7 189.6h.7v.7h-.7zM57.0 192.0h.7v.7h-.7zM57.9 186.8h.7v.7h-.7zM56.9 189.8h.7v.7h-.7zM59.3 185.0h.7v.7h-.7zM53.3 183.1h.7v.7h-.7zM51.6 184.9h.7v.7h-.7zM56.3 193.2h.7v.7h-.7zM48.4 183.5h.7v.7h-.7zM36.8 194.8h.7v.7h-.7zM41.8 186.7h.7v.7h-.7zM40.9 189.0h.7v.7h-.7zM51.3 184.8h.7v.7h-.7zM57.4 191.9h.7v.7h-.7zM54.1 196.2h.7v.7h-.7zM47.0 197.3h.7v.7h-.7zM55.2 195.2h.7v.7h-.7zM38.0 201.6h.7v.7h-.7zM48.6 200.3h.7v.7h-.7zM59.2 187.0h.7v.7h-.7zM42.0 188.7h.7v.7h-.7zM49.5 185.1h.7v.7h-.7zM56.5 183.5h.7v.7h-.7zM49.8 195.9h.7v.7h-.7zM38.9 193.0h.7v.7h-.7zM55.4 194.1h.7v.7h-.7zM46.2 199.5h.7v.7h-.7zM58.7 190.5h.7v.7h-.7zM37.5 198.8h.7v.7h-.7zM53.8 196.8h.7v.7h-.7zM40.1 200.9h.7v.7h-.7zM40.5 201.5h.7v.7h-.7zM56.1 192.3h.7v.7h-.7zM41.5 188.9h.7v.7h-.7zM37.5 200.9h.7v.7h-.7zM58.3 186.7h.7v.7h-.7zM46.7 187.6h.7v.7h-.7zM37.3 195.4h.7v.7h-.7zM40.1 200.9h.7v.7h-.7zM51.3 196.9h.7v.7h-.7zM58.0 185.8h.7v.7h-.7zM44.9 187.4h.7v.7h-.7zM51.8 198.3h.7v.7h-.7zM49.1 184.2h.7v.7h-.7zM50.7 185.1h.7v.7h-.7zM45.2 198.8h.7v.7h-.7zM54.4 193.7h.7v.7h-.7zM43.0 185.2h.7v.7h-.7zM56.9 184.8h.7v.7h-.7zM38.9 199.1h.7v.7h-.7zM38.4 200.6h.7v.7h-.7zM47.0 201.1h.7v.7h-.7zM42.5 188.7h.7v.7h-.7zM38.4 200.0h.7v.7h-.7zM52.0 184.8h.7v.7h-.7zM50.9 184.5h.7v.7h-.7zM56.1 188.1h.7v.7h-.7zM36.5 195.4h.7v.7h-.7zM39.4 192.8h.7v.7h-.7zM52.0 193.4h.7v.7h-.7zM55.3 192.6h.7v.7h-.7zM38.7 192.0h.7v.7h-.7zM39.3 201.0h.7v.7h-.7zM51.4 198.0h.7v.7h-.7zM53.4 184.4h.7v.7h-.7zM47.3 199.2h.7v.7h-.7zM57.1 182.9h.7v.7h-.7zM57.9 190.2h.7v.7h-.7zM59.3 188.1h.7v.7h-.7zM58.0 191.3h.7v.7h-.7zM53.4 194.1h.7v.7h-.7zM51.2 185.7h.7v.7h-.7zM40.3 191.4h.7v.7h-.7zM58.5 189.6h.7v.7h-.7zM57.8 187.9h.7v.7h-.7zM36.6 199.7h.7v.7h-.7zM55.9 192.3h.7v.7h-.7zM43.6 187.9h.7v.7h-.7zM35.7 199.5h.7v.7h-.7zM54.5 194.3h.7v.7h-.7zM39.8 190.0h.7v.7h-.7zM57.8 190.8h.7v.7h-.7zM52.8 184.3h.7v.7h-.7zM50.1 186.7h.7v.7h-.7zM47.5 187.7h.7v.7h-.7zM52.2 183.4h.7v.7h-.7zM57.6 185.0h.7v.7h-.7zM42.6 188.9h.7v.7h-.7zM46.9 187.2h.7v.7h-.7zM43.7 200.6h.7v.7h-.7zM53.9 195.1h.7v.7h-.7zM40.5 190.1h.7v.7h-.7zM45.4 186.5h.7v.7h-.7zM48.5 197.6h.7v.7h-.7zM40.7 188.4h.7v.7h-.7zM49.4 197.9h.7v.7h-.7zM39.2 191.5h.7v.7h-.7zM57.9 188.3h.7v.7h-.7zM57.0 190.3h.7v.7h-.7zM57.9 184.7h.7v.7h-.7zM41.8 188.8h.7v.7h-.7zM36.6 193.6h.7v.7h-.7zM42.1 187.0h.7v.7h-.7zM51.9 195.5h.7v.7h-.7zM34.8 200.9h.7v.7h-.7zM54.0 194.1h.7v.7h-.7zM56.4 183.6h.7v.7h-.7zM52.0 198.3h.7v.7h-.7zM49.9 196.9h.7v.7h-.7zM55.1 184.6h.7v.7h-.7zM51.7 196.6h.7v.7h-.7zM53.7 197.1h.7v.7h-.7zM46.7 198.6h.7v.7h-.7zM57.2 188.2h.7v.7h-.7zM41.5 200.6h.7v.7h-.7zM38.8 201.7h.7v.7h-.7zM49.5 197.3h.7v.7h-.7zM46.1 200.9h.7v.7h-.7zM35.5 192.3h.7v.7h-.7zM51.9 184.6h.7v.7h-.7zM40.2 188.9h.7v.7h-.7zM46.8 198.3h.7v.7h-.7zM35.3 196.3h.7v.7h-.7zM44.0 198.8h.7v.7h-.7zM56.4 191.2h.7v.7h-.7zM36.7 201.1h.7v.7h-.7zM41.1 189.8h.7v.7h-.7zM58.5 189.4h.7v.7h-.7zM58.0 191.6h.7v.7h-.7zM50.7 196.0h.7v.7h-.7zM33.7 196.1h.7v.7h-.7zM47.7 183.8h.7v.7h-.7zM37.3 192.8h.7v.7h-.7zM41.2 199.9h.7v.7h-.7zM46.8 198.6h.7v.7h-.7zM39.4 191.6h.7v.7h-.7zM35.0 197.1h.7v.7h-.7zM55.9 192.0h.7v.7h-.7zM37.0 202.9h.7v.7h-.7zM40.0 201.2h.7v.7h-.7zM48.3 186.4h.7v.7h-.7zM56.5 185.7h.7v.7h-.7zM57.1 184.4h.7v.7h-.7zM52.4 184.2h.7v.7h-.7z" fill="#3050cc" opacity="0.6"/><path d="M53.23 176.86h0.7v0.7h-0.7zM58.5 197.23h0.7v0.7h-0.7zM61.68 181.92h0.7v0.7h-0.7zM60.24 187.56h0.7v0.7h-0.7zM55.77 182.37h0.7v0.7h-0.7zM56.22 185.76h0.7v0.7h-0.7zM55.61 180.87h0.7v0.7h-0.7zM57.86 186.87h0.7v0.7h-0.7zM59.84 192.8h0.7v0.7h-0.7zM57.66 165.73h0.7v0.7h-0.7zM53.48 177.13h0.7v0.7h-0.7zM54.81 178.87h0.7v0.7h-0.7zM59.77 188.84h0.7v0.7h-0.7zM55.03 184.13h0.7v0.7h-0.7zM60.11 179.81h0.7v0.7h-0.7zM61.36 184.99h0.7v0.7h-0.7zM58.09 167.95h0.7v0.7h-0.7zM55.59 176.78h0.7v0.7h-0.7zM56.8 185.73h0.7v0.7h-0.7zM59.78 186.41h0.7v0.7h-0.7zM57.32 173.99h0.7v0.7h-0.7zM59.5 190.25h0.7v0.7h-0.7zM57.99 185.84h0.7v0.7h-0.7zM61.64 182.27h0.7v0.7h-0.7zM58.94 184.4h0.7v0.7h-0.7zM58.21 177.96h0.7v0.7h-0.7zM60.31 162.16h0.7v0.7h-0.7zM57.79 183.42h0.7v0.7h-0.7zM50.91 188.92h0.7v0.7h-0.7zM56.39 174.65h0.7v0.7h-0.7zM56.73 172.64h0.7v0.7h-0.7zM59.16 189.57h0.7v0.7h-0.7zM56.54 177.15h0.7v0.7h-0.7zM59.49 168.52h0.7v0.7h-0.7zM52.82 187.97h0.7v0.7h-0.7zM55.86 176.51h0.7v0.7h-0.7zM57.53 159.1h0.7v0.7h-0.7zM59.78 172.41h0.7v0.7h-0.7zM59.58 188.46h0.7v0.7h-0.7zM52.35 176.36h0.7v0.7h-0.7zM57.82 169.97h0.7v0.7h-0.7zM59.71 187.96h0.7v0.7h-0.7zM57.35 167.2h0.7v0.7h-0.7zM58.49 185.58h0.7v0.7h-0.7zM55.88 186.03h0.7v0.7h-0.7zM56.21 192.07h0.7v0.7h-0.7zM55.02 186.25h0.7v0.7h-0.7zM53.11 179.67h0.7v0.7h-0.7zM57.11 172.47h0.7v0.7h-0.7zM57.96 192.57h0.7v0.7h-0.7zM61.35 164.46h0.7v0.7h-0.7zM56.74 172.61h0.7v0.7h-0.7zM56.31 183.79h0.7v0.7h-0.7zM57.33 189.88h0.7v0.7h-0.7zM57.61 193.66h0.7v0.7h-0.7zM59.13 174.36h0.7v0.7h-0.7zM60.09 177.04h0.7v0.7h-0.7zM55.44 185.64h0.7v0.7h-0.7zM61.4 183.83h0.7v0.7h-0.7zM60.28 175.65h0.7v0.7h-0.7zM57.32 168.02h0.7v0.7h-0.7zM54.37 186.03h0.7v0.7h-0.7zM60.71 177.45h0.7v0.7h-0.7zM58.44 179.93h0.7v0.7h-0.7zM53.68 183h0.7v0.7h-0.7zM58.13 173.35h0.7v0.7h-0.7zM58.37 181.09h0.7v0.7h-0.7zM53.47 180.74h0.7v0.7h-0.7zM58.88 179.17h0.7v0.7h-0.7zM60.39 156.76h0.7v0.7h-0.7zM55.42 169.58h0.7v0.7h-0.7zM51.92 193.31h0.7v0.7h-0.7zM60.53 184.33h0.7v0.7h-0.7zM57.87 186.67h0.7v0.7h-0.7zM59.77 176.03h0.7v0.7h-0.7zM56.3 167.59h0.7v0.7h-0.7zM52.76 172.3h0.7v0.7h-0.7zM56.66 196.78h0.7v0.7h-0.7zM53.75 186.9h0.7v0.7h-0.7zM57.85 169.67h0.7v0.7h-0.7zM53.83 177.51h0.7v0.7h-0.7zM58.06 175.04h0.7v0.7h-0.7zM53.51 169.76h0.7v0.7h-0.7zM58.08 184h0.7v0.7h-0.7zM62.23 177.4h0.7v0.7h-0.7zM58.64 186.69h0.7v0.7h-0.7z" fill="#3044c4" opacity="0.45"/><g filter="url(#bl2)"><path d="M38.00 175.50C39.42 174.08 43.33 175.67 46.00 175.50C48.67 175.33 52.83 173.67 54.00 174.50C55.17 175.33 54.00 178.92 53.00 180.50C52.00 182.08 49.83 183.08 48.00 184.00C46.17 184.92 43.75 186.00 42.00 186.00C40.25 186.00 38.17 185.75 37.50 184.00C36.83 182.25 36.58 176.92 38.00 175.50Z" fill="#3a58cc"/><path d="M39.80 176.55C40.79 175.56 43.53 176.67 45.40 176.55C47.27 176.43 50.18 175.27 51.00 175.85C51.82 176.43 51.00 178.94 50.30 180.05C49.60 181.16 48.08 181.86 46.80 182.50C45.52 183.14 43.83 183.90 42.60 183.90C41.38 183.90 39.92 183.72 39.45 182.50C38.98 181.28 38.81 177.54 39.80 176.55Z" fill="#3c80d4"/><path d="M41.90 177.78C42.40 177.28 43.77 177.83 44.70 177.78C45.63 177.72 47.09 177.13 47.50 177.43C47.91 177.72 47.50 178.97 47.15 179.53C46.80 180.08 46.04 180.43 45.40 180.75C44.76 181.07 43.91 181.45 43.30 181.45C42.69 181.45 41.96 181.36 41.73 180.75C41.49 180.14 41.40 178.27 41.90 177.78Z" fill="#48a8d8"/></g><g filter="url(#bl2)"><path d="M37.30 166.50C38.03 164.97 39.22 163.63 41.00 162.80C42.78 161.97 45.93 161.88 48.00 161.50C50.07 161.12 51.93 160.17 53.40 160.50C54.87 160.83 56.23 162.08 56.80 163.50C57.37 164.92 56.93 167.08 56.80 169.00C56.67 170.92 57.13 173.67 56.00 175.00C54.87 176.33 52.17 176.58 50.00 177.00C47.83 177.42 45.12 177.42 43.00 177.50C40.88 177.58 38.37 178.42 37.30 177.50C36.23 176.58 36.60 173.83 36.60 172.00C36.60 170.17 36.57 168.03 37.30 166.50Z" fill="#3044c4"/><path d="M38.36 166.74C39.03 165.33 40.12 164.10 41.76 163.34C43.40 162.57 46.30 162.49 48.20 162.14C50.10 161.79 51.82 160.91 53.17 161.22C54.52 161.53 55.77 162.68 56.30 163.98C56.82 165.28 56.42 167.28 56.30 169.04C56.17 170.80 56.60 173.33 55.56 174.56C54.52 175.79 52.03 176.02 50.04 176.40C48.05 176.78 45.55 176.78 43.60 176.86C41.65 176.94 39.34 177.70 38.36 176.86C37.37 176.02 37.71 173.49 37.71 171.80C37.71 170.11 37.68 168.15 38.36 166.74Z" fill="#2aa6d6"/><path d="M39.68 167.04C40.28 165.78 41.25 164.69 42.71 164.01C44.17 163.32 46.76 163.25 48.45 162.94C50.14 162.63 51.68 161.85 52.88 162.12C54.08 162.39 55.20 163.42 55.67 164.58C56.13 165.74 55.78 167.52 55.67 169.09C55.56 170.66 55.94 172.92 55.01 174.01C54.08 175.10 51.87 175.31 50.09 175.65C48.31 175.99 46.09 175.99 44.35 176.06C42.61 176.13 40.55 176.81 39.68 176.06C38.80 175.31 39.10 173.05 39.10 171.55C39.10 170.05 39.07 168.30 39.68 167.04Z" fill="#50b870"/><path d="M41.79 167.52C42.27 166.51 43.05 165.63 44.23 165.08C45.41 164.53 47.49 164.47 48.85 164.22C50.21 163.97 51.45 163.34 52.41 163.56C53.38 163.78 54.28 164.60 54.66 165.54C55.03 166.47 54.75 167.90 54.66 169.17C54.57 170.44 54.88 172.25 54.13 173.13C53.38 174.01 51.60 174.17 50.17 174.45C48.74 174.72 46.95 174.72 45.55 174.78C44.15 174.84 42.49 175.38 41.79 174.78C41.08 174.18 41.33 172.36 41.33 171.15C41.33 169.94 41.30 168.53 41.79 167.52Z" fill="#5cc05a"/><path d="M45.75 168.42C46.01 167.87 46.44 167.39 47.08 167.09C47.72 166.79 48.86 166.76 49.60 166.62C50.34 166.48 51.02 166.14 51.54 166.26C52.07 166.38 52.56 166.83 52.77 167.34C52.97 167.85 52.82 168.63 52.77 169.32C52.72 170.01 52.89 171.00 52.48 171.48C52.07 171.96 51.10 172.05 50.32 172.20C49.54 172.35 48.56 172.35 47.80 172.38C47.04 172.41 46.13 172.71 45.75 172.38C45.36 172.05 45.50 171.06 45.50 170.40C45.50 169.74 45.48 168.97 45.75 168.42Z" fill="#a8d43a"/></g><g filter="url(#bl2)"><path d="M58.26 185.90C58.50 186.31 58.61 186.81 58.59 187.35C58.56 187.90 58.41 188.52 58.12 189.15C57.84 189.79 57.42 190.48 56.91 191.17C56.39 191.86 55.73 192.58 55.01 193.28C54.29 193.97 53.45 194.67 52.57 195.32C51.69 195.97 50.72 196.60 49.75 197.16C48.78 197.72 47.74 198.25 46.74 198.68C45.74 199.12 44.71 199.49 43.75 199.78C42.79 200.06 41.84 200.26 40.98 200.36C40.13 200.47 39.32 200.49 38.62 200.41C37.93 200.34 37.32 200.16 36.84 199.91C36.36 199.66 35.98 199.31 35.74 198.90C35.50 198.49 35.39 197.99 35.41 197.45C35.44 196.90 35.59 196.28 35.88 195.65C36.16 195.01 36.58 194.32 37.09 193.63C37.61 192.94 38.27 192.22 38.99 191.53C39.71 190.83 40.55 190.13 41.43 189.48C42.31 188.83 43.28 188.20 44.25 187.64C45.22 187.08 46.26 186.55 47.26 186.12C48.26 185.68 49.29 185.31 50.25 185.03C51.21 184.74 52.16 184.54 53.02 184.44C53.87 184.33 54.68 184.31 55.38 184.39C56.07 184.46 56.68 184.64 57.16 184.89C57.64 185.14 58.02 185.49 58.26 185.90Z" fill="#3044c4"/><path d="M57.53 186.21C57.75 186.58 57.85 187.03 57.83 187.52C57.81 188.01 57.66 188.56 57.41 189.14C57.16 189.71 56.78 190.34 56.31 190.95C55.85 191.57 55.26 192.23 54.61 192.85C53.96 193.47 53.20 194.10 52.41 194.69C51.62 195.27 50.75 195.84 49.88 196.35C49.00 196.85 48.07 197.32 47.17 197.71C46.27 198.11 45.34 198.45 44.48 198.70C43.61 198.95 42.75 199.13 41.99 199.23C41.22 199.32 40.48 199.34 39.86 199.27C39.24 199.20 38.69 199.05 38.25 198.82C37.82 198.59 37.48 198.28 37.27 197.91C37.05 197.54 36.95 197.09 36.97 196.60C36.99 196.11 37.14 195.56 37.39 194.98C37.64 194.41 38.02 193.78 38.49 193.17C38.95 192.55 39.54 191.89 40.19 191.27C40.84 190.65 41.60 190.02 42.39 189.43C43.18 188.85 44.05 188.28 44.92 187.77C45.80 187.27 46.73 186.80 47.63 186.41C48.53 186.01 49.46 185.67 50.32 185.42C51.19 185.17 52.05 184.99 52.81 184.89C53.58 184.80 54.32 184.78 54.94 184.85C55.56 184.92 56.11 185.07 56.55 185.30C56.98 185.53 57.32 185.84 57.53 186.21Z" fill="#2aa6d6"/><path d="M56.66 186.58C56.85 186.90 56.93 187.29 56.92 187.72C56.90 188.14 56.78 188.62 56.56 189.12C56.34 189.62 56.01 190.16 55.61 190.69C55.20 191.23 54.69 191.80 54.13 192.33C53.56 192.87 52.91 193.42 52.22 193.93C51.54 194.43 50.78 194.93 50.02 195.37C49.27 195.80 48.46 196.21 47.68 196.55C46.90 196.89 46.10 197.19 45.35 197.40C44.60 197.62 43.85 197.78 43.19 197.86C42.52 197.95 41.89 197.96 41.35 197.90C40.81 197.84 40.33 197.71 39.95 197.51C39.58 197.31 39.28 197.04 39.10 196.72C38.91 196.40 38.83 196.01 38.84 195.59C38.86 195.16 38.98 194.68 39.20 194.19C39.42 193.69 39.75 193.15 40.15 192.61C40.56 192.07 41.07 191.51 41.63 190.97C42.20 190.43 42.85 189.88 43.54 189.38C44.22 188.87 44.98 188.37 45.73 187.94C46.49 187.50 47.30 187.09 48.08 186.75C48.86 186.41 49.66 186.12 50.41 185.90C51.16 185.68 51.91 185.52 52.57 185.44C53.24 185.36 53.87 185.34 54.41 185.40C54.95 185.46 55.43 185.60 55.81 185.79C56.18 185.99 56.48 186.26 56.66 186.58Z" fill="#5cc05a"/><path d="M54.99 187.30C55.12 187.52 55.18 187.80 55.17 188.09C55.16 188.39 55.07 188.73 54.92 189.08C54.76 189.43 54.53 189.82 54.25 190.19C53.96 190.57 53.60 190.97 53.21 191.35C52.81 191.73 52.35 192.12 51.86 192.48C51.38 192.83 50.85 193.18 50.31 193.49C49.78 193.80 49.21 194.09 48.66 194.33C48.11 194.57 47.54 194.77 47.01 194.93C46.49 195.08 45.96 195.19 45.49 195.25C45.02 195.31 44.57 195.32 44.19 195.28C43.81 195.23 43.47 195.14 43.21 195.00C42.95 194.86 42.74 194.67 42.61 194.44C42.48 194.22 42.42 193.94 42.43 193.65C42.44 193.35 42.53 193.01 42.68 192.66C42.84 192.31 43.07 191.92 43.35 191.55C43.64 191.17 44.00 190.77 44.39 190.39C44.79 190.01 45.25 189.62 45.74 189.26C46.22 188.91 46.75 188.56 47.29 188.25C47.82 187.94 48.39 187.65 48.94 187.41C49.49 187.17 50.06 186.97 50.59 186.81C51.11 186.66 51.64 186.55 52.11 186.49C52.58 186.43 53.03 186.42 53.41 186.46C53.79 186.51 54.13 186.60 54.39 186.74C54.65 186.88 54.86 187.07 54.99 187.30Z" fill="#d6d832"/><path d="M53.47 187.95C53.55 188.09 53.59 188.26 53.58 188.44C53.57 188.62 53.52 188.84 53.42 189.05C53.33 189.27 53.18 189.50 53.01 189.74C52.83 189.97 52.61 190.22 52.36 190.45C52.12 190.69 51.83 190.93 51.53 191.15C51.24 191.37 50.91 191.58 50.58 191.78C50.24 191.97 49.89 192.14 49.55 192.29C49.21 192.44 48.86 192.57 48.54 192.66C48.21 192.76 47.89 192.83 47.59 192.86C47.30 192.90 47.03 192.91 46.79 192.88C46.56 192.85 46.35 192.80 46.18 192.71C46.02 192.62 45.89 192.51 45.81 192.37C45.73 192.23 45.69 192.06 45.70 191.87C45.71 191.69 45.76 191.48 45.86 191.26C45.95 191.04 46.10 190.81 46.27 190.57C46.45 190.34 46.67 190.09 46.92 189.86C47.16 189.62 47.45 189.38 47.75 189.16C48.04 188.94 48.37 188.73 48.70 188.54C49.04 188.35 49.39 188.17 49.73 188.02C50.07 187.87 50.42 187.74 50.74 187.65C51.07 187.55 51.39 187.48 51.69 187.45C51.98 187.41 52.25 187.41 52.49 187.43C52.72 187.46 52.93 187.52 53.10 187.60C53.26 187.69 53.39 187.81 53.47 187.95Z" fill="#f07a22"/><path d="M52.16 188.50C52.20 188.57 52.22 188.65 52.21 188.74C52.21 188.82 52.18 188.92 52.14 189.02C52.10 189.13 52.03 189.24 51.94 189.35C51.86 189.46 51.76 189.57 51.64 189.68C51.53 189.79 51.39 189.91 51.25 190.01C51.11 190.11 50.96 190.22 50.80 190.31C50.64 190.40 50.48 190.48 50.32 190.55C50.16 190.62 49.99 190.68 49.84 190.72C49.69 190.77 49.53 190.80 49.40 190.82C49.26 190.84 49.13 190.84 49.02 190.83C48.91 190.81 48.81 190.79 48.73 190.75C48.66 190.71 48.60 190.65 48.56 190.58C48.52 190.52 48.50 190.44 48.51 190.35C48.51 190.26 48.54 190.17 48.58 190.06C48.62 189.96 48.69 189.85 48.78 189.74C48.86 189.63 48.96 189.51 49.08 189.40C49.19 189.29 49.33 189.18 49.47 189.08C49.61 188.97 49.76 188.87 49.92 188.78C50.08 188.69 50.24 188.61 50.40 188.54C50.56 188.47 50.73 188.41 50.88 188.36C51.03 188.32 51.19 188.29 51.32 188.27C51.46 188.25 51.59 188.25 51.70 188.26C51.81 188.27 51.91 188.30 51.99 188.34C52.06 188.38 52.12 188.44 52.16 188.50Z" fill="#e03a1a"/></g></g><polygon points="33.1,193.32 64.61,175.5 64.61,193.32 36.19,209.41 31.69,201.76" fill="none" stroke="#3a3a80" stroke-width="0.6" stroke-linejoin="round" opacity="0.8"/><rect x="25.1" y="146.9" width="67.2" height="66.5" fill="none" stroke="#7a7a7a" stroke-width="0.75"/><line x1="25.39" y1="213.4" x2="25.39" y2="214.6" stroke="#666" stroke-width="0.5"/><text x="25.39" y="220.1" font-size="4" text-anchor="middle" fill="#555">0</text><line x1="37.82" y1="213.4" x2="37.82" y2="214.6" stroke="#666" stroke-width="0.5"/><text x="37.82" y="220.1" font-size="4" text-anchor="middle" fill="#555">1</text><line x1="50.63" y1="213.4" x2="50.63" y2="214.6" stroke="#666" stroke-width="0.5"/><text x="50.63" y="220.1" font-size="4" text-anchor="middle" fill="#555">2</text><line x1="63.44" y1="213.4" x2="63.44" y2="214.6" stroke="#666" stroke-width="0.5"/><text x="63.44" y="220.1" font-size="4" text-anchor="middle" fill="#555">3</text><line x1="75.96" y1="213.4" x2="75.96" y2="214.6" stroke="#666" stroke-width="0.5"/><text x="75.96" y="220.1" font-size="4" text-anchor="middle" fill="#555">4</text><line x1="89.76" y1="213.4" x2="89.76" y2="214.6" stroke="#666" stroke-width="0.5"/><text x="89.76" y="220.1" font-size="4" text-anchor="middle" fill="#555">5.2</text><line x1="23.9" y1="149.95" x2="25.1" y2="149.95" stroke="#666" stroke-width="0.5"/><text x="22.5" y="149.95" font-size="3.6" text-anchor="middle" fill="#555" transform="rotate(-90 22.5 149.95)">10<tspan font-size="2.6" dy="-1">4</tspan></text><line x1="23.9" y1="169.59" x2="25.1" y2="169.59" stroke="#666" stroke-width="0.5"/><text x="22.5" y="169.59" font-size="3.6" text-anchor="middle" fill="#555" transform="rotate(-90 22.5 169.59)">10<tspan font-size="2.6" dy="-1">3</tspan></text><line x1="23.9" y1="192.18" x2="25.1" y2="192.18" stroke="#666" stroke-width="0.5"/><text x="22.5" y="192.18" font-size="3.6" text-anchor="middle" fill="#555" transform="rotate(-90 22.5 192.18)">10<tspan font-size="2.6" dy="-1">2</tspan></text><line x1="23.9" y1="212.61" x2="25.1" y2="212.61" stroke="#666" stroke-width="0.5"/><text x="22.5" y="212.61" font-size="3.6" text-anchor="middle" fill="#555" transform="rotate(-90 22.5 212.61)">-10<tspan font-size="2.6" dy="-1">2</tspan></text><text x="68.71" y="168.12" font-size="4.3" fill="#2a9a4a">p-Kap1 +</text><text x="69.52" y="186.74" font-size="4.3" fill="#444">p-Kap1 −</text><text x="12.5" y="177.65" font-size="6.7" text-anchor="middle" fill="#222" stroke="#222" stroke-width="0.1" transform="rotate(-90 12.5 177.65)">p-Kap1 S473</text><text x="59.3" y="229.3" font-size="6.35" text-anchor="middle" fill="#222" stroke="#222" stroke-width="0.1">PI (10<tspan font-size="4.2" dy="-2">5</tspan><tspan dy="2">)</tspan></text><polygon points="139.28,194.21 136.99,183.11 137.39,165.49 143.91,157.97 159.7,156.18 169.92,160.83 169.92,178.52" fill="none" stroke="#d0a474" stroke-width="0.75" stroke-linejoin="round"/><g filter="url(#bl)"><path d="M167.8 194.7h.7v.7h-.7zM144.1 192.5h.7v.7h-.7zM147.8 189.7h.7v.7h-.7zM156.8 198.8h.7v.7h-.7zM143.0 202.2h.7v.7h-.7zM153.9 200.0h.7v.7h-.7zM160.8 182.7h.7v.7h-.7zM157.6 202.0h.7v.7h-.7zM140.1 197.8h.7v.7h-.7zM154.0 202.3h.7v.7h-.7zM149.8 202.7h.7v.7h-.7zM150.1 202.8h.7v.7h-.7zM166.3 181.8h.7v.7h-.7zM170.0 189.8h.7v.7h-.7zM165.0 197.5h.7v.7h-.7zM142.4 192.5h.7v.7h-.7zM157.6 201.0h.7v.7h-.7zM140.2 193.3h.7v.7h-.7zM153.7 185.0h.7v.7h-.7zM149.3 187.4h.7v.7h-.7zM164.2 195.4h.7v.7h-.7zM147.9 183.1h.7v.7h-.7zM151.5 183.6h.7v.7h-.7zM148.2 189.5h.7v.7h-.7zM161.3 181.9h.7v.7h-.7zM155.2 201.8h.7v.7h-.7zM167.8 192.8h.7v.7h-.7zM151.1 202.9h.7v.7h-.7zM164.8 181.4h.7v.7h-.7zM146.2 204.0h.7v.7h-.7zM168.1 192.7h.7v.7h-.7zM161.6 183.4h.7v.7h-.7zM146.8 205.3h.7v.7h-.7zM140.8 198.8h.7v.7h-.7zM147.3 186.9h.7v.7h-.7zM154.9 201.1h.7v.7h-.7zM143.9 203.5h.7v.7h-.7zM163.2 182.7h.7v.7h-.7zM140.7 194.0h.7v.7h-.7zM146.4 185.9h.7v.7h-.7zM169.7 188.6h.7v.7h-.7zM161.4 200.7h.7v.7h-.7zM151.2 187.0h.7v.7h-.7zM149.9 201.3h.7v.7h-.7zM142.5 192.3h.7v.7h-.7zM148.4 205.3h.7v.7h-.7zM149.3 187.2h.7v.7h-.7zM169.3 191.3h.7v.7h-.7zM138.5 199.0h.7v.7h-.7zM150.7 188.4h.7v.7h-.7zM154.5 202.5h.7v.7h-.7zM165.3 193.7h.7v.7h-.7zM154.4 200.1h.7v.7h-.7zM155.3 201.3h.7v.7h-.7zM152.2 203.3h.7v.7h-.7zM149.0 204.3h.7v.7h-.7zM167.8 190.8h.7v.7h-.7zM139.9 190.0h.7v.7h-.7zM169.1 191.6h.7v.7h-.7zM153.5 202.7h.7v.7h-.7zM147.3 202.5h.7v.7h-.7zM149.0 202.5h.7v.7h-.7zM141.1 201.1h.7v.7h-.7zM157.3 201.3h.7v.7h-.7zM149.2 203.7h.7v.7h-.7zM142.4 202.1h.7v.7h-.7zM156.2 183.2h.7v.7h-.7zM138.9 194.3h.7v.7h-.7zM154.8 184.5h.7v.7h-.7zM146.1 189.0h.7v.7h-.7zM162.4 198.6h.7v.7h-.7zM160.2 199.0h.7v.7h-.7zM163.0 200.8h.7v.7h-.7zM147.3 190.3h.7v.7h-.7zM165.9 183.7h.7v.7h-.7zM140.5 195.9h.7v.7h-.7zM170.2 189.9h.7v.7h-.7zM151.2 203.2h.7v.7h-.7zM168.2 191.4h.7v.7h-.7zM158.9 183.8h.7v.7h-.7zM149.7 188.1h.7v.7h-.7zM152.6 184.2h.7v.7h-.7zM157.3 182.6h.7v.7h-.7zM141.7 201.3h.7v.7h-.7zM165.7 201.7h.7v.7h-.7zM146.4 188.8h.7v.7h-.7zM165.3 183.3h.7v.7h-.7zM151.4 184.9h.7v.7h-.7zM170.7 187.8h.7v.7h-.7zM142.5 193.7h.7v.7h-.7zM143.0 204.0h.7v.7h-.7zM160.8 183.6h.7v.7h-.7zM141.2 196.9h.7v.7h-.7zM151.3 205.6h.7v.7h-.7zM151.4 184.9h.7v.7h-.7zM146.9 189.8h.7v.7h-.7zM146.0 191.5h.7v.7h-.7zM149.2 189.2h.7v.7h-.7zM145.7 188.7h.7v.7h-.7zM149.0 186.7h.7v.7h-.7zM146.9 204.3h.7v.7h-.7zM158.9 198.1h.7v.7h-.7zM164.5 182.9h.7v.7h-.7zM143.5 191.7h.7v.7h-.7zM145.4 190.3h.7v.7h-.7zM154.2 183.8h.7v.7h-.7zM142.1 198.1h.7v.7h-.7zM142.3 200.6h.7v.7h-.7zM147.7 202.8h.7v.7h-.7zM156.7 200.4h.7v.7h-.7zM140.8 193.9h.7v.7h-.7zM163.7 182.4h.7v.7h-.7zM150.5 202.9h.7v.7h-.7zM148.5 205.4h.7v.7h-.7zM167.3 183.6h.7v.7h-.7zM140.7 192.7h.7v.7h-.7zM161.2 182.6h.7v.7h-.7zM141.1 195.0h.7v.7h-.7zM142.5 201.7h.7v.7h-.7zM151.5 202.0h.7v.7h-.7zM167.5 193.0h.7v.7h-.7zM164.2 196.4h.7v.7h-.7zM169.6 191.8h.7v.7h-.7zM164.3 196.0h.7v.7h-.7zM139.9 191.6h.7v.7h-.7zM161.0 180.5h.7v.7h-.7zM137.6 196.7h.7v.7h-.7zM163.6 195.9h.7v.7h-.7zM160.6 182.9h.7v.7h-.7zM169.9 182.6h.7v.7h-.7zM166.1 181.8h.7v.7h-.7zM156.3 203.2h.7v.7h-.7zM154.4 200.4h.7v.7h-.7zM142.5 194.0h.7v.7h-.7zM138.6 203.8h.7v.7h-.7zM153.3 185.4h.7v.7h-.7zM163.4 182.4h.7v.7h-.7zM150.0 202.4h.7v.7h-.7zM140.5 194.1h.7v.7h-.7zM166.6 181.6h.7v.7h-.7zM151.4 200.9h.7v.7h-.7zM152.7 187.0h.7v.7h-.7zM154.4 184.9h.7v.7h-.7zM155.4 202.6h.7v.7h-.7zM165.2 195.3h.7v.7h-.7zM161.3 197.3h.7v.7h-.7zM155.9 200.8h.7v.7h-.7zM163.7 180.3h.7v.7h-.7zM145.6 204.3h.7v.7h-.7zM159.9 183.4h.7v.7h-.7zM162.8 182.7h.7v.7h-.7zM160.4 198.4h.7v.7h-.7zM165.6 194.5h.7v.7h-.7zM143.9 190.9h.7v.7h-.7zM154.7 183.8h.7v.7h-.7zM164.5 182.6h.7v.7h-.7zM166.7 184.1h.7v.7h-.7zM164.2 197.3h.7v.7h-.7zM170.4 187.9h.7v.7h-.7zM142.2 196.0h.7v.7h-.7zM146.2 189.6h.7v.7h-.7zM168.7 183.9h.7v.7h-.7zM150.9 202.4h.7v.7h-.7zM140.7 200.8h.7v.7h-.7zM166.4 195.0h.7v.7h-.7zM152.0 203.5h.7v.7h-.7zM144.0 189.8h.7v.7h-.7zM169.9 192.5h.7v.7h-.7zM160.4 199.7h.7v.7h-.7zM150.1 186.0h.7v.7h-.7zM167.6 192.1h.7v.7h-.7zM157.9 199.4h.7v.7h-.7zM169.2 188.7h.7v.7h-.7zM156.9 182.9h.7v.7h-.7zM143.3 201.2h.7v.7h-.7zM165.5 194.7h.7v.7h-.7zM137.6 197.8h.7v.7h-.7zM161.5 198.4h.7v.7h-.7zM165.8 196.2h.7v.7h-.7zM162.9 181.0h.7v.7h-.7zM165.9 182.9h.7v.7h-.7zM167.7 182.3h.7v.7h-.7zM146.1 202.3h.7v.7h-.7zM153.5 185.3h.7v.7h-.7zM141.6 197.9h.7v.7h-.7zM165.5 194.3h.7v.7h-.7zM164.6 183.9h.7v.7h-.7zM167.4 193.1h.7v.7h-.7zM169.0 185.5h.7v.7h-.7zM151.3 201.9h.7v.7h-.7zM147.0 190.8h.7v.7h-.7zM137.8 203.7h.7v.7h-.7zM160.6 198.9h.7v.7h-.7zM166.8 193.5h.7v.7h-.7zM143.8 204.9h.7v.7h-.7zM158.3 182.2h.7v.7h-.7zM169.7 187.9h.7v.7h-.7zM141.3 199.3h.7v.7h-.7zM165.6 183.3h.7v.7h-.7zM140.3 202.7h.7v.7h-.7zM152.6 183.2h.7v.7h-.7zM152.5 202.8h.7v.7h-.7zM163.5 181.8h.7v.7h-.7zM166.5 192.7h.7v.7h-.7zM156.5 182.7h.7v.7h-.7zM146.0 189.4h.7v.7h-.7zM159.4 182.3h.7v.7h-.7zM158.4 201.2h.7v.7h-.7zM140.3 195.6h.7v.7h-.7zM153.1 186.9h.7v.7h-.7zM140.9 191.5h.7v.7h-.7zM159.7 180.5h.7v.7h-.7zM154.8 200.8h.7v.7h-.7zM143.2 189.8h.7v.7h-.7zM160.0 200.0h.7v.7h-.7zM141.7 202.9h.7v.7h-.7zM138.6 195.6h.7v.7h-.7zM168.2 192.4h.7v.7h-.7zM169.7 192.3h.7v.7h-.7zM166.2 182.7h.7v.7h-.7zM163.2 182.7h.7v.7h-.7zM147.3 203.8h.7v.7h-.7zM140.2 200.6h.7v.7h-.7zM142.2 192.8h.7v.7h-.7zM169.0 191.3h.7v.7h-.7zM170.1 184.6h.7v.7h-.7zM148.6 187.6h.7v.7h-.7zM150.5 186.9h.7v.7h-.7zM160.8 182.5h.7v.7h-.7zM149.8 204.0h.7v.7h-.7zM152.3 186.1h.7v.7h-.7zM146.3 204.5h.7v.7h-.7zM167.0 194.7h.7v.7h-.7zM139.6 196.2h.7v.7h-.7zM168.5 193.6h.7v.7h-.7zM150.4 187.4h.7v.7h-.7zM165.7 194.9h.7v.7h-.7zM152.4 185.8h.7v.7h-.7zM154.4 183.7h.7v.7h-.7zM168.3 189.7h.7v.7h-.7zM148.0 186.3h.7v.7h-.7zM157.3 199.3h.7v.7h-.7zM146.6 189.2h.7v.7h-.7zM151.5 187.2h.7v.7h-.7zM142.6 191.4h.7v.7h-.7zM153.0 184.8h.7v.7h-.7zM154.8 183.8h.7v.7h-.7zM157.9 183.6h.7v.7h-.7zM149.9 187.1h.7v.7h-.7zM167.1 194.8h.7v.7h-.7zM145.8 205.2h.7v.7h-.7zM149.5 187.9h.7v.7h-.7zM141.5 193.8h.7v.7h-.7zM159.2 200.7h.7v.7h-.7zM166.8 195.1h.7v.7h-.7zM145.3 204.1h.7v.7h-.7zM170.0 188.0h.7v.7h-.7zM159.0 200.7h.7v.7h-.7zM158.3 183.7h.7v.7h-.7zM151.7 204.3h.7v.7h-.7zM169.6 194.1h.7v.7h-.7zM169.5 182.7h.7v.7h-.7zM155.8 201.5h.7v.7h-.7zM162.1 198.7h.7v.7h-.7zM145.4 203.7h.7v.7h-.7zM145.8 187.6h.7v.7h-.7zM166.6 195.5h.7v.7h-.7zM161.2 197.3h.7v.7h-.7zM154.4 202.1h.7v.7h-.7zM138.7 199.7h.7v.7h-.7zM144.0 190.8h.7v.7h-.7zM153.5 202.5h.7v.7h-.7zM163.9 181.4h.7v.7h-.7zM169.9 187.6h.7v.7h-.7zM141.0 194.5h.7v.7h-.7zM146.7 202.5h.7v.7h-.7zM161.4 182.3h.7v.7h-.7zM141.1 201.8h.7v.7h-.7zM162.6 180.7h.7v.7h-.7zM141.3 194.9h.7v.7h-.7zM167.3 193.2h.7v.7h-.7zM162.6 181.2h.7v.7h-.7zM166.0 193.7h.7v.7h-.7zM142.1 205.6h.7v.7h-.7zM142.5 193.9h.7v.7h-.7zM151.6 201.9h.7v.7h-.7zM155.9 183.5h.7v.7h-.7zM141.2 196.2h.7v.7h-.7zM170.9 188.3h.7v.7h-.7zM164.0 184.9h.7v.7h-.7zM153.1 206.0h.7v.7h-.7zM140.5 200.6h.7v.7h-.7zM139.6 193.4h.7v.7h-.7zM155.7 184.1h.7v.7h-.7zM146.0 190.5h.7v.7h-.7zM163.6 196.0h.7v.7h-.7zM161.5 183.9h.7v.7h-.7zM156.7 183.4h.7v.7h-.7zM152.4 184.5h.7v.7h-.7zM168.4 191.4h.7v.7h-.7zM160.9 182.2h.7v.7h-.7zM165.4 196.4h.7v.7h-.7zM166.0 195.3h.7v.7h-.7zM157.9 183.0h.7v.7h-.7zM149.5 187.9h.7v.7h-.7zM156.4 200.0h.7v.7h-.7zM147.6 202.4h.7v.7h-.7zM150.4 203.3h.7v.7h-.7zM143.7 204.3h.7v.7h-.7zM167.0 181.1h.7v.7h-.7zM149.0 204.0h.7v.7h-.7zM164.9 182.9h.7v.7h-.7zM151.3 185.1h.7v.7h-.7zM159.7 201.2h.7v.7h-.7zM159.2 202.9h.7v.7h-.7zM168.9 184.1h.7v.7h-.7zM147.6 202.5h.7v.7h-.7zM165.8 193.9h.7v.7h-.7zM147.8 202.5h.7v.7h-.7zM140.8 192.6h.7v.7h-.7zM151.7 201.6h.7v.7h-.7zM163.7 195.8h.7v.7h-.7zM142.0 191.8h.7v.7h-.7zM148.0 188.5h.7v.7h-.7zM153.7 202.6h.7v.7h-.7zM141.7 203.6h.7v.7h-.7zM170.0 191.9h.7v.7h-.7zM170.3 182.8h.7v.7h-.7zM147.3 203.2h.7v.7h-.7zM156.3 182.9h.7v.7h-.7zM159.4 198.1h.7v.7h-.7zM162.4 182.3h.7v.7h-.7zM141.2 202.8h.7v.7h-.7zM148.3 185.2h.7v.7h-.7zM146.7 202.8h.7v.7h-.7zM150.5 202.2h.7v.7h-.7zM149.9 189.3h.7v.7h-.7zM146.6 204.9h.7v.7h-.7zM167.0 194.2h.7v.7h-.7zM142.4 193.0h.7v.7h-.7zM169.2 184.8h.7v.7h-.7zM168.6 194.3h.7v.7h-.7zM152.0 185.1h.7v.7h-.7zM169.0 190.7h.7v.7h-.7zM144.8 203.0h.7v.7h-.7zM169.0 185.0h.7v.7h-.7zM141.4 202.5h.7v.7h-.7zM151.5 187.7h.7v.7h-.7zM139.3 199.3h.7v.7h-.7zM151.8 183.8h.7v.7h-.7zM142.7 202.1h.7v.7h-.7zM143.0 203.3h.7v.7h-.7zM151.5 204.2h.7v.7h-.7zM161.1 182.5h.7v.7h-.7zM155.5 201.4h.7v.7h-.7zM165.0 194.2h.7v.7h-.7zM145.0 204.5h.7v.7h-.7zM164.7 199.6h.7v.7h-.7zM170.5 184.6h.7v.7h-.7zM142.4 189.7h.7v.7h-.7zM150.8 202.4h.7v.7h-.7zM169.1 185.3h.7v.7h-.7zM170.6 185.5h.7v.7h-.7zM142.0 204.1h.7v.7h-.7zM166.1 197.1h.7v.7h-.7zM160.6 198.2h.7v.7h-.7zM157.3 199.9h.7v.7h-.7zM154.9 202.5h.7v.7h-.7zM166.1 195.5h.7v.7h-.7zM155.2 185.0h.7v.7h-.7zM146.7 203.0h.7v.7h-.7zM164.2 182.5h.7v.7h-.7zM158.5 182.9h.7v.7h-.7zM149.1 203.9h.7v.7h-.7zM151.8 201.5h.7v.7h-.7zM165.2 183.1h.7v.7h-.7zM138.6 196.8h.7v.7h-.7zM165.3 183.0h.7v.7h-.7zM168.1 186.4h.7v.7h-.7zM152.2 184.7h.7v.7h-.7zM161.0 199.7h.7v.7h-.7zM145.0 190.4h.7v.7h-.7zM151.9 185.4h.7v.7h-.7zM163.4 194.7h.7v.7h-.7zM158.0 200.2h.7v.7h-.7zM150.5 187.2h.7v.7h-.7zM150.9 203.6h.7v.7h-.7zM148.0 202.9h.7v.7h-.7zM166.0 194.9h.7v.7h-.7zM147.8 204.4h.7v.7h-.7zM150.9 186.6h.7v.7h-.7zM161.7 200.3h.7v.7h-.7zM166.2 195.5h.7v.7h-.7zM151.7 202.7h.7v.7h-.7zM166.2 183.1h.7v.7h-.7zM166.0 183.5h.7v.7h-.7zM149.6 202.1h.7v.7h-.7zM143.6 204.3h.7v.7h-.7zM156.4 200.3h.7v.7h-.7zM142.5 204.7h.7v.7h-.7zM156.6 201.6h.7v.7h-.7zM149.0 202.9h.7v.7h-.7zM151.3 201.2h.7v.7h-.7zM159.7 184.0h.7v.7h-.7zM139.3 201.2h.7v.7h-.7zM161.1 199.5h.7v.7h-.7zM169.1 187.4h.7v.7h-.7zM150.3 188.8h.7v.7h-.7zM142.1 201.8h.7v.7h-.7zM152.5 185.2h.7v.7h-.7zM163.2 183.6h.7v.7h-.7zM159.7 201.4h.7v.7h-.7zM149.6 187.0h.7v.7h-.7zM149.0 203.2h.7v.7h-.7zM169.1 183.7h.7v.7h-.7zM145.2 204.6h.7v.7h-.7zM169.1 188.3h.7v.7h-.7zM162.0 182.0h.7v.7h-.7zM144.9 203.3h.7v.7h-.7zM142.3 194.7h.7v.7h-.7zM151.5 204.4h.7v.7h-.7zM161.2 197.9h.7v.7h-.7zM161.1 182.9h.7v.7h-.7zM156.4 182.0h.7v.7h-.7zM139.9 201.4h.7v.7h-.7zM165.1 182.8h.7v.7h-.7zM163.9 197.6h.7v.7h-.7zM161.2 184.0h.7v.7h-.7zM160.9 181.3h.7v.7h-.7zM160.0 183.8h.7v.7h-.7zM146.4 204.5h.7v.7h-.7zM154.7 201.8h.7v.7h-.7zM163.9 181.5h.7v.7h-.7zM145.2 189.3h.7v.7h-.7zM142.1 200.7h.7v.7h-.7zM142.2 193.6h.7v.7h-.7zM160.6 184.1h.7v.7h-.7zM164.0 182.6h.7v.7h-.7zM140.4 201.2h.7v.7h-.7zM168.2 182.3h.7v.7h-.7zM165.1 196.3h.7v.7h-.7zM153.2 204.7h.7v.7h-.7zM168.0 185.2h.7v.7h-.7zM140.1 197.1h.7v.7h-.7zM142.4 191.7h.7v.7h-.7zM165.9 183.4h.7v.7h-.7zM145.5 202.8h.7v.7h-.7zM167.0 194.1h.7v.7h-.7zM159.5 182.7h.7v.7h-.7zM153.6 184.4h.7v.7h-.7zM159.0 197.2h.7v.7h-.7zM158.0 184.4h.7v.7h-.7zM150.8 186.1h.7v.7h-.7zM164.0 181.0h.7v.7h-.7zM167.1 192.8h.7v.7h-.7zM164.1 183.6h.7v.7h-.7zM158.7 181.5h.7v.7h-.7zM141.3 195.0h.7v.7h-.7zM158.4 199.6h.7v.7h-.7zM151.9 202.9h.7v.7h-.7zM167.7 181.3h.7v.7h-.7zM159.9 199.6h.7v.7h-.7zM170.0 184.1h.7v.7h-.7zM152.5 185.0h.7v.7h-.7zM137.6 201.9h.7v.7h-.7zM168.3 184.7h.7v.7h-.7zM143.0 201.5h.7v.7h-.7zM158.2 199.4h.7v.7h-.7zM154.2 199.7h.7v.7h-.7zM169.3 181.9h.7v.7h-.7zM166.9 192.0h.7v.7h-.7zM159.2 199.6h.7v.7h-.7zM169.6 189.2h.7v.7h-.7zM141.4 192.4h.7v.7h-.7zM149.8 185.5h.7v.7h-.7zM167.0 192.2h.7v.7h-.7zM163.8 182.2h.7v.7h-.7zM165.3 196.2h.7v.7h-.7zM168.8 185.1h.7v.7h-.7zM164.8 184.0h.7v.7h-.7zM143.7 201.0h.7v.7h-.7zM166.8 193.0h.7v.7h-.7zM141.1 193.7h.7v.7h-.7zM168.5 182.2h.7v.7h-.7zM158.3 184.6h.7v.7h-.7zM140.8 198.6h.7v.7h-.7zM151.6 204.4h.7v.7h-.7zM149.0 203.4h.7v.7h-.7zM147.2 188.8h.7v.7h-.7zM169.2 194.3h.7v.7h-.7zM152.9 201.6h.7v.7h-.7zM157.7 202.3h.7v.7h-.7zM168.1 186.7h.7v.7h-.7zM147.0 187.5h.7v.7h-.7zM145.2 201.3h.7v.7h-.7zM165.1 180.7h.7v.7h-.7zM144.1 192.0h.7v.7h-.7zM157.1 199.2h.7v.7h-.7zM158.5 201.3h.7v.7h-.7zM158.9 202.8h.7v.7h-.7zM149.3 202.5h.7v.7h-.7zM145.3 190.1h.7v.7h-.7zM147.5 202.1h.7v.7h-.7zM141.0 194.9h.7v.7h-.7zM140.2 199.8h.7v.7h-.7zM167.3 182.3h.7v.7h-.7zM169.6 192.1h.7v.7h-.7zM154.3 185.9h.7v.7h-.7zM158.9 182.9h.7v.7h-.7zM163.9 195.6h.7v.7h-.7zM168.8 192.9h.7v.7h-.7zM168.2 192.9h.7v.7h-.7zM141.9 204.6h.7v.7h-.7zM144.1 201.8h.7v.7h-.7zM161.2 195.9h.7v.7h-.7zM139.7 199.3h.7v.7h-.7zM168.0 190.4h.7v.7h-.7zM146.4 202.6h.7v.7h-.7zM147.5 204.9h.7v.7h-.7zM169.2 190.8h.7v.7h-.7zM154.8 185.6h.7v.7h-.7zM158.7 201.2h.7v.7h-.7zM148.8 205.3h.7v.7h-.7zM141.3 192.9h.7v.7h-.7zM143.4 202.8h.7v.7h-.7zM139.6 201.8h.7v.7h-.7zM140.0 195.0h.7v.7h-.7zM161.3 182.8h.7v.7h-.7zM145.9 188.4h.7v.7h-.7zM142.6 190.9h.7v.7h-.7zM162.9 197.7h.7v.7h-.7zM168.5 190.4h.7v.7h-.7zM162.5 196.1h.7v.7h-.7zM151.0 202.7h.7v.7h-.7zM160.4 181.4h.7v.7h-.7zM158.8 199.4h.7v.7h-.7zM155.7 184.6h.7v.7h-.7zM148.7 186.3h.7v.7h-.7zM154.8 202.8h.7v.7h-.7zM142.4 200.6h.7v.7h-.7zM151.9 187.0h.7v.7h-.7zM148.3 189.1h.7v.7h-.7zM147.2 189.6h.7v.7h-.7zM154.2 185.3h.7v.7h-.7zM146.9 189.2h.7v.7h-.7zM169.4 189.1h.7v.7h-.7zM168.5 185.6h.7v.7h-.7zM149.9 187.8h.7v.7h-.7zM151.2 184.2h.7v.7h-.7zM167.7 185.7h.7v.7h-.7zM141.9 190.8h.7v.7h-.7zM154.9 184.6h.7v.7h-.7zM161.5 183.6h.7v.7h-.7zM166.7 194.0h.7v.7h-.7zM152.6 188.3h.7v.7h-.7zM169.1 194.9h.7v.7h-.7zM151.8 201.2h.7v.7h-.7zM170.3 188.0h.7v.7h-.7zM158.4 200.9h.7v.7h-.7zM170.2 185.5h.7v.7h-.7zM165.7 180.6h.7v.7h-.7zM148.6 187.8h.7v.7h-.7zM163.2 199.8h.7v.7h-.7zM148.7 202.5h.7v.7h-.7zM170.2 189.3h.7v.7h-.7zM157.5 198.3h.7v.7h-.7zM169.3 192.1h.7v.7h-.7zM158.0 181.1h.7v.7h-.7zM166.0 194.8h.7v.7h-.7zM139.2 197.0h.7v.7h-.7zM140.9 194.1h.7v.7h-.7zM163.7 181.1h.7v.7h-.7zM154.8 200.9h.7v.7h-.7zM144.4 201.9h.7v.7h-.7zM138.5 200.4h.7v.7h-.7zM143.4 190.0h.7v.7h-.7zM165.2 182.9h.7v.7h-.7zM153.7 186.0h.7v.7h-.7zM158.0 199.6h.7v.7h-.7zM169.9 189.3h.7v.7h-.7zM145.8 187.7h.7v.7h-.7zM165.5 188.0h.7v.7h-.7zM141.9 202.6h.7v.7h-.7zM142.7 201.1h.7v.7h-.7zM157.8 182.3h.7v.7h-.7zM163.6 197.2h.7v.7h-.7zM148.3 187.7h.7v.7h-.7zM153.2 202.4h.7v.7h-.7zM171.0 191.1h.7v.7h-.7zM140.7 193.8h.7v.7h-.7zM152.6 184.7h.7v.7h-.7zM142.7 193.5h.7v.7h-.7zM142.7 191.8h.7v.7h-.7zM143.1 190.0h.7v.7h-.7zM165.0 197.2h.7v.7h-.7zM160.3 184.1h.7v.7h-.7zM153.5 183.7h.7v.7h-.7zM141.2 194.6h.7v.7h-.7zM143.9 191.4h.7v.7h-.7zM149.3 186.3h.7v.7h-.7zM148.3 187.4h.7v.7h-.7zM153.7 201.5h.7v.7h-.7zM151.3 185.4h.7v.7h-.7zM142.6 194.5h.7v.7h-.7zM162.4 182.4h.7v.7h-.7zM168.4 181.7h.7v.7h-.7zM154.8 181.3h.7v.7h-.7zM143.9 194.5h.7v.7h-.7zM162.6 183.4h.7v.7h-.7zM143.8 190.8h.7v.7h-.7zM141.1 193.6h.7v.7h-.7zM161.3 198.6h.7v.7h-.7zM150.7 203.8h.7v.7h-.7zM156.5 201.3h.7v.7h-.7zM165.1 196.6h.7v.7h-.7zM143.9 190.3h.7v.7h-.7zM160.8 200.2h.7v.7h-.7zM140.1 196.0h.7v.7h-.7zM168.8 183.2h.7v.7h-.7zM152.0 186.6h.7v.7h-.7zM146.9 190.1h.7v.7h-.7zM153.6 202.0h.7v.7h-.7zM158.5 203.3h.7v.7h-.7zM153.4 185.0h.7v.7h-.7zM167.0 192.0h.7v.7h-.7zM162.9 181.6h.7v.7h-.7zM162.0 183.2h.7v.7h-.7zM160.8 198.5h.7v.7h-.7zM150.0 203.1h.7v.7h-.7zM155.0 185.2h.7v.7h-.7zM156.5 183.9h.7v.7h-.7z" fill="#3050cc" opacity="0.6"/><path d="M148.29 187.2h0.7v0.7h-0.7zM157.72 165.9h0.7v0.7h-0.7zM145.78 185.67h0.7v0.7h-0.7zM160.1 181.64h0.7v0.7h-0.7zM154 171.94h0.7v0.7h-0.7zM154.35 176.87h0.7v0.7h-0.7zM157.94 176.57h0.7v0.7h-0.7zM158.53 172.11h0.7v0.7h-0.7zM151.48 177.55h0.7v0.7h-0.7zM156.82 170.72h0.7v0.7h-0.7zM159.25 186.63h0.7v0.7h-0.7zM144.51 186.45h0.7v0.7h-0.7zM158.11 181.32h0.7v0.7h-0.7zM156.82 178.79h0.7v0.7h-0.7zM159.33 178.7h0.7v0.7h-0.7zM147.25 180.67h0.7v0.7h-0.7zM148.75 176.78h0.7v0.7h-0.7zM156.24 182.29h0.7v0.7h-0.7zM161.91 173.47h0.7v0.7h-0.7zM138.95 184.04h0.7v0.7h-0.7zM145.72 186.68h0.7v0.7h-0.7zM167.63 176.54h0.7v0.7h-0.7zM161.11 178.49h0.7v0.7h-0.7zM170.77 177.11h0.7v0.7h-0.7zM164.95 170.05h0.7v0.7h-0.7zM152.35 179.34h0.7v0.7h-0.7zM139.67 182.79h0.7v0.7h-0.7zM155.84 177.81h0.7v0.7h-0.7zM154.5 178.07h0.7v0.7h-0.7zM151.74 173.75h0.7v0.7h-0.7zM164.18 175.14h0.7v0.7h-0.7zM158.72 177.18h0.7v0.7h-0.7zM148.36 174.25h0.7v0.7h-0.7zM154.71 180.68h0.7v0.7h-0.7zM156.16 180.97h0.7v0.7h-0.7zM149.99 179h0.7v0.7h-0.7zM157.01 177.24h0.7v0.7h-0.7zM159.22 182.74h0.7v0.7h-0.7zM153.22 179.58h0.7v0.7h-0.7zM152.09 181.67h0.7v0.7h-0.7zM156.7 174.74h0.7v0.7h-0.7zM147.22 176.29h0.7v0.7h-0.7zM154.22 179.29h0.7v0.7h-0.7zM152.35 178.89h0.7v0.7h-0.7zM160.13 186.16h0.7v0.7h-0.7zM167.61 183.32h0.7v0.7h-0.7zM157.32 178.43h0.7v0.7h-0.7zM170.6 174.27h0.7v0.7h-0.7zM160.1 174.45h0.7v0.7h-0.7zM153.17 182.24h0.7v0.7h-0.7zM150.86 177.17h0.7v0.7h-0.7zM145.69 182.98h0.7v0.7h-0.7zM156.09 180.22h0.7v0.7h-0.7zM148.15 175.78h0.7v0.7h-0.7zM164.04 175.18h0.7v0.7h-0.7zM160.22 171.76h0.7v0.7h-0.7zM143.36 172.22h0.7v0.7h-0.7zM159.51 180.81h0.7v0.7h-0.7zM167.95 180.94h0.7v0.7h-0.7zM141.46 178.82h0.7v0.7h-0.7zM151.19 176.51h0.7v0.7h-0.7zM153.46 175.65h0.7v0.7h-0.7zM145.39 181.7h0.7v0.7h-0.7zM155.92 174.88h0.7v0.7h-0.7zM154.55 173.2h0.7v0.7h-0.7zM153.22 177.64h0.7v0.7h-0.7zM152.63 178.92h0.7v0.7h-0.7zM145.11 176.46h0.7v0.7h-0.7zM151.01 182.85h0.7v0.7h-0.7zM147.93 177.1h0.7v0.7h-0.7zM169.99 171.86h0.7v0.7h-0.7zM152.09 175.79h0.7v0.7h-0.7zM167.33 176.05h0.7v0.7h-0.7zM160.02 183.09h0.7v0.7h-0.7zM145.19 175.02h0.7v0.7h-0.7zM164.6 176.66h0.7v0.7h-0.7zM153.36 182.24h0.7v0.7h-0.7zM157.92 185.34h0.7v0.7h-0.7zM147.34 182.63h0.7v0.7h-0.7zM164.26 178.65h0.7v0.7h-0.7zM152.89 177.51h0.7v0.7h-0.7zM153.78 181.65h0.7v0.7h-0.7zM152.92 178.56h0.7v0.7h-0.7zM163.27 174.9h0.7v0.7h-0.7zM157.61 176.91h0.7v0.7h-0.7zM153.14 169.91h0.7v0.7h-0.7zM149.72 181.81h0.7v0.7h-0.7z" fill="#3044c4" opacity="0.4"/><g filter="url(#bl2)"><path d="M169.43 185.65C169.72 186.21 169.92 186.87 169.96 187.50C170.01 188.12 169.91 188.74 169.70 189.40C169.50 190.05 169.16 190.73 168.73 191.41C168.29 192.09 167.73 192.79 167.08 193.48C166.43 194.18 165.66 194.87 164.81 195.55C163.96 196.23 163.04 196.89 161.96 197.57C160.89 198.24 159.59 198.97 158.36 199.59C157.13 200.22 155.78 200.84 154.60 201.32C153.42 201.79 152.35 202.15 151.30 202.44C150.25 202.73 149.23 202.94 148.29 203.06C147.35 203.18 146.45 203.22 145.65 203.17C144.84 203.12 144.09 202.99 143.44 202.78C142.79 202.56 142.23 202.27 141.75 201.87C141.27 201.47 140.85 200.92 140.57 200.35C140.28 199.79 140.08 199.13 140.04 198.50C139.99 197.88 140.09 197.26 140.30 196.60C140.50 195.95 140.84 195.27 141.27 194.59C141.71 193.91 142.27 193.21 142.92 192.52C143.57 191.82 144.34 191.13 145.19 190.45C146.04 189.77 146.96 189.11 148.04 188.43C149.11 187.76 150.41 187.03 151.64 186.41C152.87 185.78 154.22 185.16 155.40 184.68C156.58 184.21 157.65 183.85 158.70 183.56C159.75 183.27 160.77 183.06 161.71 182.94C162.65 182.82 163.55 182.78 164.35 182.83C165.16 182.88 165.91 183.01 166.56 183.22C167.21 183.44 167.77 183.73 168.25 184.13C168.73 184.53 169.15 185.08 169.43 185.65Z" fill="#3044c4"/><path d="M167.11 186.72C167.34 187.16 167.49 187.70 167.53 188.20C167.57 188.70 167.49 189.20 167.32 189.72C167.16 190.24 166.89 190.78 166.54 191.33C166.19 191.87 165.75 192.44 165.22 192.99C164.70 193.54 164.09 194.10 163.41 194.64C162.73 195.19 161.99 195.71 161.13 196.25C160.27 196.79 159.23 197.37 158.25 197.87C157.27 198.38 156.18 198.88 155.24 199.26C154.30 199.63 153.44 199.92 152.60 200.15C151.76 200.38 150.95 200.55 150.19 200.65C149.44 200.74 148.72 200.77 148.08 200.74C147.43 200.70 146.83 200.59 146.32 200.42C145.80 200.25 145.35 200.02 144.96 199.70C144.58 199.37 144.24 198.93 144.01 198.48C143.78 198.04 143.63 197.50 143.59 197.00C143.55 196.50 143.63 196.00 143.80 195.48C143.96 194.96 144.23 194.42 144.58 193.87C144.93 193.33 145.37 192.76 145.90 192.21C146.42 191.66 147.03 191.10 147.71 190.56C148.39 190.01 149.13 189.49 149.99 188.95C150.85 188.41 151.89 187.83 152.87 187.33C153.85 186.82 154.94 186.32 155.88 185.94C156.82 185.57 157.68 185.28 158.52 185.05C159.36 184.82 160.17 184.65 160.93 184.55C161.68 184.46 162.40 184.43 163.04 184.46C163.69 184.50 164.29 184.61 164.80 184.78C165.32 184.95 165.77 185.18 166.16 185.50C166.54 185.83 166.88 186.27 167.11 186.72Z" fill="#3462cc"/><path d="M165.48 187.47C165.67 187.84 165.80 188.27 165.83 188.69C165.86 189.10 165.79 189.51 165.65 189.94C165.52 190.37 165.30 190.82 165.01 191.27C164.72 191.72 164.36 192.18 163.93 192.64C163.49 193.10 162.99 193.56 162.43 194.01C161.87 194.45 161.26 194.89 160.55 195.33C159.84 195.78 158.98 196.26 158.17 196.67C157.36 197.08 156.47 197.50 155.69 197.81C154.91 198.12 154.20 198.36 153.51 198.55C152.82 198.74 152.15 198.88 151.52 198.96C150.90 199.04 150.31 199.06 149.78 199.03C149.25 199.00 148.75 198.92 148.32 198.77C147.90 198.63 147.52 198.44 147.21 198.17C146.89 197.91 146.61 197.54 146.43 197.17C146.24 196.80 146.11 196.37 146.08 195.95C146.05 195.54 146.11 195.13 146.25 194.70C146.38 194.27 146.60 193.82 146.89 193.37C147.18 192.92 147.55 192.46 147.98 192.00C148.41 191.54 148.91 191.08 149.48 190.63C150.04 190.19 150.65 189.75 151.36 189.31C152.06 188.86 152.92 188.38 153.73 187.97C154.54 187.56 155.44 187.14 156.22 186.83C156.99 186.52 157.70 186.28 158.39 186.09C159.09 185.90 159.76 185.76 160.38 185.68C161.00 185.60 161.59 185.58 162.13 185.61C162.66 185.64 163.15 185.72 163.58 185.87C164.01 186.01 164.38 186.20 164.70 186.47C165.01 186.73 165.29 187.10 165.48 187.47Z" fill="#2aa6d6"/><path d="M163.85 188.22C164.00 188.51 164.10 188.85 164.12 189.18C164.15 189.50 164.10 189.83 163.99 190.17C163.88 190.51 163.71 190.86 163.48 191.21C163.25 191.57 162.97 191.93 162.63 192.29C162.29 192.65 161.89 193.01 161.45 193.37C161.00 193.72 160.53 194.06 159.97 194.41C159.41 194.76 158.73 195.14 158.09 195.47C157.45 195.79 156.75 196.12 156.14 196.37C155.52 196.61 154.97 196.80 154.42 196.95C153.87 197.10 153.35 197.21 152.86 197.27C152.37 197.33 151.90 197.35 151.48 197.33C151.06 197.30 150.67 197.24 150.33 197.12C150.00 197.01 149.70 196.86 149.46 196.65C149.21 196.44 148.99 196.16 148.84 195.86C148.69 195.57 148.59 195.23 148.56 194.90C148.54 194.58 148.59 194.25 148.70 193.91C148.81 193.57 148.98 193.22 149.21 192.87C149.43 192.51 149.72 192.15 150.06 191.79C150.40 191.43 150.80 191.07 151.24 190.71C151.68 190.36 152.16 190.02 152.72 189.67C153.28 189.32 153.96 188.94 154.60 188.61C155.24 188.29 155.94 187.96 156.55 187.71C157.16 187.47 157.72 187.28 158.27 187.13C158.82 186.98 159.34 186.87 159.83 186.81C160.32 186.75 160.79 186.73 161.21 186.75C161.63 186.78 162.02 186.84 162.35 186.96C162.69 187.07 162.98 187.22 163.23 187.43C163.48 187.64 163.70 187.92 163.85 188.22Z" fill="#5cc05a"/><path d="M161.99 189.07C162.09 189.27 162.16 189.51 162.18 189.74C162.19 189.96 162.16 190.19 162.08 190.42C162.01 190.66 161.89 190.90 161.73 191.15C161.58 191.39 161.38 191.65 161.14 191.89C160.91 192.14 160.63 192.39 160.32 192.64C160.02 192.88 159.69 193.12 159.30 193.36C158.91 193.61 158.44 193.87 158.00 194.09C157.56 194.32 157.07 194.54 156.65 194.71C156.22 194.89 155.84 195.01 155.46 195.12C155.08 195.22 154.72 195.30 154.38 195.34C154.04 195.38 153.72 195.40 153.42 195.38C153.13 195.36 152.87 195.32 152.63 195.24C152.40 195.16 152.20 195.06 152.02 194.91C151.85 194.77 151.70 194.57 151.60 194.37C151.49 194.17 151.42 193.93 151.41 193.70C151.39 193.48 151.43 193.25 151.50 193.02C151.57 192.78 151.69 192.54 151.85 192.29C152.01 192.05 152.21 191.79 152.44 191.55C152.68 191.30 152.95 191.05 153.26 190.80C153.57 190.56 153.90 190.32 154.28 190.08C154.67 189.83 155.14 189.57 155.58 189.35C156.02 189.12 156.51 188.90 156.94 188.73C157.36 188.55 157.75 188.43 158.12 188.32C158.50 188.22 158.87 188.14 159.21 188.10C159.55 188.06 159.87 188.04 160.16 188.06C160.45 188.08 160.72 188.12 160.95 188.20C161.19 188.28 161.39 188.38 161.56 188.53C161.73 188.67 161.89 188.87 161.99 189.07Z" fill="#d6d832"/><path d="M160.13 189.93C160.18 190.04 160.22 190.17 160.23 190.30C160.24 190.42 160.22 190.55 160.18 190.68C160.14 190.81 160.07 190.95 159.99 191.08C159.90 191.22 159.79 191.36 159.66 191.50C159.53 191.64 159.37 191.77 159.20 191.91C159.03 192.05 158.85 192.18 158.63 192.31C158.42 192.45 158.16 192.59 157.91 192.72C157.67 192.84 157.40 192.97 157.16 193.06C156.92 193.16 156.71 193.23 156.50 193.29C156.29 193.35 156.09 193.39 155.90 193.41C155.71 193.44 155.53 193.44 155.37 193.43C155.21 193.42 155.06 193.40 154.93 193.36C154.80 193.31 154.69 193.25 154.59 193.17C154.49 193.09 154.41 192.98 154.35 192.87C154.30 192.76 154.26 192.63 154.25 192.50C154.24 192.38 154.26 192.25 154.30 192.12C154.34 191.99 154.41 191.85 154.49 191.72C154.58 191.58 154.69 191.44 154.82 191.30C154.95 191.16 155.11 191.03 155.28 190.89C155.45 190.75 155.63 190.62 155.85 190.49C156.06 190.35 156.32 190.21 156.57 190.08C156.81 189.96 157.08 189.83 157.32 189.74C157.56 189.64 157.77 189.57 157.98 189.51C158.19 189.45 158.39 189.41 158.58 189.39C158.77 189.36 158.95 189.36 159.11 189.37C159.27 189.38 159.42 189.40 159.55 189.44C159.68 189.49 159.79 189.55 159.89 189.63C159.99 189.71 160.07 189.82 160.13 189.93Z" fill="#f07a22"/></g></g><polygon points="139.28,194.68 169.92,178.52 169.92,196.08 141.09,209.97 136.99,201.6" fill="none" stroke="#3a3a80" stroke-width="0.6" stroke-linejoin="round" opacity="0.8"/><rect x="129.8" y="146.6" width="67.2" height="66.5" fill="none" stroke="#7a7a7a" stroke-width="0.75"/><line x1="130.09" y1="213.1" x2="130.09" y2="214.3" stroke="#666" stroke-width="0.5"/><text x="130.09" y="219.8" font-size="4" text-anchor="middle" fill="#555">0</text><line x1="142.52" y1="213.1" x2="142.52" y2="214.3" stroke="#666" stroke-width="0.5"/><text x="142.52" y="219.8" font-size="4" text-anchor="middle" fill="#555">1</text><line x1="155.33" y1="213.1" x2="155.33" y2="214.3" stroke="#666" stroke-width="0.5"/><text x="155.33" y="219.8" font-size="4" text-anchor="middle" fill="#555">2</text><line x1="168.14" y1="213.1" x2="168.14" y2="214.3" stroke="#666" stroke-width="0.5"/><text x="168.14" y="219.8" font-size="4" text-anchor="middle" fill="#555">3</text><line x1="180.66" y1="213.1" x2="180.66" y2="214.3" stroke="#666" stroke-width="0.5"/><text x="180.66" y="219.8" font-size="4" text-anchor="middle" fill="#555">4</text><line x1="194.46" y1="213.1" x2="194.46" y2="214.3" stroke="#666" stroke-width="0.5"/><text x="194.46" y="219.8" font-size="4" text-anchor="middle" fill="#555">5.2</text><line x1="128.6" y1="149.65" x2="129.8" y2="149.65" stroke="#666" stroke-width="0.5"/><text x="127.2" y="149.65" font-size="3.6" text-anchor="middle" fill="#555" transform="rotate(-90 127.2 149.65)">10<tspan font-size="2.6" dy="-1">4</tspan></text><line x1="128.6" y1="169.29" x2="129.8" y2="169.29" stroke="#666" stroke-width="0.5"/><text x="127.2" y="169.29" font-size="3.6" text-anchor="middle" fill="#555" transform="rotate(-90 127.2 169.29)">10<tspan font-size="2.6" dy="-1">3</tspan></text><line x1="128.6" y1="191.88" x2="129.8" y2="191.88" stroke="#666" stroke-width="0.5"/><text x="127.2" y="191.88" font-size="3.6" text-anchor="middle" fill="#555" transform="rotate(-90 127.2 191.88)">10<tspan font-size="2.6" dy="-1">2</tspan></text><line x1="128.6" y1="212.31" x2="129.8" y2="212.31" stroke="#666" stroke-width="0.5"/><text x="127.2" y="212.31" font-size="3.6" text-anchor="middle" fill="#555" transform="rotate(-90 127.2 212.31)">-10<tspan font-size="2.6" dy="-1">2</tspan></text><text x="173.41" y="167.82" font-size="4.3" fill="#2a9a4a">p-Kap1 +</text><text x="174.22" y="186.44" font-size="4.3" fill="#444">p-Kap1 −</text><text x="117.2" y="177.35" font-size="6.7" text-anchor="middle" fill="#222" stroke="#222" stroke-width="0.1" transform="rotate(-90 117.2 177.35)">p-Kap1 S473</text><text x="164" y="229" font-size="6.35" text-anchor="middle" fill="#222" stroke="#222" stroke-width="0.1">PI (10<tspan font-size="4.2" dy="-2">5</tspan><tspan dy="2">)</tspan></text><polygon points="242.4,193.08 241.12,178.45 241.59,160.37 250.12,153.45 266.19,151.39 273.91,157.24 273.91,175" fill="none" stroke="#d0a474" stroke-width="0.75" stroke-linejoin="round"/><g filter="url(#bl)"><path d="M260.9 177.7h.7v.7h-.7zM254.7 178.8h.7v.7h-.7zM262.6 160.6h.7v.7h-.7zM256.1 178.8h.7v.7h-.7zM259.0 159.4h.7v.7h-.7zM268.5 168.4h.7v.7h-.7zM256.1 160.8h.7v.7h-.7zM247.7 178.1h.7v.7h-.7zM249.1 179.6h.7v.7h-.7zM250.6 164.1h.7v.7h-.7zM266.8 161.3h.7v.7h-.7zM264.6 176.7h.7v.7h-.7zM245.8 175.4h.7v.7h-.7zM264.3 161.0h.7v.7h-.7zM264.6 176.5h.7v.7h-.7zM265.3 166.5h.7v.7h-.7zM260.3 160.3h.7v.7h-.7zM261.1 160.6h.7v.7h-.7zM265.8 174.2h.7v.7h-.7zM263.8 179.4h.7v.7h-.7zM249.7 179.9h.7v.7h-.7zM247.8 172.3h.7v.7h-.7zM251.9 161.3h.7v.7h-.7zM254.9 180.8h.7v.7h-.7zM266.8 170.1h.7v.7h-.7zM256.5 160.9h.7v.7h-.7zM248.8 179.2h.7v.7h-.7zM268.8 175.0h.7v.7h-.7zM266.3 165.5h.7v.7h-.7zM265.9 166.2h.7v.7h-.7zM260.8 159.9h.7v.7h-.7zM250.8 178.1h.7v.7h-.7zM246.3 177.2h.7v.7h-.7zM253.3 161.9h.7v.7h-.7zM248.6 179.3h.7v.7h-.7zM261.5 180.4h.7v.7h-.7zM246.4 175.7h.7v.7h-.7zM261.1 159.9h.7v.7h-.7zM259.3 160.2h.7v.7h-.7zM262.4 159.5h.7v.7h-.7zM266.3 172.5h.7v.7h-.7zM259.1 177.9h.7v.7h-.7zM250.1 179.6h.7v.7h-.7zM249.5 163.2h.7v.7h-.7zM250.5 180.4h.7v.7h-.7zM259.7 177.7h.7v.7h-.7zM258.8 177.4h.7v.7h-.7zM246.9 164.2h.7v.7h-.7zM258.4 159.7h.7v.7h-.7zM253.5 180.5h.7v.7h-.7zM249.7 165.5h.7v.7h-.7zM245.2 171.0h.7v.7h-.7zM250.3 160.4h.7v.7h-.7zM246.4 170.1h.7v.7h-.7zM258.5 180.2h.7v.7h-.7zM266.5 177.1h.7v.7h-.7zM261.0 158.7h.7v.7h-.7zM264.9 173.2h.7v.7h-.7zM245.1 171.3h.7v.7h-.7zM256.8 160.9h.7v.7h-.7zM246.1 169.0h.7v.7h-.7zM263.9 178.2h.7v.7h-.7zM265.0 176.9h.7v.7h-.7zM247.8 169.1h.7v.7h-.7zM256.5 177.2h.7v.7h-.7zM252.9 162.8h.7v.7h-.7zM267.7 165.0h.7v.7h-.7zM250.9 162.3h.7v.7h-.7zM266.6 162.5h.7v.7h-.7zM266.0 175.0h.7v.7h-.7zM261.7 159.8h.7v.7h-.7zM259.4 161.3h.7v.7h-.7zM246.3 167.7h.7v.7h-.7zM261.1 178.7h.7v.7h-.7zM246.6 176.3h.7v.7h-.7zM246.9 166.5h.7v.7h-.7zM247.0 178.9h.7v.7h-.7zM255.1 180.1h.7v.7h-.7zM261.5 178.8h.7v.7h-.7zM264.0 177.9h.7v.7h-.7zM248.2 163.4h.7v.7h-.7zM245.1 176.2h.7v.7h-.7zM246.0 170.4h.7v.7h-.7zM250.3 180.5h.7v.7h-.7zM262.5 160.0h.7v.7h-.7zM263.5 177.0h.7v.7h-.7zM252.6 178.6h.7v.7h-.7zM251.5 179.1h.7v.7h-.7zM253.9 178.1h.7v.7h-.7zM248.1 177.9h.7v.7h-.7zM245.7 174.1h.7v.7h-.7zM252.9 161.3h.7v.7h-.7zM258.3 178.0h.7v.7h-.7zM262.5 177.8h.7v.7h-.7zM246.7 172.0h.7v.7h-.7zM266.1 163.8h.7v.7h-.7zM247.5 177.2h.7v.7h-.7zM253.8 159.9h.7v.7h-.7zM246.8 168.9h.7v.7h-.7zM245.3 173.9h.7v.7h-.7zM262.6 177.4h.7v.7h-.7zM266.5 173.7h.7v.7h-.7zM259.9 161.2h.7v.7h-.7zM259.7 176.6h.7v.7h-.7zM252.7 161.1h.7v.7h-.7zM267.5 163.9h.7v.7h-.7zM255.0 159.3h.7v.7h-.7zM253.8 178.1h.7v.7h-.7zM245.6 177.2h.7v.7h-.7zM257.8 159.9h.7v.7h-.7zM260.5 163.0h.7v.7h-.7zM260.9 178.5h.7v.7h-.7zM256.3 178.3h.7v.7h-.7zM247.4 167.4h.7v.7h-.7zM265.2 172.3h.7v.7h-.7zM246.5 162.6h.7v.7h-.7zM257.8 162.5h.7v.7h-.7zM266.8 170.8h.7v.7h-.7zM246.5 178.0h.7v.7h-.7zM265.3 163.0h.7v.7h-.7zM252.8 177.9h.7v.7h-.7zM264.0 176.4h.7v.7h-.7zM250.0 179.3h.7v.7h-.7zM265.8 162.0h.7v.7h-.7zM267.1 162.6h.7v.7h-.7zM245.8 171.7h.7v.7h-.7zM247.4 167.4h.7v.7h-.7zM245.8 174.3h.7v.7h-.7zM247.1 176.4h.7v.7h-.7zM252.5 161.4h.7v.7h-.7zM264.7 176.8h.7v.7h-.7zM245.9 173.8h.7v.7h-.7zM246.5 164.9h.7v.7h-.7zM268.9 170.5h.7v.7h-.7zM249.3 164.6h.7v.7h-.7zM245.2 172.0h.7v.7h-.7zM265.3 164.6h.7v.7h-.7zM247.7 168.2h.7v.7h-.7zM265.7 160.1h.7v.7h-.7zM264.3 175.3h.7v.7h-.7zM249.8 178.4h.7v.7h-.7zM265.0 163.4h.7v.7h-.7zM254.0 160.5h.7v.7h-.7zM246.7 167.8h.7v.7h-.7zM254.4 178.6h.7v.7h-.7zM251.8 179.0h.7v.7h-.7zM260.2 178.5h.7v.7h-.7zM263.7 180.2h.7v.7h-.7zM258.1 182.3h.7v.7h-.7zM246.5 173.3h.7v.7h-.7zM246.0 179.0h.7v.7h-.7zM267.6 170.0h.7v.7h-.7zM266.5 174.1h.7v.7h-.7zM246.6 170.4h.7v.7h-.7zM267.8 167.8h.7v.7h-.7zM267.8 175.2h.7v.7h-.7zM257.5 177.9h.7v.7h-.7zM265.0 172.4h.7v.7h-.7zM247.0 165.5h.7v.7h-.7zM267.0 165.4h.7v.7h-.7zM250.0 179.9h.7v.7h-.7zM259.7 160.2h.7v.7h-.7zM247.4 168.3h.7v.7h-.7zM250.5 178.7h.7v.7h-.7zM245.5 169.5h.7v.7h-.7zM257.1 162.6h.7v.7h-.7zM256.1 178.2h.7v.7h-.7zM265.1 177.1h.7v.7h-.7zM262.5 158.8h.7v.7h-.7zM253.3 160.3h.7v.7h-.7zM249.5 178.7h.7v.7h-.7zM259.1 178.0h.7v.7h-.7zM268.5 174.5h.7v.7h-.7zM256.9 160.7h.7v.7h-.7zM266.2 162.4h.7v.7h-.7zM262.8 178.8h.7v.7h-.7zM260.2 177.4h.7v.7h-.7zM256.9 161.1h.7v.7h-.7zM248.6 179.4h.7v.7h-.7zM263.9 160.5h.7v.7h-.7zM251.1 177.9h.7v.7h-.7zM264.8 161.3h.7v.7h-.7zM249.3 178.6h.7v.7h-.7zM264.6 160.1h.7v.7h-.7zM267.0 175.1h.7v.7h-.7zM265.8 175.7h.7v.7h-.7zM265.9 161.2h.7v.7h-.7zM253.2 161.8h.7v.7h-.7zM245.5 180.7h.7v.7h-.7zM249.8 165.0h.7v.7h-.7zM266.6 173.7h.7v.7h-.7zM257.8 161.3h.7v.7h-.7zM265.7 172.1h.7v.7h-.7zM254.7 160.9h.7v.7h-.7zM266.7 171.6h.7v.7h-.7zM266.1 165.3h.7v.7h-.7zM245.3 176.8h.7v.7h-.7zM246.7 175.0h.7v.7h-.7zM267.8 174.8h.7v.7h-.7zM245.8 177.6h.7v.7h-.7zM245.3 176.4h.7v.7h-.7zM266.4 170.5h.7v.7h-.7zM263.8 159.5h.7v.7h-.7zM255.5 180.7h.7v.7h-.7zM246.4 171.1h.7v.7h-.7zM265.8 173.0h.7v.7h-.7zM253.8 178.9h.7v.7h-.7zM269.9 162.6h.7v.7h-.7zM266.5 166.0h.7v.7h-.7zM267.4 161.3h.7v.7h-.7zM247.3 163.7h.7v.7h-.7zM266.3 173.9h.7v.7h-.7zM246.9 169.0h.7v.7h-.7zM263.5 159.5h.7v.7h-.7zM246.4 181.3h.7v.7h-.7zM246.0 168.0h.7v.7h-.7zM265.9 161.5h.7v.7h-.7zM256.4 177.5h.7v.7h-.7zM267.1 162.1h.7v.7h-.7zM268.2 168.8h.7v.7h-.7zM260.6 177.2h.7v.7h-.7zM257.6 179.3h.7v.7h-.7zM253.2 162.5h.7v.7h-.7zM266.2 176.6h.7v.7h-.7zM261.5 157.5h.7v.7h-.7zM254.3 160.2h.7v.7h-.7zM249.8 162.4h.7v.7h-.7zM256.2 179.7h.7v.7h-.7zM266.4 176.4h.7v.7h-.7zM266.6 162.3h.7v.7h-.7zM259.9 179.6h.7v.7h-.7zM264.2 161.9h.7v.7h-.7zM251.2 160.8h.7v.7h-.7zM252.2 162.3h.7v.7h-.7zM266.4 160.4h.7v.7h-.7zM250.7 161.2h.7v.7h-.7zM246.7 170.4h.7v.7h-.7zM265.9 174.8h.7v.7h-.7zM248.0 176.8h.7v.7h-.7zM250.3 179.5h.7v.7h-.7zM245.5 174.1h.7v.7h-.7zM248.3 162.2h.7v.7h-.7zM266.5 169.7h.7v.7h-.7zM266.2 167.2h.7v.7h-.7zM258.6 179.6h.7v.7h-.7zM252.3 178.5h.7v.7h-.7zM244.7 172.8h.7v.7h-.7zM264.1 178.2h.7v.7h-.7zM247.7 171.7h.7v.7h-.7zM256.6 178.4h.7v.7h-.7zM265.1 176.7h.7v.7h-.7zM246.2 171.0h.7v.7h-.7zM255.0 177.3h.7v.7h-.7zM244.0 171.3h.7v.7h-.7zM265.9 172.5h.7v.7h-.7zM263.6 161.0h.7v.7h-.7zM245.6 174.6h.7v.7h-.7zM247.6 176.7h.7v.7h-.7zM258.6 177.6h.7v.7h-.7zM259.6 176.1h.7v.7h-.7zM245.6 175.6h.7v.7h-.7zM260.1 180.6h.7v.7h-.7zM257.8 178.4h.7v.7h-.7zM265.7 159.2h.7v.7h-.7zM267.1 161.9h.7v.7h-.7zM267.3 174.7h.7v.7h-.7zM262.8 178.7h.7v.7h-.7zM263.8 161.8h.7v.7h-.7zM255.9 161.5h.7v.7h-.7zM254.2 161.3h.7v.7h-.7zM247.8 176.9h.7v.7h-.7zM266.2 164.4h.7v.7h-.7zM247.4 174.5h.7v.7h-.7zM264.5 177.0h.7v.7h-.7zM268.4 170.6h.7v.7h-.7zM265.1 173.4h.7v.7h-.7zM265.5 175.8h.7v.7h-.7zM251.0 176.9h.7v.7h-.7zM257.9 178.2h.7v.7h-.7zM267.8 168.9h.7v.7h-.7zM250.4 165.5h.7v.7h-.7zM260.9 177.2h.7v.7h-.7zM248.2 164.0h.7v.7h-.7zM261.6 179.4h.7v.7h-.7zM249.0 178.9h.7v.7h-.7zM261.1 160.8h.7v.7h-.7zM266.9 174.2h.7v.7h-.7zM260.9 178.9h.7v.7h-.7zM252.2 161.2h.7v.7h-.7zM253.7 177.8h.7v.7h-.7zM247.4 166.2h.7v.7h-.7zM264.2 172.1h.7v.7h-.7zM246.2 172.0h.7v.7h-.7zM261.7 175.6h.7v.7h-.7zM244.3 173.4h.7v.7h-.7zM265.5 164.9h.7v.7h-.7zM247.3 176.3h.7v.7h-.7zM247.5 172.3h.7v.7h-.7zM265.9 175.0h.7v.7h-.7zM253.8 177.6h.7v.7h-.7z" fill="#3050cc" opacity="0.6"/><path d="M246.2 178.4h.7v.7h-.7zM249.0 183.2h.7v.7h-.7zM258.0 184.2h.7v.7h-.7zM257.8 175.0h.7v.7h-.7zM256.9 174.2h.7v.7h-.7zM247.2 182.2h.7v.7h-.7zM253.9 175.4h.7v.7h-.7zM263.3 174.0h.7v.7h-.7zM254.6 187.0h.7v.7h-.7zM259.6 174.9h.7v.7h-.7zM264.0 175.3h.7v.7h-.7zM245.8 184.7h.7v.7h-.7zM263.2 174.1h.7v.7h-.7zM248.2 178.9h.7v.7h-.7zM257.4 186.6h.7v.7h-.7zM258.1 185.4h.7v.7h-.7zM258.3 175.6h.7v.7h-.7zM248.3 184.6h.7v.7h-.7zM262.2 181.0h.7v.7h-.7zM263.7 182.5h.7v.7h-.7zM264.0 178.6h.7v.7h-.7zM248.6 186.1h.7v.7h-.7zM245.0 177.3h.7v.7h-.7zM258.2 174.7h.7v.7h-.7zM247.4 182.3h.7v.7h-.7zM249.0 175.0h.7v.7h-.7zM247.3 178.9h.7v.7h-.7zM248.0 178.5h.7v.7h-.7zM256.0 187.1h.7v.7h-.7zM264.3 173.3h.7v.7h-.7zM249.2 176.3h.7v.7h-.7zM259.1 183.9h.7v.7h-.7zM261.6 174.9h.7v.7h-.7zM248.8 179.1h.7v.7h-.7zM263.5 180.9h.7v.7h-.7zM251.9 186.4h.7v.7h-.7zM260.8 183.5h.7v.7h-.7zM263.1 175.2h.7v.7h-.7zM259.9 182.5h.7v.7h-.7zM257.9 185.5h.7v.7h-.7zM257.7 182.8h.7v.7h-.7zM247.7 181.0h.7v.7h-.7zM252.2 184.9h.7v.7h-.7zM246.6 181.2h.7v.7h-.7zM257.4 176.0h.7v.7h-.7zM251.0 187.6h.7v.7h-.7zM264.0 178.6h.7v.7h-.7zM258.3 173.0h.7v.7h-.7zM258.9 176.0h.7v.7h-.7zM248.7 179.7h.7v.7h-.7zM253.2 186.2h.7v.7h-.7zM259.4 175.2h.7v.7h-.7zM246.3 179.3h.7v.7h-.7zM264.2 174.2h.7v.7h-.7zM261.3 180.2h.7v.7h-.7zM249.2 175.5h.7v.7h-.7zM261.0 176.3h.7v.7h-.7zM246.2 181.1h.7v.7h-.7zM246.9 185.4h.7v.7h-.7zM258.2 185.0h.7v.7h-.7zM256.5 185.7h.7v.7h-.7zM245.5 174.5h.7v.7h-.7zM250.2 186.5h.7v.7h-.7zM261.0 183.9h.7v.7h-.7zM262.0 174.8h.7v.7h-.7zM262.2 175.4h.7v.7h-.7zM249.1 184.5h.7v.7h-.7zM245.7 179.7h.7v.7h-.7zM254.1 185.5h.7v.7h-.7zM258.4 186.6h.7v.7h-.7zM257.2 176.1h.7v.7h-.7zM262.9 176.8h.7v.7h-.7zM260.8 181.8h.7v.7h-.7zM265.1 177.7h.7v.7h-.7zM262.4 174.4h.7v.7h-.7zM248.4 182.4h.7v.7h-.7zM247.8 175.2h.7v.7h-.7zM246.3 184.6h.7v.7h-.7zM247.4 181.2h.7v.7h-.7zM255.5 183.9h.7v.7h-.7zM262.8 180.6h.7v.7h-.7zM248.3 178.5h.7v.7h-.7zM264.2 175.7h.7v.7h-.7zM248.0 183.2h.7v.7h-.7zM263.1 181.3h.7v.7h-.7zM250.3 174.8h.7v.7h-.7zM247.2 184.1h.7v.7h-.7zM251.1 174.6h.7v.7h-.7zM260.2 173.2h.7v.7h-.7zM253.8 186.2h.7v.7h-.7zM255.4 175.2h.7v.7h-.7zM248.2 183.0h.7v.7h-.7zM258.4 184.8h.7v.7h-.7zM263.9 180.5h.7v.7h-.7zM253.6 172.0h.7v.7h-.7zM263.3 179.5h.7v.7h-.7zM253.7 176.3h.7v.7h-.7zM260.9 181.9h.7v.7h-.7zM260.9 175.9h.7v.7h-.7zM264.1 174.3h.7v.7h-.7zM263.1 181.2h.7v.7h-.7zM252.8 186.0h.7v.7h-.7zM261.6 182.3h.7v.7h-.7zM252.3 185.9h.7v.7h-.7zM260.9 174.6h.7v.7h-.7zM262.7 174.8h.7v.7h-.7zM246.3 182.6h.7v.7h-.7zM250.1 176.3h.7v.7h-.7zM246.6 184.8h.7v.7h-.7zM260.6 184.0h.7v.7h-.7zM262.4 174.4h.7v.7h-.7zM248.2 186.8h.7v.7h-.7zM252.4 185.2h.7v.7h-.7zM249.3 183.1h.7v.7h-.7zM260.5 175.5h.7v.7h-.7zM251.4 187.3h.7v.7h-.7zM263.5 174.9h.7v.7h-.7zM247.3 179.4h.7v.7h-.7zM251.2 175.0h.7v.7h-.7zM249.4 179.2h.7v.7h-.7z" fill="#3050cc" opacity="0.6"/><path d="M249.8 190.9h.7v.7h-.7zM248.7 191.3h.7v.7h-.7zM249.9 201.1h.7v.7h-.7zM253.8 199.1h.7v.7h-.7zM255.1 198.9h.7v.7h-.7zM255.1 184.8h.7v.7h-.7zM266.0 192.4h.7v.7h-.7zM248.9 191.4h.7v.7h-.7zM258.9 197.4h.7v.7h-.7zM254.2 188.5h.7v.7h-.7zM257.8 199.0h.7v.7h-.7zM269.1 189.2h.7v.7h-.7zM245.7 195.3h.7v.7h-.7zM260.1 186.0h.7v.7h-.7zM251.7 191.7h.7v.7h-.7zM250.3 199.1h.7v.7h-.7zM250.0 191.2h.7v.7h-.7zM255.1 186.0h.7v.7h-.7zM250.0 201.1h.7v.7h-.7zM254.0 202.3h.7v.7h-.7zM261.7 196.6h.7v.7h-.7zM263.6 185.4h.7v.7h-.7zM253.0 188.1h.7v.7h-.7zM245.8 201.1h.7v.7h-.7zM261.2 196.6h.7v.7h-.7zM267.2 190.5h.7v.7h-.7zM247.2 197.8h.7v.7h-.7zM260.8 197.8h.7v.7h-.7zM268.2 189.6h.7v.7h-.7zM248.2 202.3h.7v.7h-.7zM268.9 189.1h.7v.7h-.7zM253.3 186.0h.7v.7h-.7zM249.0 191.3h.7v.7h-.7zM263.8 183.2h.7v.7h-.7zM249.7 201.7h.7v.7h-.7zM261.3 183.4h.7v.7h-.7zM249.6 192.3h.7v.7h-.7zM245.5 196.0h.7v.7h-.7zM246.8 202.4h.7v.7h-.7zM245.6 202.3h.7v.7h-.7zM253.1 199.5h.7v.7h-.7zM245.7 194.8h.7v.7h-.7zM248.6 190.9h.7v.7h-.7zM258.0 187.0h.7v.7h-.7zM254.9 188.0h.7v.7h-.7zM244.2 197.0h.7v.7h-.7zM257.8 198.9h.7v.7h-.7zM267.3 190.0h.7v.7h-.7zM250.9 190.3h.7v.7h-.7zM247.0 201.2h.7v.7h-.7zM263.6 196.5h.7v.7h-.7zM244.9 196.8h.7v.7h-.7zM261.3 184.2h.7v.7h-.7zM269.8 190.0h.7v.7h-.7zM253.3 200.0h.7v.7h-.7zM259.7 185.8h.7v.7h-.7zM250.7 202.5h.7v.7h-.7zM261.0 184.7h.7v.7h-.7zM271.1 188.5h.7v.7h-.7zM264.4 199.0h.7v.7h-.7zM268.6 186.9h.7v.7h-.7zM254.6 200.1h.7v.7h-.7zM255.6 199.2h.7v.7h-.7zM267.9 189.1h.7v.7h-.7zM264.6 185.9h.7v.7h-.7zM252.8 187.3h.7v.7h-.7zM244.1 199.1h.7v.7h-.7zM264.6 192.9h.7v.7h-.7zM249.5 191.8h.7v.7h-.7zM257.0 186.0h.7v.7h-.7zM253.4 200.2h.7v.7h-.7zM256.5 186.9h.7v.7h-.7zM251.0 190.9h.7v.7h-.7zM251.3 199.5h.7v.7h-.7zM259.8 197.6h.7v.7h-.7zM251.0 199.3h.7v.7h-.7zM258.1 184.5h.7v.7h-.7zM245.3 199.9h.7v.7h-.7zM249.6 190.7h.7v.7h-.7zM270.0 188.3h.7v.7h-.7zM247.2 192.5h.7v.7h-.7zM266.2 184.6h.7v.7h-.7zM265.1 193.4h.7v.7h-.7zM267.4 185.2h.7v.7h-.7zM253.0 200.3h.7v.7h-.7zM254.8 188.3h.7v.7h-.7zM242.2 198.6h.7v.7h-.7zM262.1 184.3h.7v.7h-.7zM268.2 183.7h.7v.7h-.7zM261.8 199.4h.7v.7h-.7zM256.7 187.6h.7v.7h-.7zM265.5 185.3h.7v.7h-.7zM261.1 182.5h.7v.7h-.7zM259.2 185.4h.7v.7h-.7zM244.0 196.3h.7v.7h-.7zM251.9 200.2h.7v.7h-.7zM244.6 200.1h.7v.7h-.7zM267.4 189.8h.7v.7h-.7zM247.2 201.4h.7v.7h-.7zM252.5 186.5h.7v.7h-.7zM261.2 185.2h.7v.7h-.7zM259.5 186.0h.7v.7h-.7zM244.6 193.4h.7v.7h-.7zM261.3 183.1h.7v.7h-.7zM249.7 188.2h.7v.7h-.7zM247.4 192.5h.7v.7h-.7zM253.6 187.0h.7v.7h-.7zM269.0 188.3h.7v.7h-.7zM258.0 185.4h.7v.7h-.7zM254.3 185.2h.7v.7h-.7zM251.6 201.6h.7v.7h-.7zM244.5 195.8h.7v.7h-.7zM262.4 194.7h.7v.7h-.7zM266.4 184.0h.7v.7h-.7zM255.8 199.6h.7v.7h-.7zM245.8 194.7h.7v.7h-.7zM257.8 188.1h.7v.7h-.7zM247.8 201.5h.7v.7h-.7zM246.9 192.0h.7v.7h-.7zM245.6 199.3h.7v.7h-.7zM256.1 199.1h.7v.7h-.7zM263.8 184.5h.7v.7h-.7zM248.4 189.1h.7v.7h-.7zM268.3 188.2h.7v.7h-.7zM250.0 187.7h.7v.7h-.7zM258.0 198.5h.7v.7h-.7zM262.8 195.5h.7v.7h-.7zM264.9 194.0h.7v.7h-.7zM251.4 200.8h.7v.7h-.7zM262.8 193.6h.7v.7h-.7zM251.9 188.1h.7v.7h-.7zM246.2 201.5h.7v.7h-.7zM266.7 193.2h.7v.7h-.7zM263.6 193.9h.7v.7h-.7zM262.2 183.2h.7v.7h-.7zM250.5 189.5h.7v.7h-.7zM246.9 195.5h.7v.7h-.7zM258.5 197.2h.7v.7h-.7zM245.4 192.8h.7v.7h-.7zM245.6 196.5h.7v.7h-.7zM250.8 189.1h.7v.7h-.7zM257.8 196.8h.7v.7h-.7zM245.6 191.7h.7v.7h-.7zM245.2 195.7h.7v.7h-.7zM254.3 189.0h.7v.7h-.7zM260.1 197.1h.7v.7h-.7zM243.5 199.6h.7v.7h-.7zM245.1 194.3h.7v.7h-.7zM261.1 196.5h.7v.7h-.7zM258.5 197.4h.7v.7h-.7zM262.1 194.3h.7v.7h-.7zM265.4 186.0h.7v.7h-.7zM256.3 198.7h.7v.7h-.7zM253.9 200.7h.7v.7h-.7zM267.1 194.0h.7v.7h-.7zM255.0 189.2h.7v.7h-.7zM255.6 198.4h.7v.7h-.7zM271.7 186.7h.7v.7h-.7zM264.2 194.7h.7v.7h-.7zM245.9 200.4h.7v.7h-.7zM248.5 193.8h.7v.7h-.7zM247.4 194.9h.7v.7h-.7zM245.7 197.6h.7v.7h-.7zM264.1 194.3h.7v.7h-.7zM245.2 197.8h.7v.7h-.7zM253.8 201.9h.7v.7h-.7zM257.0 185.8h.7v.7h-.7zM252.5 189.4h.7v.7h-.7zM256.2 199.6h.7v.7h-.7zM249.8 200.6h.7v.7h-.7zM244.0 199.1h.7v.7h-.7zM268.4 191.0h.7v.7h-.7zM254.2 189.0h.7v.7h-.7zM256.9 201.0h.7v.7h-.7zM245.9 195.5h.7v.7h-.7zM265.2 195.4h.7v.7h-.7zM261.8 196.9h.7v.7h-.7zM262.0 183.9h.7v.7h-.7zM264.1 185.5h.7v.7h-.7zM262.1 193.6h.7v.7h-.7zM261.4 196.6h.7v.7h-.7zM255.0 201.0h.7v.7h-.7zM260.3 197.5h.7v.7h-.7zM260.0 185.9h.7v.7h-.7zM253.8 199.7h.7v.7h-.7zM266.0 185.0h.7v.7h-.7zM269.8 192.7h.7v.7h-.7zM251.0 188.1h.7v.7h-.7zM251.4 188.5h.7v.7h-.7zM254.1 199.7h.7v.7h-.7zM267.0 183.8h.7v.7h-.7zM266.7 195.2h.7v.7h-.7zM247.3 192.5h.7v.7h-.7zM260.3 194.8h.7v.7h-.7zM250.5 202.1h.7v.7h-.7zM263.6 184.7h.7v.7h-.7zM245.5 194.3h.7v.7h-.7zM259.8 186.1h.7v.7h-.7zM259.9 184.7h.7v.7h-.7zM265.8 192.0h.7v.7h-.7zM249.2 191.1h.7v.7h-.7zM251.7 199.6h.7v.7h-.7zM267.4 189.7h.7v.7h-.7zM245.2 196.5h.7v.7h-.7zM260.5 183.0h.7v.7h-.7zM261.5 194.2h.7v.7h-.7zM258.1 199.3h.7v.7h-.7zM264.2 185.7h.7v.7h-.7zM246.4 193.2h.7v.7h-.7zM247.7 201.6h.7v.7h-.7zM245.4 195.6h.7v.7h-.7zM249.1 200.8h.7v.7h-.7zM247.0 193.9h.7v.7h-.7zM251.3 200.4h.7v.7h-.7zM250.8 189.9h.7v.7h-.7zM262.3 184.5h.7v.7h-.7zM257.6 186.9h.7v.7h-.7zM248.2 192.7h.7v.7h-.7zM261.6 195.6h.7v.7h-.7zM245.5 199.0h.7v.7h-.7zM253.7 200.7h.7v.7h-.7zM257.3 187.3h.7v.7h-.7zM247.9 194.8h.7v.7h-.7zM264.0 185.1h.7v.7h-.7zM257.1 185.9h.7v.7h-.7zM251.2 201.7h.7v.7h-.7zM259.8 185.4h.7v.7h-.7zM255.9 186.6h.7v.7h-.7zM269.3 185.4h.7v.7h-.7zM266.0 195.7h.7v.7h-.7zM254.1 185.1h.7v.7h-.7zM262.9 196.0h.7v.7h-.7zM253.4 202.3h.7v.7h-.7zM251.4 191.3h.7v.7h-.7zM251.8 189.9h.7v.7h-.7zM252.2 199.3h.7v.7h-.7zM267.0 190.3h.7v.7h-.7zM269.9 187.9h.7v.7h-.7zM243.6 198.5h.7v.7h-.7zM266.1 183.7h.7v.7h-.7zM249.5 202.3h.7v.7h-.7zM260.2 197.5h.7v.7h-.7zM258.8 197.4h.7v.7h-.7zM259.4 185.0h.7v.7h-.7zM251.1 189.6h.7v.7h-.7zM267.6 191.4h.7v.7h-.7zM265.5 191.2h.7v.7h-.7zM263.3 184.7h.7v.7h-.7zM269.5 184.1h.7v.7h-.7zM249.5 189.3h.7v.7h-.7zM244.2 196.8h.7v.7h-.7zM263.3 183.8h.7v.7h-.7zM257.6 187.1h.7v.7h-.7zM266.4 183.7h.7v.7h-.7zM265.1 183.5h.7v.7h-.7zM246.5 199.5h.7v.7h-.7zM251.0 188.8h.7v.7h-.7zM266.4 193.1h.7v.7h-.7zM255.5 198.8h.7v.7h-.7zM269.4 186.3h.7v.7h-.7zM265.5 184.6h.7v.7h-.7zM257.3 196.6h.7v.7h-.7zM268.4 189.3h.7v.7h-.7zM255.3 199.7h.7v.7h-.7zM244.4 202.2h.7v.7h-.7zM244.4 196.8h.7v.7h-.7zM256.0 186.8h.7v.7h-.7zM261.6 184.7h.7v.7h-.7zM251.4 187.7h.7v.7h-.7zM256.4 198.5h.7v.7h-.7zM254.3 200.0h.7v.7h-.7zM268.0 189.1h.7v.7h-.7zM244.5 193.0h.7v.7h-.7zM257.0 200.5h.7v.7h-.7zM248.6 192.9h.7v.7h-.7zM252.8 188.2h.7v.7h-.7zM257.3 185.0h.7v.7h-.7zM261.7 196.2h.7v.7h-.7zM256.4 198.9h.7v.7h-.7zM254.0 186.6h.7v.7h-.7zM256.9 198.5h.7v.7h-.7zM264.4 194.8h.7v.7h-.7zM264.4 193.7h.7v.7h-.7zM264.7 184.0h.7v.7h-.7zM264.0 194.9h.7v.7h-.7zM252.4 200.8h.7v.7h-.7zM246.4 196.1h.7v.7h-.7zM269.8 188.4h.7v.7h-.7zM259.3 199.5h.7v.7h-.7zM261.1 196.9h.7v.7h-.7zM262.0 197.9h.7v.7h-.7zM249.8 200.5h.7v.7h-.7zM248.3 191.1h.7v.7h-.7zM265.1 185.0h.7v.7h-.7zM257.1 199.2h.7v.7h-.7zM257.8 184.7h.7v.7h-.7zM249.6 191.4h.7v.7h-.7zM265.6 186.2h.7v.7h-.7zM251.9 189.7h.7v.7h-.7zM250.6 191.0h.7v.7h-.7z" fill="#3050cc" opacity="0.6"/><path d="M262.3 188.44h0.7v0.7h-0.7zM268.71 180.03h0.7v0.7h-0.7zM267.2 189.49h0.7v0.7h-0.7zM266.14 192.33h0.7v0.7h-0.7zM265.2 187.23h0.7v0.7h-0.7zM262.66 187.67h0.7v0.7h-0.7zM264.46 178.25h0.7v0.7h-0.7zM270.41 174.08h0.7v0.7h-0.7zM269.65 180.1h0.7v0.7h-0.7zM272.3 187.14h0.7v0.7h-0.7zM268.66 178.64h0.7v0.7h-0.7zM264.72 191.13h0.7v0.7h-0.7zM266.99 170.29h0.7v0.7h-0.7zM265.05 165.36h0.7v0.7h-0.7zM264.8 176.59h0.7v0.7h-0.7zM268.64 187.25h0.7v0.7h-0.7zM270.64 165.9h0.7v0.7h-0.7zM266.14 184.76h0.7v0.7h-0.7zM268.96 179.94h0.7v0.7h-0.7zM265.06 185.58h0.7v0.7h-0.7zM267.48 178.13h0.7v0.7h-0.7zM267.39 178.27h0.7v0.7h-0.7zM268.82 188.62h0.7v0.7h-0.7zM268.02 175.09h0.7v0.7h-0.7zM267.36 178.85h0.7v0.7h-0.7zM269.46 185.99h0.7v0.7h-0.7zM273.43 187.02h0.7v0.7h-0.7zM261.95 173.45h0.7v0.7h-0.7zM263.43 182.37h0.7v0.7h-0.7zM265.83 190.85h0.7v0.7h-0.7zM269.9 173.68h0.7v0.7h-0.7zM264.46 191.54h0.7v0.7h-0.7zM270.38 163.75h0.7v0.7h-0.7zM265.18 184.42h0.7v0.7h-0.7zM263.1 179.99h0.7v0.7h-0.7zM264.73 167h0.7v0.7h-0.7zM265.97 175.87h0.7v0.7h-0.7zM268.71 166.63h0.7v0.7h-0.7zM268.63 177.17h0.7v0.7h-0.7zM262.24 189.44h0.7v0.7h-0.7zM266.19 183.29h0.7v0.7h-0.7zM273.11 183.23h0.7v0.7h-0.7zM270.97 181.68h0.7v0.7h-0.7zM265.73 181.54h0.7v0.7h-0.7zM262.3 183.79h0.7v0.7h-0.7zM270.59 183.39h0.7v0.7h-0.7zM265.4 170.63h0.7v0.7h-0.7zM265.16 177.79h0.7v0.7h-0.7zM262.8 194.99h0.7v0.7h-0.7zM264.93 181.04h0.7v0.7h-0.7zM266.09 181.02h0.7v0.7h-0.7zM260.29 172.04h0.7v0.7h-0.7zM267.61 179.71h0.7v0.7h-0.7zM269.08 175.88h0.7v0.7h-0.7zM270.55 181.75h0.7v0.7h-0.7zM267.54 180.18h0.7v0.7h-0.7zM271.37 179.77h0.7v0.7h-0.7zM273.09 181.01h0.7v0.7h-0.7zM268.55 180.06h0.7v0.7h-0.7zM268.74 183.65h0.7v0.7h-0.7zM265.54 186.2h0.7v0.7h-0.7zM268.11 173.81h0.7v0.7h-0.7zM265.06 173.65h0.7v0.7h-0.7zM268.61 174.67h0.7v0.7h-0.7zM273.26 176.72h0.7v0.7h-0.7zM264.61 172.96h0.7v0.7h-0.7zM267.36 178.9h0.7v0.7h-0.7zM270.92 174.41h0.7v0.7h-0.7zM268.86 187.44h0.7v0.7h-0.7zM266.71 166.5h0.7v0.7h-0.7zM268.52 188.01h0.7v0.7h-0.7zM269.06 180.09h0.7v0.7h-0.7zM261 192.61h0.7v0.7h-0.7zM267.05 170.77h0.7v0.7h-0.7zM266.53 181.25h0.7v0.7h-0.7zM267.85 173.01h0.7v0.7h-0.7zM271.16 184.98h0.7v0.7h-0.7zM266.31 170.89h0.7v0.7h-0.7zM263.28 188.37h0.7v0.7h-0.7zM267.97 192.73h0.7v0.7h-0.7zM259.85 190.35h0.7v0.7h-0.7zM269.3 175.78h0.7v0.7h-0.7zM270.75 174.85h0.7v0.7h-0.7zM266.73 184.11h0.7v0.7h-0.7zM268.23 182.25h0.7v0.7h-0.7zM268.44 188.09h0.7v0.7h-0.7z" fill="#3044c4" opacity="0.45"/><g filter="url(#bl2)"><path d="M247.80 175.80C249.22 174.38 253.13 175.97 255.80 175.80C258.47 175.63 262.63 173.97 263.80 174.80C264.97 175.63 263.80 179.22 262.80 180.80C261.80 182.38 259.63 183.38 257.80 184.30C255.97 185.22 253.55 186.30 251.80 186.30C250.05 186.30 247.97 186.05 247.30 184.30C246.63 182.55 246.38 177.22 247.80 175.80Z" fill="#3a58cc"/><path d="M249.60 176.85C250.59 175.86 253.33 176.97 255.20 176.85C257.07 176.73 259.98 175.57 260.80 176.15C261.62 176.73 260.80 179.24 260.10 180.35C259.40 181.46 257.88 182.16 256.60 182.80C255.32 183.44 253.62 184.20 252.40 184.20C251.18 184.20 249.72 184.03 249.25 182.80C248.78 181.58 248.61 177.84 249.60 176.85Z" fill="#3c80d4"/><path d="M251.70 178.08C252.20 177.58 253.57 178.13 254.50 178.08C255.43 178.02 256.89 177.43 257.30 177.73C257.71 178.02 257.30 179.27 256.95 179.83C256.60 180.38 255.84 180.73 255.20 181.05C254.56 181.37 253.71 181.75 253.10 181.75C252.49 181.75 251.76 181.66 251.53 181.05C251.29 180.44 251.20 178.57 251.70 178.08Z" fill="#48a8d8"/></g><g filter="url(#bl2)"><path d="M247.10 166.52C247.83 164.86 249.02 163.42 250.80 162.52C252.58 161.62 255.73 161.53 257.80 161.12C259.87 160.71 261.73 159.68 263.20 160.04C264.67 160.40 266.03 161.75 266.60 163.28C267.17 164.81 266.73 167.15 266.60 169.22C266.47 171.29 266.93 174.26 265.80 175.70C264.67 177.14 261.97 177.41 259.80 177.86C257.63 178.31 254.92 178.31 252.80 178.40C250.68 178.49 248.17 179.39 247.10 178.40C246.03 177.41 246.40 174.44 246.40 172.46C246.40 170.48 246.37 168.18 247.10 166.52Z" fill="#3044c4"/><path d="M248.16 166.78C248.83 165.26 249.92 163.93 251.56 163.11C253.20 162.28 256.10 162.20 258.00 161.81C259.90 161.43 261.62 160.49 262.97 160.82C264.32 161.15 265.57 162.39 266.10 163.80C266.62 165.21 266.22 167.36 266.10 169.27C265.97 171.17 266.40 173.90 265.36 175.23C264.32 176.55 261.83 176.80 259.84 177.22C257.85 177.63 255.35 177.63 253.40 177.71C251.45 177.79 249.14 178.62 248.16 177.71C247.17 176.80 247.51 174.07 247.51 172.25C247.51 170.43 247.48 168.31 248.16 166.78Z" fill="#2aa6d6"/><path d="M249.48 167.11C250.08 165.75 251.05 164.57 252.51 163.83C253.97 163.10 256.56 163.02 258.25 162.68C259.94 162.34 261.48 161.50 262.68 161.80C263.88 162.09 265.00 163.20 265.47 164.45C265.93 165.71 265.58 167.63 265.47 169.32C265.36 171.02 265.74 173.46 264.81 174.64C263.88 175.82 261.67 176.04 259.89 176.41C258.11 176.78 255.89 176.78 254.15 176.85C252.41 176.93 250.35 177.66 249.48 176.85C248.60 176.04 248.90 173.60 248.90 171.98C248.90 170.36 248.87 168.47 249.48 167.11Z" fill="#50b870"/><path d="M251.59 167.64C252.07 166.54 252.85 165.59 254.03 165.00C255.21 164.40 257.29 164.34 258.65 164.07C260.01 163.80 261.25 163.12 262.21 163.36C263.18 163.60 264.08 164.49 264.46 165.50C264.83 166.51 264.55 168.05 264.46 169.42C264.37 170.78 264.68 172.74 263.93 173.69C263.18 174.64 261.40 174.82 259.97 175.12C258.54 175.42 256.75 175.42 255.35 175.48C253.95 175.54 252.29 176.13 251.59 175.48C250.88 174.82 251.13 172.86 251.13 171.56C251.13 170.25 251.10 168.73 251.59 167.64Z" fill="#5cc05a"/><path d="M255.55 168.62C255.81 168.02 256.24 167.50 256.88 167.18C257.52 166.86 258.66 166.82 259.40 166.68C260.14 166.53 260.82 166.16 261.34 166.29C261.87 166.42 262.36 166.90 262.57 167.45C262.77 168.00 262.62 168.85 262.57 169.59C262.52 170.34 262.69 171.41 262.28 171.92C261.87 172.44 260.90 172.54 260.12 172.70C259.34 172.86 258.36 172.86 257.60 172.90C256.84 172.93 255.93 173.25 255.55 172.90C255.16 172.54 255.30 171.47 255.30 170.76C255.30 170.04 255.28 169.22 255.55 168.62Z" fill="#a8d43a"/></g><g filter="url(#bl2)"><path d="M268.06 186.20C268.30 186.61 268.41 187.11 268.39 187.65C268.36 188.20 268.21 188.82 267.93 189.45C267.64 190.09 267.22 190.78 266.71 191.47C266.19 192.16 265.53 192.88 264.81 193.58C264.09 194.27 263.25 194.97 262.37 195.62C261.49 196.27 260.52 196.90 259.55 197.46C258.58 198.02 257.54 198.55 256.54 198.98C255.54 199.42 254.51 199.79 253.55 200.08C252.59 200.36 251.64 200.56 250.78 200.66C249.93 200.77 249.12 200.79 248.43 200.71C247.73 200.64 247.12 200.46 246.64 200.21C246.16 199.96 245.78 199.61 245.54 199.20C245.30 198.79 245.19 198.29 245.21 197.75C245.24 197.20 245.39 196.58 245.68 195.95C245.96 195.31 246.38 194.62 246.89 193.93C247.41 193.24 248.07 192.52 248.79 191.83C249.51 191.13 250.35 190.43 251.23 189.78C252.11 189.13 253.08 188.50 254.05 187.94C255.02 187.38 256.06 186.85 257.06 186.42C258.06 185.98 259.09 185.61 260.05 185.33C261.01 185.04 261.96 184.84 262.82 184.74C263.67 184.63 264.48 184.61 265.18 184.69C265.87 184.76 266.48 184.94 266.96 185.19C267.44 185.44 267.82 185.79 268.06 186.20Z" fill="#3044c4"/><path d="M267.33 186.51C267.55 186.88 267.65 187.33 267.63 187.82C267.61 188.31 267.46 188.86 267.21 189.44C266.96 190.01 266.58 190.64 266.11 191.25C265.65 191.87 265.06 192.53 264.41 193.15C263.76 193.77 263.00 194.40 262.21 194.99C261.42 195.57 260.55 196.14 259.68 196.65C258.80 197.15 257.87 197.62 256.97 198.01C256.07 198.41 255.14 198.75 254.28 199.00C253.41 199.25 252.55 199.43 251.79 199.53C251.02 199.62 250.28 199.64 249.66 199.57C249.04 199.50 248.49 199.35 248.05 199.12C247.62 198.89 247.28 198.58 247.07 198.21C246.85 197.84 246.75 197.39 246.77 196.90C246.79 196.41 246.94 195.86 247.19 195.28C247.44 194.71 247.82 194.08 248.29 193.47C248.75 192.85 249.34 192.19 249.99 191.57C250.64 190.95 251.40 190.32 252.19 189.73C252.98 189.15 253.85 188.58 254.73 188.07C255.60 187.57 256.53 187.10 257.43 186.71C258.33 186.31 259.26 185.97 260.12 185.72C260.99 185.47 261.85 185.29 262.61 185.19C263.38 185.10 264.12 185.08 264.74 185.15C265.36 185.22 265.91 185.37 266.35 185.60C266.78 185.83 267.12 186.14 267.33 186.51Z" fill="#2aa6d6"/><path d="M266.46 186.88C266.65 187.20 266.73 187.59 266.72 188.02C266.70 188.44 266.58 188.92 266.36 189.42C266.14 189.92 265.81 190.46 265.41 190.99C265.00 191.53 264.49 192.10 263.93 192.63C263.36 193.17 262.71 193.72 262.02 194.23C261.34 194.73 260.58 195.23 259.82 195.67C259.07 196.10 258.26 196.51 257.48 196.85C256.70 197.19 255.90 197.49 255.15 197.70C254.40 197.92 253.65 198.08 252.99 198.16C252.32 198.25 251.69 198.26 251.15 198.20C250.61 198.14 250.13 198.01 249.75 197.81C249.38 197.61 249.08 197.34 248.90 197.02C248.71 196.70 248.63 196.31 248.64 195.89C248.66 195.46 248.78 194.98 249.00 194.49C249.22 193.99 249.55 193.45 249.95 192.91C250.36 192.37 250.87 191.81 251.43 191.27C252.00 190.73 252.65 190.18 253.34 189.68C254.02 189.17 254.78 188.67 255.54 188.24C256.29 187.80 257.10 187.39 257.88 187.05C258.66 186.71 259.46 186.42 260.21 186.20C260.96 185.98 261.71 185.82 262.37 185.74C263.04 185.66 263.67 185.64 264.21 185.70C264.75 185.76 265.23 185.90 265.61 186.09C265.98 186.29 266.28 186.56 266.46 186.88Z" fill="#5cc05a"/><path d="M264.79 187.60C264.92 187.82 264.98 188.10 264.97 188.39C264.96 188.69 264.87 189.03 264.72 189.38C264.56 189.73 264.33 190.12 264.05 190.49C263.76 190.87 263.40 191.27 263.01 191.65C262.61 192.03 262.15 192.42 261.66 192.78C261.18 193.13 260.65 193.48 260.11 193.79C259.58 194.10 259.01 194.39 258.46 194.63C257.91 194.87 257.34 195.07 256.81 195.23C256.29 195.38 255.76 195.49 255.29 195.55C254.82 195.61 254.37 195.62 253.99 195.58C253.61 195.53 253.27 195.44 253.01 195.30C252.75 195.16 252.54 194.97 252.41 194.75C252.28 194.52 252.22 194.24 252.23 193.95C252.24 193.65 252.33 193.31 252.48 192.96C252.64 192.61 252.87 192.22 253.15 191.85C253.44 191.47 253.80 191.07 254.19 190.69C254.59 190.31 255.05 189.92 255.54 189.56C256.02 189.21 256.55 188.86 257.09 188.55C257.62 188.24 258.19 187.95 258.74 187.71C259.29 187.47 259.86 187.27 260.39 187.11C260.91 186.96 261.44 186.85 261.91 186.79C262.38 186.73 262.83 186.72 263.21 186.76C263.59 186.81 263.93 186.90 264.19 187.04C264.45 187.18 264.66 187.37 264.79 187.60Z" fill="#d6d832"/><path d="M263.27 188.25C263.35 188.39 263.39 188.56 263.38 188.74C263.37 188.92 263.32 189.14 263.22 189.35C263.13 189.57 262.98 189.80 262.81 190.04C262.63 190.27 262.41 190.52 262.16 190.75C261.92 190.99 261.63 191.23 261.33 191.45C261.04 191.67 260.71 191.88 260.38 192.08C260.04 192.27 259.69 192.44 259.35 192.59C259.01 192.74 258.66 192.87 258.34 192.96C258.01 193.06 257.69 193.13 257.39 193.16C257.10 193.20 256.83 193.21 256.59 193.18C256.36 193.15 256.15 193.10 255.98 193.01C255.82 192.92 255.69 192.81 255.61 192.67C255.53 192.53 255.49 192.36 255.50 192.17C255.51 191.99 255.56 191.78 255.66 191.56C255.75 191.34 255.90 191.11 256.07 190.87C256.25 190.64 256.47 190.39 256.72 190.16C256.96 189.92 257.25 189.68 257.55 189.46C257.84 189.24 258.17 189.03 258.50 188.84C258.84 188.65 259.19 188.47 259.53 188.32C259.87 188.17 260.22 188.04 260.54 187.95C260.87 187.85 261.19 187.78 261.49 187.75C261.78 187.71 262.05 187.71 262.29 187.73C262.52 187.76 262.73 187.82 262.90 187.90C263.06 187.99 263.19 188.11 263.27 188.25Z" fill="#f07a22"/><path d="M261.96 188.80C262.00 188.87 262.02 188.95 262.01 189.04C262.01 189.12 261.98 189.22 261.94 189.32C261.90 189.43 261.83 189.54 261.74 189.65C261.66 189.76 261.56 189.87 261.44 189.98C261.33 190.09 261.19 190.21 261.05 190.31C260.91 190.41 260.76 190.52 260.60 190.61C260.44 190.70 260.28 190.78 260.12 190.85C259.96 190.92 259.79 190.98 259.64 191.02C259.49 191.07 259.33 191.10 259.20 191.12C259.06 191.14 258.93 191.14 258.82 191.13C258.71 191.11 258.61 191.09 258.53 191.05C258.46 191.01 258.40 190.95 258.36 190.88C258.32 190.82 258.30 190.74 258.31 190.65C258.31 190.56 258.34 190.47 258.38 190.36C258.42 190.26 258.49 190.15 258.58 190.04C258.66 189.93 258.76 189.81 258.88 189.70C258.99 189.59 259.13 189.48 259.27 189.38C259.41 189.27 259.56 189.17 259.72 189.08C259.88 188.99 260.04 188.91 260.20 188.84C260.36 188.77 260.53 188.71 260.68 188.66C260.83 188.62 260.99 188.59 261.12 188.57C261.26 188.55 261.39 188.55 261.50 188.56C261.61 188.57 261.71 188.60 261.79 188.64C261.86 188.68 261.92 188.74 261.96 188.80Z" fill="#e03a1a"/></g></g><polygon points="242.4,193.62 273.91,175.79 273.91,193.62 245.49,209.71 240.99,202.06" fill="none" stroke="#3a3a80" stroke-width="0.6" stroke-linejoin="round" opacity="0.8"/><rect x="234.4" y="147.2" width="67.2" height="66.5" fill="none" stroke="#7a7a7a" stroke-width="0.75"/><line x1="234.69" y1="213.7" x2="234.69" y2="214.9" stroke="#666" stroke-width="0.5"/><text x="234.69" y="220.4" font-size="4" text-anchor="middle" fill="#555">0</text><line x1="247.12" y1="213.7" x2="247.12" y2="214.9" stroke="#666" stroke-width="0.5"/><text x="247.12" y="220.4" font-size="4" text-anchor="middle" fill="#555">1</text><line x1="259.93" y1="213.7" x2="259.93" y2="214.9" stroke="#666" stroke-width="0.5"/><text x="259.93" y="220.4" font-size="4" text-anchor="middle" fill="#555">2</text><line x1="272.74" y1="213.7" x2="272.74" y2="214.9" stroke="#666" stroke-width="0.5"/><text x="272.74" y="220.4" font-size="4" text-anchor="middle" fill="#555">3</text><line x1="285.26" y1="213.7" x2="285.26" y2="214.9" stroke="#666" stroke-width="0.5"/><text x="285.26" y="220.4" font-size="4" text-anchor="middle" fill="#555">4</text><line x1="299.06" y1="213.7" x2="299.06" y2="214.9" stroke="#666" stroke-width="0.5"/><text x="299.06" y="220.4" font-size="4" text-anchor="middle" fill="#555">5.2</text><line x1="233.2" y1="150.25" x2="234.4" y2="150.25" stroke="#666" stroke-width="0.5"/><text x="231.8" y="150.25" font-size="3.6" text-anchor="middle" fill="#555" transform="rotate(-90 231.8 150.25)">10<tspan font-size="2.6" dy="-1">4</tspan></text><line x1="233.2" y1="169.89" x2="234.4" y2="169.89" stroke="#666" stroke-width="0.5"/><text x="231.8" y="169.89" font-size="3.6" text-anchor="middle" fill="#555" transform="rotate(-90 231.8 169.89)">10<tspan font-size="2.6" dy="-1">3</tspan></text><line x1="233.2" y1="192.48" x2="234.4" y2="192.48" stroke="#666" stroke-width="0.5"/><text x="231.8" y="192.48" font-size="3.6" text-anchor="middle" fill="#555" transform="rotate(-90 231.8 192.48)">10<tspan font-size="2.6" dy="-1">2</tspan></text><line x1="233.2" y1="212.91" x2="234.4" y2="212.91" stroke="#666" stroke-width="0.5"/><text x="231.8" y="212.91" font-size="3.6" text-anchor="middle" fill="#555" transform="rotate(-90 231.8 212.91)">-10<tspan font-size="2.6" dy="-1">2</tspan></text><text x="278.01" y="168.42" font-size="4.3" fill="#2a9a4a">p-Kap1 +</text><text x="278.82" y="187.04" font-size="4.3" fill="#444">p-Kap1 −</text><text x="221.8" y="177.95" font-size="6.7" text-anchor="middle" fill="#222" stroke="#222" stroke-width="0.1" transform="rotate(-90 221.8 177.95)">p-Kap1 S473</text><text x="268.6" y="229.6" font-size="6.35" text-anchor="middle" fill="#222" stroke="#222" stroke-width="0.1">PI (10<tspan font-size="4.2" dy="-2">5</tspan><tspan dy="2">)</tspan></text><polygon points="346.4,192.78 345.12,178.16 345.59,160.07 354.12,153.15 370.19,151.09 377.91,156.94 377.91,174.7" fill="none" stroke="#d0a474" stroke-width="0.75" stroke-linejoin="round"/><g filter="url(#bl)"><path d="M348.7 200.5h.7v.7h-.7zM369.2 197.5h.7v.7h-.7zM362.5 202.3h.7v.7h-.7zM368.5 197.6h.7v.7h-.7zM369.5 181.3h.7v.7h-.7zM355.6 204.6h.7v.7h-.7zM351.9 201.3h.7v.7h-.7zM373.7 192.6h.7v.7h-.7zM361.7 183.0h.7v.7h-.7zM371.7 181.3h.7v.7h-.7zM349.4 190.7h.7v.7h-.7zM348.2 198.2h.7v.7h-.7zM353.1 187.9h.7v.7h-.7zM363.6 200.7h.7v.7h-.7zM350.8 192.9h.7v.7h-.7zM347.5 203.4h.7v.7h-.7zM362.6 184.6h.7v.7h-.7zM350.4 192.4h.7v.7h-.7zM370.7 199.4h.7v.7h-.7zM347.4 197.5h.7v.7h-.7zM351.1 188.0h.7v.7h-.7zM374.1 193.6h.7v.7h-.7zM376.2 180.4h.7v.7h-.7zM347.7 195.9h.7v.7h-.7zM353.2 205.5h.7v.7h-.7zM346.0 198.4h.7v.7h-.7zM350.3 205.1h.7v.7h-.7zM373.0 197.2h.7v.7h-.7zM361.3 185.7h.7v.7h-.7zM370.7 196.1h.7v.7h-.7zM368.2 182.1h.7v.7h-.7zM352.6 202.8h.7v.7h-.7zM361.7 183.1h.7v.7h-.7zM374.3 182.1h.7v.7h-.7zM371.1 195.9h.7v.7h-.7zM365.2 183.0h.7v.7h-.7zM352.3 202.7h.7v.7h-.7zM349.4 201.6h.7v.7h-.7zM375.1 184.6h.7v.7h-.7zM347.4 198.9h.7v.7h-.7zM363.9 183.3h.7v.7h-.7zM357.6 202.0h.7v.7h-.7zM361.0 201.9h.7v.7h-.7zM373.2 182.4h.7v.7h-.7zM374.4 180.9h.7v.7h-.7zM353.5 205.9h.7v.7h-.7zM369.8 195.4h.7v.7h-.7zM368.7 199.2h.7v.7h-.7zM360.7 200.9h.7v.7h-.7zM349.8 200.1h.7v.7h-.7zM371.6 179.9h.7v.7h-.7zM374.9 184.9h.7v.7h-.7zM372.8 197.5h.7v.7h-.7zM361.9 201.4h.7v.7h-.7zM364.5 182.6h.7v.7h-.7zM364.8 199.6h.7v.7h-.7zM351.3 190.3h.7v.7h-.7zM350.3 202.4h.7v.7h-.7zM373.7 180.6h.7v.7h-.7zM353.5 202.9h.7v.7h-.7zM371.3 180.7h.7v.7h-.7zM365.6 200.8h.7v.7h-.7zM376.1 183.2h.7v.7h-.7zM346.9 197.2h.7v.7h-.7zM369.5 180.2h.7v.7h-.7zM372.6 180.8h.7v.7h-.7zM370.0 180.8h.7v.7h-.7zM362.7 198.8h.7v.7h-.7zM375.5 192.5h.7v.7h-.7zM376.2 192.2h.7v.7h-.7zM350.7 190.3h.7v.7h-.7zM355.5 186.2h.7v.7h-.7zM367.6 182.8h.7v.7h-.7zM363.9 200.5h.7v.7h-.7zM373.9 192.0h.7v.7h-.7zM372.1 181.8h.7v.7h-.7zM372.6 194.1h.7v.7h-.7zM367.9 201.0h.7v.7h-.7zM371.5 181.8h.7v.7h-.7zM355.7 184.2h.7v.7h-.7zM375.8 183.5h.7v.7h-.7zM355.3 186.4h.7v.7h-.7zM373.6 181.7h.7v.7h-.7zM355.0 186.6h.7v.7h-.7zM354.8 202.4h.7v.7h-.7zM357.1 203.2h.7v.7h-.7zM354.5 205.5h.7v.7h-.7zM365.4 198.3h.7v.7h-.7zM358.8 204.1h.7v.7h-.7zM348.3 199.7h.7v.7h-.7zM365.4 203.2h.7v.7h-.7zM373.0 195.2h.7v.7h-.7zM374.1 180.9h.7v.7h-.7zM375.2 191.5h.7v.7h-.7zM356.2 186.9h.7v.7h-.7zM368.8 180.6h.7v.7h-.7zM359.0 185.1h.7v.7h-.7zM357.6 204.9h.7v.7h-.7zM370.8 193.8h.7v.7h-.7zM364.9 183.6h.7v.7h-.7zM346.5 201.2h.7v.7h-.7zM368.8 196.9h.7v.7h-.7zM353.7 202.7h.7v.7h-.7zM372.8 195.0h.7v.7h-.7zM349.0 193.1h.7v.7h-.7zM370.2 180.5h.7v.7h-.7zM363.8 202.5h.7v.7h-.7zM347.6 196.6h.7v.7h-.7zM355.2 206.5h.7v.7h-.7zM360.7 203.8h.7v.7h-.7zM354.4 188.4h.7v.7h-.7zM358.1 185.1h.7v.7h-.7zM376.8 192.9h.7v.7h-.7zM364.3 182.4h.7v.7h-.7zM367.1 181.4h.7v.7h-.7zM369.3 180.0h.7v.7h-.7zM360.9 184.7h.7v.7h-.7zM368.0 201.3h.7v.7h-.7zM375.5 181.4h.7v.7h-.7zM363.2 200.4h.7v.7h-.7zM347.2 196.1h.7v.7h-.7zM367.6 181.8h.7v.7h-.7zM372.0 197.4h.7v.7h-.7zM354.9 203.9h.7v.7h-.7zM357.4 202.1h.7v.7h-.7zM359.1 186.2h.7v.7h-.7zM354.0 189.2h.7v.7h-.7zM374.9 182.2h.7v.7h-.7zM353.1 187.2h.7v.7h-.7zM349.1 203.0h.7v.7h-.7zM369.4 199.1h.7v.7h-.7zM367.3 201.2h.7v.7h-.7zM365.8 200.8h.7v.7h-.7zM346.5 194.9h.7v.7h-.7zM349.7 188.9h.7v.7h-.7zM346.6 197.3h.7v.7h-.7zM355.4 203.4h.7v.7h-.7zM359.7 202.3h.7v.7h-.7zM375.3 182.4h.7v.7h-.7zM371.9 179.5h.7v.7h-.7zM362.6 185.1h.7v.7h-.7zM375.6 194.9h.7v.7h-.7zM346.5 198.6h.7v.7h-.7zM356.8 186.7h.7v.7h-.7zM357.7 185.2h.7v.7h-.7zM364.1 199.8h.7v.7h-.7zM366.9 198.6h.7v.7h-.7zM349.2 201.6h.7v.7h-.7zM352.7 204.1h.7v.7h-.7zM375.5 192.6h.7v.7h-.7zM367.1 200.2h.7v.7h-.7zM354.1 202.6h.7v.7h-.7zM372.1 180.6h.7v.7h-.7zM374.9 193.2h.7v.7h-.7zM360.6 185.5h.7v.7h-.7zM374.4 196.2h.7v.7h-.7zM350.9 190.6h.7v.7h-.7zM368.7 180.4h.7v.7h-.7zM370.9 194.8h.7v.7h-.7zM360.9 203.1h.7v.7h-.7zM358.7 201.0h.7v.7h-.7zM354.8 203.5h.7v.7h-.7zM372.2 195.7h.7v.7h-.7zM351.8 190.6h.7v.7h-.7zM356.6 184.0h.7v.7h-.7zM348.4 200.4h.7v.7h-.7zM365.3 182.5h.7v.7h-.7zM356.3 184.7h.7v.7h-.7zM363.1 182.4h.7v.7h-.7zM352.3 189.1h.7v.7h-.7zM348.7 192.9h.7v.7h-.7zM346.7 195.5h.7v.7h-.7zM346.9 201.9h.7v.7h-.7zM366.9 201.2h.7v.7h-.7zM373.1 195.5h.7v.7h-.7zM376.9 188.6h.7v.7h-.7zM364.2 183.5h.7v.7h-.7zM357.6 182.8h.7v.7h-.7zM358.6 185.3h.7v.7h-.7zM363.1 182.5h.7v.7h-.7zM366.5 181.0h.7v.7h-.7zM374.5 195.4h.7v.7h-.7zM362.7 199.6h.7v.7h-.7zM376.4 180.5h.7v.7h-.7zM370.5 196.8h.7v.7h-.7zM347.2 198.5h.7v.7h-.7zM368.4 180.8h.7v.7h-.7zM348.8 191.8h.7v.7h-.7zM347.9 201.7h.7v.7h-.7zM365.4 181.3h.7v.7h-.7zM366.5 199.7h.7v.7h-.7zM361.6 182.0h.7v.7h-.7zM361.7 185.5h.7v.7h-.7zM371.9 195.2h.7v.7h-.7zM353.4 204.0h.7v.7h-.7zM346.6 196.4h.7v.7h-.7zM366.1 198.4h.7v.7h-.7zM358.6 203.1h.7v.7h-.7zM349.8 201.0h.7v.7h-.7zM354.9 186.5h.7v.7h-.7zM363.3 203.4h.7v.7h-.7zM361.8 200.9h.7v.7h-.7zM365.4 182.1h.7v.7h-.7zM370.5 196.8h.7v.7h-.7zM362.1 181.1h.7v.7h-.7zM351.8 190.5h.7v.7h-.7zM360.6 182.3h.7v.7h-.7zM373.4 193.6h.7v.7h-.7zM357.9 200.9h.7v.7h-.7zM349.0 197.1h.7v.7h-.7zM362.4 181.2h.7v.7h-.7zM367.9 200.0h.7v.7h-.7zM356.2 185.5h.7v.7h-.7zM377.0 180.5h.7v.7h-.7zM367.2 197.7h.7v.7h-.7zM369.6 197.0h.7v.7h-.7zM376.9 185.2h.7v.7h-.7zM354.9 186.7h.7v.7h-.7zM366.6 179.9h.7v.7h-.7zM373.3 193.9h.7v.7h-.7zM359.4 181.6h.7v.7h-.7zM366.0 181.0h.7v.7h-.7zM350.3 193.0h.7v.7h-.7zM373.6 181.9h.7v.7h-.7zM360.0 186.7h.7v.7h-.7zM362.1 183.5h.7v.7h-.7zM354.8 189.6h.7v.7h-.7zM369.1 181.2h.7v.7h-.7zM369.0 199.1h.7v.7h-.7zM348.2 199.6h.7v.7h-.7zM373.2 195.4h.7v.7h-.7zM367.9 179.9h.7v.7h-.7zM353.1 187.2h.7v.7h-.7zM376.8 186.6h.7v.7h-.7zM366.3 199.1h.7v.7h-.7zM354.8 186.8h.7v.7h-.7zM367.9 178.3h.7v.7h-.7zM376.6 188.4h.7v.7h-.7zM371.5 178.9h.7v.7h-.7zM353.0 203.7h.7v.7h-.7zM365.8 198.9h.7v.7h-.7zM357.9 202.8h.7v.7h-.7zM364.4 202.7h.7v.7h-.7zM346.2 196.7h.7v.7h-.7zM374.7 194.2h.7v.7h-.7zM376.7 187.7h.7v.7h-.7zM366.0 181.9h.7v.7h-.7zM355.3 186.8h.7v.7h-.7zM354.5 186.8h.7v.7h-.7zM348.5 193.9h.7v.7h-.7zM371.7 180.3h.7v.7h-.7zM354.8 203.7h.7v.7h-.7zM350.8 191.9h.7v.7h-.7zM357.3 186.0h.7v.7h-.7zM368.0 180.5h.7v.7h-.7zM369.2 198.8h.7v.7h-.7zM345.7 201.1h.7v.7h-.7zM363.7 202.8h.7v.7h-.7zM350.9 203.4h.7v.7h-.7zM361.7 182.6h.7v.7h-.7zM374.7 182.8h.7v.7h-.7zM368.6 179.4h.7v.7h-.7zM366.6 179.7h.7v.7h-.7zM367.9 194.2h.7v.7h-.7zM344.9 200.4h.7v.7h-.7zM348.9 201.1h.7v.7h-.7zM374.9 193.0h.7v.7h-.7zM364.0 182.7h.7v.7h-.7zM350.0 191.1h.7v.7h-.7zM364.2 182.1h.7v.7h-.7zM370.4 198.8h.7v.7h-.7zM352.3 188.6h.7v.7h-.7zM374.4 182.0h.7v.7h-.7zM373.9 196.1h.7v.7h-.7zM374.7 193.6h.7v.7h-.7zM367.8 198.7h.7v.7h-.7zM358.9 186.8h.7v.7h-.7zM375.1 183.2h.7v.7h-.7zM346.4 197.4h.7v.7h-.7zM350.1 202.0h.7v.7h-.7zM358.5 183.2h.7v.7h-.7zM363.9 182.9h.7v.7h-.7zM365.7 180.7h.7v.7h-.7zM371.6 179.5h.7v.7h-.7zM369.1 181.4h.7v.7h-.7zM347.0 201.2h.7v.7h-.7zM362.0 202.8h.7v.7h-.7zM358.3 186.0h.7v.7h-.7zM364.6 198.8h.7v.7h-.7zM360.4 184.5h.7v.7h-.7zM353.1 188.5h.7v.7h-.7zM361.9 200.8h.7v.7h-.7zM375.9 186.6h.7v.7h-.7zM352.6 205.2h.7v.7h-.7zM349.3 201.5h.7v.7h-.7zM353.1 188.1h.7v.7h-.7zM349.1 194.5h.7v.7h-.7zM368.2 179.4h.7v.7h-.7zM345.6 196.2h.7v.7h-.7zM349.9 190.7h.7v.7h-.7zM373.7 195.9h.7v.7h-.7zM374.8 194.6h.7v.7h-.7zM376.4 182.8h.7v.7h-.7zM373.8 192.4h.7v.7h-.7zM364.8 182.2h.7v.7h-.7zM364.6 198.4h.7v.7h-.7zM373.9 180.8h.7v.7h-.7zM359.7 202.8h.7v.7h-.7zM361.3 202.7h.7v.7h-.7zM362.9 201.2h.7v.7h-.7zM354.2 202.8h.7v.7h-.7zM374.6 181.2h.7v.7h-.7zM369.2 182.3h.7v.7h-.7zM347.9 198.5h.7v.7h-.7zM358.4 186.5h.7v.7h-.7zM369.2 179.6h.7v.7h-.7zM354.4 204.0h.7v.7h-.7zM351.1 201.2h.7v.7h-.7zM364.6 199.7h.7v.7h-.7zM359.9 185.1h.7v.7h-.7zM366.0 200.2h.7v.7h-.7zM360.3 183.9h.7v.7h-.7zM349.3 201.4h.7v.7h-.7zM375.1 193.5h.7v.7h-.7zM346.5 196.9h.7v.7h-.7zM376.0 191.7h.7v.7h-.7zM348.3 193.4h.7v.7h-.7zM364.2 182.3h.7v.7h-.7zM367.9 180.9h.7v.7h-.7zM374.0 180.8h.7v.7h-.7zM372.0 178.7h.7v.7h-.7zM367.7 197.4h.7v.7h-.7zM349.1 199.8h.7v.7h-.7zM361.2 202.2h.7v.7h-.7zM356.5 186.3h.7v.7h-.7zM359.7 203.6h.7v.7h-.7zM356.9 202.5h.7v.7h-.7zM375.7 192.7h.7v.7h-.7zM376.7 183.1h.7v.7h-.7zM365.1 199.9h.7v.7h-.7zM375.2 190.2h.7v.7h-.7zM373.3 180.8h.7v.7h-.7zM360.9 182.0h.7v.7h-.7zM364.0 184.3h.7v.7h-.7zM352.6 203.1h.7v.7h-.7zM347.6 198.2h.7v.7h-.7zM364.1 179.1h.7v.7h-.7zM367.4 179.4h.7v.7h-.7zM356.7 202.7h.7v.7h-.7zM368.7 198.0h.7v.7h-.7zM355.3 187.7h.7v.7h-.7zM362.1 201.5h.7v.7h-.7zM355.8 204.3h.7v.7h-.7zM376.9 188.0h.7v.7h-.7zM372.5 193.7h.7v.7h-.7zM360.4 184.9h.7v.7h-.7zM373.2 193.7h.7v.7h-.7zM356.0 202.6h.7v.7h-.7zM360.2 182.1h.7v.7h-.7zM360.9 183.9h.7v.7h-.7zM363.5 202.3h.7v.7h-.7zM354.8 204.0h.7v.7h-.7zM344.1 197.5h.7v.7h-.7zM369.8 181.6h.7v.7h-.7zM358.4 186.6h.7v.7h-.7zM363.5 184.5h.7v.7h-.7zM360.0 184.2h.7v.7h-.7zM373.9 192.5h.7v.7h-.7zM351.9 203.3h.7v.7h-.7zM362.9 182.5h.7v.7h-.7zM370.4 194.7h.7v.7h-.7zM364.2 182.8h.7v.7h-.7zM362.9 203.4h.7v.7h-.7zM372.8 193.2h.7v.7h-.7zM373.2 196.2h.7v.7h-.7zM349.0 201.8h.7v.7h-.7zM353.5 203.2h.7v.7h-.7zM346.6 202.6h.7v.7h-.7zM348.3 193.0h.7v.7h-.7zM358.2 204.3h.7v.7h-.7zM346.7 190.5h.7v.7h-.7zM367.0 199.6h.7v.7h-.7zM350.7 203.4h.7v.7h-.7zM360.2 202.2h.7v.7h-.7zM365.3 179.5h.7v.7h-.7zM374.4 182.5h.7v.7h-.7zM361.2 185.1h.7v.7h-.7zM365.2 182.0h.7v.7h-.7zM376.5 188.8h.7v.7h-.7zM357.4 203.7h.7v.7h-.7zM351.7 189.3h.7v.7h-.7zM349.1 188.9h.7v.7h-.7zM367.7 180.1h.7v.7h-.7zM361.6 185.3h.7v.7h-.7zM376.6 185.3h.7v.7h-.7zM372.1 194.7h.7v.7h-.7zM352.8 186.8h.7v.7h-.7zM345.4 198.8h.7v.7h-.7zM369.2 179.9h.7v.7h-.7zM359.6 184.5h.7v.7h-.7zM354.6 184.8h.7v.7h-.7zM347.0 201.1h.7v.7h-.7zM375.6 181.0h.7v.7h-.7zM374.7 182.1h.7v.7h-.7zM367.6 197.3h.7v.7h-.7zM346.4 195.9h.7v.7h-.7zM367.7 196.9h.7v.7h-.7zM349.7 191.0h.7v.7h-.7zM351.6 202.7h.7v.7h-.7zM344.9 195.6h.7v.7h-.7zM346.0 200.5h.7v.7h-.7zM374.3 191.7h.7v.7h-.7zM352.8 187.7h.7v.7h-.7zM362.4 201.1h.7v.7h-.7zM366.8 178.9h.7v.7h-.7zM347.6 200.1h.7v.7h-.7zM345.9 195.8h.7v.7h-.7zM357.9 202.4h.7v.7h-.7zM355.8 187.0h.7v.7h-.7zM354.7 186.3h.7v.7h-.7zM346.9 204.7h.7v.7h-.7zM357.0 185.7h.7v.7h-.7zM356.6 186.1h.7v.7h-.7zM354.7 187.1h.7v.7h-.7zM367.6 181.0h.7v.7h-.7zM359.3 201.7h.7v.7h-.7zM361.7 201.9h.7v.7h-.7zM352.2 186.5h.7v.7h-.7zM365.1 199.5h.7v.7h-.7zM371.4 195.4h.7v.7h-.7zM373.4 194.7h.7v.7h-.7zM345.7 194.5h.7v.7h-.7zM368.8 181.1h.7v.7h-.7zM376.7 192.5h.7v.7h-.7zM347.2 194.2h.7v.7h-.7zM374.5 184.3h.7v.7h-.7zM352.1 204.5h.7v.7h-.7zM345.2 196.4h.7v.7h-.7zM359.1 185.1h.7v.7h-.7zM351.2 203.1h.7v.7h-.7zM347.9 199.9h.7v.7h-.7zM372.0 194.9h.7v.7h-.7zM374.8 190.1h.7v.7h-.7zM356.7 187.6h.7v.7h-.7zM343.9 198.7h.7v.7h-.7zM358.9 204.2h.7v.7h-.7zM363.0 201.0h.7v.7h-.7zM359.8 184.2h.7v.7h-.7zM353.6 186.5h.7v.7h-.7zM367.9 182.5h.7v.7h-.7zM356.0 203.0h.7v.7h-.7zM375.2 194.2h.7v.7h-.7zM369.5 197.9h.7v.7h-.7zM361.7 183.1h.7v.7h-.7zM349.1 190.0h.7v.7h-.7zM360.2 183.8h.7v.7h-.7zM354.9 203.7h.7v.7h-.7zM365.6 180.7h.7v.7h-.7zM372.5 180.5h.7v.7h-.7zM375.7 183.5h.7v.7h-.7zM372.0 196.3h.7v.7h-.7zM362.7 183.8h.7v.7h-.7zM365.1 201.4h.7v.7h-.7zM373.7 180.2h.7v.7h-.7zM368.1 181.2h.7v.7h-.7zM353.7 203.9h.7v.7h-.7zM366.5 183.8h.7v.7h-.7zM348.9 202.2h.7v.7h-.7zM376.3 190.0h.7v.7h-.7zM352.2 189.3h.7v.7h-.7zM372.2 197.0h.7v.7h-.7zM369.6 197.0h.7v.7h-.7zM372.7 195.1h.7v.7h-.7zM376.2 184.1h.7v.7h-.7zM348.0 203.7h.7v.7h-.7zM348.5 201.8h.7v.7h-.7zM346.0 201.8h.7v.7h-.7zM363.4 183.4h.7v.7h-.7zM369.1 196.1h.7v.7h-.7zM350.5 202.8h.7v.7h-.7zM348.8 202.0h.7v.7h-.7zM364.3 183.2h.7v.7h-.7zM352.0 205.5h.7v.7h-.7zM372.8 180.8h.7v.7h-.7zM360.6 200.5h.7v.7h-.7zM373.2 180.4h.7v.7h-.7zM351.9 204.1h.7v.7h-.7zM350.5 192.6h.7v.7h-.7zM363.7 181.5h.7v.7h-.7zM357.0 184.8h.7v.7h-.7zM373.4 194.3h.7v.7h-.7zM360.0 186.0h.7v.7h-.7zM347.9 199.1h.7v.7h-.7zM356.2 187.5h.7v.7h-.7zM347.6 195.4h.7v.7h-.7zM359.8 200.9h.7v.7h-.7zM350.2 191.5h.7v.7h-.7zM367.1 182.4h.7v.7h-.7zM355.2 202.9h.7v.7h-.7zM375.6 183.6h.7v.7h-.7zM358.0 184.9h.7v.7h-.7zM356.2 202.8h.7v.7h-.7zM375.3 190.0h.7v.7h-.7zM372.8 178.8h.7v.7h-.7zM365.0 200.5h.7v.7h-.7zM361.4 181.9h.7v.7h-.7zM366.8 199.0h.7v.7h-.7zM363.9 181.1h.7v.7h-.7zM372.4 180.0h.7v.7h-.7zM367.3 180.4h.7v.7h-.7zM360.9 182.5h.7v.7h-.7zM370.9 180.6h.7v.7h-.7zM365.1 181.9h.7v.7h-.7zM376.1 183.2h.7v.7h-.7zM352.6 190.9h.7v.7h-.7zM364.5 183.3h.7v.7h-.7zM359.4 184.5h.7v.7h-.7zM375.6 184.4h.7v.7h-.7zM376.4 183.2h.7v.7h-.7zM353.0 186.7h.7v.7h-.7zM346.9 193.1h.7v.7h-.7zM373.4 179.2h.7v.7h-.7zM375.1 182.8h.7v.7h-.7zM372.5 180.7h.7v.7h-.7zM371.7 196.0h.7v.7h-.7zM371.5 178.8h.7v.7h-.7zM356.2 187.3h.7v.7h-.7zM371.8 179.4h.7v.7h-.7zM350.8 190.9h.7v.7h-.7zM365.1 201.7h.7v.7h-.7zM355.2 204.0h.7v.7h-.7zM375.8 185.0h.7v.7h-.7zM371.5 181.1h.7v.7h-.7zM350.1 189.7h.7v.7h-.7zM360.2 181.4h.7v.7h-.7zM371.2 196.7h.7v.7h-.7zM370.7 197.0h.7v.7h-.7zM376.8 182.4h.7v.7h-.7zM365.4 201.5h.7v.7h-.7zM359.4 184.7h.7v.7h-.7zM372.7 179.8h.7v.7h-.7zM370.5 179.8h.7v.7h-.7zM355.5 202.7h.7v.7h-.7zM355.8 204.9h.7v.7h-.7zM373.4 193.3h.7v.7h-.7zM375.7 192.8h.7v.7h-.7zM351.9 203.7h.7v.7h-.7zM357.8 202.6h.7v.7h-.7zM366.4 200.1h.7v.7h-.7zM363.2 182.4h.7v.7h-.7zM372.1 181.9h.7v.7h-.7zM375.4 192.3h.7v.7h-.7zM357.7 184.9h.7v.7h-.7zM373.5 193.4h.7v.7h-.7zM362.4 204.3h.7v.7h-.7zM363.4 199.6h.7v.7h-.7zM368.5 180.1h.7v.7h-.7zM353.4 188.9h.7v.7h-.7zM352.2 204.7h.7v.7h-.7zM374.0 182.5h.7v.7h-.7zM358.8 186.4h.7v.7h-.7zM366.3 183.1h.7v.7h-.7zM374.9 182.7h.7v.7h-.7zM364.0 198.9h.7v.7h-.7zM347.6 191.6h.7v.7h-.7zM370.4 198.0h.7v.7h-.7zM355.7 188.2h.7v.7h-.7zM373.4 181.4h.7v.7h-.7zM358.8 186.6h.7v.7h-.7zM369.8 199.4h.7v.7h-.7zM376.9 186.9h.7v.7h-.7zM364.1 201.1h.7v.7h-.7zM369.2 182.0h.7v.7h-.7zM351.2 200.6h.7v.7h-.7zM359.0 185.7h.7v.7h-.7zM359.7 201.8h.7v.7h-.7zM357.0 203.1h.7v.7h-.7zM371.6 197.1h.7v.7h-.7zM344.4 199.8h.7v.7h-.7zM349.9 193.1h.7v.7h-.7zM357.8 203.4h.7v.7h-.7zM371.8 199.4h.7v.7h-.7zM368.0 182.4h.7v.7h-.7zM373.5 194.7h.7v.7h-.7zM362.6 182.5h.7v.7h-.7zM353.9 188.9h.7v.7h-.7zM350.2 203.9h.7v.7h-.7zM352.4 190.4h.7v.7h-.7zM364.5 201.4h.7v.7h-.7zM351.3 202.1h.7v.7h-.7zM365.9 182.2h.7v.7h-.7zM372.1 180.5h.7v.7h-.7zM356.0 184.6h.7v.7h-.7z" fill="#3050cc" opacity="0.6"/><path d="M358.34 174.71h0.7v0.7h-0.7zM361.2 175.23h0.7v0.7h-0.7zM362.07 163.64h0.7v0.7h-0.7zM363.17 177.43h0.7v0.7h-0.7zM354.5 186.72h0.7v0.7h-0.7zM359.45 178.48h0.7v0.7h-0.7zM359.72 178.69h0.7v0.7h-0.7zM357.12 176.36h0.7v0.7h-0.7zM355.97 177.15h0.7v0.7h-0.7zM367.21 175.41h0.7v0.7h-0.7zM371.02 173.33h0.7v0.7h-0.7zM362.27 183.62h0.7v0.7h-0.7zM348.6 179.94h0.7v0.7h-0.7zM370.34 171.06h0.7v0.7h-0.7zM362.47 170.88h0.7v0.7h-0.7zM361.35 171.45h0.7v0.7h-0.7zM367.71 185.68h0.7v0.7h-0.7zM356.62 187.17h0.7v0.7h-0.7zM358.34 177.47h0.7v0.7h-0.7zM365.25 177.6h0.7v0.7h-0.7zM355.13 179.05h0.7v0.7h-0.7zM360.79 186.41h0.7v0.7h-0.7zM362.61 184.49h0.7v0.7h-0.7zM360.76 176.46h0.7v0.7h-0.7zM363.09 175.93h0.7v0.7h-0.7zM361.14 177.06h0.7v0.7h-0.7zM360.41 175.57h0.7v0.7h-0.7zM359.79 174.15h0.7v0.7h-0.7zM359.36 167.31h0.7v0.7h-0.7zM356.27 172.28h0.7v0.7h-0.7zM359.23 170.29h0.7v0.7h-0.7zM354.08 180.81h0.7v0.7h-0.7zM358.62 185.81h0.7v0.7h-0.7zM368.38 173.99h0.7v0.7h-0.7zM355.8 166.92h0.7v0.7h-0.7zM364.62 189.13h0.7v0.7h-0.7zM362.03 176.7h0.7v0.7h-0.7zM374.95 170.94h0.7v0.7h-0.7zM360.51 170.95h0.7v0.7h-0.7zM361.5 178.38h0.7v0.7h-0.7zM354.66 187.23h0.7v0.7h-0.7zM364.15 176.15h0.7v0.7h-0.7zM373.97 170.99h0.7v0.7h-0.7zM358.39 169.65h0.7v0.7h-0.7zM361.51 185.41h0.7v0.7h-0.7zM353.36 165.27h0.7v0.7h-0.7zM357.44 177.41h0.7v0.7h-0.7zM370.43 177.12h0.7v0.7h-0.7zM370.51 183.22h0.7v0.7h-0.7zM367.97 175.39h0.7v0.7h-0.7zM360.33 177.67h0.7v0.7h-0.7zM357.24 170.83h0.7v0.7h-0.7zM362.74 174.38h0.7v0.7h-0.7zM362.65 168.69h0.7v0.7h-0.7zM360.81 180.12h0.7v0.7h-0.7zM364.38 173.84h0.7v0.7h-0.7zM354.34 177.97h0.7v0.7h-0.7zM369.86 168.81h0.7v0.7h-0.7zM364.69 176.44h0.7v0.7h-0.7zM369.85 174.75h0.7v0.7h-0.7zM363.57 168.21h0.7v0.7h-0.7zM366.04 178.85h0.7v0.7h-0.7zM360.17 177.37h0.7v0.7h-0.7zM364.67 175.73h0.7v0.7h-0.7zM359.15 173.44h0.7v0.7h-0.7zM352.53 171.76h0.7v0.7h-0.7zM360 175.2h0.7v0.7h-0.7zM359.61 177.83h0.7v0.7h-0.7zM359.98 169.81h0.7v0.7h-0.7zM358.02 160.66h0.7v0.7h-0.7zM360.86 176.67h0.7v0.7h-0.7zM360 173.22h0.7v0.7h-0.7zM358.81 181.18h0.7v0.7h-0.7zM367 177.7h0.7v0.7h-0.7zM355.42 181.49h0.7v0.7h-0.7zM359.82 183.52h0.7v0.7h-0.7zM366.71 176.86h0.7v0.7h-0.7zM349.66 158.61h0.7v0.7h-0.7zM365.41 175.69h0.7v0.7h-0.7zM361.07 184.98h0.7v0.7h-0.7zM366.62 180.99h0.7v0.7h-0.7zM362.2 167.55h0.7v0.7h-0.7zM358.28 185.31h0.7v0.7h-0.7zM361.69 178.67h0.7v0.7h-0.7zM358.71 178.78h0.7v0.7h-0.7zM361.92 175.62h0.7v0.7h-0.7zM363.51 171.15h0.7v0.7h-0.7zM368.54 173.83h0.7v0.7h-0.7zM361.05 170.27h0.7v0.7h-0.7zM360.97 179.13h0.7v0.7h-0.7zM367.02 172.5h0.7v0.7h-0.7zM358.97 175.97h0.7v0.7h-0.7zM362.54 174.38h0.7v0.7h-0.7zM358.2 165.9h0.7v0.7h-0.7zM350.72 176.61h0.7v0.7h-0.7zM355.46 174h0.7v0.7h-0.7zM370.31 174.69h0.7v0.7h-0.7zM359.99 171.83h0.7v0.7h-0.7zM361.15 181.99h0.7v0.7h-0.7zM358.05 170.85h0.7v0.7h-0.7zM370.95 176.06h0.7v0.7h-0.7zM365.19 167.44h0.7v0.7h-0.7zM363.62 166.83h0.7v0.7h-0.7zM365.71 176.78h0.7v0.7h-0.7zM369.2 177.14h0.7v0.7h-0.7zM360.69 173.29h0.7v0.7h-0.7zM362.43 175.48h0.7v0.7h-0.7zM356.01 169.35h0.7v0.7h-0.7zM359.49 176.56h0.7v0.7h-0.7zM354.09 180.43h0.7v0.7h-0.7zM366.27 182.39h0.7v0.7h-0.7zM359.57 169.53h0.7v0.7h-0.7zM366.49 171.2h0.7v0.7h-0.7zM362.16 170.68h0.7v0.7h-0.7zM368.8 174.46h0.7v0.7h-0.7zM367.79 174.83h0.7v0.7h-0.7zM357.03 183.58h0.7v0.7h-0.7zM368.62 176.93h0.7v0.7h-0.7zM363.72 179.15h0.7v0.7h-0.7zM365.27 180.96h0.7v0.7h-0.7zM362.17 178.35h0.7v0.7h-0.7zM367.57 168.43h0.7v0.7h-0.7zM364.44 171.45h0.7v0.7h-0.7zM362.87 168.18h0.7v0.7h-0.7zM366.35 173.92h0.7v0.7h-0.7zM361.02 166.08h0.7v0.7h-0.7zM358.3 184.72h0.7v0.7h-0.7zM359.44 176.59h0.7v0.7h-0.7zM359.29 178.15h0.7v0.7h-0.7zM359.96 172.97h0.7v0.7h-0.7zM364.53 176.94h0.7v0.7h-0.7zM362.94 177.38h0.7v0.7h-0.7zM365.84 172.16h0.7v0.7h-0.7zM356.01 171.07h0.7v0.7h-0.7zM358.07 165.65h0.7v0.7h-0.7zM360.08 181.27h0.7v0.7h-0.7zM364.23 169.96h0.7v0.7h-0.7zM365.04 171.86h0.7v0.7h-0.7zM363.22 181.77h0.7v0.7h-0.7zM364.98 177.38h0.7v0.7h-0.7zM364.19 175.44h0.7v0.7h-0.7zM366.64 189.02h0.7v0.7h-0.7zM365.84 168.66h0.7v0.7h-0.7zM372.53 178.93h0.7v0.7h-0.7zM356.23 183.26h0.7v0.7h-0.7zM357.13 161h0.7v0.7h-0.7zM363.96 170.17h0.7v0.7h-0.7zM358.27 178.26h0.7v0.7h-0.7zM366.06 172.74h0.7v0.7h-0.7zM362.23 172.53h0.7v0.7h-0.7zM360.34 169.75h0.7v0.7h-0.7zM374.06 182.81h0.7v0.7h-0.7zM371.59 172.36h0.7v0.7h-0.7zM360.92 170.85h0.7v0.7h-0.7zM360.86 174.76h0.7v0.7h-0.7zM365.33 176.44h0.7v0.7h-0.7zM366.91 171.53h0.7v0.7h-0.7zM354.92 170.52h0.7v0.7h-0.7zM368.59 178.9h0.7v0.7h-0.7zM368.22 173.05h0.7v0.7h-0.7zM354.33 172.38h0.7v0.7h-0.7zM359.33 171.44h0.7v0.7h-0.7zM361 170.57h0.7v0.7h-0.7zM361.57 178.56h0.7v0.7h-0.7zM375.43 172.8h0.7v0.7h-0.7zM368.39 180.6h0.7v0.7h-0.7zM369.71 165.59h0.7v0.7h-0.7zM365.38 174.17h0.7v0.7h-0.7zM364.05 166.52h0.7v0.7h-0.7zM360.04 170.14h0.7v0.7h-0.7zM360.6 175.39h0.7v0.7h-0.7zM364.98 175.43h0.7v0.7h-0.7zM368.03 169.71h0.7v0.7h-0.7zM371.08 168.41h0.7v0.7h-0.7zM355.76 173.07h0.7v0.7h-0.7zM360.85 170.32h0.7v0.7h-0.7zM354.66 172.13h0.7v0.7h-0.7zM360.61 178.89h0.7v0.7h-0.7zM365.21 183.53h0.7v0.7h-0.7zM369.62 185.11h0.7v0.7h-0.7zM356.55 172.27h0.7v0.7h-0.7zM358.86 172.39h0.7v0.7h-0.7zM368.7 174.96h0.7v0.7h-0.7zM363.16 171.98h0.7v0.7h-0.7zM361.28 163.37h0.7v0.7h-0.7zM360.54 178.04h0.7v0.7h-0.7zM358.71 170.26h0.7v0.7h-0.7zM369.45 167.8h0.7v0.7h-0.7zM354.16 169.18h0.7v0.7h-0.7zM364.47 163.03h0.7v0.7h-0.7zM364.57 169.42h0.7v0.7h-0.7zM358.36 175.05h0.7v0.7h-0.7zM363.75 183.56h0.7v0.7h-0.7zM363.96 168.83h0.7v0.7h-0.7zM375.01 174.9h0.7v0.7h-0.7zM359.51 163.1h0.7v0.7h-0.7zM353.66 183.51h0.7v0.7h-0.7zM370.03 168.93h0.7v0.7h-0.7zM357.02 171.38h0.7v0.7h-0.7zM365 174.42h0.7v0.7h-0.7zM359.93 169.08h0.7v0.7h-0.7zM360.68 165.58h0.7v0.7h-0.7zM364.18 170.78h0.7v0.7h-0.7zM372.95 184.6h0.7v0.7h-0.7zM369.75 172.1h0.7v0.7h-0.7zM367.01 175.43h0.7v0.7h-0.7zM359.67 182.99h0.7v0.7h-0.7zM363.99 174.27h0.7v0.7h-0.7zM364.94 175.38h0.7v0.7h-0.7zM354.89 172.41h0.7v0.7h-0.7zM360.96 182.04h0.7v0.7h-0.7zM366.37 170.32h0.7v0.7h-0.7zM364.67 169.09h0.7v0.7h-0.7zM366.35 178.7h0.7v0.7h-0.7zM372.58 177.03h0.7v0.7h-0.7zM363.21 179.39h0.7v0.7h-0.7zM364.84 175.54h0.7v0.7h-0.7zM361.68 173.75h0.7v0.7h-0.7zM358.1 179.43h0.7v0.7h-0.7z" fill="#3044c4" opacity="0.5"/><g filter="url(#bl2)"><path d="M377.09 184.06C377.42 184.64 377.66 185.34 377.74 186.00C377.81 186.67 377.74 187.33 377.56 188.03C377.37 188.72 377.06 189.45 376.64 190.19C376.22 190.92 375.67 191.68 375.03 192.42C374.38 193.17 373.62 193.93 372.76 194.67C371.91 195.41 370.98 196.13 369.89 196.87C368.80 197.61 367.48 198.42 366.23 199.11C364.98 199.80 363.60 200.50 362.39 201.03C361.19 201.56 360.09 201.96 359.01 202.30C357.92 202.63 356.88 202.87 355.90 203.03C354.92 203.18 353.99 203.24 353.14 203.21C352.30 203.18 351.52 203.06 350.83 202.84C350.14 202.63 349.54 202.34 349.02 201.92C348.50 201.51 348.03 200.93 347.71 200.34C347.38 199.76 347.14 199.06 347.06 198.40C346.99 197.73 347.06 197.07 347.24 196.37C347.43 195.68 347.74 194.95 348.16 194.21C348.58 193.48 349.13 192.72 349.77 191.98C350.42 191.23 351.18 190.47 352.04 189.73C352.89 188.99 353.82 188.27 354.91 187.53C356.00 186.79 357.32 185.98 358.57 185.29C359.82 184.60 361.20 183.90 362.41 183.37C363.61 182.84 364.71 182.44 365.79 182.10C366.88 181.77 367.92 181.53 368.90 181.37C369.88 181.22 370.81 181.16 371.66 181.19C372.50 181.22 373.28 181.34 373.97 181.56C374.66 181.77 375.26 182.06 375.78 182.48C376.30 182.89 376.77 183.47 377.09 184.06Z" fill="#3044c4"/><path d="M374.43 185.22C374.70 185.69 374.89 186.25 374.95 186.78C375.01 187.31 374.95 187.84 374.81 188.40C374.66 188.96 374.41 189.54 374.07 190.13C373.73 190.71 373.30 191.32 372.78 191.92C372.26 192.52 371.65 193.12 370.97 193.72C370.28 194.31 369.54 194.89 368.67 195.48C367.80 196.07 366.74 196.71 365.74 197.27C364.74 197.82 363.64 198.38 362.68 198.80C361.71 199.23 360.83 199.55 359.96 199.82C359.10 200.08 358.26 200.28 357.48 200.40C356.70 200.52 355.95 200.57 355.28 200.55C354.60 200.52 353.97 200.43 353.42 200.25C352.87 200.08 352.39 199.85 351.97 199.52C351.56 199.18 351.19 198.73 350.93 198.26C350.66 197.79 350.47 197.23 350.41 196.70C350.35 196.17 350.41 195.64 350.55 195.08C350.70 194.52 350.95 193.94 351.29 193.35C351.63 192.77 352.06 192.16 352.58 191.56C353.10 190.96 353.71 190.36 354.39 189.76C355.08 189.17 355.82 188.59 356.69 188.00C357.56 187.41 358.62 186.77 359.62 186.21C360.62 185.66 361.72 185.10 362.68 184.68C363.65 184.25 364.53 183.93 365.40 183.66C366.26 183.40 367.10 183.20 367.88 183.08C368.66 182.96 369.41 182.91 370.08 182.93C370.76 182.96 371.39 183.05 371.94 183.23C372.49 183.40 372.97 183.63 373.39 183.96C373.80 184.30 374.17 184.75 374.43 185.22Z" fill="#3462cc"/><path d="M372.84 185.93C373.06 186.33 373.22 186.80 373.28 187.25C373.33 187.70 373.28 188.15 373.16 188.63C373.03 189.10 372.82 189.60 372.53 190.09C372.24 190.59 371.87 191.11 371.43 191.62C370.99 192.12 370.48 192.64 369.89 193.14C369.31 193.65 368.68 194.14 367.94 194.64C367.20 195.15 366.30 195.69 365.45 196.16C364.60 196.63 363.66 197.11 362.84 197.47C362.03 197.83 361.28 198.10 360.54 198.33C359.80 198.56 359.09 198.72 358.43 198.83C357.76 198.93 357.13 198.97 356.55 198.95C355.98 198.93 355.45 198.85 354.98 198.70C354.51 198.55 354.10 198.36 353.75 198.07C353.39 197.79 353.08 197.40 352.86 197.00C352.63 196.60 352.47 196.13 352.42 195.68C352.37 195.23 352.42 194.78 352.54 194.30C352.67 193.83 352.88 193.33 353.16 192.83C353.45 192.34 353.82 191.82 354.26 191.31C354.70 190.80 355.22 190.29 355.80 189.78C356.38 189.28 357.01 188.79 357.75 188.29C358.49 187.78 359.39 187.24 360.24 186.77C361.09 186.29 362.03 185.82 362.85 185.46C363.67 185.10 364.42 184.82 365.16 184.60C365.89 184.37 366.60 184.21 367.27 184.10C367.93 184.00 368.57 183.96 369.14 183.98C369.72 184.00 370.25 184.08 370.72 184.23C371.18 184.37 371.59 184.57 371.95 184.85C372.30 185.14 372.62 185.53 372.84 185.93Z" fill="#2aa6d6"/><path d="M371.11 186.69C371.29 187.01 371.42 187.39 371.46 187.76C371.51 188.12 371.47 188.49 371.37 188.87C371.27 189.25 371.09 189.65 370.86 190.06C370.63 190.46 370.33 190.88 369.97 191.29C369.62 191.70 369.20 192.12 368.73 192.52C368.26 192.93 367.75 193.33 367.15 193.74C366.55 194.14 365.82 194.58 365.14 194.97C364.45 195.35 363.69 195.73 363.03 196.02C362.36 196.31 361.76 196.54 361.16 196.72C360.57 196.90 359.99 197.04 359.45 197.12C358.92 197.20 358.40 197.24 357.94 197.22C357.47 197.20 357.04 197.14 356.67 197.02C356.29 196.90 355.96 196.74 355.67 196.51C355.38 196.28 355.13 195.97 354.95 195.64C354.77 195.32 354.64 194.94 354.60 194.57C354.55 194.21 354.59 193.84 354.69 193.46C354.79 193.08 354.97 192.68 355.20 192.27C355.43 191.87 355.73 191.45 356.09 191.04C356.44 190.63 356.86 190.21 357.33 189.81C357.80 189.40 358.31 189.00 358.91 188.59C359.51 188.19 360.24 187.75 360.92 187.36C361.61 186.98 362.37 186.60 363.03 186.31C363.70 186.02 364.30 185.79 364.90 185.61C365.49 185.43 366.07 185.29 366.61 185.21C367.14 185.13 367.66 185.09 368.12 185.11C368.59 185.13 369.02 185.19 369.39 185.31C369.77 185.43 370.10 185.59 370.39 185.82C370.68 186.05 370.93 186.36 371.11 186.69Z" fill="#5cc05a"/><path d="M368.85 187.68C368.98 187.90 369.07 188.17 369.10 188.42C369.12 188.67 369.10 188.92 369.03 189.19C368.96 189.45 368.84 189.73 368.68 190.01C368.52 190.29 368.31 190.57 368.07 190.86C367.82 191.14 367.53 191.43 367.21 191.71C366.88 192.00 366.53 192.27 366.11 192.55C365.70 192.83 365.20 193.14 364.72 193.40C364.25 193.66 363.72 193.93 363.27 194.13C362.81 194.33 362.39 194.48 361.98 194.61C361.57 194.74 361.17 194.83 360.80 194.89C360.43 194.95 360.07 194.97 359.75 194.96C359.43 194.95 359.13 194.90 358.87 194.82C358.61 194.74 358.38 194.63 358.18 194.47C357.99 194.31 357.81 194.09 357.68 193.87C357.56 193.65 357.47 193.38 357.44 193.13C357.41 192.88 357.44 192.62 357.51 192.36C357.58 192.10 357.70 191.82 357.86 191.54C358.02 191.26 358.22 190.97 358.47 190.69C358.72 190.41 359.01 190.12 359.33 189.83C359.66 189.55 360.01 189.28 360.42 189.00C360.84 188.72 361.34 188.41 361.81 188.15C362.29 187.89 362.81 187.62 363.27 187.42C363.73 187.22 364.15 187.06 364.56 186.94C364.97 186.81 365.37 186.72 365.74 186.66C366.11 186.60 366.46 186.58 366.78 186.59C367.11 186.60 367.40 186.65 367.67 186.73C367.93 186.81 368.16 186.92 368.35 187.08C368.55 187.24 368.73 187.46 368.85 187.68Z" fill="#d6d832"/><path d="M366.59 188.67C366.66 188.80 366.71 188.94 366.73 189.08C366.74 189.22 366.73 189.36 366.69 189.51C366.65 189.65 366.59 189.81 366.50 189.96C366.41 190.11 366.29 190.27 366.16 190.43C366.02 190.59 365.86 190.75 365.68 190.90C365.50 191.06 365.31 191.21 365.08 191.36C364.85 191.52 364.57 191.69 364.31 191.83C364.05 191.98 363.76 192.13 363.50 192.24C363.25 192.35 363.02 192.43 362.79 192.50C362.57 192.57 362.35 192.62 362.14 192.66C361.94 192.69 361.74 192.70 361.56 192.69C361.38 192.69 361.22 192.66 361.08 192.62C360.93 192.57 360.81 192.51 360.70 192.42C360.59 192.34 360.49 192.22 360.42 192.09C360.35 191.97 360.30 191.82 360.29 191.68C360.27 191.55 360.28 191.41 360.32 191.26C360.36 191.11 360.43 190.96 360.52 190.81C360.60 190.65 360.72 190.49 360.85 190.34C360.99 190.18 361.15 190.02 361.33 189.86C361.51 189.71 361.70 189.56 361.93 189.40C362.16 189.25 362.44 189.08 362.70 188.93C362.96 188.79 363.25 188.64 363.51 188.53C363.76 188.42 363.99 188.33 364.22 188.26C364.45 188.19 364.67 188.14 364.87 188.11C365.08 188.08 365.27 188.06 365.45 188.07C365.63 188.08 365.79 188.10 365.94 188.15C366.08 188.19 366.21 188.25 366.32 188.34C366.43 188.43 366.52 188.55 366.59 188.67Z" fill="#f07a22"/></g></g><polygon points="346.4,193.32 377.91,175.5 377.91,193.32 349.49,209.41 344.99,201.76" fill="none" stroke="#3a3a80" stroke-width="0.6" stroke-linejoin="round" opacity="0.8"/><rect x="338.4" y="146.9" width="67.2" height="66.5" fill="none" stroke="#7a7a7a" stroke-width="0.75"/><line x1="338.69" y1="213.4" x2="338.69" y2="214.6" stroke="#666" stroke-width="0.5"/><text x="338.69" y="220.1" font-size="4" text-anchor="middle" fill="#555">0</text><line x1="351.12" y1="213.4" x2="351.12" y2="214.6" stroke="#666" stroke-width="0.5"/><text x="351.12" y="220.1" font-size="4" text-anchor="middle" fill="#555">1</text><line x1="363.93" y1="213.4" x2="363.93" y2="214.6" stroke="#666" stroke-width="0.5"/><text x="363.93" y="220.1" font-size="4" text-anchor="middle" fill="#555">2</text><line x1="376.74" y1="213.4" x2="376.74" y2="214.6" stroke="#666" stroke-width="0.5"/><text x="376.74" y="220.1" font-size="4" text-anchor="middle" fill="#555">3</text><line x1="389.26" y1="213.4" x2="389.26" y2="214.6" stroke="#666" stroke-width="0.5"/><text x="389.26" y="220.1" font-size="4" text-anchor="middle" fill="#555">4</text><line x1="403.06" y1="213.4" x2="403.06" y2="214.6" stroke="#666" stroke-width="0.5"/><text x="403.06" y="220.1" font-size="4" text-anchor="middle" fill="#555">5.2</text><line x1="337.2" y1="149.95" x2="338.4" y2="149.95" stroke="#666" stroke-width="0.5"/><text x="335.8" y="149.95" font-size="3.6" text-anchor="middle" fill="#555" transform="rotate(-90 335.8 149.95)">10<tspan font-size="2.6" dy="-1">4</tspan></text><line x1="337.2" y1="169.59" x2="338.4" y2="169.59" stroke="#666" stroke-width="0.5"/><text x="335.8" y="169.59" font-size="3.6" text-anchor="middle" fill="#555" transform="rotate(-90 335.8 169.59)">10<tspan font-size="2.6" dy="-1">3</tspan></text><line x1="337.2" y1="192.18" x2="338.4" y2="192.18" stroke="#666" stroke-width="0.5"/><text x="335.8" y="192.18" font-size="3.6" text-anchor="middle" fill="#555" transform="rotate(-90 335.8 192.18)">10<tspan font-size="2.6" dy="-1">2</tspan></text><line x1="337.2" y1="212.61" x2="338.4" y2="212.61" stroke="#666" stroke-width="0.5"/><text x="335.8" y="212.61" font-size="3.6" text-anchor="middle" fill="#555" transform="rotate(-90 335.8 212.61)">-10<tspan font-size="2.6" dy="-1">2</tspan></text><text x="382.01" y="168.12" font-size="4.3" fill="#2a9a4a">p-Kap1 +</text><text x="382.82" y="186.74" font-size="4.3" fill="#444">p-Kap1 −</text><text x="325.8" y="177.65" font-size="6.7" text-anchor="middle" fill="#222" stroke="#222" stroke-width="0.1" transform="rotate(-90 325.8 177.65)">p-Kap1 S473</text><text x="372.6" y="229.3" font-size="6.35" text-anchor="middle" fill="#222" stroke="#222" stroke-width="0.1">PI (10<tspan font-size="4.2" dy="-2">5</tspan><tspan dy="2">)</tspan></text><text x="61.6" y="10.7" font-size="7.1" text-anchor="middle" fill="#222" stroke="#222" stroke-width="0.17" font-style="italic">Chek2<tspan font-size="4.2" dy="-2.6">WT</tspan></text><text x="166.5" y="10.7" font-size="7.1" text-anchor="middle" fill="#222" stroke="#222" stroke-width="0.17" font-style="italic">Chek2<tspan font-size="4.2" dy="-2.6">KO</tspan></text><text x="270.5" y="10.9" font-size="7.2" text-anchor="middle" fill="#222" stroke="#222" stroke-width="0.1"><tspan font-style="italic">Chek2</tspan><tspan font-size="4.2" dy="-2.6">KO</tspan><tspan dy="2.6"> + WT </tspan><tspan font-style="italic">CHEK2</tspan></text><line x1="24" y1="124.3" x2="438" y2="124.3" stroke="#666" stroke-width="0.8"/><text x="216.6" y="120.4" font-size="7" text-anchor="middle" fill="#222" stroke="#222" stroke-width="0.1"><tspan font-style="italic">Chek2</tspan><tspan font-size="4.0" dy="-2.4">KO</tspan><tspan dy="2.4"> cells</tspan></text><text x="57.8" y="133.7" font-size="7.3" text-anchor="middle" fill="#222" stroke="#222" stroke-width="0.1">Positive control</text><text x="57.8" y="143" font-size="7.3" text-anchor="middle" fill="#222" stroke="#222" stroke-width="0.1">+WT</text><text x="163" y="133.7" font-size="7.3" text-anchor="middle" fill="#808080" stroke="#808080" stroke-width="0.1">Negative control</text><text x="163" y="143" font-size="7.3" text-anchor="middle" fill="#222" stroke="#222" stroke-width="0.1">+Ev</text><text x="266.6" y="133.7" font-size="7.38" text-anchor="middle" fill="#3aa866" stroke="#3aa866" stroke-width="0.1">Functional/synonymous</text><text x="268.2" y="143" font-size="7.3" text-anchor="middle" fill="#222" stroke="#222" stroke-width="0.1">+H54=</text><text x="372.9" y="133.7" font-size="7.38" text-anchor="middle" fill="#e03a44" stroke="#e03a44" stroke-width="0.1">Damaging/truncating</text><text x="372.2" y="143" font-size="7.3" text-anchor="middle" fill="#222" stroke="#222" stroke-width="0.1">+T367Mfs</text><text x="0.8" y="12.1" font-size="15" fill="#000" font-weight="bold">A</text><text x="0.8" y="120.2" font-size="15" fill="#000" font-weight="bold">B</text><text x="1.3" y="243.7" font-size="15" fill="#000" font-weight="bold">C</text><text x="0.8" y="460" font-size="15" fill="#000" font-weight="bold">D</text><text x="325" y="460" font-size="15" fill="#000" font-weight="bold">E</text><text x="0.8" y="604" font-size="15" fill="#000" font-weight="bold">F</text><text x="178.5" y="604" font-size="15" fill="#000" font-weight="bold">G</text><text x="350" y="604" font-size="15" fill="#000" font-weight="bold">H</text><line x1="37.2" y1="246.25" x2="495.8" y2="246.25" stroke="#707070" stroke-width="0.9" stroke-dasharray="1.1 0.9"/><line x1="37.2" y1="323.85" x2="495.8" y2="323.85" stroke="#707070" stroke-width="0.9" stroke-dasharray="1.1 0.9"/><line x1="37.2" y1="373.56" x2="495.8" y2="373.56" stroke="#707070" stroke-width="0.9" stroke-dasharray="1.1 0.9"/><text x="495.8" y="256" font-size="7.25" text-anchor="end" fill="#3fae5a" stroke="#3fae5a" stroke-width="0.1">Functional</text><text x="495.8" y="333.3" font-size="7.25" text-anchor="end" fill="#f0a050" stroke="#f0a050" stroke-width="0.1">Intermediate</text><text x="495.8" y="383.8" font-size="7.25" text-anchor="end" fill="#e0303a" stroke="#e0303a" stroke-width="0.1">Damaging</text><line x1="36.2" y1="246" x2="36.2" y2="416" stroke="#8a8a8a" stroke-width="1.2"/><line x1="36.2" y1="416" x2="496" y2="416" stroke="#333" stroke-width="0.8"/><line x1="34.2" y1="416" x2="36.2" y2="416" stroke="#444" stroke-width="0.6"/><text x="31" y="418.2" font-size="6.3" text-anchor="end" fill="#222" stroke="#222" stroke-width="0.1">0</text><line x1="34.2" y1="391.75" x2="36.2" y2="391.75" stroke="#444" stroke-width="0.6"/><text x="31" y="393.95" font-size="6.3" text-anchor="end" fill="#222" stroke="#222" stroke-width="0.1">20</text><line x1="34.2" y1="367.5" x2="36.2" y2="367.5" stroke="#444" stroke-width="0.6"/><text x="31" y="369.7" font-size="6.3" text-anchor="end" fill="#222" stroke="#222" stroke-width="0.1">40</text><line x1="34.2" y1="343.25" x2="36.2" y2="343.25" stroke="#444" stroke-width="0.6"/><text x="31" y="345.45" font-size="6.3" text-anchor="end" fill="#222" stroke="#222" stroke-width="0.1">60</text><line x1="34.2" y1="319" x2="36.2" y2="319" stroke="#444" stroke-width="0.6"/><text x="31" y="321.2" font-size="6.3" text-anchor="end" fill="#222" stroke="#222" stroke-width="0.1">80</text><line x1="34.2" y1="294.75" x2="36.2" y2="294.75" stroke="#444" stroke-width="0.6"/><text x="31" y="296.95" font-size="6.3" text-anchor="end" fill="#222" stroke="#222" stroke-width="0.1">100</text><line x1="34.2" y1="270.5" x2="36.2" y2="270.5" stroke="#444" stroke-width="0.6"/><text x="31" y="272.7" font-size="6.3" text-anchor="end" fill="#222" stroke="#222" stroke-width="0.1">120</text><line x1="34.2" y1="246.25" x2="36.2" y2="246.25" stroke="#444" stroke-width="0.6"/><text x="31" y="248.45" font-size="6.3" text-anchor="end" fill="#222" stroke="#222" stroke-width="0.1">140</text><text x="13.9" y="328" font-size="6.9" text-anchor="middle" fill="#222" stroke="#222" stroke-width="0.1" transform="rotate(-90 13.9 328)">Rel. p-Kap1 S473 intensity (%)</text><rect x="37.85" y="294.75" width="3.9" height="121.25" fill="#000" stroke="#000" stroke-width="0.75"/><text x="41.8" y="418.2" font-size="6.4" text-anchor="end" fill="#222" stroke="#222" stroke-width="0.1" transform="rotate(-90 41.8 418.2)">WT</text><line x1="46.54" y1="260.8" x2="46.54" y2="281.41" stroke="#6a6a6a" stroke-width="0.75"/><line x1="45.44" y1="260.8" x2="47.64" y2="260.8" stroke="#333" stroke-width="0.9"/><rect x="44.59" y="281.41" width="3.9" height="134.59" fill="#3d5fa8" stroke="#1a2c5e" stroke-width="0.75"/><text x="48.54" y="418.2" font-size="6.4" text-anchor="end" fill="#222" stroke="#222" stroke-width="0.1" transform="rotate(-90 48.54 418.2)">H371Y</text><line x1="43.24" y1="416" x2="43.24" y2="417.2" stroke="#333" stroke-width="0.5"/><line x1="53.28" y1="256.8" x2="53.28" y2="285.66" stroke="#6a6a6a" stroke-width="0.75"/><line x1="52.18" y1="256.8" x2="54.38" y2="256.8" stroke="#333" stroke-width="0.9"/><rect x="51.33" y="285.66" width="3.9" height="130.34" fill="#22a852" stroke="#0e5828" stroke-width="0.75"/><text x="55.28" y="418.2" font-size="6.4" text-anchor="end" fill="#222" stroke="#222" stroke-width="0.1" transform="rotate(-90 55.28 418.2)">T367=</text><line x1="49.98" y1="416" x2="49.98" y2="417.2" stroke="#333" stroke-width="0.5"/><line x1="60.03" y1="294.39" x2="60.03" y2="298.63" stroke="#6a6a6a" stroke-width="0.75"/><line x1="58.93" y1="294.39" x2="61.13" y2="294.39" stroke="#333" stroke-width="0.9"/><rect x="58.08" y="298.63" width="3.9" height="117.37" fill="#3d5fa8" stroke="#1a2c5e" stroke-width="0.75"/><text x="62.03" y="418.2" font-size="6.4" text-anchor="end" fill="#222" stroke="#222" stroke-width="0.1" transform="rotate(-90 62.03 418.2)">N186H</text><line x1="56.73" y1="416" x2="56.73" y2="417.2" stroke="#333" stroke-width="0.5"/><line x1="66.77" y1="274.74" x2="66.77" y2="298.99" stroke="#6a6a6a" stroke-width="0.75"/><line x1="65.67" y1="274.74" x2="67.87" y2="274.74" stroke="#333" stroke-width="0.9"/><rect x="64.82" y="298.99" width="3.9" height="117.01" fill="#3d5fa8" stroke="#1a2c5e" stroke-width="0.75"/><text x="68.77" y="418.2" font-size="6.4" text-anchor="end" fill="#222" stroke="#222" stroke-width="0.1" transform="rotate(-90 68.77 418.2)">A17S</text><line x1="63.47" y1="416" x2="63.47" y2="417.2" stroke="#333" stroke-width="0.5"/><line x1="73.51" y1="293.78" x2="73.51" y2="299.6" stroke="#6a6a6a" stroke-width="0.75"/><line x1="72.41" y1="293.78" x2="74.61" y2="293.78" stroke="#333" stroke-width="0.9"/><rect x="71.56" y="299.6" width="3.9" height="116.4" fill="#3d5fa8" stroke="#1a2c5e" stroke-width="0.75"/><text x="75.51" y="418.2" font-size="6.4" text-anchor="end" fill="#222" stroke="#222" stroke-width="0.1" transform="rotate(-90 75.51 418.2)">I157T</text><line x1="70.21" y1="416" x2="70.21" y2="417.2" stroke="#333" stroke-width="0.5"/><line x1="80.25" y1="277.77" x2="80.25" y2="299.84" stroke="#6a6a6a" stroke-width="0.75"/><line x1="79.15" y1="277.77" x2="81.35" y2="277.77" stroke="#333" stroke-width="0.9"/><rect x="78.3" y="299.84" width="3.9" height="116.16" fill="#22a852" stroke="#0e5828" stroke-width="0.75"/><text x="82.25" y="418.2" font-size="6.4" text-anchor="end" fill="#222" stroke="#222" stroke-width="0.1" transform="rotate(-90 82.25 418.2)">R474=</text><line x1="76.95" y1="416" x2="76.95" y2="417.2" stroke="#333" stroke-width="0.5"/><line x1="86.99" y1="298.39" x2="86.99" y2="300.81" stroke="#6a6a6a" stroke-width="0.75"/><line x1="85.89" y1="298.39" x2="88.09" y2="298.39" stroke="#333" stroke-width="0.9"/><rect x="85.04" y="300.81" width="3.9" height="115.19" fill="#3d5fa8" stroke="#1a2c5e" stroke-width="0.75"/><text x="88.99" y="418.2" font-size="6.4" text-anchor="end" fill="#222" stroke="#222" stroke-width="0.1" transform="rotate(-90 88.99 418.2)">P509S</text><line x1="83.69" y1="416" x2="83.69" y2="417.2" stroke="#333" stroke-width="0.5"/><line x1="93.74" y1="291.11" x2="93.74" y2="301.42" stroke="#6a6a6a" stroke-width="0.75"/><line x1="92.64" y1="291.11" x2="94.84" y2="291.11" stroke="#333" stroke-width="0.9"/><rect x="91.79" y="301.42" width="3.9" height="114.58" fill="#22a852" stroke="#0e5828" stroke-width="0.75"/><text x="95.74" y="418.2" font-size="6.4" text-anchor="end" fill="#222" stroke="#222" stroke-width="0.1" transform="rotate(-90 95.74 418.2)">H54=</text><line x1="90.44" y1="416" x2="90.44" y2="417.2" stroke="#333" stroke-width="0.5"/><line x1="100.48" y1="277.77" x2="100.48" y2="301.66" stroke="#6a6a6a" stroke-width="0.75"/><line x1="99.38" y1="277.77" x2="101.58" y2="277.77" stroke="#333" stroke-width="0.9"/><rect x="98.53" y="301.66" width="3.9" height="114.34" fill="#22a852" stroke="#0e5828" stroke-width="0.75"/><text x="102.48" y="418.2" font-size="6.4" text-anchor="end" fill="#222" stroke="#222" stroke-width="0.1" transform="rotate(-90 102.48 418.2)">R137=</text><line x1="97.18" y1="416" x2="97.18" y2="417.2" stroke="#333" stroke-width="0.5"/><line x1="107.22" y1="284.44" x2="107.22" y2="303.24" stroke="#6a6a6a" stroke-width="0.75"/><line x1="106.12" y1="284.44" x2="108.32" y2="284.44" stroke="#333" stroke-width="0.9"/><rect x="105.27" y="303.24" width="3.9" height="112.76" fill="#22a852" stroke="#0e5828" stroke-width="0.75"/><text x="109.22" y="418.2" font-size="6.4" text-anchor="end" fill="#222" stroke="#222" stroke-width="0.1" transform="rotate(-90 109.22 418.2)">S435=</text><line x1="103.92" y1="416" x2="103.92" y2="417.2" stroke="#333" stroke-width="0.5"/><line x1="113.96" y1="286.26" x2="113.96" y2="310.51" stroke="#6a6a6a" stroke-width="0.75"/><line x1="112.86" y1="286.26" x2="115.06" y2="286.26" stroke="#333" stroke-width="0.9"/><rect x="112.01" y="310.51" width="3.9" height="105.49" fill="#3d5fa8" stroke="#1a2c5e" stroke-width="0.75"/><text x="115.96" y="418.2" font-size="6.4" text-anchor="end" fill="#222" stroke="#222" stroke-width="0.1" transform="rotate(-90 115.96 418.2)">I157S</text><line x1="110.66" y1="416" x2="110.66" y2="417.2" stroke="#333" stroke-width="0.5"/><line x1="120.7" y1="305.06" x2="120.7" y2="312.33" stroke="#6a6a6a" stroke-width="0.75"/><line x1="119.6" y1="305.06" x2="121.8" y2="305.06" stroke="#333" stroke-width="0.9"/><rect x="118.75" y="312.33" width="3.9" height="103.67" fill="#3d5fa8" stroke="#1a2c5e" stroke-width="0.75"/><text x="122.7" y="418.2" font-size="6.4" text-anchor="end" fill="#222" stroke="#222" stroke-width="0.1" transform="rotate(-90 122.7 418.2)">C243R</text><line x1="117.4" y1="416" x2="117.4" y2="417.2" stroke="#333" stroke-width="0.5"/><line x1="127.45" y1="310.51" x2="127.45" y2="312.94" stroke="#6a6a6a" stroke-width="0.75"/><line x1="126.35" y1="310.51" x2="128.55" y2="310.51" stroke="#333" stroke-width="0.9"/><rect x="125.5" y="312.94" width="3.9" height="103.06" fill="#3d5fa8" stroke="#1a2c5e" stroke-width="0.75"/><text x="129.45" y="418.2" font-size="6.4" text-anchor="end" fill="#222" stroke="#222" stroke-width="0.1" transform="rotate(-90 129.45 418.2)">R180C</text><line x1="124.15" y1="416" x2="124.15" y2="417.2" stroke="#333" stroke-width="0.5"/><line x1="134.19" y1="306.88" x2="134.19" y2="314.76" stroke="#6a6a6a" stroke-width="0.75"/><line x1="133.09" y1="306.88" x2="135.29" y2="306.88" stroke="#333" stroke-width="0.9"/><rect x="132.24" y="314.76" width="3.9" height="101.24" fill="#3d5fa8" stroke="#1a2c5e" stroke-width="0.75"/><text x="136.19" y="418.2" font-size="6.4" text-anchor="end" fill="#222" stroke="#222" stroke-width="0.1" transform="rotate(-90 136.19 418.2)">R181H</text><line x1="130.89" y1="416" x2="130.89" y2="417.2" stroke="#333" stroke-width="0.5"/><line x1="140.93" y1="310.51" x2="140.93" y2="317.79" stroke="#6a6a6a" stroke-width="0.75"/><line x1="139.83" y1="310.51" x2="142.03" y2="310.51" stroke="#333" stroke-width="0.9"/><rect x="138.98" y="317.79" width="3.9" height="98.21" fill="#3d5fa8" stroke="#1a2c5e" stroke-width="0.75"/><text x="142.93" y="418.2" font-size="6.4" text-anchor="end" fill="#222" stroke="#222" stroke-width="0.1" transform="rotate(-90 142.93 418.2)">N446D</text><line x1="137.63" y1="416" x2="137.63" y2="417.2" stroke="#333" stroke-width="0.5"/><line x1="147.67" y1="310.51" x2="147.67" y2="323.24" stroke="#6a6a6a" stroke-width="0.75"/><line x1="146.57" y1="310.51" x2="148.77" y2="310.51" stroke="#333" stroke-width="0.9"/><rect x="145.72" y="323.24" width="3.9" height="92.76" fill="#22a852" stroke="#0e5828" stroke-width="0.75"/><text x="149.67" y="418.2" font-size="6.4" text-anchor="end" fill="#222" stroke="#222" stroke-width="0.1" transform="rotate(-90 149.67 418.2)">I286=</text><line x1="144.37" y1="416" x2="144.37" y2="417.2" stroke="#333" stroke-width="0.5"/><line x1="154.41" y1="321.43" x2="154.41" y2="333.55" stroke="#6a6a6a" stroke-width="0.75"/><line x1="153.31" y1="321.43" x2="155.51" y2="321.43" stroke="#333" stroke-width="0.9"/><rect x="152.46" y="333.55" width="3.9" height="82.45" fill="#3d5fa8" stroke="#1a2c5e" stroke-width="0.75"/><text x="156.41" y="418.2" font-size="6.4" text-anchor="end" fill="#222" stroke="#222" stroke-width="0.1" transform="rotate(-90 156.41 418.2)">V200A</text><line x1="151.11" y1="416" x2="151.11" y2="417.2" stroke="#333" stroke-width="0.5"/><line x1="161.16" y1="326.27" x2="161.16" y2="343.25" stroke="#6a6a6a" stroke-width="0.75"/><line x1="160.06" y1="326.27" x2="162.26" y2="326.27" stroke="#333" stroke-width="0.9"/><rect x="159.21" y="343.25" width="3.9" height="72.75" fill="#d8222a" stroke="#7a1216" stroke-width="0.75"/><text x="163.16" y="418.2" font-size="6.4" text-anchor="end" fill="#222" stroke="#222" stroke-width="0.1" transform="rotate(-90 163.16 418.2)">R519X</text><line x1="157.86" y1="416" x2="157.86" y2="417.2" stroke="#333" stroke-width="0.5"/><line x1="167.9" y1="340.82" x2="167.9" y2="345.07" stroke="#6a6a6a" stroke-width="0.75"/><line x1="166.8" y1="340.82" x2="169" y2="340.82" stroke="#333" stroke-width="0.9"/><rect x="165.95" y="345.07" width="3.9" height="70.93" fill="#3d5fa8" stroke="#1a2c5e" stroke-width="0.75"/><text x="169.9" y="418.2" font-size="6.4" text-anchor="end" fill="#222" stroke="#222" stroke-width="0.1" transform="rotate(-90 169.9 418.2)">E239K</text><line x1="164.6" y1="416" x2="164.6" y2="417.2" stroke="#333" stroke-width="0.5"/><line x1="174.64" y1="338.76" x2="174.64" y2="346.89" stroke="#6a6a6a" stroke-width="0.75"/><line x1="173.54" y1="338.76" x2="175.74" y2="338.76" stroke="#333" stroke-width="0.9"/><rect x="172.69" y="346.89" width="3.9" height="69.11" fill="#3d5fa8" stroke="#1a2c5e" stroke-width="0.75"/><text x="176.64" y="418.2" font-size="6.4" text-anchor="end" fill="#222" stroke="#222" stroke-width="0.1" transform="rotate(-90 176.64 418.2)">K141T</text><line x1="171.34" y1="416" x2="171.34" y2="417.2" stroke="#333" stroke-width="0.5"/><rect x="179.43" y="350.04" width="3.9" height="65.96" fill="#3d5fa8" stroke="#1a2c5e" stroke-width="0.75"/><text x="183.38" y="418.2" font-size="6.4" text-anchor="end" fill="#222" stroke="#222" stroke-width="0.1" transform="rotate(-90 183.38 418.2)">A460T</text><line x1="178.08" y1="416" x2="178.08" y2="417.2" stroke="#333" stroke-width="0.5"/><line x1="188.12" y1="353.19" x2="188.12" y2="359.25" stroke="#6a6a6a" stroke-width="0.75"/><line x1="187.02" y1="353.19" x2="189.22" y2="353.19" stroke="#333" stroke-width="0.9"/><rect x="186.17" y="359.25" width="3.9" height="56.74" fill="#3d5fa8" stroke="#1a2c5e" stroke-width="0.75"/><text x="190.12" y="418.2" font-size="6.4" text-anchor="end" fill="#222" stroke="#222" stroke-width="0.1" transform="rotate(-90 190.12 418.2)">D438Y</text><line x1="184.82" y1="416" x2="184.82" y2="417.2" stroke="#333" stroke-width="0.5"/><line x1="194.87" y1="356.59" x2="194.87" y2="362.65" stroke="#6a6a6a" stroke-width="0.75"/><line x1="193.77" y1="356.59" x2="195.97" y2="356.59" stroke="#333" stroke-width="0.9"/><rect x="192.92" y="362.65" width="3.9" height="53.35" fill="#3d5fa8" stroke="#1a2c5e" stroke-width="0.75"/><text x="196.87" y="418.2" font-size="6.4" text-anchor="end" fill="#222" stroke="#222" stroke-width="0.1" transform="rotate(-90 196.87 418.2)">I448S</text><line x1="191.57" y1="416" x2="191.57" y2="417.2" stroke="#333" stroke-width="0.5"/><line x1="201.61" y1="357.8" x2="201.61" y2="363.86" stroke="#6a6a6a" stroke-width="0.75"/><line x1="200.51" y1="357.8" x2="202.71" y2="357.8" stroke="#333" stroke-width="0.9"/><rect x="199.66" y="363.86" width="3.9" height="52.14" fill="#3d5fa8" stroke="#1a2c5e" stroke-width="0.75"/><text x="203.61" y="418.2" font-size="6.4" text-anchor="end" fill="#222" stroke="#222" stroke-width="0.1" transform="rotate(-90 203.61 418.2)">R521W</text><line x1="198.31" y1="416" x2="198.31" y2="417.2" stroke="#333" stroke-width="0.5"/><line x1="208.35" y1="363.86" x2="208.35" y2="365.07" stroke="#6a6a6a" stroke-width="0.75"/><line x1="207.25" y1="363.86" x2="209.45" y2="363.86" stroke="#333" stroke-width="0.9"/><rect x="206.4" y="365.07" width="3.9" height="50.92" fill="#3d5fa8" stroke="#1a2c5e" stroke-width="0.75"/><text x="210.35" y="418.2" font-size="6.4" text-anchor="end" fill="#222" stroke="#222" stroke-width="0.1" transform="rotate(-90 210.35 418.2)">D203G</text><line x1="205.05" y1="416" x2="205.05" y2="417.2" stroke="#333" stroke-width="0.5"/><line x1="215.09" y1="362.65" x2="215.09" y2="365.8" stroke="#6a6a6a" stroke-width="0.75"/><line x1="213.99" y1="362.65" x2="216.19" y2="362.65" stroke="#333" stroke-width="0.9"/><rect x="213.14" y="365.8" width="3.9" height="50.2" fill="#3d5fa8" stroke="#1a2c5e" stroke-width="0.75"/><text x="217.09" y="418.2" font-size="6.4" text-anchor="end" fill="#222" stroke="#222" stroke-width="0.1" transform="rotate(-90 217.09 418.2)">E64K</text><line x1="211.79" y1="416" x2="211.79" y2="417.2" stroke="#333" stroke-width="0.5"/><line x1="221.83" y1="364.47" x2="221.83" y2="373.81" stroke="#6a6a6a" stroke-width="0.75"/><line x1="220.73" y1="364.47" x2="222.93" y2="364.47" stroke="#333" stroke-width="0.9"/><rect x="219.88" y="373.81" width="3.9" height="42.19" fill="#d8222a" stroke="#7a1216" stroke-width="0.75"/><text x="223.83" y="418.2" font-size="6.4" text-anchor="end" fill="#222" stroke="#222" stroke-width="0.1" transform="rotate(-90 223.83 418.2)">K253X</text><line x1="218.53" y1="416" x2="218.53" y2="417.2" stroke="#333" stroke-width="0.5"/><line x1="228.58" y1="369.93" x2="228.58" y2="377.2" stroke="#6a6a6a" stroke-width="0.75"/><line x1="227.48" y1="369.93" x2="229.68" y2="369.93" stroke="#333" stroke-width="0.9"/><rect x="226.63" y="377.2" width="3.9" height="38.8" fill="#b4b4b4" stroke="#606060" stroke-width="0.75"/><text x="230.58" y="418.2" font-size="6.4" text-anchor="end" fill="#222" stroke="#222" stroke-width="0.1" transform="rotate(-90 230.58 418.2)">Ev-4</text><line x1="225.28" y1="416" x2="225.28" y2="417.2" stroke="#333" stroke-width="0.5"/><line x1="235.32" y1="369.93" x2="235.32" y2="378.05" stroke="#6a6a6a" stroke-width="0.75"/><line x1="234.22" y1="369.93" x2="236.42" y2="369.93" stroke="#333" stroke-width="0.9"/><rect x="233.37" y="378.05" width="3.9" height="37.95" fill="#d8222a" stroke="#7a1216" stroke-width="0.75"/><text x="237.32" y="418.2" font-size="6.4" text-anchor="end" fill="#222" stroke="#222" stroke-width="0.1" transform="rotate(-90 237.32 418.2)">K135Nfs</text><line x1="232.02" y1="416" x2="232.02" y2="417.2" stroke="#333" stroke-width="0.5"/><line x1="242.06" y1="373.56" x2="242.06" y2="379.99" stroke="#6a6a6a" stroke-width="0.75"/><line x1="240.96" y1="373.56" x2="243.16" y2="373.56" stroke="#333" stroke-width="0.9"/><rect x="240.11" y="379.99" width="3.9" height="36.01" fill="#3d5fa8" stroke="#1a2c5e" stroke-width="0.75"/><text x="244.06" y="418.2" font-size="6.4" text-anchor="end" fill="#222" stroke="#222" stroke-width="0.1" transform="rotate(-90 244.06 418.2)">D347A</text><line x1="238.76" y1="416" x2="238.76" y2="417.2" stroke="#333" stroke-width="0.5"/><line x1="248.8" y1="372.96" x2="248.8" y2="381.69" stroke="#6a6a6a" stroke-width="0.75"/><line x1="247.7" y1="372.96" x2="249.9" y2="372.96" stroke="#333" stroke-width="0.9"/><rect x="246.85" y="381.69" width="3.9" height="34.31" fill="#3d5fa8" stroke="#1a2c5e" stroke-width="0.75"/><text x="250.8" y="418.2" font-size="6.4" text-anchor="end" fill="#222" stroke="#222" stroke-width="0.1" transform="rotate(-90 250.8 418.2)">R474L</text><line x1="245.5" y1="416" x2="245.5" y2="417.2" stroke="#333" stroke-width="0.5"/><rect x="253.59" y="381.69" width="3.9" height="34.31" fill="#3d5fa8" stroke="#1a2c5e" stroke-width="0.75"/><text x="257.54" y="418.2" font-size="6.4" text-anchor="end" fill="#222" stroke="#222" stroke-width="0.1" transform="rotate(-90 257.54 418.2)">A247D</text><line x1="252.24" y1="416" x2="252.24" y2="417.2" stroke="#333" stroke-width="0.5"/><line x1="262.29" y1="379.62" x2="262.29" y2="383.63" stroke="#6a6a6a" stroke-width="0.75"/><line x1="261.19" y1="379.62" x2="263.39" y2="379.62" stroke="#333" stroke-width="0.9"/><rect x="260.34" y="383.63" width="3.9" height="32.37" fill="#3d5fa8" stroke="#1a2c5e" stroke-width="0.75"/><text x="264.29" y="418.2" font-size="6.4" text-anchor="end" fill="#222" stroke="#222" stroke-width="0.1" transform="rotate(-90 264.29 418.2)">S412R</text><line x1="258.99" y1="416" x2="258.99" y2="417.2" stroke="#333" stroke-width="0.5"/><line x1="269.03" y1="379.62" x2="269.03" y2="383.75" stroke="#6a6a6a" stroke-width="0.75"/><line x1="267.93" y1="379.62" x2="270.13" y2="379.62" stroke="#333" stroke-width="0.9"/><rect x="267.08" y="383.75" width="3.9" height="32.25" fill="#b4b4b4" stroke="#606060" stroke-width="0.75"/><text x="271.03" y="418.2" font-size="6.4" text-anchor="end" fill="#222" stroke="#222" stroke-width="0.1" transform="rotate(-90 271.03 418.2)">Ev-3</text><line x1="265.73" y1="416" x2="265.73" y2="417.2" stroke="#333" stroke-width="0.5"/><line x1="275.77" y1="382.05" x2="275.77" y2="384.48" stroke="#6a6a6a" stroke-width="0.75"/><line x1="274.67" y1="382.05" x2="276.87" y2="382.05" stroke="#333" stroke-width="0.9"/><rect x="273.82" y="384.48" width="3.9" height="31.52" fill="#3d5fa8" stroke="#1a2c5e" stroke-width="0.75"/><text x="277.77" y="418.2" font-size="6.4" text-anchor="end" fill="#222" stroke="#222" stroke-width="0.1" transform="rotate(-90 277.77 418.2)">L336P</text><line x1="272.47" y1="416" x2="272.47" y2="417.2" stroke="#333" stroke-width="0.5"/><line x1="282.51" y1="382.54" x2="282.51" y2="384.84" stroke="#6a6a6a" stroke-width="0.75"/><line x1="281.41" y1="382.54" x2="283.61" y2="382.54" stroke="#333" stroke-width="0.9"/><rect x="280.56" y="384.84" width="3.9" height="31.16" fill="#3d5fa8" stroke="#1a2c5e" stroke-width="0.75"/><text x="284.51" y="418.2" font-size="6.4" text-anchor="end" fill="#222" stroke="#222" stroke-width="0.1" transform="rotate(-90 284.51 418.2)">K249R</text><line x1="279.21" y1="416" x2="279.21" y2="417.2" stroke="#333" stroke-width="0.5"/><line x1="289.25" y1="378.41" x2="289.25" y2="385.2" stroke="#6a6a6a" stroke-width="0.75"/><line x1="288.15" y1="378.41" x2="290.35" y2="378.41" stroke="#333" stroke-width="0.9"/><rect x="287.3" y="385.2" width="3.9" height="30.8" fill="#3d5fa8" stroke="#1a2c5e" stroke-width="0.75"/><text x="291.25" y="418.2" font-size="6.4" text-anchor="end" fill="#222" stroke="#222" stroke-width="0.1" transform="rotate(-90 291.25 418.2)">F109L</text><line x1="285.95" y1="416" x2="285.95" y2="417.2" stroke="#333" stroke-width="0.5"/><rect x="294.05" y="387.63" width="3.9" height="28.37" fill="#3d5fa8" stroke="#1a2c5e" stroke-width="0.75"/><text x="298" y="418.2" font-size="6.4" text-anchor="end" fill="#222" stroke="#222" stroke-width="0.1" transform="rotate(-90 298 418.2)">G414E</text><line x1="292.7" y1="416" x2="292.7" y2="417.2" stroke="#333" stroke-width="0.5"/><line x1="302.74" y1="385.69" x2="302.74" y2="387.63" stroke="#6a6a6a" stroke-width="0.75"/><line x1="301.64" y1="385.69" x2="303.84" y2="385.69" stroke="#333" stroke-width="0.9"/><rect x="300.79" y="387.63" width="3.9" height="28.37" fill="#3d5fa8" stroke="#1a2c5e" stroke-width="0.75"/><text x="304.74" y="418.2" font-size="6.4" text-anchor="end" fill="#222" stroke="#222" stroke-width="0.1" transform="rotate(-90 304.74 418.2)">E273K</text><line x1="299.44" y1="416" x2="299.44" y2="417.2" stroke="#333" stroke-width="0.5"/><line x1="309.48" y1="387.51" x2="309.48" y2="388.72" stroke="#6a6a6a" stroke-width="0.75"/><line x1="308.38" y1="387.51" x2="310.58" y2="387.51" stroke="#333" stroke-width="0.9"/><rect x="307.53" y="388.72" width="3.9" height="27.28" fill="#3d5fa8" stroke="#1a2c5e" stroke-width="0.75"/><text x="311.48" y="418.2" font-size="6.4" text-anchor="end" fill="#222" stroke="#222" stroke-width="0.1" transform="rotate(-90 311.48 418.2)">P426R</text><line x1="306.18" y1="416" x2="306.18" y2="417.2" stroke="#333" stroke-width="0.5"/><line x1="316.22" y1="384.48" x2="316.22" y2="390.05" stroke="#6a6a6a" stroke-width="0.75"/><line x1="315.12" y1="384.48" x2="317.32" y2="384.48" stroke="#333" stroke-width="0.9"/><rect x="314.27" y="390.05" width="3.9" height="25.95" fill="#d8222a" stroke="#7a1216" stroke-width="0.75"/><text x="318.22" y="418.2" font-size="6.4" text-anchor="end" fill="#222" stroke="#222" stroke-width="0.1" transform="rotate(-90 318.22 418.2)">T367Mfs</text><line x1="312.92" y1="416" x2="312.92" y2="417.2" stroke="#333" stroke-width="0.5"/><line x1="322.96" y1="386.9" x2="322.96" y2="390.05" stroke="#6a6a6a" stroke-width="0.75"/><line x1="321.86" y1="386.9" x2="324.06" y2="386.9" stroke="#333" stroke-width="0.9"/><rect x="321.01" y="390.05" width="3.9" height="25.95" fill="#3d5fa8" stroke="#1a2c5e" stroke-width="0.75"/><text x="324.96" y="418.2" font-size="6.4" text-anchor="end" fill="#222" stroke="#222" stroke-width="0.1" transform="rotate(-90 324.96 418.2)">G167R</text><line x1="319.66" y1="416" x2="319.66" y2="417.2" stroke="#333" stroke-width="0.5"/><line x1="329.71" y1="389.32" x2="329.71" y2="390.78" stroke="#6a6a6a" stroke-width="0.75"/><line x1="328.61" y1="389.32" x2="330.81" y2="389.32" stroke="#333" stroke-width="0.9"/><rect x="327.76" y="390.78" width="3.9" height="25.22" fill="#b4b4b4" stroke="#606060" stroke-width="0.75"/><text x="331.71" y="418.2" font-size="6.4" text-anchor="end" fill="#222" stroke="#222" stroke-width="0.1" transform="rotate(-90 331.71 418.2)">Ev-1</text><line x1="326.41" y1="416" x2="326.41" y2="417.2" stroke="#333" stroke-width="0.5"/><line x1="336.45" y1="389.32" x2="336.45" y2="391.26" stroke="#6a6a6a" stroke-width="0.75"/><line x1="335.35" y1="389.32" x2="337.55" y2="389.32" stroke="#333" stroke-width="0.9"/><rect x="334.5" y="391.26" width="3.9" height="24.73" fill="#3d5fa8" stroke="#1a2c5e" stroke-width="0.75"/><text x="338.45" y="418.2" font-size="6.4" text-anchor="end" fill="#222" stroke="#222" stroke-width="0.1" transform="rotate(-90 338.45 418.2)">W485G</text><line x1="333.15" y1="416" x2="333.15" y2="417.2" stroke="#333" stroke-width="0.5"/><line x1="343.19" y1="390.54" x2="343.19" y2="391.99" stroke="#6a6a6a" stroke-width="0.75"/><line x1="342.09" y1="390.54" x2="344.29" y2="390.54" stroke="#333" stroke-width="0.9"/><rect x="341.24" y="391.99" width="3.9" height="24.01" fill="#3d5fa8" stroke="#1a2c5e" stroke-width="0.75"/><text x="345.19" y="418.2" font-size="6.4" text-anchor="end" fill="#222" stroke="#222" stroke-width="0.1" transform="rotate(-90 345.19 418.2)">G306E</text><line x1="339.89" y1="416" x2="339.89" y2="417.2" stroke="#333" stroke-width="0.5"/><rect x="347.98" y="392.72" width="3.9" height="23.28" fill="#3d5fa8" stroke="#1a2c5e" stroke-width="0.75"/><text x="351.93" y="418.2" font-size="6.4" text-anchor="end" fill="#222" stroke="#222" stroke-width="0.1" transform="rotate(-90 351.93 418.2)">D162G</text><line x1="346.63" y1="416" x2="346.63" y2="417.2" stroke="#333" stroke-width="0.5"/><rect x="354.72" y="394.05" width="3.9" height="21.95" fill="#3d5fa8" stroke="#1a2c5e" stroke-width="0.75"/><text x="358.67" y="418.2" font-size="6.4" text-anchor="end" fill="#222" stroke="#222" stroke-width="0.1" transform="rotate(-90 358.67 418.2)">R117G</text><line x1="353.37" y1="416" x2="353.37" y2="417.2" stroke="#333" stroke-width="0.5"/><line x1="363.42" y1="392.36" x2="363.42" y2="393.69" stroke="#6a6a6a" stroke-width="0.75"/><line x1="362.32" y1="392.36" x2="364.52" y2="392.36" stroke="#333" stroke-width="0.9"/><rect x="361.47" y="393.69" width="3.9" height="22.31" fill="#d8222a" stroke="#7a1216" stroke-width="0.75"/><text x="365.42" y="418.2" font-size="6.4" text-anchor="end" fill="#222" stroke="#222" stroke-width="0.1" transform="rotate(-90 365.42 418.2)">F196Lfs</text><line x1="360.12" y1="416" x2="360.12" y2="417.2" stroke="#333" stroke-width="0.5"/><line x1="370.16" y1="392.96" x2="370.16" y2="396.24" stroke="#6a6a6a" stroke-width="0.75"/><line x1="369.06" y1="392.96" x2="371.26" y2="392.96" stroke="#333" stroke-width="0.9"/><rect x="368.21" y="396.24" width="3.9" height="19.76" fill="#3d5fa8" stroke="#1a2c5e" stroke-width="0.75"/><text x="372.16" y="418.2" font-size="6.4" text-anchor="end" fill="#222" stroke="#222" stroke-width="0.1" transform="rotate(-90 372.16 418.2)">F125S</text><line x1="366.86" y1="416" x2="366.86" y2="417.2" stroke="#333" stroke-width="0.5"/><line x1="376.9" y1="392.96" x2="376.9" y2="396.24" stroke="#6a6a6a" stroke-width="0.75"/><line x1="375.8" y1="392.96" x2="378" y2="392.96" stroke="#333" stroke-width="0.9"/><rect x="374.95" y="396.24" width="3.9" height="19.76" fill="#3d5fa8" stroke="#1a2c5e" stroke-width="0.75"/><text x="378.9" y="418.2" font-size="6.4" text-anchor="end" fill="#222" stroke="#222" stroke-width="0.1" transform="rotate(-90 378.9 418.2)">I160T</text><line x1="373.6" y1="416" x2="373.6" y2="417.2" stroke="#333" stroke-width="0.5"/><line x1="383.64" y1="392.96" x2="383.64" y2="396.24" stroke="#6a6a6a" stroke-width="0.75"/><line x1="382.54" y1="392.96" x2="384.74" y2="392.96" stroke="#333" stroke-width="0.9"/><rect x="381.69" y="396.24" width="3.9" height="19.76" fill="#3d5fa8" stroke="#1a2c5e" stroke-width="0.75"/><text x="385.64" y="418.2" font-size="6.4" text-anchor="end" fill="#222" stroke="#222" stroke-width="0.1" transform="rotate(-90 385.64 418.2)">S140N</text><line x1="380.34" y1="416" x2="380.34" y2="417.2" stroke="#333" stroke-width="0.5"/><line x1="390.38" y1="392.96" x2="390.38" y2="396.24" stroke="#6a6a6a" stroke-width="0.75"/><line x1="389.28" y1="392.96" x2="391.48" y2="392.96" stroke="#333" stroke-width="0.9"/><rect x="388.43" y="396.24" width="3.9" height="19.76" fill="#3d5fa8" stroke="#1a2c5e" stroke-width="0.75"/><text x="392.38" y="418.2" font-size="6.4" text-anchor="end" fill="#222" stroke="#222" stroke-width="0.1" transform="rotate(-90 392.38 418.2)">R145W</text><line x1="387.08" y1="416" x2="387.08" y2="417.2" stroke="#333" stroke-width="0.5"/><line x1="397.13" y1="389.45" x2="397.13" y2="396.24" stroke="#6a6a6a" stroke-width="0.75"/><line x1="396.03" y1="389.45" x2="398.23" y2="389.45" stroke="#333" stroke-width="0.9"/><rect x="395.18" y="396.24" width="3.9" height="19.76" fill="#3d5fa8" stroke="#1a2c5e" stroke-width="0.75"/><text x="399.13" y="418.2" font-size="6.4" text-anchor="end" fill="#222" stroke="#222" stroke-width="0.1" transform="rotate(-90 399.13 418.2)">R474H</text><line x1="393.83" y1="416" x2="393.83" y2="417.2" stroke="#333" stroke-width="0.5"/><line x1="403.87" y1="392.48" x2="403.87" y2="396.96" stroke="#6a6a6a" stroke-width="0.75"/><line x1="402.77" y1="392.48" x2="404.97" y2="392.48" stroke="#333" stroke-width="0.9"/><rect x="401.92" y="396.96" width="3.9" height="19.04" fill="#3d5fa8" stroke="#1a2c5e" stroke-width="0.75"/><text x="405.87" y="418.2" font-size="6.4" text-anchor="end" fill="#222" stroke="#222" stroke-width="0.1" transform="rotate(-90 405.87 418.2)">I251F</text><line x1="400.57" y1="416" x2="400.57" y2="417.2" stroke="#333" stroke-width="0.5"/><line x1="410.61" y1="395.99" x2="410.61" y2="396.96" stroke="#6a6a6a" stroke-width="0.75"/><line x1="409.51" y1="395.99" x2="411.71" y2="395.99" stroke="#333" stroke-width="0.9"/><rect x="408.66" y="396.96" width="3.9" height="19.04" fill="#3d5fa8" stroke="#1a2c5e" stroke-width="0.75"/><text x="412.61" y="418.2" font-size="6.4" text-anchor="end" fill="#222" stroke="#222" stroke-width="0.1" transform="rotate(-90 412.61 418.2)">R346H</text><line x1="407.31" y1="416" x2="407.31" y2="417.2" stroke="#333" stroke-width="0.5"/><rect x="415.4" y="396.96" width="3.9" height="19.04" fill="#b4b4b4" stroke="#606060" stroke-width="0.75"/><text x="419.35" y="418.2" font-size="6.4" text-anchor="end" fill="#222" stroke="#222" stroke-width="0.1" transform="rotate(-90 419.35 418.2)">Ev-2</text><line x1="414.05" y1="416" x2="414.05" y2="417.2" stroke="#333" stroke-width="0.5"/><rect x="422.14" y="398.06" width="3.9" height="17.95" fill="#d8222a" stroke="#7a1216" stroke-width="0.75"/><text x="426.09" y="418.2" font-size="6.4" text-anchor="end" fill="#222" stroke="#222" stroke-width="0.1" transform="rotate(-90 426.09 418.2)">W93fs</text><line x1="420.79" y1="416" x2="420.79" y2="417.2" stroke="#333" stroke-width="0.5"/><line x1="430.84" y1="396.6" x2="430.84" y2="398.78" stroke="#6a6a6a" stroke-width="0.75"/><line x1="429.74" y1="396.6" x2="431.94" y2="396.6" stroke="#333" stroke-width="0.9"/><rect x="428.89" y="398.78" width="3.9" height="17.22" fill="#3d5fa8" stroke="#1a2c5e" stroke-width="0.75"/><text x="432.84" y="418.2" font-size="6.4" text-anchor="end" fill="#222" stroke="#222" stroke-width="0.1" transform="rotate(-90 432.84 418.2)">D409N</text><line x1="427.54" y1="416" x2="427.54" y2="417.2" stroke="#333" stroke-width="0.5"/><line x1="437.58" y1="397.21" x2="437.58" y2="398.78" stroke="#6a6a6a" stroke-width="0.75"/><line x1="436.48" y1="397.21" x2="438.68" y2="397.21" stroke="#333" stroke-width="0.9"/><rect x="435.63" y="398.78" width="3.9" height="17.22" fill="#3d5fa8" stroke="#1a2c5e" stroke-width="0.75"/><text x="439.58" y="418.2" font-size="6.4" text-anchor="end" fill="#222" stroke="#222" stroke-width="0.1" transform="rotate(-90 439.58 418.2)">D347N</text><line x1="434.28" y1="416" x2="434.28" y2="417.2" stroke="#333" stroke-width="0.5"/><line x1="444.32" y1="393.45" x2="444.32" y2="399.27" stroke="#6a6a6a" stroke-width="0.75"/><line x1="443.22" y1="393.45" x2="445.42" y2="393.45" stroke="#333" stroke-width="0.9"/><rect x="442.37" y="399.27" width="3.9" height="16.73" fill="#3d5fa8" stroke="#1a2c5e" stroke-width="0.75"/><text x="446.32" y="418.2" font-size="6.4" text-anchor="end" fill="#222" stroke="#222" stroke-width="0.1" transform="rotate(-90 446.32 418.2)">Y390S</text><line x1="441.02" y1="416" x2="441.02" y2="417.2" stroke="#333" stroke-width="0.5"/><rect x="449.11" y="399.51" width="3.9" height="16.49" fill="#3d5fa8" stroke="#1a2c5e" stroke-width="0.75"/><text x="453.06" y="418.2" font-size="6.4" text-anchor="end" fill="#222" stroke="#222" stroke-width="0.1" transform="rotate(-90 453.06 418.2)">G226S</text><line x1="447.76" y1="416" x2="447.76" y2="417.2" stroke="#333" stroke-width="0.5"/><line x1="457.8" y1="396.24" x2="457.8" y2="399.51" stroke="#6a6a6a" stroke-width="0.75"/><line x1="456.7" y1="396.24" x2="458.9" y2="396.24" stroke="#333" stroke-width="0.9"/><rect x="455.85" y="399.51" width="3.9" height="16.49" fill="#3d5fa8" stroke="#1a2c5e" stroke-width="0.75"/><text x="459.8" y="418.2" font-size="6.4" text-anchor="end" fill="#222" stroke="#222" stroke-width="0.1" transform="rotate(-90 459.8 418.2)">A230P</text><line x1="454.5" y1="416" x2="454.5" y2="417.2" stroke="#333" stroke-width="0.5"/><line x1="464.55" y1="397.81" x2="464.55" y2="399.51" stroke="#6a6a6a" stroke-width="0.75"/><line x1="463.45" y1="397.81" x2="465.65" y2="397.81" stroke="#333" stroke-width="0.9"/><rect x="462.6" y="399.51" width="3.9" height="16.49" fill="#3d5fa8" stroke="#1a2c5e" stroke-width="0.75"/><text x="466.55" y="418.2" font-size="6.4" text-anchor="end" fill="#222" stroke="#222" stroke-width="0.1" transform="rotate(-90 466.55 418.2)">A392V</text><line x1="461.25" y1="416" x2="461.25" y2="417.2" stroke="#333" stroke-width="0.5"/><line x1="471.29" y1="397.33" x2="471.29" y2="400" stroke="#6a6a6a" stroke-width="0.75"/><line x1="470.19" y1="397.33" x2="472.39" y2="397.33" stroke="#333" stroke-width="0.9"/><rect x="469.34" y="400" width="3.9" height="16" fill="#3d5fa8" stroke="#1a2c5e" stroke-width="0.75"/><text x="473.29" y="418.2" font-size="6.4" text-anchor="end" fill="#222" stroke="#222" stroke-width="0.1" transform="rotate(-90 473.29 418.2)">G388R</text><line x1="467.99" y1="416" x2="467.99" y2="417.2" stroke="#333" stroke-width="0.5"/><line x1="478.03" y1="398.54" x2="478.03" y2="400.36" stroke="#6a6a6a" stroke-width="0.75"/><line x1="476.93" y1="398.54" x2="479.13" y2="398.54" stroke="#333" stroke-width="0.9"/><rect x="476.08" y="400.36" width="3.9" height="15.64" fill="#3d5fa8" stroke="#1a2c5e" stroke-width="0.75"/><text x="480.03" y="418.2" font-size="6.4" text-anchor="end" fill="#222" stroke="#222" stroke-width="0.1" transform="rotate(-90 480.03 418.2)">E351D</text><line x1="474.73" y1="416" x2="474.73" y2="417.2" stroke="#333" stroke-width="0.5"/><rect x="482.82" y="400.84" width="3.9" height="15.16" fill="#d8222a" stroke="#7a1216" stroke-width="0.75"/><text x="486.77" y="418.2" font-size="6.4" text-anchor="end" fill="#222" stroke="#222" stroke-width="0.1" transform="rotate(-90 486.77 418.2)">S422fs</text><line x1="481.47" y1="416" x2="481.47" y2="417.2" stroke="#333" stroke-width="0.5"/><line x1="491.51" y1="399.02" x2="491.51" y2="401.45" stroke="#6a6a6a" stroke-width="0.75"/><line x1="490.41" y1="399.02" x2="492.61" y2="399.02" stroke="#333" stroke-width="0.9"/><rect x="489.56" y="401.45" width="3.9" height="14.55" fill="#3a7ab4" stroke="#1a3a5e" stroke-width="0.75"/><text x="493.51" y="418.2" font-size="6.4" text-anchor="end" fill="#222" stroke="#222" stroke-width="0.1" transform="rotate(-90 493.51 418.2)">Y390C</text><line x1="488.21" y1="416" x2="488.21" y2="417.2" stroke="#333" stroke-width="0.5"/><text x="161.16" y="324" font-size="5" text-anchor="middle" fill="#333">*</text><rect x="367.5" y="256.3" width="83" height="58" fill="#fff" stroke="#9a9a9a" stroke-width="0.8" rx="1"/><rect x="375.2" y="263.6" width="3.2" height="3.2" fill="#000" stroke="#000" stroke-width="0.5"/><text x="382" y="267.5" font-size="6.4" fill="#222" stroke="#222" stroke-width="0.1">WT</text><rect x="375.2" y="273.6" width="3.2" height="3.2" fill="#22a852" stroke="#0e5828" stroke-width="0.5"/><text x="382" y="277.5" font-size="6.4" fill="#222" stroke="#222" stroke-width="0.1">Synonymous variant</text><rect x="375.2" y="283.6" width="3.2" height="3.2" fill="#3d5fa8" stroke="#1a2c5e" stroke-width="0.5"/><text x="382" y="287.5" font-size="6.4" fill="#222" stroke="#222" stroke-width="0.1">Missense VUS</text><rect x="375.2" y="293.6" width="3.2" height="3.2" fill="#d8222a" stroke="#7a1216" stroke-width="0.5"/><text x="382" y="297.5" font-size="6.4" fill="#222" stroke="#222" stroke-width="0.1">Truncating variant</text><rect x="375.2" y="303.6" width="3.2" height="3.2" fill="#b4b4b4" stroke="#606060" stroke-width="0.5"/><text x="382" y="307.5" font-size="6.4" fill="#222" stroke="#222" stroke-width="0.1">Empty vector</text></svg></body></html>
